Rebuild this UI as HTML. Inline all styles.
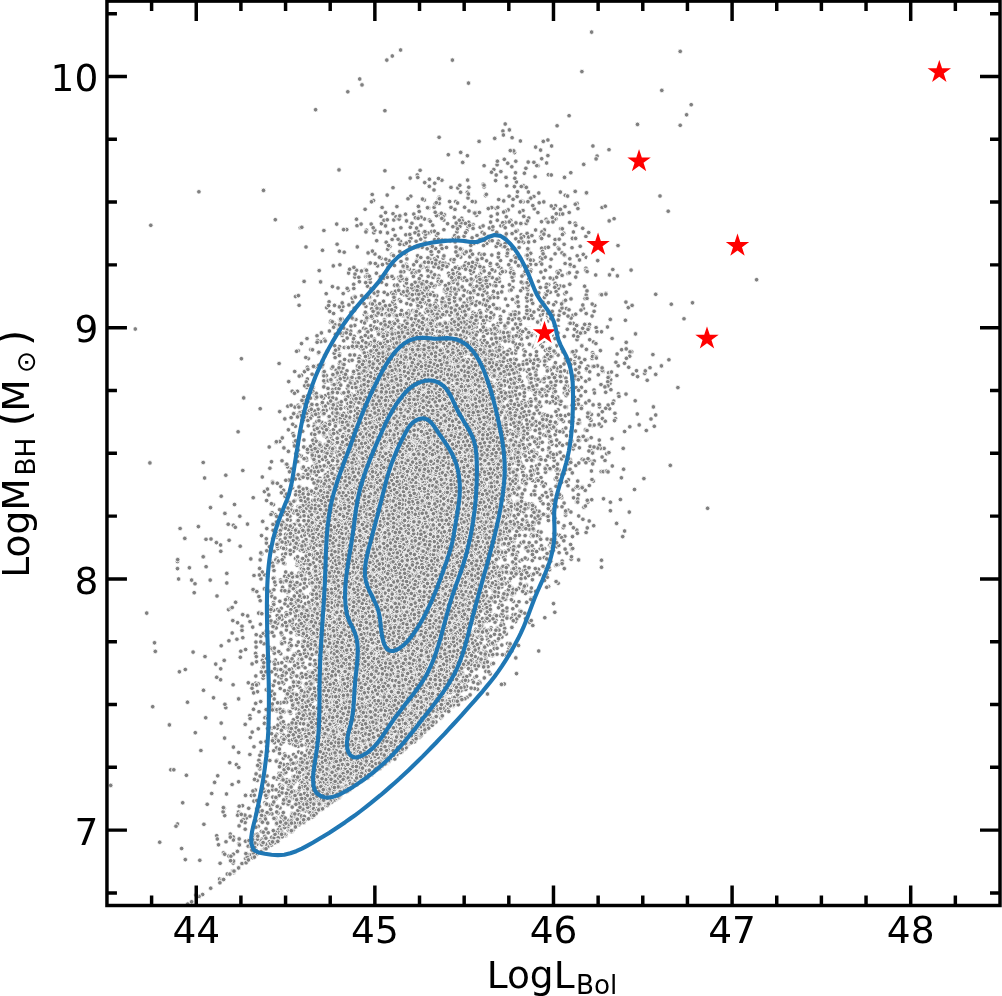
<!DOCTYPE html>
<html lang="en"><head><meta charset="utf-8"><title>LogM_BH vs LogL_Bol</title>
<style>html,body{margin:0;padding:0;background:#fff;overflow:hidden}body{width:1002px;height:996px;position:relative}</style></head>
<body>
<svg width="1002" height="996" viewBox="0 0 1002 996" style="display:block;position:absolute;left:0;top:0">
<rect width="1002" height="996" fill="#fff"/>
<defs><clipPath id="ax"><rect x="106.95" y="1.10" width="893.05" height="904.40"/></clipPath></defs>
<g clip-path="url(#ax)">
<defs><marker id="d" markerWidth="80" markerHeight="80" refX="4" refY="4" markerUnits="userSpaceOnUse" viewBox="0 0 8 8"><circle cx="4" cy="4" r="2.3" fill="#808080" stroke="#fff" stroke-width="0.8"/></marker></defs><polyline transform="scale(0.1)" fill="none" stroke="none" marker-start="url(#d)" marker-mid="url(#d)" marker-end="url(#d)" points="3864,4451 3344,6866 3292,4927 4614,4989 4228,4239 4726,5603 4878,4547 3853,5815 4655,5728 5534,5033 3823,6240 3720,4111 4154,3984 4526,3975 4314,5529 4006,500 4072,4520 4396,6551 3463,6936 3220,6936 4639,3305 4434,5640 3034,4749 3254,7321 3003,2277 3664,5929 4535,6125 4828,5123 4069,4536 3759,5721 3094,7260 6015,5602 4331,5715 3787,3772 4838,6484 3295,6551 3369,4800 4991,3451 5147,4364 4229,7232 4232,4659 3577,5606 4178,4419 3423,5296 4967,4262 4241,5827 3256,7059 5941,3113 3221,6984 4311,4545 4608,4263 4019,5156 3658,7732 4673,4187 3917,6505 3857,4377 3660,6941 4285,4021 4059,3623 3882,7129 2954,4625 3195,6406 4839,5828 3701,4704 4036,5263 3188,4169 3419,7187 4532,4792 4067,3638 4536,4406 4539,5655 4708,4574 3637,3941 4645,3036 3308,5462 5991,4247 3924,4636 4058,7361 3701,7488 3875,4915 2922,8150 4296,4233 3461,5845 3555,6719 5007,4865 3651,4967 4782,6227 3509,6830 3642,6816 4694,5825 3125,6722 4285,3075 4880,3871 4208,4914 4152,6445 4806,3864 4153,5143 3694,6075 4210,4235 4319,3930 3187,7915 3737,5379 3480,7650 4265,5152 3141,7217 3383,5128 5098,4147 3975,6293 5029,3829 4493,4219 5052,4767 4657,4167 3675,6189 3697,4831 3717,4990 4123,5966 4413,3871 3206,7014 5057,2463 5235,5423 2940,7636 3487,5295 3540,6664 4339,6784 4165,5137 6169,3755 5281,2375 4405,6592 4441,4469 6090,1497 4261,5587 3768,5609 5198,5293 3072,6261 3813,4485 4740,4393 3763,6645 3719,7592 3272,3513 3702,6149 4417,3657 3284,7143 3844,3199 4415,6156 4023,6805 3934,5374 4400,5042 3736,6277 4293,1864 4668,4432 4179,5661 3887,5669 3196,5852 4317,7185 3678,4965 3982,6634 3663,7764 4087,5132 3634,6956 4584,4344 3896,4995 3957,6765 3962,4444 4011,6547 3993,4313 5289,4144 5934,4810 3767,4564 3809,5348 3527,4909 3638,6575 3266,5577 4185,6689 4840,3642 5131,4878 4627,5082 3335,6000 5037,5143 4218,5917 4428,5029 3725,7226 3445,5396 4639,5779 4901,5602 5381,1658 3374,7908 4713,2735 4732,4560 4451,3831 4823,4728 4468,6143 4011,4797 4791,4005 3797,6875 3558,5006 3341,3231 2905,7640 3883,6884 3623,7363 3685,6132 4361,6427 4776,5372 3817,6851 4230,6326 3796,6627 4483,3595 4936,5708 3755,5383 4031,5269 4256,3116 3582,7544 4017,3654 3711,5343 4353,5143 3854,5561 4635,4154 5839,5072 5070,6165 4050,6771 4621,4861 4724,5163 4502,3679 5643,5686 4008,3418 4134,3120 4350,4752 3878,6153 3232,5916 4732,5440 4367,4114 4825,5236 3449,5578 4956,3853 3622,3943 3379,5351 3231,4511 3741,6783 2949,4071 4600,4522 4640,3438 3858,4882 4122,4263 3581,5187 4415,4118 3805,6356 3579,6727 2617,8519 4301,4007 4591,6512 3804,4829 4268,5405 4642,6212 4123,3750 4234,5318 3711,5014 3746,4681 4001,5158 5083,5269 4545,5190 4499,4577 3947,4454 4838,6537 4581,4312 3760,4399 3831,5150 3507,5907 3525,5830 4388,5352 3674,4974 4829,5048 4502,2409 4563,6455 3413,7402 4362,4094 3640,6571 4186,2173 4272,3849 3941,6036 4102,4005 4993,2814 3832,5584 4190,5055 3709,2908 4774,6373 4556,3150 4250,2423 3498,5015 4180,2474 5854,4299 4645,5347 3417,5015 3214,6349 3329,7008 3777,4596 5758,4655 5616,4589 4108,7426 5420,2334 3876,5860 3967,4519 5222,2414 3693,5857 3862,4081 4430,4562 3780,3914 4278,4748 4242,5827 4672,6439 3454,7415 4484,5331 4201,6638 3903,4944 3981,6514 3446,4239 4249,5716 3350,5716 4231,3267 4368,4164 4231,4680 4445,5244 4270,6535 3844,4744 2995,4980 3467,4334 3348,7298 3910,3916 4588,4643 5236,2425 3361,7120 3713,7340 4869,4085 5310,2701 3391,5054 5582,5832 3236,6065 3887,5281 3889,6936 4306,6357 3947,6279 4419,4319 4180,2312 4748,4629 4276,6092 4468,3697 2909,4887 3848,6324 4181,4532 3612,6271 3814,5483 4651,5106 4397,7160 3768,6341 3524,6989 3446,3595 4375,5717 4591,4691 2725,4819 3845,7355 3684,6492 3775,7485 3521,5015 1916,9018 4622,5013 3859,7361 4464,5552 3961,7145 4010,4151 4366,5518 4743,3527 4179,7042 4851,5943 5077,1632 2684,7103 4968,4592 3594,5409 3592,6579 4591,6176 4294,6384 3252,4350 2943,7251 2780,6633 4128,7026 3889,5603 4177,4049 2117,7935 4150,3841 4283,4310 4297,6314 3801,5478 5122,5284 3757,5387 5244,1732 3292,6806 4497,4614 3724,3892 3746,6228 4382,3588 3778,7048 4476,4983 3971,4325 3099,5635 4159,4635 4108,5563 3767,6650 3388,7520 3739,4688 3119,5366 3697,6876 2728,5668 3992,4567 4314,6404 3349,7398 4222,6319 3198,6203 3092,7353 4815,2694 3772,6639 3272,7506 4057,6536 4197,7016 3439,4926 3660,7427 3476,5448 4570,5825 5206,4424 3808,5330 4089,5815 3801,4294 5558,5654 3924,6932 4168,4249 4002,3733 4416,4361 3995,6031 4746,4744 3936,4611 3365,5135 3694,6492 4338,3573 3852,4662 4075,4175 3276,7492 3652,2699 4424,6623 5012,4952 3503,5437 4205,6727 5177,5019 3498,7469 3833,6152 4329,4171 3911,7587 3663,5097 4564,6491 4942,4808 4661,5715 4725,6805 3715,7179 4627,3986 3219,6279 3614,6051 5051,2382 3930,6837 3118,7932 4311,5465 2778,5486 3310,6961 3671,5684 3249,4833 3479,7454 2797,4415 3498,5672 3608,6228 3894,6690 3393,6547 3438,7488 4690,4923 4725,5204 5534,5502 3982,5046 3713,3029 3773,4393 3814,5099 5341,5240 3043,4041 3785,7098 3440,5481 3426,7439 5383,4806 3717,6151 3864,4766 3461,7416 4971,5093 3815,6810 4501,4121 3711,7338 5048,6105 4215,4613 4870,5250 5291,2545 3455,7625 2420,6262 4011,3431 4522,5275 4632,5437 3718,5113 3414,5158 4120,3990 4038,5411 3973,4586 3136,4439 3442,6333 3590,5568 3743,6407 4160,6540 3480,4404 5421,4843 4827,4275 4307,6029 3869,4907 3591,4652 3221,7662 3702,6764 4436,4753 3598,6064 5186,4237 3628,3773 3274,7049 3632,6908 3792,6654 3615,6758 3554,6285 3638,5325 5846,2862 3901,6866 3719,7090 3496,6287 4243,3256 3390,4319 3803,7364 3879,5006 5283,4450 3616,4707 3370,7837 3397,4037 4098,6234 3388,4356 3093,6859 3938,2200 3899,3623 3888,7049 3184,7342 4190,6447 4540,5451 3684,7474 4061,5283 5548,3858 3834,7108 4150,2328 3831,5395 3919,6332 3259,6811 3283,6437 4871,4932 3501,4822 5469,5751 4726,5853 4417,5291 3612,4933 4110,5972 3235,7401 4412,4542 4367,3631 4315,5342 3841,6065 4862,6049 3308,6475 3714,6090 5000,5253 3952,3235 4316,4532 4410,6600 3746,6591 4746,5201 4603,5330 4753,4565 3924,4792 4200,4080 3125,4577 3413,5155 4499,6849 4128,5250 4328,4145 4994,4397 2618,5539 4344,5565 3766,4631 4829,5116 3520,7452 3586,5920 3526,7585 2922,7965 3942,3583 4739,3400 3220,6403 4148,4872 2624,6603 3518,5561 4329,6108 4610,3357 4237,4449 4073,5320 5020,3479 4227,6837 3750,6689 4660,5939 3052,8055 4515,4178 3232,5858 5311,5984 3890,5641 4449,7047 3956,4544 4832,4319 4390,6450 4268,4787 4214,6766 4536,5354 4495,6810 3708,6281 3390,7316 4353,5312 3885,4985 4437,6467 4820,4688 4552,5088 3930,2137 2754,6600 4275,4332 4112,5587 4506,5847 3434,7673 4367,3653 3421,5211 4349,4519 4913,4401 4388,2759 4510,4385 3774,5228 4212,4295 4970,3837 5520,3565 2989,6589 4149,5680 5058,4327 3832,4582 4617,6007 4640,4793 4471,3882 2207,6688 4806,4091 3962,4903 3818,3803 5486,5866 4247,6407 4905,4320 4147,5068 2800,8079 3809,4649 4005,6241 4399,3132 4483,5780 3546,5700 4274,5819 3796,3479 4101,6738 4346,5338 4630,3693 2816,5476 3650,4904 3978,3867 3883,4302 5910,4204 3843,6287 4259,3551 3843,6519 4407,4752 3914,6610 3279,5704 3298,7229 4455,6840 3450,7620 3914,4661 4464,5144 4110,5144 5077,4784 3563,7411 3531,5380 3676,3629 3056,6343 3901,4698 4735,6040 3514,3130 4252,6530 5135,5475 5070,5085 3853,4734 4735,4297 3925,3775 4491,6505 3884,5215 3379,7663 4171,5296 3676,5676 3008,5099 4442,4714 4691,3085 3844,5248 3138,5632 4098,4093 5083,3225 3599,7416 4445,5701 4599,5678 3364,5464 4753,4302 3692,4552 4152,3768 4738,3435 3638,6620 3856,6605 3611,4956 4331,5745 4589,5911 4638,3686 2332,8631 3760,6029 3676,6839 4232,4748 5705,3600 4372,4196 4661,4780 4977,6403 3187,6081 3316,4667 4196,6419 3712,4807 3426,6157 3585,6102 3777,4263 5385,5693 4051,5516 4715,3811 4409,5719 2832,7102 4950,5721 3871,6176 3835,5990 5599,2142 3865,4031 4087,5031 3634,4297 3224,7672 4728,5102 3938,4247 3640,5942 5036,4955 4081,5930 3267,5329 3557,7238 3997,4231 5298,4776 4168,7226 4864,6032 4333,4493 4006,4251 3611,5238 4890,4684 3670,6938 4383,6149 4398,4195 3084,4688 5282,1621 4535,5573 4834,3390 3652,4583 4201,5535 4607,4920 3577,7336 4540,4008 3595,6389 3514,6390 3322,6454 5368,4530 4639,4115 3776,4842 3693,7062 3890,6892 4426,4366 5822,4593 4270,6909 3411,6473 3581,5417 4212,3959 3488,5846 4399,5068 4014,5319 3053,5248 4807,6038 5339,5499 4528,4066 3044,5744 4826,5855 4548,4563 4384,2783 3062,7179 3921,7162 5285,4062 4264,4547 3970,7200 3633,7503 4251,4951 4371,5094 4795,4517 3988,5309 4754,4508 4277,5265 3750,6037 4686,6327 3604,6335 4257,6957 4429,5466 4184,4896 3101,7887 4144,7329 4237,3994 4115,5870 3454,7708 3868,6542 3917,2543 4781,5622 2692,4470 3938,6425 4533,6914 4026,5687 3566,3789 3111,6406 3459,4689 3874,6062 4805,5055 3808,4429 4013,3855 3548,7390 3618,4889 4321,6374 5427,4280 4343,5514 4546,6692 3300,6298 4407,4196 3987,6644 3930,1877 4534,5220 3668,5890 3128,4664 3845,3217 4035,4587 3070,6830 4949,5643 3422,5130 3470,5061 3915,5648 4031,6376 4021,5991 3283,7023 4948,3933 3911,6259 3490,4601 3403,4656 4041,6658 4975,4060 4624,4898 3003,5063 3596,7495 4616,4922 4744,3495 3921,4231 4212,4764 3612,7638 3294,6669 4183,6797 2964,7260 4063,6147 3778,6768 4154,5535 3642,6756 2713,6956 4482,3681 4392,4073 3873,3878 3462,6158 4555,2774 3799,6935 4280,6307 4012,5195 4975,5811 3767,5512 3755,5696 3297,5925 4524,6516 4496,4204 3856,5762 4388,3536 3920,3913 3370,5115 3506,6805 4112,5125 3779,5330 4040,6492 4678,5313 3640,5072 4243,3833 4485,5192 4492,5782 2680,8464 5282,3877 4331,5339 4304,5106 4583,5990 3742,6784 3669,4053 4582,2545 5051,2436 5522,4563 5096,4829 4501,3955 4679,4734 4558,5891 3997,4592 4081,6082 4241,4473 3698,6650 3180,7936 4735,4021 4333,4716 5356,5914 4395,4020 3969,6889 3204,4266 2897,5025 3111,4065 3441,7444 4698,5215 3560,5331 4262,6733 4111,6585 4314,4714 5185,6455 3947,4655 3686,4743 4162,5653 5069,4929 4496,2015 3566,7251 3609,6368 3641,6819 4275,4356 2701,7082 4463,5324 6283,3076 2857,7264 3330,5783 4830,3042 3636,5554 5862,2950 3518,5681 4002,5496 4312,6329 4118,3726 3597,6462 2894,8254 5091,4326 3917,7417 3517,5240 4084,3388 2910,5817 4063,3776 2914,8205 3355,5200 2613,7521 4343,6246 5961,3276 4549,3683 4384,4966 4768,5000 3970,5496 2035,5567 3793,3771 4446,5592 2657,8207 4800,3484 4203,5314 3356,5511 4597,5920 4116,6062 4336,6931 3511,4758 3975,5990 4201,4972 3440,7887 3828,7463 4400,5297 2849,6581 3585,4955 3695,4328 4979,3259 4985,4828 3144,6151 3113,7425 4853,3431 4633,5148 5243,4770 3240,7195 3414,7370 3687,5586 4512,3987 3824,5920 3669,6133 4563,3206 3956,4974 4490,5597 4199,7315 3882,3986 3968,6062 4293,3118 2768,7109 3800,5497 4991,4263 4540,5007 4328,4060 4383,2792 4459,4127 4476,4038 4027,3531 4419,5205 3465,5726 4468,6449 3793,4826 4044,5054 4299,3558 2557,6832 3585,5875 3558,7298 4686,3529 4339,4346 3683,6130 3894,7025 3811,4485 4301,6659 3624,6019 3533,3419 5496,5452 4499,7041 4131,6194 3846,6040 3972,5944 3027,7196 4259,6933 3514,5676 2993,4920 3556,7420 3667,7353 3385,7404 3617,4427 3400,5880 3617,7323 3892,7053 3522,5970 3773,5076 3852,5189 3504,7639 3204,5283 3695,3519 4438,6374 3878,6598 3880,4808 2644,5748 3659,4974 5285,5684 4087,5382 2724,6850 3753,6842 4320,5401 4939,5642 4517,5839 3366,5897 4003,6252 4915,3866 5313,5362 4509,2912 4017,7303 4939,4424 4555,4485 3946,6395 4805,4380 3250,4837 2783,7191 4816,3439 3912,6257 2798,6013 3757,5726 3571,4545 2792,7734 3933,6557 4451,5064 3982,4778 3851,4232 3795,4521 3770,3213 4164,4785 4678,6529 4240,3460 4168,5356 3918,3104 3824,5403 4091,5421 4292,6340 3231,3632 3918,6680 3328,3896 4061,3850 4333,5781 3487,6749 3854,4582 4915,4082 3535,7540 3994,3587 3470,6343 3799,5223 4376,5731 3695,7315 3685,4452 4396,5013 4512,4802 4670,3426 3239,7962 3895,5682 4040,5547 2607,7016 3348,6773 3321,5239 4131,6348 4437,4798 4180,6440 3210,8013 3559,7478 3817,6533 4171,4836 4157,3676 4344,2665 3506,6285 3885,7084 4655,4724 4554,3304 3139,7569 4045,7080 4320,4305 4383,6137 4059,5370 4619,3674 5257,4822 3909,4441 3887,6239 3819,3754 3662,4815 3778,5872 3269,6832 3957,5234 3904,6669 3906,3978 4402,5029 3857,6763 3998,5393 3942,3945 2731,5303 3976,4175 3577,4870 3184,3531 4927,4533 4372,5718 4169,4662 4126,5158 4445,5380 4473,3258 3880,3998 3335,7148 5579,4971 3065,3964 3253,5468 4589,4685 4576,6413 4470,4705 3440,6369 3424,6543 4053,6320 4665,3668 4116,6556 2901,6933 4174,5053 4049,6271 3961,4488 3920,4652 3807,6991 3995,6344 4311,4764 4949,5108 4337,6244 4391,4306 5897,4183 1775,5615 3321,4916 4625,4117 4451,5319 3411,6714 4101,4571 4241,6038 3889,6871 4538,6204 5085,6436 4622,3651 3290,6468 3922,7121 3115,8162 4050,4025 3062,7237 3141,7888 4562,4103 3451,3802 4911,6278 3882,7221 3716,4866 3415,4417 4084,4389 4351,5410 4473,6023 3706,6953 3879,4912 3072,8004 2857,5343 4177,6655 3937,5406 3818,7184 4087,4814 4419,5275 4652,5629 4623,6088 4128,5002 3448,4745 4611,3895 3818,5599 3366,5261 4500,3229 6099,3836 4611,6212 4265,5398 6128,2695 4447,5313 3782,6507 4586,2876 4015,5880 3029,7383 4706,3041 3954,3650 3555,6448 4770,4933 4402,4594 3735,7441 4738,3171 3844,6069 3909,6107 3388,5158 3798,4576 4320,5265 4143,6579 4927,4030 2986,6604 4542,4276 3699,7549 3963,3752 3965,4078 4504,6777 3651,6447 3304,7938 4578,6118 3833,6952 3868,7245 4866,5481 4339,6335 3927,4557 3757,4782 4073,4501 4131,7354 4139,6182 4346,4268 3236,5818 3267,6774 4471,4448 5032,3656 4033,4361 3887,5879 4210,6454 3765,6815 4045,5266 3250,4654 4813,4232 3285,7837 3265,7162 4778,4541 3166,6316 3423,4580 4510,6345 3450,6897 3661,5969 4916,4713 4200,5993 3834,7225 5003,5710 3495,6702 4217,4262 3605,7775 3782,6274 4327,6229 4694,5353 3253,6699 4341,2761 4603,5292 4401,5415 4167,5394 4689,5002 3134,6248 3904,7059 6355,3339 4348,6701 4188,6986 4245,7157 4024,5499 3644,5313 6024,4186 3330,7173 4365,5093 3104,8099 5893,4855 3844,6068 3949,3988 3962,3745 4209,4788 3412,5895 3757,6008 4518,6402 4123,4051 6123,4660 4155,7061 4384,3599 3929,6237 3781,6295 4864,6001 4939,4253 3312,5965 4231,7297 3510,7466 3250,7176 4648,4438 3584,4896 2796,8268 3131,8068 3505,6301 3783,5808 4714,3170 3491,7441 5766,5019 4125,5153 3735,2006 3809,5030 4320,5925 3726,5391 4454,5434 3551,5886 3396,6387 3551,6695 5439,3818 3371,5822 3508,4867 4115,5649 3677,6601 3779,5331 3623,7105 3418,3102 4727,2871 4117,5178 3486,5489 4301,6671 4578,3686 3547,5579 3671,7009 4191,7375 4751,3503 3896,4280 4519,5590 3867,6550 3598,4787 4268,6372 3752,5482 4068,6866 4871,3823 3523,5910 3911,4613 3901,6430 3616,6325 4479,6898 3621,5163 4152,7302 4377,5346 4415,4724 5344,4535 3769,6835 4593,5153 4445,4244 4304,4599 4633,3805 4335,5124 4512,3113 3905,3991 3623,5662 5406,3154 4321,5261 3220,5293 3067,7096 3923,2555 3449,5974 4335,3779 4259,4707 3902,3496 4221,5460 4617,4336 3234,7523 3274,6860 4454,4583 3441,5495 2644,4916 4650,5518 3275,3801 3848,7386 4682,6608 5343,5575 3817,3649 3587,4188 3841,4796 3306,6055 3628,6082 4280,4321 3693,4487 3624,3731 4628,5931 4282,5063 3220,7864 4664,3691 4693,4437 4268,3873 4187,4530 3467,2296 3644,3145 2913,5100 3495,4496 4182,6069 4187,5736 5296,4582 4039,6598 3738,3400 5129,4403 4619,4828 4701,4666 5080,5391 4105,4149 3848,6388 4174,4915 2976,6273 4373,4854 3865,4091 3964,5376 3738,7194 3692,7707 3669,6471 4480,4706 4474,4487 3399,6337 4849,3770 3758,3057 4383,5055 5552,4347 3947,5093 3257,7417 4658,4611 4330,6490 4072,3163 4085,6229 5361,5420 4825,3438 4744,5527 4377,5905 3849,7217 4628,5353 4319,5432 3188,4706 4314,5585 4871,4144 3217,7139 4487,6876 4085,5069 3629,7674 3703,6587 3771,7646 3773,4548 3761,7247 3992,6570 3732,6254 3286,7409 3401,5050 4489,4607 6365,3707 3910,4602 4594,3860 4165,4280 4253,5633 5667,5531 4218,6210 5575,3704 4248,6725 2898,6454 4222,3236 3814,5987 3418,4585 4644,4014 3408,4463 4000,4408 4441,6271 4163,5531 4209,4509 5637,4562 3926,5753 3048,8200 5068,3981 3556,6080 3790,4339 4965,4810 4415,5130 5151,5469 4582,3458 4237,5886 3892,5062 4210,5786 3768,4647 4843,4467 3868,4843 4539,5277 4153,6177 2910,7433 2884,8305 3519,4920 4675,6027 3517,6135 4320,4795 4775,6892 3651,4105 4528,5349 4264,4256 4789,5417 4844,4166 4375,5356 4047,2807 2937,7822 3754,4975 3602,5479 5061,6336 4412,3832 3547,7021 5717,5491 5743,3617 3635,7476 3664,6687 4774,5105 1107,7854 4393,4785 4598,5992 4384,5425 3189,5869 4452,4313 4133,6079 3863,5050 4211,3067 3878,5169 3557,5616 3400,5497 4288,6021 3658,5301 3704,5214 4195,3630 3769,5162 3860,4068 3496,5081 4789,6055 4291,5019 2890,7804 4237,5542 3489,5682 3107,6400 4343,5399 1353,3290 2563,8141 3831,7468 4962,5898 3571,5000 2968,7681 4664,5759 3803,4658 4510,4849 4494,5234 3663,6364 3981,5016 4327,5249 3616,4424 3089,6177 3961,6224 4998,3753 3327,4920 4373,5238 3806,6209 4344,5080 4578,1880 4258,5829 4118,6403 4621,5358 5210,4423 5859,2682 3782,5561 4566,6548 4007,3445 3413,7084 4631,6665 3869,6990 3942,6052 4511,6130 3160,7145 4503,4954 4501,5208 5653,1953 4389,4193 4058,5474 4479,3970 5529,4537 3421,6519 4572,4965 4055,4409 4685,5022 3755,6438 3838,2782 4966,4165 4088,5061 4209,6532 4615,3764 4328,4622 4290,5597 3816,6174 3947,5699 5158,6579 4544,2914 4973,5351 4749,5738 4395,3350 3911,5753 3638,7103 5430,3023 4044,6297 4254,4198 3027,4312 4443,7018 4405,6164 4453,4803 4854,3653 3154,4935 4069,4613 4243,4055 4402,5701 3431,6503 3552,4941 2886,5121 4599,5586 5197,4954 3836,6259 4344,5547 4682,4226 3968,4058 3649,7421 3872,5194 4864,4510 5113,4800 4168,5990 4894,5116 3530,6797 4672,4832 3598,7385 5181,4286 3177,6663 4499,5239 3976,3984 4501,6486 5581,4532 3025,5421 3991,3875 3896,6241 2775,6095 4580,4230 3864,6639 4306,6494 3722,5368 3679,7655 4066,3871 3820,7416 2880,8044 2947,3715 2398,5162 2905,7133 4193,5044 3490,4173 4173,3412 4456,6185 3956,5693 3949,4570 2575,6917 3777,4728 4567,3775 4105,3983 3252,6692 5501,4258 5211,5786 3787,4683 4130,7413 3594,5054 3552,7164 4010,6176 3903,6190 4123,7408 4396,5573 5530,2789 5066,4153 3797,5098 3627,6272 4014,7090 4343,4907 4236,7129 3751,6573 3761,5963 4666,5404 4124,5645 4005,5873 4815,3534 3179,7061 4797,4436 4263,4990 5602,2861 3650,7421 3786,7628 4765,2152 4409,7181 3626,5084 3799,5503 4293,5851 3554,7372 3235,3725 4076,5722 3175,5151 4497,5289 5617,4745 2904,5997 3923,3651 3291,3018 3841,7388 4278,6251 3891,4514 4567,6187 3532,7181 4589,6637 3968,4563 3518,6757 4570,6552 3543,7279 3923,4009 4208,7305 4279,6654 3180,7879 3585,5225 4972,6278 4343,6384 3520,4757 4262,5034 3805,6231 4433,6056 3290,5417 4218,6186 4044,6482 3805,5888 3489,7302 4679,4791 4685,4180 4856,2846 4716,3693 3697,6252 3789,7329 4870,5431 4536,4970 4577,5310 3650,5450 4730,3022 3273,5758 3686,7088 4423,5267 3893,6972 4367,6504 4289,6105 3170,7173 4191,5361 4321,4578 5077,5729 4249,2926 5193,5353 3287,7407 3221,4123 4240,6033 3874,7187 3380,5544 3138,5115 4760,5288 4155,5347 3581,4774 3641,6292 4032,4344 3440,5715 4179,5646 3313,7707 3282,7861 1931,6521 4724,2651 3939,6686 4379,3372 2878,4062 3578,7539 2858,5812 4840,3858 3409,5131 5024,6205 4367,6680 6030,3714 4659,3750 4290,3748 4100,6872 4437,5170 3847,6621 4462,5811 3744,4763 4850,6013 4934,4651 4501,3358 3998,4148 4804,5197 3593,6424 2793,8207 4219,6522 3676,5938 4449,4668 4444,4044 3825,6193 5507,3850 5027,5529 3544,4685 3305,3222 4842,3204 4423,5531 4040,5331 4019,3898 3930,6634 3456,7169 4519,4869 3903,4162 3735,6424 3014,6277 4177,3820 3591,5636 3758,4367 5651,2635 3858,6791 5101,5253 3541,6223 3641,5780 2338,8726 3333,5128 3336,5170 3535,6831 3317,3682 2551,8561 2805,8210 3777,4549 5328,4606 5021,4075 4131,6561 5245,4468 3600,6229 3223,6802 3364,5214 3627,7667 5473,5773 3865,4105 4341,2074 4312,6009 3878,5318 3886,4992 4654,4396 3437,7823 4902,2656 4112,6228 4822,3560 3750,6125 3520,4788 4769,4277 4179,3392 4642,5480 4186,4482 4065,3696 3418,4419 3358,4517 3470,5722 3605,5639 3474,4500 4473,5001 3573,5377 4404,5608 4638,6668 3939,5829 3935,4792 4588,6304 3521,5595 4021,6040 4088,7233 3974,4416 4622,2673 4422,5928 3081,6938 3093,5293 3645,5222 4285,4730 2623,4770 4266,6539 3497,7671 3409,4545 4202,7238 2747,6811 3889,6535 4049,5496 3543,6442 3513,7221 4745,3745 4992,5790 3573,6708 4226,6666 2627,5214 4165,5276 4260,3567 4456,3901 3843,5250 4269,5497 4372,6071 4550,4015 6086,3728 4511,5747 4272,6758 3207,6887 3954,6787 4564,3770 5231,2018 2989,7096 3367,6387 2946,7204 4299,4878 4290,4958 4906,4081 3569,5008 4592,6141 3788,5076 3490,7329 4317,4251 5573,4155 4321,6235 3973,5791 4060,6596 4779,3905 4184,5934 5056,4292 4349,4069 4160,5086 3856,4268 3291,7071 4907,3498 4707,4315 3469,5903 5737,3358 5164,4629 3895,5252 2829,5146 3465,6269 4475,5138 5710,4463 3460,4950 3885,3911 3750,5999 4385,6202 4503,5134 3836,5889 3539,4429 3647,7561 3923,5816 3678,4757 3604,5939 3318,6039 3779,7291 3928,7548 3045,5698 3608,6782 4841,6464 4104,7282 3256,7675 4011,4645 5484,5205 3360,7669 3805,6177 4457,3478 4802,2893 4480,4299 3684,6101 2897,5832 3453,4819 4448,5118 4467,4053 4340,5512 4241,5518 4696,5531 4949,3849 3659,3065 4579,5673 4511,5019 3984,3801 3779,5938 3284,4842 4182,5343 4337,4282 1942,5927 5590,3154 3916,6005 4346,6882 4008,6946 3296,7830 4145,4243 3877,4966 4565,3647 4524,7025 4408,6586 4183,5561 3466,6709 4103,5381 4516,4637 4576,3971 4234,4336 4131,5324 3357,7995 4324,4164 4572,4769 3468,5282 4275,5411 3368,5616 4290,4118 4034,7056 4007,5816 4019,3523 3814,6927 3464,6139 3310,7965 4163,6289 4515,2881 3145,4241 4713,5564 4508,6105 4476,4356 5060,4305 4590,4826 4409,4864 5042,3606 4354,5399 2268,5830 3193,6722 5438,4349 4493,3265 4006,6009 3013,5659 2920,7972 4674,4477 5131,1993 4474,5585 2787,7186 4499,6218 3699,6491 3916,5592 2669,7464 3034,8209 3383,5695 4121,6560 4186,6975 3645,5679 3587,6394 3962,6178 4800,5748 3687,5599 5025,5188 4449,5171 4652,4122 3908,5150 3659,5632 3663,7543 4193,4091 4250,3840 3615,7511 4182,5622 5446,3049 4759,5006 4681,5102 4772,5374 4363,5537 4889,6042 3968,3716 3685,7086 4222,3847 3252,7568 4746,6886 3704,3933 4152,5565 3427,4589 4008,3828 3381,6090 2338,8385 4950,4014 3757,3764 4585,5844 3548,4819 3656,5131 3746,6925 3287,5598 3072,6129 5145,1526 5582,3200 4276,5496 3444,6110 3330,6751 3807,4850 3271,5477 4150,7222 4665,4889 3316,7506 4265,6323 4441,3705 2816,6424 4204,5648 4377,6307 3833,5477 3914,4605 3920,7258 3360,7772 3654,5395 4071,5854 4433,4464 6232,4484 3339,5680 3528,6969 4633,5240 4400,7119 4500,5372 4605,5034 3137,7184 3755,5110 3832,6100 3133,7957 3573,6050 4398,5670 5281,2503 4829,5529 4526,4549 3499,7494 3649,6372 5861,5325 2970,5764 3672,6506 4247,3882 4338,6627 3265,7919 3880,4755 3760,4345 4457,3729 3591,5835 3034,6255 4792,5447 3786,3712 4167,6354 3734,7270 3893,5417 4044,6013 4442,4379 4062,5802 3150,4509 4732,4584 3840,7522 4877,6450 3113,7444 3173,7163 3431,4484 4697,4166 3390,6604 4770,3938 4647,4893 3587,5538 3632,4632 4487,4747 4630,4698 5379,3904 3772,2951 2533,5904 2929,5835 5083,5329 3131,3921 4287,5972 3688,6560 4586,6761 4511,5701 3681,2529 3927,5925 4501,2951 5239,4297 4215,2647 1998,8603 3404,5695 4381,5213 3254,4106 2918,6892 4400,6311 4240,5542 5511,4400 4891,4706 4621,4428 3745,5483 3219,4037 2922,7018 5072,4710 3512,5182 4072,3938 4329,5154 3441,6438 3735,5455 4665,5552 3014,4158 3157,7162 3428,4421 3666,6947 4655,5826 4890,5668 3971,6270 3867,7429 3954,5800 3930,6083 3984,4554 4387,6167 3492,6120 3662,5270 4677,6533 3836,7498 4785,5878 4326,6532 4554,5169 3663,4809 4447,4124 3175,7514 4139,7163 4776,2425 4160,5029 3565,7105 3834,5121 4714,4202 4187,3147 4461,4896 3297,7171 4422,4526 3911,5640 3904,6134 4810,5313 3631,6451 3379,5336 4650,4802 4094,6883 3127,7581 4761,6211 4362,4917 3528,7559 4744,4222 5855,3915 3369,5881 4991,4884 3980,6997 3785,6910 4239,4536 2952,7792 2659,8441 3590,5829 5184,3812 4297,4658 4031,3576 4439,4319 3351,3249 4177,5400 3830,7043 2631,8435 2982,4052 3892,6335 3883,5124 4621,3206 3225,5716 4707,3751 3029,8160 3556,5986 3477,5820 4020,6426 2303,8341 4207,5217 4489,5384 3572,5164 4623,5137 3704,6005 4551,5612 3205,5077 4720,6447 4049,4527 3450,6901 3434,4596 5794,4478 4268,5105 4406,4034 4114,5939 3309,7690 4387,4102 2877,6155 4651,2645 4341,4813 5585,4029 3457,5303 4981,5583 3873,6012 3852,6207 3409,5931 3372,6024 3343,6387 3814,7461 4594,5737 3938,4287 4243,6611 4282,4354 4956,4233 4250,4871 3384,5560 4970,4789 3901,3610 3767,4905 3140,4124 4762,3914 4939,6162 4203,5705 4418,4595 4822,4878 3511,6158 4078,5378 4210,7111 4532,4744 2899,8302 2567,8542 4750,5240 4042,4156 4518,6782 4837,3184 3905,5757 3726,7042 3947,6061 4137,4078 4348,6594 4977,4956 3561,7543 4255,3475 3817,4549 4868,3606 4502,6506 2389,8438 5108,5486 3977,6442 3831,7358 4417,3852 3518,6811 4429,5927 3667,5836 4668,4754 3705,7124 3598,6594 3295,6352 5230,5105 3595,4715 3995,6410 3927,6854 3562,4921 3366,7672 3475,7235 4529,3337 3704,6498 4132,3361 3795,5158 4001,5187 4331,5882 4215,6693 5721,3793 2976,7415 4161,6964 4469,4532 4607,5472 3681,7481 4988,3782 5186,4571 4580,4677 4315,6995 4714,4489 5273,5921 3308,5180 4506,4443 4356,3614 3324,7507 3451,5718 4255,6063 3457,4790 4050,4933 3453,5566 3274,5231 3260,6517 3423,7299 3358,5781 3982,6549 3918,6068 3706,7591 4076,6704 3123,6386 5200,6109 3915,6551 3653,4372 3089,7704 5656,5152 3499,7181 3633,5601 4107,6493 3908,4539 3740,7361 3801,3582 3171,6168 3882,4436 5827,3283 3645,4377 4367,2959 3881,6443 4408,4611 4108,5688 4027,4092 4744,4080 3549,5926 3645,6744 4086,3920 4153,5536 3787,7179 4061,2643 3983,5665 4420,5825 5802,2463 5212,2348 3712,4035 3316,6462 4202,7222 4254,3715 4053,5196 4105,7015 3556,6761 3858,6255 4634,5780 4640,4655 3232,7930 4753,3700 4763,5341 4982,3236 4680,6563 4144,5008 3209,7150 4304,4605 2962,5293 4272,6323 4113,4416 4948,4348 3881,6209 4797,4594 4121,3347 2846,6907 2901,5991 4481,3768 4034,5542 4078,3925 3051,7905 5603,4042 4174,6003 3725,6716 4345,4160 3968,4950 4419,6903 3709,5977 4316,4030 4897,5226 4528,6398 3903,4349 3222,6405 3041,7065 4535,4915 3308,6851 3019,5362 3769,5049 4113,5759 3963,7499 4276,2961 4870,3544 4322,5110 4630,3808 3766,6583 4321,4103 4257,5248 5124,5914 3786,4758 4359,4348 3955,5041 3470,6918 2876,4669 4904,5380 3778,3802 4080,3942 4657,5721 3243,6210 3962,5284 4323,5103 4370,4515 4027,6696 4233,4079 4453,6316 3033,6906 5055,4717 4210,3950 4894,4488 5304,2644 3719,6878 4876,3711 4944,3930 3574,5845 3806,5094 3506,6637 4547,5162 4071,3283 3299,5408 5123,5694 3633,4850 2583,7288 4086,5923 3898,7043 3808,6422 4331,5899 3682,4474 4161,4964 4175,5136 4276,5944 4580,2752 3855,5826 4915,3865 3970,5957 4560,6064 5209,2241 3686,7417 5379,4053 3717,4230 3993,5263 2791,5341 5009,3788 3129,5204 4136,5665 4150,6598 3639,7582 3690,7392 4282,4106 3063,5866 4389,4384 3808,3675 4426,5775 4104,5765 3502,4931 3908,3814 4174,4299 4603,4557 4214,6311 4303,6982 4589,5154 3718,4969 4087,5265 4067,4367 3618,6940 3664,5099 5539,3905 4763,5144 4407,3629 3956,5096 4626,6750 3656,7769 3138,6978 3796,6413 3186,7614 4373,5696 3920,4708 4160,7194 4302,6558 3794,5467 4893,6550 3978,4481 6023,3705 3949,5518 2768,7790 2943,5459 4548,5797 4209,4887 3742,6863 3390,6558 4105,4603 3646,7265 4666,4708 3108,7689 3531,5591 4708,5195 3664,5391 2386,7818 3880,5025 4752,6672 3972,4019 5787,4374 3318,7519 4042,6482 4583,4932 4063,5771 2489,8584 4427,4844 4062,2869 4017,4429 3758,4037 3968,6367 3724,6031 4471,5197 3995,3251 3002,5501 3401,5949 3551,4590 4040,7256 3899,4898 3518,7662 3456,5947 3941,7012 3375,4391 3776,6721 3234,5402 3533,7147 3624,6091 4258,6816 3835,5438 3478,7494 4287,6530 3645,3770 2847,5637 2672,7833 3952,6196 4253,6400 3875,4126 4047,5459 2879,6060 4775,6145 4326,4283 4123,5720 3879,6189 4617,6094 3209,3416 3385,3293 4287,5002 4929,4618 3713,4166 4674,5452 2623,5720 3402,7550 4270,3619 3687,6506 4741,6354 4813,4368 3685,4726 4611,5227 3992,6128 3268,7557 4480,7090 3978,5126 4378,5271 5105,4630 4051,5932 2807,6537 3893,5997 3955,6748 4286,6065 3897,5307 3499,5232 4560,5833 3582,6415 3601,4261 4474,5239 4189,3818 4829,3381 3680,4680 5870,4305 4668,5084 3573,6234 3405,7915 4040,4279 4309,5797 4213,5118 4493,6437 3882,5561 4145,6465 4167,5510 4088,5582 4691,4696 4635,5471 4373,7132 4367,4068 3992,5035 4002,5877 3768,4041 4058,6921 4299,3907 3681,6078 4733,3780 4937,6165 3919,3731 3134,5532 3588,5646 4313,6614 4838,4338 3796,3666 4126,6135 4768,4868 4223,4928 4529,3598 2901,5202 4617,5215 3959,6762 3851,6781 4134,6738 4723,5291 3756,7439 4070,5105 5595,5354 4045,5487 3862,6605 4527,6472 4559,6246 4442,6263 4218,6500 4138,5580 4793,6119 4655,4368 4518,3609 3964,5993 3830,5962 4086,7144 3803,7294 4811,4835 3395,7722 3575,6149 4106,6398 3976,4563 4543,4074 4187,4721 5037,5536 4465,5516 3991,6692 4316,4996 4026,4382 3674,6707 3811,4457 4397,5867 3444,6237 3856,7182 4684,4211 4538,4398 4281,5797 4383,4619 3431,7594 3343,7630 3454,6551 3462,5631 4498,3747 3910,4656 4374,3312 4209,2252 4059,3170 4235,4168 3507,7701 3536,6322 5235,2365 4179,4040 3880,5069 4725,4546 3662,4989 2639,6438 3578,7273 4409,3695 4140,5492 4174,4987 3795,4174 3794,3632 4538,6690 4999,6048 5154,4497 4377,4522 3572,7650 3643,4967 3377,4225 4681,4701 4587,5214 3757,6858 3502,4072 4244,2000 4413,6783 2960,8223 3814,5884 4961,5921 3963,7067 3643,7537 3810,4528 4202,6720 3405,4929 4220,6661 2987,7050 3527,6311 4735,5579 4160,5528 4183,4495 4564,6300 4445,6594 4692,5218 3843,4760 3177,6281 5080,2515 4336,5894 3702,3436 4692,3690 4411,5466 5175,4151 3687,4200 3755,7409 4116,7327 3915,6603 3527,5179 3172,7856 3837,4687 4760,4737 3344,7583 3840,4883 3093,3969 4445,3582 4225,4799 2908,6396 5461,4704 5239,5127 4398,4077 4478,5382 3810,4213 4849,5286 4838,4053 3582,4849 3945,5279 4443,6888 3733,7509 4177,5349 3822,5416 3552,4713 3918,7061 5496,4550 3422,6093 2851,7278 4097,4660 3586,7021 2934,7796 4678,3010 4388,6933 4506,6866 4793,3465 4052,4723 4731,4997 3785,5043 3126,6280 3527,6199 4127,6260 4662,4338 3256,5724 3267,4376 4085,7265 4847,5435 4243,5166 3164,6495 3958,6785 3471,4444 3839,6040 4388,6800 3803,7123 4403,2638 3438,5667 4270,5801 4215,6575 3882,2672 3887,5064 3190,7180 3749,2540 4140,4598 4059,4633 4767,3786 3726,4954 3906,5196 4015,6548 3173,4971 3775,4456 5040,4650 4054,6470 3767,5320 3354,7369 3855,4094 4386,4807 4196,3599 4705,4842 4482,5473 4834,3506 4209,6479 4224,4819 4242,6129 4166,3976 4325,6652 3549,6688 4013,6942 5110,2684 4044,4881 3952,6840 4424,3079 3507,6232 3475,7652 4194,6238 4081,5623 4071,7036 3375,6371 4773,4766 3790,4261 3593,6609 2917,7244 3317,7772 4787,6515 3781,4411 3428,6915 3774,5660 2821,5287 3273,7907 4561,4683 3401,6939 4713,5544 3678,7385 3313,7370 3401,6300 5245,4306 3442,7801 3334,7059 4498,4325 5158,4431 4630,4876 3733,4737 4633,5090 4074,6622 4181,6521 4697,3234 4036,6253 3849,5925 3518,6208 4168,5238 3544,6384 3701,4699 3065,6189 3919,6580 3669,7014 3221,5569 4581,3770 4517,6333 4093,6111 3311,6024 4278,6028 3830,5192 4619,6048 3253,4667 4886,3684 3419,6422 4584,6164 3554,7504 4413,3943 4666,4526 3853,3993 3455,7119 4531,7062 4094,2692 3821,5854 3762,7118 5008,5539 5049,5560 3613,5901 4266,5327 3628,6392 3945,3157 3475,6175 3418,5859 4664,5961 3522,7132 4208,6215 3759,6076 4774,4491 4836,5496 3941,6702 4947,4829 3702,6713 5018,5869 3883,7114 3403,7363 4351,3199 4218,4836 3952,6983 4294,4649 5551,2538 4691,4636 4226,4619 5142,4771 4416,4697 3468,7232 3926,3991 4416,5760 3720,5202 4127,5063 4726,5202 3967,3980 3849,5012 3441,6442 3989,4942 4673,5493 3874,6658 3593,7255 3613,4209 3527,3021 4080,5234 4433,5298 4219,4939 3879,7223 5158,1612 4498,5138 4090,5608 4203,3973 3959,5688 4199,6813 4616,5874 3915,5063 4452,6321 3145,5519 3651,4899 4940,5535 3492,6857 3596,4698 3101,6771 4343,6032 3479,7474 4430,6208 4230,2669 3512,4115 4310,3980 3491,7651 4736,4811 4627,6261 4016,4835 4348,4024 4288,4295 3436,6650 2955,8264 4761,4750 4458,4421 4065,4852 4868,4416 5063,6340 2744,8383 4357,3927 3888,5406 4399,5453 3907,6962 4247,6813 4511,4940 4467,4048 3028,8069 3996,4747 4585,4945 4388,4023 4175,4334 3143,7834 4138,6429 4392,4917 4063,4261 3672,5973 4445,5629 3871,3570 3731,6868 3568,7835 4236,7092 3807,5314 4013,6316 3592,7729 3690,5040 3555,4834 4097,6251 3965,6722 4375,3484 3681,7630 4717,4790 4806,6429 4006,4082 4330,6430 4016,5956 2498,8547 3299,4313 4149,4639 4042,6789 4392,1973 4049,6557 3706,5913 4045,6906 3748,3286 4086,6404 4534,6164 4882,6320 4765,5460 4376,4275 3872,4770 2715,5621 3048,6286 4058,2348 3259,4952 4663,6181 4636,4015 4458,4481 3457,5804 4750,4035 3818,6251 3196,5348 4638,5600 4534,4769 3940,4380 4362,5841 3457,5593 4319,4656 3345,4091 3003,6828 3797,5625 4239,5456 4035,3843 3215,5401 5499,5397 5088,2647 3317,7507 4944,5284 3676,6470 3968,7138 4467,4927 4832,4701 4270,7026 3456,7231 3505,5722 4491,5596 3001,5776 4079,4237 4128,7144 3127,6356 3602,5082 4825,6276 3816,4929 4936,5643 4586,4783 3514,3862 3665,2302 2990,6070 5102,4305 3583,5942 3183,6920 3890,7053 4099,4773 3604,7340 3759,4425 4074,6466 3682,4282 3484,7885 4222,7305 3451,5718 4057,7387 4265,4976 5284,2490 3272,6073 3879,4697 3838,7261 4979,3643 3468,5300 4226,5764 4243,4744 4496,6032 4284,3593 3849,4723 4052,6564 4722,3999 4415,7078 4162,4016 3332,7378 3675,2862 6392,4249 4536,5626 3288,7480 4020,4290 4818,5837 5666,4357 3344,6732 5090,6485 5506,3884 4104,5870 4422,6542 4033,5365 3914,6575 3741,5395 5833,3085 4010,3840 6050,4605 5152,4285 3284,4539 4659,4286 3866,4800 4211,4839 2728,7971 5029,5806 4956,5336 4989,3869 3121,3742 3863,6713 4746,5210 3871,6396 3400,6892 4510,6453 4451,4434 3392,4854 4125,6296 3702,7667 3259,7939 3747,7122 5818,3456 4318,5231 4784,5195 3949,6675 3866,6868 4356,4464 3735,4803 5172,5267 3396,3540 4261,4938 4565,4168 3236,5871 4501,5145 4394,4483 3774,5216 4240,4159 4274,5607 4081,4077 4396,6782 4484,3658 3888,4708 5677,3721 3588,6849 4540,4638 3582,7801 4252,4459 2858,8356 4410,6989 4271,5011 4702,3317 3532,4712 3758,6063 4391,6964 4738,3776 3994,5877 3434,6456 3371,6520 4057,2939 3524,5917 3784,3988 3933,7201 3651,4032 3728,3947 4042,4839 4831,4331 4171,4852 5168,3702 3463,5710 6067,4537 4803,4537 4284,4095 3925,5786 3540,6682 4350,3851 4897,5290 2871,7676 4658,2627 4617,3893 4383,4426 3413,7347 3689,4695 3609,7551 4796,3864 3973,7223 4063,3435 4310,4398 3979,5020 4014,3876 4638,4635 3996,5236 4966,4529 4014,3293 3983,4397 4612,4124 5928,4610 4894,4731 3983,5052 3862,4691 4276,3757 4540,5090 3613,7478 4565,4975 4090,6892 3427,4744 3999,7169 4683,4654 3410,5062 3801,5611 4623,4493 3325,4940 3663,3564 4400,5559 4501,5026 4336,5963 3374,4602 3416,5772 4473,6823 3983,4573 3717,5030 4261,7061 4511,4444 4957,4394 3605,7818 3298,4829 3832,4317 4266,7132 4608,5824 3796,5146 4265,6718 4312,4379 6057,2934 3742,5128 3650,4051 4988,3539 4324,4267 4941,4763 4884,3005 4574,4998 4180,4682 3708,5701 3673,7313 4138,4676 3866,4790 4702,5828 3566,6714 3903,4264 4934,4673 3454,4800 3161,5807 3982,4527 4869,3184 3104,5624 4371,6147 4281,6019 3526,3827 4093,5222 4346,3202 3059,5249 4426,4431 4775,4153 4144,4206 4222,5889 3175,7986 5011,4833 3218,7151 4198,6067 3835,5925 4801,6251 4328,6570 4771,3651 5730,3153 4095,4735 3620,5991 4312,4036 2957,7351 4841,2998 3323,5943 4973,3975 2999,4069 4257,5371 5464,4669 3868,601 3461,6047 4626,3738 3540,7713 3897,5168 3416,6844 4067,6289 2942,6042 4363,6067 4006,4579 4656,6200 3149,7195 4338,4816 4415,7111 4180,5724 3820,4958 3641,7659 4605,6562 2741,5777 3870,6399 3905,5925 3670,4275 4595,4439 3736,6307 5439,5672 4211,7023 3448,5785 3819,5689 3868,3764 4072,5084 4593,4382 4170,5859 3199,5635 3991,5499 4097,7013 5895,3244 2836,6836 3345,7178 3628,5533 4034,6934 4852,5455 3512,6044 3375,5131 5567,3995 3004,4963 3554,6921 3133,6241 4792,4511 3518,7873 4473,2968 3640,5784 3853,6084 3184,4423 3575,7428 4162,5241 3923,4267 3746,4233 4803,2868 4283,4062 3156,5100 4937,4992 3223,7831 4420,4765 3776,5226 4070,4837 3780,6636 4308,5117 3666,4485 4535,4340 4681,4193 3576,7000 3452,6867 3994,6571 3740,7186 4654,5707 3526,6059 4604,6129 4562,6823 4899,6056 3900,3653 3935,5400 4289,3839 4033,5126 5676,1961 3890,6067 3892,6654 3680,6164 4638,4051 4218,4600 4057,5910 5278,2488 3446,7837 4805,4884 3852,7256 4404,5326 3691,5670 4611,5609 2953,7327 3780,5427 2943,4423 2752,6267 4091,5853 4108,6206 3225,2503 5188,5236 3705,6096 3270,6103 4374,6057 5198,4529 4153,5471 4653,4564 4179,5636 3403,7958 3141,4263 3866,4386 4881,5129 5306,3992 4001,7455 3223,4860 3413,4012 3344,6107 3450,5040 3826,6500 3276,5587 3867,4281 3927,5800 4123,5571 4427,5403 3467,7374 3624,7804 3454,6376 3305,6427 4160,4495 4645,4601 3640,7627 3740,5646 4921,3181 3494,5487 4158,5744 3946,5796 3982,4637 5058,5360 3284,6217 4402,4153 3669,7687 3728,6542 3911,5128 3382,4726 3542,5955 5222,6128 4673,3753 3735,5771 4036,6835 4003,6339 4151,5029 5365,5130 2792,8378 4202,3934 4297,3103 4445,5563 4070,6740 4040,3415 3825,7515 4808,5433 3823,3958 4640,4657 4283,6001 4461,4494 3350,5671 3946,5663 4253,5607 4474,5293 4305,4098 4735,4312 3897,5828 3582,7602 3906,4988 3863,3958 4128,5910 4317,6784 3276,7742 4748,5323 3402,7096 4321,5646 4066,7247 3735,4615 4487,3317 4445,4131 4603,4953 4026,4892 4456,4634 3810,6604 4384,5777 4452,3782 4689,3855 5115,2703 4858,6581 3781,6908 4835,6072 4194,5052 5399,5583 3669,7274 3589,5833 4041,6508 3670,5380 4146,5885 3563,6037 4683,4841 3186,6402 4642,5829 4033,3912 4320,5199 3337,4977 4829,4176 4275,6014 4575,5710 3980,5727 3546,5730 3437,5617 2880,6251 3896,7317 3626,6541 4755,5310 3903,4214 4260,6758 3873,7223 4068,3036 3133,7940 3698,7610 4217,4358 4435,5124 3776,6325 3608,7770 3262,5025 4910,5351 4564,3531 4086,3889 5454,2478 4224,5409 3934,4041 3848,5555 3971,7376 5655,3588 4588,5930 5111,6469 3924,3874 4229,4692 4739,5111 4058,6305 4170,5216 3851,3790 3918,3380 4105,6821 4598,5884 3616,2715 4129,5338 3609,4681 3981,6931 3606,4170 4018,6484 1894,5678 3926,7488 4730,5158 4965,5425 4552,4462 3241,5384 3596,3563 4317,2734 4247,6619 2258,7077 5443,3578 3235,4555 5643,3930 4441,4339 3985,6718 3446,4265 3218,5261 4616,4021 3939,6011 3826,5101 4537,4138 3148,7280 4573,3800 3993,5501 3991,3718 4951,5099 2711,5615 3607,7496 3594,5530 5176,5523 3957,3349 4395,4636 3970,4343 3590,5063 3776,5215 3539,4751 4294,4251 3363,7040 4005,2160 4189,6312 4814,3535 4780,6169 3934,5686 4782,4980 4762,3270 5176,4751 3946,5874 3533,7017 3473,7402 5770,3397 3798,4864 4639,4553 4340,2667 4188,3309 4254,4946 4877,4561 5350,4813 6689,3598 5385,4227 3337,6380 4492,5178 4980,5512 4792,2538 5123,4087 4140,4883 3595,3887 2879,8266 3905,5775 4421,4825 3999,6408 4141,5464 4018,4199 3538,7594 3395,7478 3066,7345 3313,3800 3421,4537 3380,6330 3236,6905 3737,5738 4176,4244 5277,4394 3953,6006 3485,6003 4504,6228 3188,3523 3676,6401 4085,5782 3051,7656 4263,6328 4350,4365 4694,3925 3211,7760 3896,6351 4229,6204 3284,7929 3787,3775 4501,4106 4233,3805 3841,5901 2956,5584 5504,4692 4335,5831 4432,6204 3441,6643 4700,4430 2923,5247 4823,5341 4385,6381 3816,7125 4119,5818 4041,2445 4777,4245 3631,6634 5724,2384 4676,5735 4257,4700 3685,6278 4313,7095 4682,5182 4465,4439 2556,6534 5066,4625 3331,4453 4950,3721 4756,6005 4486,4472 4251,4198 4464,3970 3445,7791 4286,4042 5570,3812 2696,7331 4878,4420 3365,4746 3328,5730 5795,4229 4349,6927 4549,3489 3238,5701 4025,7274 1816,8485 5218,2413 2733,5783 4344,6684 4088,4923 5070,5060 3992,6316 5368,3851 4933,3744 3971,6577 3383,5152 4678,5565 3940,7203 3430,5664 4031,4899 4804,3732 4711,3439 3807,6946 4051,7074 5169,4755 4271,3996 5040,4718 3741,5872 3030,7704 3422,7764 4750,5028 4265,4264 3206,6286 3948,4331 4911,4101 4292,5993 3877,6188 3729,6673 4181,5403 4467,3488 3993,3722 3530,6342 3471,4681 4628,5740 3802,5542 4317,4092 4413,3339 3081,5535 5020,6053 4410,5290 3994,6153 3995,5559 3906,5411 3197,7693 3782,5498 3258,5813 2621,8505 4988,3865 3162,6444 3318,7198 4239,3781 4100,4980 3982,6013 4325,5385 4456,5904 4315,3563 4244,5654 3582,5052 4925,2294 3529,6543 3704,4318 3918,5032 3592,5830 4813,5997 3645,6978 4001,3613 3649,4647 3960,2168 4912,5235 3106,7443 4010,5750 4423,3039 3977,7323 4352,5779 3632,4989 3649,6963 4011,3976 3777,5438 2999,7706 4218,6325 5620,2529 4583,4705 4572,6811 4296,5781 4017,5499 3263,7093 4395,4089 5143,3695 4352,2038 3939,4937 3922,4144 3231,4674 4373,5162 3849,4317 5014,4301 3928,5233 3638,7421 3466,4711 3394,6039 3911,7097 4344,5042 3444,7511 3596,5770 3583,4428 4963,4857 4115,5921 2677,7938 2890,7112 2761,4425 3363,7278 3096,8069 4389,4785 4828,4593 3714,6384 4820,5539 5077,4061 2898,7430 3973,7380 5077,4713 3784,7270 3798,6598 4027,5771 3420,7484 3291,6573 4356,6371 3907,4676 4408,5254 3620,849 4398,4013 3664,4333 4985,5280 3801,5860 4011,4156 4426,5917 4602,3757 3655,5739 3319,7763 3751,7277 3883,7595 4148,6377 3692,6989 3460,6053 4295,3960 3733,5477 4883,4351 2942,7232 3933,5726 3751,6239 3948,3309 3844,7426 3302,4458 4663,5158 4293,3970 3324,6513 4177,3634 3922,6246 3965,4913 4126,4811 3637,3282 3791,5059 3523,4206 4227,4197 4001,6656 3304,5891 3665,7232 4280,5670 3939,6434 3647,6990 3583,6990 3665,5393 3604,7717 3843,4575 3323,6584 3834,4075 3600,6957 4156,4505 4408,6725 3409,7365 3456,5919 4523,3720 4301,6898 3674,4628 3136,5000 3521,3958 4825,2791 3828,6665 3694,4029 3161,6424 5849,3325 4988,2784 3844,6738 3407,7491 3804,6929 4332,6421 4645,5137 4863,4100 2514,7955 2999,6085 3601,6707 4383,4143 4778,5957 3334,4601 4313,4565 4162,4382 3715,3835 3417,5215 4094,7013 3885,5725 5032,4470 4666,6508 5092,4987 3536,7712 5539,3928 4370,4403 4533,3257 3724,4694 3335,5892 4374,6031 4524,5531 3913,5224 2919,8190 4095,7298 4656,5724 4494,3997 3705,4825 4699,3444 4401,6362 3710,5366 4666,2653 4449,4999 3119,6359 5604,1921 3810,5873 4246,4347 4492,5662 4849,5995 3422,5077 3581,6225 4180,3929 3227,6802 3138,7944 4608,5442 4789,3676 4018,4236 3718,5715 3251,5315 3810,5639 4108,7107 5054,2359 3170,3358 5371,4790 4923,4486 3995,6467 2760,6747 3368,7345 4993,4283 3898,7222 4280,5608 4226,6223 5203,4311 5131,2808 4214,4915 4708,3532 3688,5811 4271,5345 4043,5926 4658,4135 3899,4859 3968,4349 4146,2877 3985,5320 3434,6973 4078,3949 4557,3074 4473,4714 3898,6711 4133,5197 3134,6478 4000,6546 4924,3309 2961,8025 4461,4344 3513,7616 4012,4706 3686,5462 4252,4482 3799,5494 3675,6167 3399,4537 3129,7825 3981,2862 3831,6245 3181,6691 4428,5892 5034,3369 3713,3971 4803,3555 4757,4432 3927,6645 4650,4679 4414,6987 3326,6620 4107,6790 3612,5755 4858,5306 4025,6064 4271,3709 3217,6755 3300,4940 4353,5955 3070,7456 4662,3429 3775,3502 3808,4728 3215,7001 4195,4016 3515,6993 3307,8013 4160,6505 3916,4419 5348,3938 3254,7707 4165,7171 4332,4179 3707,5613 3574,5837 2981,7338 4752,4911 5582,2885 4559,4520 3240,4356 4209,6530 3944,4218 5790,3579 3407,7018 4504,3854 3491,6860 3708,4503 5001,5791 4020,5529 4294,4770 6529,3546 5101,5725 3673,7282 3493,6987 4684,5094 4633,4414 4290,2333 3677,6233 4220,3852 3678,5904 3377,5830 5063,2339 3284,8037 6121,3385 4140,3592 5392,5137 5211,6115 2811,7734 4654,4499 4880,6667 3493,7164 3759,5053 2929,7013 4444,5871 4548,5190 4138,3767 4482,6091 4240,5346 4576,5671 4329,4065 4197,3140 5072,3804 4544,4952 4411,5069 4406,5754 4471,5860 4356,5025 4796,4231 3158,7553 4973,2202 4125,4996 4512,4914 4010,6812 4292,5903 4489,4979 3668,5780 4438,6508 4781,2416 3271,7556 5029,1310 3346,7737 3908,4345 4614,4200 3996,5423 3554,6615 4499,6231 4250,3028 3330,7258 4260,3250 3661,3615 3377,4986 3831,6434 4726,3860 3561,5664 3841,5730 4863,4351 4906,2221 4698,3831 4820,4306 3658,7227 3158,6139 3989,7077 3634,6102 3627,4559 4149,4344 3737,6611 4508,4346 3589,5313 5040,4994 3635,4041 4664,4788 4272,4394 3215,5789 3187,6865 3859,7432 2991,7764 4041,3877 4569,2319 3953,5684 3436,6528 4418,5122 5099,4022 3941,5480 4829,3698 4984,2412 3968,7381 3375,4880 4689,5265 3641,5289 3568,6733 3569,7288 3900,7176 4154,4938 4158,3396 5289,2744 3873,4074 3805,6521 3464,4832 4459,5528 5498,4026 5009,3399 4091,7420 4289,5076 4640,5329 3680,5417 3972,4713 4326,4062 4771,4483 3677,7632 4334,6165 4559,6032 4444,6265 5173,5060 3516,7678 4129,6085 3761,6791 2859,6593 4837,6067 5519,4443 4100,7247 4405,6186 4723,5817 4261,6655 4549,3512 3481,6802 5080,3711 4233,4565 5213,5098 3593,7283 5731,4899 3740,4457 5024,2247 3952,6074 4119,6125 4357,4819 3523,3818 3868,7342 4077,5034 3231,6427 3699,6173 4171,5234 4222,3162 4044,5180 3401,6304 4164,4887 4746,4914 4779,4727 4055,4128 3560,7132 3247,7500 3586,7746 4074,7252 4052,5838 4190,3315 4137,5708 2945,6282 4281,5665 4797,4766 3883,7361 3269,7354 3854,5503 3440,6043 4474,2850 4372,5181 4377,3550 3705,7580 4021,4502 4414,6712 3810,3932 3710,7190 4210,6395 3974,6121 4680,3297 3914,6903 4315,2475 3822,5041 4170,4542 3911,5254 3368,5508 3676,5359 3096,5614 4478,3032 3725,7667 4374,5702 4982,4392 4590,5307 4190,5028 3625,5089 3487,5647 3775,4710 4194,6263 2739,7086 4925,5140 3653,5066 4158,5330 3949,4715 3941,4304 3870,4593 3694,6029 2878,5977 3820,7066 3548,3254 3419,5284 4747,5450 2945,6541 2704,8047 3221,7805 3199,7114 4630,5901 5009,2258 3610,4298 3902,4835 3484,4143 4693,4013 4059,5483 3330,6666 4778,5822 3653,4248 2465,8179 3787,6463 3650,5413 4151,4553 4717,5601 4502,5370 3413,6785 4266,4438 3792,5363 3529,5445 4469,4646 3825,5353 3588,7763 3636,5111 3624,6070 5076,5228 3462,6419 3393,4902 3500,7483 3634,6124 5252,5267 4683,4948 4548,5248 4699,6312 4167,5070 4011,3713 4365,3720 4147,5030 3679,5439 4216,5404 4919,4374 4441,5140 3866,4529 3923,4126 4605,3876 3669,6143 4018,5177 4184,5192 4161,2413 3442,7045 3620,6726 3961,5684 3453,6777 3442,4879 4109,2382 4539,5042 5131,6148 4166,6793 3954,5738 3882,6082 3555,7308 4333,5014 3923,4855 3723,4773 3427,7754 3409,5951 3348,3246 4369,6709 3807,7332 3827,4843 3138,5644 3233,6815 5390,5368 3535,7062 3700,4635 3198,6915 3948,3326 3861,5605 3477,4211 3485,4541 4703,6687 3739,4689 4448,6695 4507,5449 3073,5058 4866,5469 4226,5978 4471,4039 4708,3748 3996,3963 4073,3664 4539,4631 2857,8345 3388,6822 4294,6099 3274,5748 4331,4566 4041,6586 4575,4747 4146,6684 5253,5705 5889,4602 3259,8055 4004,5929 4340,4727 4329,5091 3855,5737 3414,6872 5234,5208 4121,6682 3060,7063 4590,5743 4496,5923 5206,5112 3623,5045 3364,5339 4244,7114 3839,7205 3382,4341 4596,6567 3439,5279 2820,6257 4323,5243 2986,6283 4946,3348 3559,5467 4229,5406 4335,4691 4147,3993 3969,3342 4387,4735 4319,4075 3883,6459 2729,6097 4862,4932 4448,5595 4253,4566 4018,6655 3358,6045 4657,6824 4041,7381 3640,3037 4311,3326 3306,7967 3626,4795 5712,5592 4433,6288 3879,7343 3652,7346 3236,6005 3489,4441 4667,4966 4268,4381 5239,3697 2540,7468 3979,7150 4233,7278 5336,4502 3590,6933 3724,6318 4533,4955 4267,6318 3818,4972 4131,4360 2980,6006 5199,4429 4365,5600 3716,5344 3782,6460 3844,4247 5358,4208 4112,7236 4014,7054 3396,3467 3795,5798 4408,6200 4321,5147 4146,4216 3343,7847 3114,6234 3510,7877 4128,6673 3718,5905 4064,5758 4050,3425 5105,5040 2754,7411 4486,6544 4746,5556 4236,6484 3569,5985 3196,7004 4286,6424 4776,4501 4086,3897 3647,4374 4491,4085 3282,4726 4054,7275 3790,6329 5011,5195 4111,3517 3643,7045 3974,5176 4470,6700 3753,4292 3865,6631 4402,3700 4815,5143 4003,4615 4187,5988 3880,5422 4692,3953 5694,3905 2811,7440 4397,3759 3951,5157 3530,6010 3654,6994 4048,4500 4068,4759 4634,5487 4731,5492 4443,4793 3301,7740 6006,2945 3515,4986 3854,5779 4651,6259 4540,5662 4228,5222 3939,5914 3824,4766 4502,5188 4630,6897 3645,7342 4556,5661 3932,5155 4486,5524 5783,4947 4169,3454 4047,6230 4586,5798 5510,5467 4020,5098 3805,7111 4547,5188 4287,4553 3781,6898 2900,5890 3927,6517 3776,6276 4276,2710 4971,1648 3891,6877 3541,5795 4190,4032 3863,5656 3774,4226 5487,2846 4128,5875 3890,5445 3284,7884 3918,5304 4013,7504 3431,6596 3863,6130 4625,5441 3973,5997 2035,6903 5013,4916 4301,6249 3886,3627 3608,4862 4061,6823 3850,6735 3993,6678 4192,3427 4337,4196 4134,6169 4418,5640 4098,6116 4751,4878 3800,5400 4449,4997 4542,4348 2420,8635 5237,5115 2331,6848 4814,4803 3862,5938 3765,5745 3996,6259 3776,5740 3854,7358 4377,3574 3767,6174 3796,4862 4216,6112 3733,3567 4017,6642 2950,6936 4198,6502 4750,3642 4634,3962 4362,4444 4551,2419 3370,6521 4441,5636 4491,4104 3364,5643 4161,5136 3421,7519 3617,5066 3546,5933 5011,2685 3507,5037 4303,4180 4271,5189 4478,4649 5098,4085 4178,6055 3479,4514 4254,5450 4303,7063 3471,4762 3610,6678 5005,5076 4784,3656 4256,4302 4287,4126 4443,6124 3678,5641 4541,4611 3739,6320 4280,4121 3396,5466 3398,6110 3141,4116 3393,5823 3189,5273 3200,6624 4751,6772 4013,5408 4224,5211 3940,4913 4558,6770 3675,5969 4834,3721 3660,3292 4261,6892 3019,6581 3977,5996 4015,4716 3849,6130 3941,4332 3724,4102 3287,8031 3304,7021 4619,4483 3733,7165 5851,2986 5493,4517 4604,4035 4561,3485 2720,7282 3575,5888 4502,7053 3483,4356 4650,4135 3943,6405 4775,5998 3838,6232 4687,2222 4139,6739 4140,5112 4011,3626 4270,6742 4465,5827 5703,3622 3656,4920 4199,6759 4133,4316 4994,3403 4954,5398 4585,4435 3032,6155 3300,6780 3719,4837 3937,5316 3947,2957 3828,6241 3470,5898 3837,6026 3353,6446 4511,4131 3982,6249 3929,5600 4938,1695 3689,5353 4076,5023 3790,5063 4476,2237 3985,5466 4380,3401 4419,1802 3841,4838 3871,5885 4793,4637 2829,8240 4071,4962 4149,5590 4103,6326 4102,4056 5466,1630 3329,5663 4507,3917 3289,7236 3611,6729 5714,3885 4286,5090 4306,5692 3771,6177 5016,4311 4369,5889 3927,4626 4831,3515 4550,3550 3641,7179 4099,6317 4186,3314 3962,6348 4601,4537 4846,4949 5018,5098 4159,4346 4084,6034 3453,6841 5220,4029 4475,4996 3267,3077 3629,4533 5012,4895 4346,6580 2558,8501 4747,3157 4365,4502 4006,6629 3785,5715 4636,5001 1794,6718 4933,3865 4001,5965 4637,3852 4221,4802 3840,7618 4024,3727 3282,7694 3929,3976 3502,4732 3756,6705 3328,5826 4435,5799 5303,3548 3452,6344 3930,6248 4722,4441 4037,3811 5520,3682 3158,5426 4259,4739 3980,5465 3342,6943 4487,5072 3598,6495 3603,7249 3300,7261 5154,5088 4348,5672 4066,7318 4620,3740 4160,6774 4355,5642 2978,7617 3978,6672 4578,5298 3325,7001 4161,4852 4805,4206 3794,4552 3745,7085 4674,1923 3097,5723 4103,2273 2321,7845 4681,3305 3996,4813 3499,4571 4740,2887 4069,4968 4158,7002 4230,4094 4015,4907 2648,8362 5009,4531 4124,4535 3348,5551 4695,4894 3043,7887 4405,5863 4377,5124 4154,3136 3280,7643 4118,6354 4584,7014 3921,3335 4647,4080 4580,4422 3978,5224 5010,5164 4987,5720 4305,5176 4737,3322 4399,4038 3985,6184 4180,7073 3854,3982 3274,6608 3687,5665 4151,3178 4861,3481 4544,4959 4446,4360 3403,5107 4498,5150 5102,4017 3073,5535 4926,4044 3466,7713 3773,5203 5000,4480 3889,5817 3205,5793 4494,6267 2845,6422 4599,5036 3463,4966 4114,5571 4462,6194 4101,5392 4172,6646 4072,4077 4312,6109 3732,7502 4339,2747 4512,3798 4198,6604 6017,2948 3560,3857 4310,5702 3511,5177 3822,4544 5433,1414 4160,4466 4025,4285 4431,4485 4909,3965 3691,4230 3502,5395 3891,7275 3214,5405 3563,5716 4411,4486 4697,3906 4798,4882 4776,5189 4221,7096 3456,6287 3624,7658 4562,3911 3824,7036 3851,3401 4433,4229 3182,5208 4611,4761 4643,5401 3959,5450 5176,3948 4409,3938 4070,4658 3865,5760 3824,6377 3865,7180 4267,5096 3414,7495 3575,4098 4490,5761 3672,5965 3554,4751 5356,3726 4657,4500 3524,7035 3879,5435 3613,5688 4742,5256 4705,4437 4605,4372 4870,3325 4183,6427 3898,4371 4054,4184 3946,5690 4349,5970 4276,5239 4051,6834 2816,7322 2739,6360 3219,7515 3394,2512 4156,3999 3783,3344 3981,6675 3429,6758 4064,4646 4942,4884 4743,3458 3649,4213 3878,6039 3478,5899 3362,4828 3757,6571 3557,5030 4703,4258 4138,2141 3878,5918 3834,4457 4269,5742 3664,6248 3896,6365 3240,6019 5648,2555 3342,5658 4788,3533 5141,4483 3875,5885 4577,4853 5041,5345 4401,5361 4261,6366 4733,5511 3120,7570 3505,6137 4344,4053 3912,6949 4466,4676 4800,6362 4287,6038 3553,5723 3709,7594 3620,5128 2817,7663 4039,4182 4639,6419 3734,3756 4911,2163 3889,6998 5205,5063 3896,5658 5028,4108 4046,6442 4633,4741 3141,5469 3683,5802 4303,5226 5228,2884 3214,5233 5005,2605 4007,6325 3637,6234 4031,4367 4680,4430 3326,3842 3625,5984 3812,6248 3199,7770 4696,6240 3362,3886 3846,5414 3730,6117 3490,5254 4243,4757 4086,3905 4760,5397 4412,6141 3894,5633 3778,6089 4135,6650 3739,3030 5027,4853 3063,6864 2884,4298 3652,6289 3976,3988 4041,3904 3982,7245 4467,4943 4572,4387 3324,5771 3131,5034 5140,5938 4319,4678 4682,2667 4340,4658 4705,5301 4604,5088 3877,4885 4632,5235 3942,4745 4540,5255 3376,5238 3442,2522 3151,7340 4920,3332 4759,3956 4126,6549 4207,7323 3344,6082 4446,4386 3996,5668 5356,2300 4649,4319 4164,4979 3726,4652 3025,7980 4674,3153 4050,4516 3993,4604 4041,5060 3995,6885 4430,5467 3440,6270 4253,5147 5144,4415 3649,6796 3648,6157 4701,5322 3917,4987 4198,4931 4354,4494 4404,6238 4064,6390 4311,5232 4700,4891 4463,6395 3059,6507 4344,4079 4145,4679 4177,3866 3540,7607 4586,6111 3400,5686 4139,5458 4687,6118 4738,4907 3820,5754 4607,5964 3226,6520 4840,4755 4848,5525 4679,2991 3381,7052 3476,5610 4317,5481 4488,6930 4733,3441 3552,6782 3627,4093 3165,8113 3098,7643 4289,7252 4040,6886 5754,3565 3021,6085 4123,5438 4858,3667 3481,5341 3176,6645 4718,5375 4028,6600 4664,3149 4062,5710 5014,3576 3933,4992 3571,7553 3302,5808 4594,2493 4177,3710 5026,4733 4335,6222 3340,5671 4944,4963 3430,7489 4183,4013 4257,5644 4681,4686 3689,7284 4650,3599 4532,5688 4359,5380 3816,5977 3892,3769 4363,6946 5654,4157 3395,7905 2610,7931 3675,5167 3570,4742 3962,7544 5061,6106 4991,3086 4103,4672 3926,6828 4206,4547 3558,7203 4074,4426 3941,4742 4505,4054 3863,6101 4016,5116 3534,5846 3406,5937 4273,4181 2766,7493 3473,4725 3621,6471 3091,5486 3715,7004 3645,6058 4188,5579 4135,5286 3359,5516 3850,4343 4657,5463 4592,3965 4647,5485 4079,3780 4256,4139 3854,4034 4139,2705 4048,4909 3402,7297 4878,5055 4063,4983 3699,3794 3466,7262 3621,5399 3885,3559 4721,3637 4949,4468 3155,5758 3685,6482 3767,6602 5083,3375 2364,7646 3935,5379 5058,5919 4330,5078 4761,3996 5158,2388 4029,4186 4559,4103 4183,5223 3502,6415 4234,4199 3941,7125 3216,8082 3775,6612 3684,3373 3305,7597 4188,5066 3772,4375 5077,4955 3028,6660 3935,7047 4325,5535 4240,5097 3848,6482 2996,7688 4378,4122 4412,5839 4112,5196 3434,3736 4528,3684 4181,7287 4385,5082 4695,5216 4055,6104 3262,7974 4048,4134 3683,4832 4336,5426 4574,6216 4444,5206 4028,4247 3013,8033 4457,4958 2385,8121 4886,3809 3814,7481 4383,6265 4663,4231 2956,7924 4731,4660 5419,5151 4088,4407 3773,7273 4953,5607 3319,7182 3113,7377 4554,2992 4228,6892 4455,3497 4248,3526 3894,3825 4258,5284 3260,5148 3679,4386 4493,3504 4369,3931 4407,7178 4558,4065 3594,6570 4775,3516 4167,4281 3831,6094 3361,7564 4005,4377 3710,7450 3443,6088 5165,3142 3738,6167 3721,5958 4076,7255 5649,2937 3763,4488 4723,5209 3641,5199 4424,6905 3675,5819 3655,4729 3586,6326 3683,4895 4523,3756 3942,7503 4543,4672 3895,4843 4622,5221 4363,3004 5663,3086 3877,4385 3487,7242 5090,4194 3447,7366 3822,5040 4025,7277 6329,3743 3360,6872 3279,5041 3776,4908 4180,6744 4593,3557 3780,5554 3317,5740 4196,5791 1801,5285 4524,5478 4191,4864 3206,6471 4883,4614 4392,4317 3706,4310 3707,4124 3659,7692 3831,4701 3484,5788 4895,5851 3659,6286 4754,6045 2948,5005 4395,3855 4795,4112 3860,4620 4217,6943 4382,5518 4704,4629 3553,4489 3491,6906 4060,6476 3003,7410 4658,6895 3817,3830 4594,5706 3791,6426 4303,6345 3954,5172 4153,5153 3761,4942 3166,7815 4388,4366 4538,3500 3729,4700 4073,4127 4053,6879 5261,3615 4954,5310 3872,4242 4434,4481 3843,4550 4518,4363 4236,5363 4869,4572 5103,3629 4811,3941 3221,6751 4008,7437 3586,5331 4452,5223 4043,6196 4032,5401 4299,4748 4116,6616 3126,5370 4034,5213 4556,6627 4006,4590 4212,6671 4527,2700 3470,6688 4949,3901 3929,6841 4643,4518 4136,5750 4773,4971 3996,4318 5702,3623 3994,4174 3975,5836 4527,4886 3848,4862 3697,6068 5111,4162 4280,5069 4499,5105 4498,4351 4549,6532 3688,7379 3192,6372 3336,3272 4001,5824 4224,5766 5566,4456 4868,4756 2903,5440 3482,6271 4230,6550 3864,4711 2408,6512 3347,7151 4395,4242 4052,6130 4312,6339 2962,4916 4658,4113 2914,4799 4282,5939 3227,5978 4754,5235 3835,6025 3679,6079 4542,4186 4393,6863 4620,5925 4705,5103 3644,6448 5356,5126 4565,5083 5044,3776 5567,5468 4327,4025 4526,3575 3637,7186 4800,4296 4507,2829 3985,3996 4570,4032 4390,4062 4566,5698 3470,5278 4241,5320 4535,4794 4083,5150 3266,7214 3607,6934 3413,4906 5281,5074 4076,4685 3579,5391 4236,4018 3788,6059 4546,5143 2770,7402 4456,4652 3872,6392 3393,3555 3603,5592 4258,5609 4272,6324 4961,3767 3852,7280 4264,6388 4154,4127 3964,4220 4710,4868 4656,5289 4256,4104 4048,2856 3651,4251 4815,3677 4127,4020 4320,6452 4146,5446 3951,5870 5509,5429 3592,7565 2791,7920 4576,6659 3193,6135 4159,6613 4484,4623 4102,4269 5857,3812 4000,4880 4004,6096 3835,5108 3716,5924 2984,4618 4760,6639 3160,5958 3695,6509 3670,6667 4104,6253 3186,7135 4935,5107 4435,3752 3047,6489 3483,2901 3776,6873 5083,4517 4332,6199 4111,5086 3793,4832 4024,6501 3014,4561 3800,7390 2761,7986 3971,6966 4656,5725 3501,7541 3968,7293 3483,7499 5096,3920 3591,6520 3922,6935 3838,3419 5183,3323 4921,4309 5607,2287 2988,8015 4579,3801 3228,5499 4895,4546 3195,5916 3501,5302 3735,6171 4395,2843 3797,6421 4504,5819 4169,2602 4749,4072 3974,6614 3856,6799 2843,8179 2498,8424 3388,3754 5008,3320 4464,6937 4494,4682 4799,5782 4839,3368 3523,7494 4507,4925 4163,4683 4940,4808 3104,7115 4154,4250 4280,4634 3770,6534 6095,2749 3249,7372 2664,5431 3594,5963 3979,4022 4855,1956 4407,5437 4380,5899 4264,4911 3090,7604 4797,4452 4288,5661 4792,4469 3113,8126 4237,3961 3929,3126 3737,6558 3244,7971 3669,5298 4154,5452 3903,6023 3607,6413 4067,5851 4780,4424 3924,4959 3704,4628 3664,4219 4994,3573 4901,3707 4625,5565 3600,3699 4347,5464 3198,6561 3338,6800 4577,5496 4668,4826 4366,5500 4122,4338 4885,4667 4098,4191 4289,6459 4645,3264 3270,5170 3841,6802 2608,5529 2970,5230 3768,7128 3623,6987 3466,7126 3522,6397 3552,5852 3330,3764 3635,5663 3419,7252 3992,7423 4175,5563 4299,5749 3193,6474 4526,7032 5200,2576 3553,6144 4290,4871 3504,5370 3271,6066 4400,4846 4121,2729 3980,4275 3749,6209 4170,5722 4344,6123 3874,5235 3767,5018 4857,5756 4035,7423 3279,6958 3866,7591 3470,5962 3289,5997 3497,7069 3992,5326 3990,7068 3637,5079 4507,3964 4306,5938 3424,6826 3812,3818 3871,6283 4440,5311 5194,4330 4222,5973 4008,6956 3390,7881 4037,4928 4495,3685 5770,2034 3561,5639 3733,4526 3970,5611 5199,5249 4712,2830 4592,3626 4120,4970 5591,4938 4258,3196 3125,5752 4758,4247 4445,4770 3648,5926 4623,5039 4936,3905 3824,5772 3881,3872 3671,4643 3543,6914 3392,3294 4191,7090 3965,5456 3717,7748 3759,4553 3160,7366 4173,6911 4166,4222 3492,7719 3751,3521 4256,4497 4046,5064 3378,5659 4250,3489 3612,6693 4002,7161 3462,6267 3146,6655 3629,5268 3830,5396 2992,7053 4857,3479 4423,5057 4474,4490 3121,4136 2670,7963 2875,7645 3830,4354 4098,4704 4389,6293 4247,4526 4765,5279 4727,5745 4071,4655 4705,4474 5161,5545 4187,6427 3686,6921 3282,7505 3757,7191 3799,5990 3742,6884 3652,6786 3223,8003 3710,6944 3655,6985 4107,3932 3647,5400 4521,3857 4119,6511 3524,7051 4322,5872 3284,4911 4067,6191 4490,4727 4005,4365 3870,6500 3643,6283 4860,4525 4704,5392 4032,6577 4706,5166 3811,7395 3491,5021 4046,4900 4943,5348 4008,2717 4115,4781 3939,5935 3236,6488 4980,5468 4240,5444 3372,5178 2206,5450 4144,5105 4557,5302 4601,4747 4802,2273 3688,4413 3492,5182 5018,6451 3698,7686 4263,4825 2796,7087 4351,4447 4496,5006 4870,5160 3944,6876 3928,6274 3460,5614 4044,7477 4567,5852 4062,4412 3741,7625 3681,5322 4358,4586 3542,6663 3802,7396 4493,6365 3549,5922 3978,5195 1499,4629 3630,5801 3472,4719 3197,6635 3441,6070 3319,5965 3065,4891 3263,7268 5879,3662 3509,3979 3958,4614 3692,5961 3359,6648 4309,3771 3208,7932 3080,7241 4623,5933 3498,6893 3627,6983 4701,4697 5983,3748 2986,6105 4664,5774 3970,5841 4080,4511 3759,7267 3561,4844 4339,5873 4090,5699 3500,6277 3658,7355 4298,3411 3960,6474 1694,7249 4940,4914 4101,5708 4360,4312 2608,8432 3819,6254 4185,5708 4463,5692 3136,4730 3969,4919 4470,3593 3026,5679 3788,7332 4321,5689 5063,5246 4075,5657 4232,3855 4153,5241 4489,4171 3914,4515 3556,6880 3367,5636 3326,6548 4226,4023 4365,6155 3148,5243 5030,2466 3849,1708 4321,6925 4132,4837 4787,3593 3975,6511 4998,4347 3219,7545 3992,5640 3415,7389 3992,6273 2326,8711 3494,4516 2726,7898 4421,4399 4411,5318 3735,3761 4101,3954 4143,4885 3838,3978 4185,3673 3418,5675 4262,3415 3229,5291 3792,7040 4593,5447 3810,4977 5162,4294 4094,3323 3619,6934 4591,4589 3709,6710 4428,6438 3805,4610 3925,5017 4491,2974 4734,2718 3268,5588 4079,3191 4565,3550 3576,4993 3727,7443 4773,3556 4991,4729 3018,7450 4422,3999 3582,5447 3524,6688 5059,3273 4115,5249 3286,6245 3466,7708 4264,5823 3653,3607 4309,4290 4822,4527 3055,6930 4962,1750 3669,7290 3491,6061 6703,4654 4694,6390 4393,5645 3511,6853 3149,4806 3720,6182 4614,4686 3731,4861 4829,3999 4123,4409 3778,7060 4264,6892 2718,6497 4028,4379 3760,4689 4965,5235 3244,6045 3727,4542 4523,5442 3975,4842 4924,6557 3907,7075 3326,5245 4156,6491 4500,6436 3273,7445 5297,3104 4318,4495 3830,6564 5001,5135 4626,4909 3648,6731 4408,4970 4509,3458 4811,4811 4190,4493 2914,8318 3865,5055 3631,7066 4955,4326 4519,6671 4954,2822 4480,2644 5837,1644 2686,6570 4239,3978 3443,4343 3072,5725 3971,4363 3950,2856 3797,4136 4615,5342 4339,6112 3801,4175 3830,5328 4615,4573 3787,4815 2522,7321 4090,6608 4060,5826 3711,7606 3547,4727 4783,4294 5042,3805 3341,7877 4224,3932 5235,3620 3893,6686 2901,7835 4663,3147 3606,6986 3686,5836 4089,4614 3958,6315 4675,6205 4466,4788 2717,8373 4156,6022 3858,5209 4298,5691 4631,2800 4523,6229 3622,5890 3968,3340 3928,4608 4176,4001 4728,6178 3338,7571 4896,3294 3129,6126 3739,4880 3443,3475 2402,5462 3972,7455 4275,5004 3669,6377 3341,6789 4240,4768 3190,6053 3903,4611 3572,5849 4522,5751 2987,5608 5400,5745 2858,6989 4516,6892 3654,4587 5103,4683 4300,5834 4345,6459 5237,3869 4711,4664 3868,6603 4506,5497 3993,5734 4330,7041 3620,7591 6254,3203 3880,6709 3496,6075 4524,4670 4083,6657 2374,8514 4212,4190 5199,2659 4013,5120 5116,2744 3361,6324 3884,5020 3396,6399 4416,4170 3281,5797 4821,2804 4372,6133 4487,4293 4250,4328 4196,6296 2598,6126 3960,5179 3314,5529 4192,6415 3861,4206 3876,7483 4421,4422 5521,3862 3058,6744 4824,4893 4317,3643 5106,4457 3722,6854 4606,5523 4361,4271 3234,5365 3512,5421 5347,4907 3653,3764 4087,5138 4361,3729 3242,4928 3577,6941 4146,6479 3794,7338 4871,5101 3476,6742 3421,5578 4145,5338 3854,6465 3628,7410 2922,7692 3310,3210 3771,7422 3525,7501 3775,4323 5707,3629 3546,4245 4651,3852 4229,5733 3649,6981 4104,6003 3532,4013 3862,2422 5168,4099 4494,5268 6557,3744 4083,6223 4505,4067 3792,7654 4821,5065 4896,6156 3230,5992 4053,7489 3967,4447 3837,7635 5477,3206 3632,7398 4270,5692 4160,6027 3641,6587 3664,5955 3505,5856 3572,7254 4108,4562 5344,3601 5815,4066 4294,1792 4357,5667 3536,4445 4027,4554 4623,6173 5051,2223 3943,6788 4651,4192 3561,4670 3939,6953 3694,6159 4738,4991 3544,5517 3922,7098 4005,6126 3391,5556 4836,5052 3950,4282 3924,6449 4315,5560 3834,6370 3689,5577 4043,6245 3368,4980 4374,4446 4417,5583 1508,2253 4100,5052 4296,3841 4836,5874 4135,3219 3792,7603 4809,5126 4915,3938 3451,6755 5071,4839 4696,5377 3194,4786 4729,4520 3590,4336 4174,3354 3050,6373 4516,4685 4364,5265 3148,4388 4302,6348 3582,5412 4627,3670 3269,6379 4495,6082 4006,3948 4560,2471 4362,4459 3397,4178 3839,6817 5436,5760 4498,6676 4155,3946 4090,4760 4480,4717 4251,3525 3569,6174 3065,6225 2955,6973 3418,4876 3555,5273 4374,4554 4343,5849 4002,6028 4595,2989 4434,4863 4804,5790 3250,4449 4614,2784 2768,5582 3239,6605 4672,6973 3598,7552 4576,5406 3901,7098 5503,2922 3411,7313 4388,6322 4329,3935 4482,5862 3909,4017 4947,5329 4135,6639 4557,5643 4288,4133 4708,4083 4503,5174 5471,5391 3419,7235 4244,5941 4409,4992 4291,5764 3965,7557 4596,5098 4249,5985 2832,7419 3827,4276 4771,6164 3365,7971 4158,5118 4631,3799 4317,4484 3501,5482 3716,7281 3399,5452 5129,2256 3764,5289 4597,5888 5019,6371 4109,5006 3974,5480 3042,5782 3910,5493 3676,6924 4414,4110 4692,5379 3832,7615 4228,6301 3216,6216 4077,6571 4367,6387 4079,7434 2842,8340 4596,4482 5779,3366 3669,7139 5208,4190 2889,4801 4401,4011 4303,3959 4189,6487 5227,4824 4626,5130 4534,2380 4061,7420 4830,4453 4304,6822 4717,5254 4379,4420 4770,4156 4788,4126 3870,4380 2428,4705 3569,5380 3616,7430 4731,4740 4651,4826 4357,3532 4204,5210 3910,6983 3983,3685 3402,7275 4344,6364 4625,6207 3833,3778 4484,5740 4389,4340 4255,6089 4474,6656 3165,7113 3666,4876 4260,4170 3747,6319 3086,4901 4129,4374 4163,4040 2635,1904 3647,4307 4202,6755 4966,4816 3884,3675 3368,7534 4507,3659 4632,5698 2866,7022 3771,7698 4083,5919 5276,4485 4769,5936 3525,6212 3256,7463 4304,4781 3241,4828 4029,6067 4193,5533 3379,6287 3753,4429 2487,8083 3962,6971 6214,4778 3118,8148 4628,3222 3156,6071 3382,7751 3555,4518 3199,5370 4311,6443 5121,1377 4261,3690 3937,5730 3342,5929 3361,5938 3454,5269 4441,4939 3858,6268 3840,6409 4737,3724 4146,6262 4388,4911 4119,3962 3926,4793 4698,4798 3582,6593 3833,6181 3376,5633 4543,5514 3322,6805 4158,3126 5448,3619 3826,7474 4478,5541 3744,6926 3772,6923 4431,3746 4580,4504 4229,4639 4251,2371 4194,5126 4082,5369 4191,4987 4570,4939 3745,6099 3297,3115 4556,3644 4024,4997 4040,5614 3524,6996 3456,5329 2919,7985 4777,4579 4908,4770 3104,7428 4497,5922 4151,4650 3023,4120 4775,3950 4089,6866 2938,7448 4275,5520 3893,6888 4763,5988 3380,7223 3608,7581 4019,6041 6262,3424 4641,5787 3375,4568 4450,5022 4240,6607 4032,5864 3435,5912 4265,4238 3153,5515 4273,6499 4172,6766 4627,3396 4802,2858 3331,7496 4636,4958 4646,5839 3457,6172 4612,6071 4199,5675 4078,6476 4204,6149 3414,6274 4249,6211 4733,6349 4580,6164 3038,6909 3440,7669 3895,4560 3840,6345 4156,2181 3557,5734 3592,7707 4199,6260 4452,5527 3886,7517 4021,5638 4352,3032 3911,5592 3650,5296 3923,3877 4151,5355 5088,3409 4751,4285 3953,5323 3892,6210 3950,7521 4155,4279 4792,4308 3983,6230 4839,4751 4146,6800 4863,3195 3500,4418 3165,4279 4979,4555 4118,5109 3820,7591 4507,4027 2897,6711 4496,6869 4486,5946 3914,5551 4115,6754 3763,4576 3394,6189 3721,7341 4135,4118 4775,5419 3251,5953 3271,6263 4203,4047 3322,5160 3763,6213 4146,6857 4975,3265 4172,5589 4125,6470 3855,5385 4384,2653 4806,4631 4271,4543 3661,6926 4305,3890 4196,5072 4117,4646 4212,4887 3742,3940 4414,7004 4326,4546 3823,5766 3646,6489 4896,4039 3077,7461 4786,5548 3988,5700 3940,6578 3272,4803 4149,6904 4541,4647 3314,7965 3503,5154 3921,5778 3962,6156 4512,5940 4302,6410 3736,4761 4084,6729 4231,5147 3945,6319 4024,4406 5172,2305 2565,6618 3323,4537 4095,4957 4778,6603 3454,7407 3528,6936 4163,6833 3879,7278 3138,8009 3386,7458 3814,3099 3795,4654 2608,6362 3421,5821 4420,5772 3879,3986 3517,6820 4171,5251 3929,6130 5137,3737 3381,5641 3507,7376 4681,5574 4533,3874 3938,6618 3975,6364 3735,6246 3429,7805 4739,4605 4061,5379 4112,3660 4471,3673 5144,1866 4557,5915 4068,5462 3419,7570 3664,7728 4415,6368 2881,5427 3063,7555 3334,4297 3829,6322 4953,6443 3387,6637 4339,6786 3393,5485 4274,5036 4590,5162 4917,4899 4264,5620 3569,4907 4328,5652 4060,6186 4458,3802 3130,8113 3934,3915 4676,6424 4020,4025 3530,6007 3771,6581 3322,7358 3390,4878 3190,6512 5600,2707 3344,5125 3741,5770 3483,6518 3602,6688 3916,5822 4527,5652 4346,4279 4012,3573 4762,4532 2964,8036 5674,3861 4346,4688 3781,5896 3834,7058 3666,4987 3996,4300 4677,3885 2758,8180 5239,3500 3327,5244 4666,3825 3850,4703 3732,4084 4650,4649 3508,5625 3595,7017 4187,4322 4432,6323 2724,7860 3689,7578 4029,4082 4798,4459 4741,3368 4825,4668 3528,6568 4454,4728 4330,3767 4056,5341 4005,5736 3700,6330 3377,7235 4255,3640 4060,4796 3626,7571 2763,5221 4339,5735 3264,6510 3880,4951 3243,5689 4169,5702 4203,4156 3830,5208 3341,7407 4453,5807 5858,4029 4256,5004 3059,5220 4665,5049 4591,3913 3752,3631 3594,6187 4675,6097 4398,6858 4626,4875 4822,4771 3570,2257 4623,6723 3238,7631 3917,2929 3994,6747 3818,4529 4170,5491 5204,3242 3598,6052 4190,6054 2880,6702 4019,4903 4815,2389 3864,6104 4033,5225 3656,5854 4549,4500 4545,5708 4042,5310 2631,6783 2800,8215 3460,7215 3885,4851 3412,5923 4627,5479 3900,4526 4286,5759 3704,6944 4324,4075 4646,6850 4188,2852 4209,6539 3675,4764 4016,4839 3879,7549 4423,6629 3498,7397 3458,5759 4760,4212 4412,5830 4009,5375 4181,4779 3802,4983 3322,6026 4028,7038 3717,5596 5275,3152 4552,4354 3329,7554 4419,5055 3667,5091 4163,4364 4697,4915 4625,3779 4550,5030 1467,6131 4050,3845 4721,5900 3810,6057 4221,4165 3856,7526 2851,4964 4263,5217 4217,6792 4084,3957 3696,6317 4125,6085 3587,5405 3561,7406 3877,4676 4700,5513 4042,7451 4232,6646 4554,6696 3018,2273 4489,5740 3890,4677 5395,4291 3665,6392 3358,5896 3148,6410 3608,5516 4255,3477 3236,7413 5330,5116 3875,6405 4794,4433 3523,6036 5231,3696 3067,4600 4372,5902 4590,5084 3926,3527 4090,6259 3574,7820 4983,5928 3636,7333 3891,5889 4490,5690 3849,4296 3357,4753 4864,5212 6866,1148 4377,6435 4064,3933 3913,6453 5382,5120 3541,6042 5426,4497 4206,5100 4301,5521 4684,3604 4156,4635 3079,4018 3645,5873 4436,4406 3923,4032 3737,7620 4055,5600 3849,7041 3538,5985 4129,4086 4751,6484 3790,5710 3976,6469 3323,5982 4119,3783 4804,3870 3881,4790 4784,4452 3378,3803 4186,5433 3961,6505 5680,2735 4335,4189 3859,7276 3421,7350 2102,5801 3115,7586 3494,6939 3629,7471 4322,4488 3928,6159 3145,7519 3760,5737 4518,4125 4741,5975 3790,6164 4938,5092 4305,4498 3546,6578 3805,5960 3420,7263 2991,5915 3228,7912 3952,4959 4558,5641 4222,6927 3096,6273 3617,6323 4149,5202 4751,4945 3305,5319 3623,5025 4103,5179 5014,3396 3887,4961 4488,5271 4440,5044 3832,6657 4417,4341 5371,4685 3915,6385 3700,6740 3419,6490 4299,5344 4063,6376 3091,6417 4390,3705 6287,3673 3056,7445 3597,5159 4937,4545 3635,6684 4028,5168 4533,4958 3470,7534 4088,3111 2967,5766 3430,4608 4388,6275 3728,4687 3815,7416 3771,6526 3485,4902 2650,7906 3484,4650 3845,6719 4823,4445 3798,6348 3332,7429 4814,4784 3287,5935 3725,6358 4596,5719 3151,7423 4557,5857 3243,6712 3412,7362 4210,3392 4016,4763 4765,2769 3827,7235 4354,3939 3638,7442 4865,5474 3631,6527 3981,2188 5469,3404 4106,4076 4892,3633 3854,4111 4052,3740 3098,5799 4156,4969 4762,5328 4576,5502 3576,5147 5098,4560 3402,7287 3456,4461 5430,5663 4397,5801 3564,6652 4034,6017 3699,6659 3346,7681 3978,4235 4300,4933 4325,5825 5065,4318 3314,5560 4107,3846 4349,5807 4580,4740 4719,3508 3185,6134 5779,2086 4432,2582 3604,7797 6216,3497 3667,4455 4189,4759 3452,5664 4122,7154 2818,7658 4380,6986 3481,7320 4119,6165 4258,4903 4035,4922 4308,5812 3167,7649 4348,5895 3838,7520 3921,7057 3085,6378 4538,6218 5781,3686 4583,7047 2995,7049 4555,4751 4239,5583 2918,7973 3282,6446 4382,6107 3654,7087 4250,6390 3940,6002 3442,5421 4331,3534 3918,6544 4801,2742 4076,4014 3763,6696 4106,6464 4136,4945 3825,5977 4467,5051 4500,4482 3999,6458 4141,5870 3271,7271 3264,7760 3655,6011 4341,3094 5901,4464 4495,5915 2825,7859 2983,3508 3443,4189 4461,4330 3688,6750 3986,7449 4149,5385 3855,4323 4447,6958 4060,5977 2767,7343 3671,5772 4235,5640 2196,8791 3827,5624 2528,8367 3273,7799 5366,4658 4232,3395 5925,3527 3524,3875 5847,3244 3900,7559 4899,5747 4489,6869 3596,5874 3647,7286 4505,6650 4390,4682 3575,6822 3858,7102 3755,6163 4078,3435 3770,4736 1992,8963 2979,6632 3917,4075 3802,5853 3353,7029 3742,6321 4221,6843 5067,5175 3397,7000 4472,4530 3876,5251 4835,5038 4807,5167 4005,4893 4206,3474 4829,3684 4465,3398 4518,6389 4237,6228 3812,7069 2676,6196 3758,6161 4263,5150 3652,6094 4175,4128 3472,3771 3225,6073 3729,6642 3957,5778 3501,6246 3256,5632 4467,7009 3747,5264 3723,6568 4328,6305 5633,5277 3874,7588 4029,4330 3421,4263 3211,8094 3240,4975 4646,2073 3587,6595 3745,5152 4116,5958 6614,3659 4723,5804 3948,6712 3661,7618 3623,5744 5153,5715 4633,6463 4465,4633 4400,6289 5505,4899 4020,5654 3045,8052 3652,6785 3038,7879 4893,5014 3833,7624 3340,7429 3829,5480 3922,4539 4001,5272 1853,8596 4539,3404 4351,6288 3568,6743 4525,5688 3733,4037 4989,5191 4178,3939 3353,6143 4049,4960 3759,5838 4205,5009 4820,4827 4605,6326 4333,5007 4537,4971 3500,5944 5360,3902 3984,6493 4449,3543 3563,5111 2598,8114 4297,5959 4471,4784 4956,1806 3670,5095 3358,7699 6534,4069 4733,6171 5137,5230 4008,6304 4002,4408 3925,6113 4602,4956 3654,4681 4214,4983 3794,4580 4210,5809 3464,5774 3642,3673 3448,6282 5458,3924 4517,4062 4658,5771 5733,3234 5044,5783 3787,4891 4193,7137 3521,5588 3225,7508 4589,4645 3575,6019 3244,7179 3881,5282 3443,4343 3367,7513 3966,5045 3696,3433 4485,4094 3134,7633 3817,6382 4640,5744 4188,4332 4474,4257 3969,7426 4615,4857 3945,6950 4690,5600 4216,6099 4004,4161 3826,5457 4413,4295 3739,4794 4274,5013 3613,6456 4481,5782 3765,6389 3518,7228 4227,3933 3443,4920 4722,6619 4367,4623 4330,6256 4413,5532 3660,6120 2586,6131 3640,6365 4309,6288 4238,6460 4021,4700 3134,7675 4546,6464 3611,5063 3771,5236 4004,7139 4467,5952 2527,6848 4811,3400 4345,4522 4816,2726 3524,6280 4504,5037 4696,5506 4607,4994 3626,7665 3910,6402 4956,5532 4584,4133 3560,6923 4542,4522 4807,6034 4003,4581 4281,4581 4323,5751 3582,7497 4130,6619 4347,7226 4749,3910 3054,6916 4457,6334 3979,6652 4601,4447 4620,4987 4852,4263 4565,4897 3531,7416 4407,5957 3942,5454 5152,3532 2387,7525 3497,7168 3058,7631 4240,5646 5046,3962 3852,6762 4869,4456 5235,4295 4555,5608 3748,6394 4073,3165 5120,3531 4869,6212 4827,4809 3807,7229 4798,4937 4583,5730 5016,2722 3474,5245 4912,5112 4128,3693 4315,6508 3575,5539 4452,6987 3646,6050 4234,5802 4096,3869 3919,6953 3664,4195 3973,5964 4494,6710 3155,4645 4863,4953 4698,5474 4074,6056 5062,4219 4083,5872 3880,6991 3790,5745 3775,6745 5211,4268 4135,6103 5211,5429 3982,5909 3728,5931 4772,4510 4148,4328 3610,6595 3799,7686 4804,5183 3337,6805 3915,5936 4777,5415 3233,6474 4684,4598 4548,3658 4727,4975 4348,6508 4789,5007 3675,4048 4143,6134 4756,5695 4638,5009 3236,7346 4431,5501 6447,3734 4485,5750 4330,3242 4587,4789 3351,7027 3855,6244 3611,5153 4929,4232 4070,4103 3532,4703 4795,4784 4523,6375 4038,3685 4316,3713 2841,7380 4233,5443 4430,5731 4622,4341 3974,4828 4143,3961 3368,6204 4928,4952 4431,5389 4356,3770 3972,3992 3714,6502 3758,6864 4540,4703 4239,5175 4126,5285 3975,3581 4001,4736 3680,6533 3980,7100 5107,5112 5141,4779 4187,4320 3703,4724 4375,4042 4295,7018 3310,6602 3639,6480 4908,4592 3856,6176 4738,5157 4447,3520 3395,3673 4408,6183 3833,4147 3046,7800 3148,6339 4623,4702 4697,6751 3165,7535 4413,5151 4215,5862 3131,7918 3682,5823 5145,3179 4240,5111 4535,4750 3620,7671 3362,5922 4419,4281 3427,4628 3611,6293 3467,6428 3753,4966 4398,4448 2859,5914 5133,5270 4009,5282 3985,7133 4454,4713 4454,5967 4966,5384 4104,4308 3616,4847 4323,3287 4153,6233 3136,6965 5444,2974 4193,2802 4573,5984 3909,3407 3533,6565 4524,5826 3659,5602 4108,4918 5032,5335 3693,4978 4619,4751 3821,5054 4895,5480 3258,8006 4638,4852 3955,4372 4447,5258 4190,4442 4339,3061 3608,5154 4612,4920 4649,5707 4437,6169 4355,4457 3819,3740 4978,2976 4936,5131 4183,3833 4936,4426 3853,5594 4882,4413 3546,5193 3976,7422 3838,6015 3499,7194 3297,3953 3227,7332 4906,6297 3288,6191 2135,6978 3456,5810 4267,2874 3642,4989 3671,6800 3740,3985 2796,7534 4263,7087 5140,4476 4723,4955 4543,5295 3517,6681 4177,4343 3582,4024 3560,5832 3288,6285 3644,4190 3469,7443 3245,6400 4400,6351 3677,4488 4216,5353 3831,6851 3147,7913 4607,3705 4635,3512 3933,5302 4473,4202 4172,7124 3665,6870 2777,5607 3901,5932 3115,5828 4487,3894 4571,3830 3672,5752 3473,3472 4542,3106 4225,4201 5503,5521 4196,4033 3503,3800 4804,6613 4018,7333 4753,5934 3414,4784 3843,4661 3931,7515 4329,6620 3184,4089 4154,6878 3010,7873 3874,4723 3706,3821 4455,5506 4391,3965 4270,4862 4441,6422 3345,6381 3939,6859 3771,6291 3993,6593 4082,4826 3887,7031 3996,6423 4398,4029 4106,5548 3633,4312 4628,4173 3832,5486 3936,5177 4039,4619 3483,5653 5273,3009 3484,5384 3641,5396 4370,5862 3410,4978 4900,5872 3426,4372 4674,4611 4892,3684 4504,6426 4905,5462 3641,6021 4052,4289 4090,5209 3244,5286 3237,7150 3748,7313 5035,5823 4824,4013 4949,5941 4045,7026 3511,5383 3329,4843 4977,5205 3118,5773 4031,5262 4465,5271 3962,7294 5382,2946 4488,4645 4206,5943 4675,5342 4621,4302 3993,2181 3411,6929 3188,4926 3956,4405 3527,6060 4272,3819 4310,4396 3324,7713 4224,7260 4438,5705 4242,4879 3393,5939 4947,4191 4125,6068 3794,6598 4160,7238 4470,5195 4250,5700 4068,7143 3065,6356 4493,4101 3546,5021 3130,4702 5305,2716 3467,6825 4373,6881 4270,6273 3965,4598 4672,6401 4947,4073 2667,8134 4195,2871 4665,4659 4303,5489 3486,7642 3854,5412 4643,6345 2991,3053 3193,4605 3756,5855 3692,7121 3459,5672 4736,4825 4190,7113 3995,4317 3103,6559 4228,5920 4836,6094 4573,6891 3709,4539 4329,4527 3677,7466 2432,8195 4673,5912 4273,5192 3396,7053 4922,2776 3664,6626 3744,3741 5212,2233 5705,3597 4738,4665 3519,5348 2982,7463 3855,4053 3995,4693 3622,6237 3313,6913 3703,4294 2994,5147 2273,8740 4286,2079 3924,4047 3419,7146 3956,3447 4786,2649 3284,6290 3704,7716 4578,2726 4380,3091 4497,4280 4561,4481 4140,6631 2987,7935 3265,6026 5596,4431 3538,5001 4207,3759 4136,6851 3884,7071 4343,6476 3902,5919 3152,4962 4331,6224 4503,5455 2913,4691 4905,4280 3499,7039 4941,4741 3415,7338 3411,5418 3547,6428 4575,4577 4735,4391 4061,3146 3164,7782 4533,4061 4252,5602 3508,3953 4863,5325 4578,4217 4069,7163 4861,4521 3746,5604 5706,5445 4628,2959 4297,5682 3106,6189 3605,4019 5521,3351 4535,5669 4479,3258 3550,5854 4319,4100 3195,6632 3438,4871 3631,6926 3406,6951 4485,4570 4075,6496 3427,5953 4835,4143 6115,3720 4709,5681 2734,5046 3700,5069 4931,3290 3942,3423 4824,4003 4922,5140 4278,5283 4915,4888 4179,3869 3430,6252 5164,1820 4252,6540 4397,6549 4236,5584 3946,5231 3654,6010 3639,5420 3858,6123 3981,4227 4302,4349 4238,5346 4340,5697 3081,5275 4471,3244 4312,6533 3402,6903 3810,4972 4493,4405 3222,6127 2976,4453 4446,7061 4089,5256 2500,6216 3622,7235 4853,5390 3762,4825 3742,5064 4634,3298 4115,4389 3225,5493 3686,4740 4115,5217 4514,5510 4099,2982 4687,4851 3507,5795 3677,5045 3472,6749 4356,6817 3301,4335 3541,6691 3715,5558 4556,6908 4968,4653 3539,4233 3800,5747 6041,4484 4381,6093 3420,5740 4362,5693 3641,7390 4332,4302 5027,2227 3573,7414 3146,4832 3969,7384 2528,8398 3483,5514 4170,6816 4289,6153 3902,6779 3809,5719 3045,6120 3951,2355 3480,6768 4281,5510 4020,6324 4662,5742 2868,7798 3194,4826 4840,6285 4520,5118 3407,7165 4081,6707 3461,7100 4013,7123 4011,5253 4326,2929 3643,6095 4020,5441 3911,6727 4921,6006 4637,5420 4102,5383 5139,5415 4209,4137 4616,6083 4435,4161 5752,2232 4561,3893 3417,7457 3983,5551 4082,5713 4980,5221 4157,6036 4479,4367 4376,4863 3323,6901 4312,6833 4369,7136 4791,5265 4057,4250 3975,4557 4020,5754 3825,4470 5009,4820 2392,8389 3498,7825 5859,2704 3277,7362 4063,5509 3668,4710 4535,5590 5294,3792 4302,6348 3943,5982 4324,6853 4283,5151 4212,5117 4380,6368 4041,7150 3621,5641 3700,5443 3678,7665 4686,3509 3912,5447 4004,2413 4393,5222 4242,6797 4536,3577 3691,5286 3604,5921 5096,4189 4000,5526 3322,6067 4903,4446 3987,7522 4172,4058 3511,4391 3976,4429 4904,3298 3531,6878 4887,6196 5018,3983 3681,7474 4621,4641 4298,6634 4658,6019 4126,6169 3353,6231 3160,5714 4571,4518 3208,7703 4829,4417 2682,8328 3527,7372 4287,5770 3601,6562 3736,6354 4134,5221 3463,5705 3353,5705 3681,7056 4485,6382 3997,6390 3840,7637 4772,4484 3164,5867 4053,4139 3901,4993 3834,5089 3416,6506 4733,4964 2749,5819 4022,7071 4353,7047 4272,4974 3756,5604 3537,5448 4912,3551 4344,6462 3965,4461 3316,4674 5593,4186 3672,7736 4425,5607 4050,3855 4921,4527 3575,5752 4313,4645 4485,4723 4141,7106 3529,6096 3400,6547 5227,4801 4702,4674 3167,5408 3092,7909 4948,4956 3916,4880 3889,7007 3903,6386 4112,4974 3707,5570 3663,7761 4017,3469 4783,5753 3961,6828 4277,5166 4223,4768 4008,3906 3891,4326 3931,4063 5253,4170 5591,5527 4044,5576 4186,6883 4396,4530 4384,6883 4601,3733 3905,6882 4241,5370 6023,4117 3893,5449 4164,5311 3630,7359 3503,4221 3952,4351 3746,6886 4546,2782 4282,2915 3336,6231 3349,6961 4303,5931 4065,7065 3785,7304 2803,6772 4853,4696 4239,6256 3207,4272 4555,6012 5471,5535 4455,3361 4972,5671 3665,7433 3086,5028 3403,7319 3374,7764 3778,4503 4481,4769 4175,5047 5267,4474 5581,3551 3499,6554 3529,7696 4599,4173 4104,5421 3581,5444 4384,4123 3108,3496 3834,4593 3714,7568 4860,5124 5128,6087 5701,4592 4532,5493 4986,4723 4055,3811 3565,2192 3668,4781 3717,6220 3584,4245 3700,4928 4178,5035 3774,6045 3866,7313 5277,2898 4491,5288 3302,6950 2835,5630 4246,6560 4449,4587 4416,3529 4447,5812 3728,5274 4438,4487 4377,6022 4267,7166 4273,5794 4486,6989 4859,6714 4277,3048 4423,4348 3797,6910 5238,4003 4626,3961 4693,6081 3742,6836 3760,4704 4250,6476 3663,7167 3369,5678 3354,3343 4376,5383 3611,3808 5165,5668 4730,5774 2970,5859 4153,4907 3636,5379 4658,5474 4619,4322 4684,5228 4486,7009 3848,5823 3555,5243 3851,5732 3953,5012 3970,4063 4416,2689 4008,6485 5457,2935 4538,5476 3275,4285 4535,6549 4391,5212 5030,3664 4226,4872 4460,3078 3941,6332 4668,4813 4786,4360 4444,5750 4041,6958 5566,2858 3711,4703 3611,3897 4433,7097 3583,5366 3800,4768 3624,4753 3429,5242 4124,5368 3564,3966 4291,6900 3733,7119 2924,7346 3525,6047 3797,2791 3827,4769 3670,4425 4796,4880 4797,5695 4058,4740 4069,3926 4983,2571 5219,4948 5019,3477 3847,5397 3906,3674 3546,7293 3902,4715 4225,4413 3299,7740 3738,5891 3823,4377 4183,4321 4741,2127 3530,6587 3798,5754 3269,6959 3998,6121 3533,7595 4147,3967 2836,4902 4744,5605 4480,5722 3898,3574 4300,6005 4863,4736 4192,5873 2906,5769 4491,6487 4251,5134 4417,3889 4157,4211 4366,4631 3878,7223 3243,6545 4875,2366 3468,6316 4154,4121 3738,5972 4731,2245 3058,7107 4706,4628 4880,5113 3923,560 3824,6699 3794,6396 4770,6115 4081,2965 4215,6870 3297,6114 4511,2598 4074,5510 4029,6447 4155,4696 3794,6055 3249,4768 4015,5198 3288,5035 4915,3389 4378,4592 3320,7208 3627,5463 4877,6394 4368,6780 4348,3441 5101,5910 3341,7768 4191,5761 3402,4555 4117,4021 2974,4615 4211,5757 4273,6021 4313,2462 3511,5754 3067,6202 5195,4561 4788,4964 4351,3673 4576,6180 4522,4176 3577,5942 3907,3231 3823,4649 2773,7283 4390,3850 4528,3951 3148,6144 4092,5685 3879,6368 4645,5205 2820,6701 3084,6937 3262,6678 3746,5574 4176,5697 3820,6734 3994,6176 4694,3825 4717,4469 3609,7103 3787,5837 4777,4939 4139,5266 4046,3564 4006,6590 3659,2319 2798,7849 3083,4258 3107,7409 4276,4417 3052,7342 5012,3331 4365,5505 3313,7291 4367,3905 3819,7377 3175,4483 2640,7913 6779,3876 4434,4805 4723,3333 4062,6677 3853,4297 3466,5956 4033,5163 4728,4379 3959,7044 5037,2009 5060,5993 3951,5927 4745,6017 3733,6482 4649,3633 3709,7265 3738,6657 4025,4299 4096,5839 4396,6079 2998,6878 4260,5850 4569,6405 3812,4930 4309,6281 4110,5656 3640,5382 4385,5308 4045,5409 3522,2981 4240,4948 4698,3278 4588,4437 3624,3957 4461,5435 3585,3464 3417,4234 4669,5195 3694,6349 3213,7719 3393,5146 3062,7716 3767,6428 3928,6648 4463,5254 4165,6155 4513,6641 3821,5301 4150,5023 3839,4150 3292,7241 3041,7752 4492,3691 3686,6974 3834,6786 3272,6340 3741,5993 3514,6143 4291,4244 3942,4904 5756,3760 2527,6271 3233,6574 3645,3418 3890,7209 3729,7121 4417,5214 2967,7996 4009,4667 4677,4985 4207,4708 3632,6311 3233,7003 4662,6487 5291,4788 3470,7076 4517,5049 4994,3309 3439,6440 3327,6863 3239,2305 5407,4062 4237,2326 3429,5686 5337,5299 3459,4305 4396,6615 4556,4436 4097,4035 4548,7017 4656,6401 3640,7212 5460,4356 3390,5798 4466,4271 4154,6331 4040,5951 3255,6049 3737,6195 4576,4650 3776,5033 4338,6414 4135,5430 4422,7044 4287,6776 3305,4048 3198,7031 3719,5593 3749,4743 3843,6418 3256,4995 3393,6184 4997,4284 4083,4162 3539,6537 3693,7506 3676,6189 4170,6638 3525,6113 4300,6256 3762,5710 5555,4293 4837,5425 4210,6485 4948,2710 4246,6698 4298,3148 4482,3657 5130,4206 5229,5192 3473,5451 4297,4683 4539,5293 3557,7803 4621,5869 3879,6367 4281,5035 4398,6098 4027,5786 4293,5727 3769,5123 3584,4937 3722,6852 3253,3957 3614,5003 5088,5317 5028,4819 4108,6404 4178,4086 5334,5981 5026,4258 2968,6683 3749,4378 3752,7374 3646,7549 4228,4888 3905,5336 4055,7094 3897,6301 4395,5155 2971,5653 3812,4195 4614,3743 4141,5352 3076,5517 4967,5405 4353,5816 4475,5962 4552,6400 3742,7277 3288,6829 3768,5822 4138,3883 4157,6784 4504,5622 4012,4681 4811,5650 4757,5005 3261,6556 3679,7540 4274,4778 4094,4708 4511,4269 4667,3917 5587,3995 4096,6976 3983,5113 4225,6842 4036,4440 3200,5782 4633,4233 3180,6460 3877,6188 3995,5484 5814,4084 4733,5588 4247,5035 4047,4350 4241,5701 4508,5799 3656,7586 3942,7237 4327,3795 2880,5080 3609,5360 3966,5503 5162,5562 3276,5312 5070,2557 4004,7092 3599,7478 4484,5135 3855,5990 4055,6492 4048,7252 3424,4589 3209,6425 5360,4255 4840,3695 3914,4174 3428,6751 4170,5284 5042,4812 3332,4778 3085,4904 4177,2823 4374,5086 4280,6461 3735,3155 4867,5771 3296,8031 3920,3286 3762,4362 3958,6481 4408,7017 4324,5131 3142,4140 2778,8312 4048,7043 4270,5917 3847,4509 5405,3445 4345,3200 3652,6318 4922,4799 3297,6772 4304,7137 3686,4895 4363,4333 4555,5578 4499,5726 3209,7969 4711,5662 4150,5741 4898,3606 4000,7359 4793,6815 3847,7270 3195,7521 4861,2875 3813,6846 4562,4021 5235,1859 4329,5600 5577,4741 3824,6706 4014,7034 4274,5304 3329,6974 3385,5620 5527,4570 4367,2353 4693,6113 4284,5323 4468,4981 5617,4977 3901,6651 4618,4447 4777,2813 3840,6582 4028,6698 3252,7021 3952,3232 4781,5180 3248,6021 3968,3852 4215,2843 4387,2677 3499,5070 4428,5428 4169,5790 4171,5832 3974,5794 3200,7767 3336,3135 3655,4623 3709,5175 4951,5341 3968,4647 3008,5685 4611,4841 4018,6573 3038,5025 3030,6442 3600,6089 3182,7454 4451,5575 3356,7752 5131,2718 3837,7347 4536,5579 4045,5887 4138,6094 3324,7787 3480,7335 4666,4321 4503,6024 3712,5824 4431,4018 4176,2558 4105,6599 3799,6517 3267,6473 3452,5410 3404,7697 3709,4693 5123,3197 4298,4611 4350,5089 3365,7323 3451,6370 4016,6791 4042,4574 3242,6864 4723,5157 3790,4673 4234,3781 6012,4716 3713,4395 4265,5105 4582,3907 4162,4534 4422,6291 3726,7715 3256,6969 3010,6936 4446,4339 3389,7653 3242,5531 3671,4947 3756,4410 4526,5159 3708,5930 4408,5082 4473,5825 4600,4537 3190,4616 4448,6418 4449,5245 3440,6079 4450,6608 4210,3892 4782,3948 4003,6888 4869,6358 3845,6735 3790,5503 2698,8053 4359,6804 3845,6750 2924,7297 4634,3892 4555,6013 4086,5483 3531,5124 3292,7587 3434,5670 4370,5972 4133,3457 3817,7230 4488,2836 4275,4025 4079,4981 3094,7704 4189,4652 3127,6490 3828,4938 3798,6512 4951,4928 4153,4950 4739,3592 3831,4749 3530,5122 3431,6568 3936,5863 4183,5035 5156,3805 3173,5930 3416,7302 4489,6257 3483,7536 4275,6455 4095,5796 5809,3775 2455,7954 4056,4748 3158,5176 3880,6598 4768,5759 4186,2986 3653,4336 4089,4956 3937,5120 4632,4005 3349,7448 3146,6920 4355,4017 3800,5418 5380,3658 3167,6382 4638,4458 4979,2930 3311,4824 3651,7197 4380,6892 4250,4253 3314,6933 5032,6165 3422,6152 4642,5210 4430,5222 4245,2190 3643,6728 2894,8201 3974,6645 3922,5817 4332,4725 5274,3713 3398,5928 4321,5179 4436,4450 4504,4014 4351,4284 4678,5405 3207,7161 3951,6207 2608,7423 4168,4536 4786,4186 4136,4739 4910,4059 4734,4284 5299,4292 3883,4842 3674,6961 4028,3877 3070,7808 3963,7354 4389,3441 4219,5147 2449,8151 4269,6008 3320,7836 4865,6108 3124,5150 4761,4611 4501,3651 3531,6534 3447,7880 3735,5746 5008,6007 3976,7043 2994,6325 4505,4306 3421,5594 3951,4766 4326,6327 4719,3927 2817,8320 4726,5670 4630,4034 5137,2760 3882,5878 5079,3825 3374,5205 5811,3626 3531,7845 5265,2977 4216,4461 3898,4770 3175,5702 3848,3994 3490,5708 5087,4697 3632,4644 3416,4446 3463,4785 5338,4520 3482,5341 4735,5475 3783,7383 2675,4891 4739,5285 4002,5306 2773,5465 4004,6117 3929,7216 5030,3720 3821,5998 3799,7638 4449,6401 3476,6527 4819,2549 3092,6110 3116,7525 3464,6199 3661,7103 3806,5870 3124,8169 4839,6014 4465,3767 3147,8108 3755,5999 4484,6899 3786,7456 3980,6153 4131,6376 3948,5196 3845,6880 4089,3987 2167,8357 3355,6057 4336,6481 4128,6925 3604,7741 4510,4738 3959,5007 5308,5916 5420,3251 2734,7415 4517,6035 5368,4396 4297,4824 3047,5803 4851,4001 4359,7220 4216,5638 3842,7063 3783,7049 3483,4619 3602,3788 3969,6863 3745,5722 3796,7435 4486,5568 3909,6387 3346,5416 5470,4657 4302,6282 4785,4683 4164,5980 3728,7215 4713,6160 3592,4728 4106,6077 4107,6414 4542,3233 5125,5948 4626,6739 4211,5367 3191,7882 3918,7082 4121,5116 3654,7721 3427,7703 4809,4508 3530,6110 4213,6427 3609,5997 3291,5981 3984,4315 3238,5280 4203,3368 4568,5594 5189,2417 4006,5660 4940,5055 3697,5147 3090,7162 4497,4025 4702,3637 2711,5924 3741,7514 3589,7154 3594,6233 3319,5235 3493,6377 4564,4998 4462,5398 4975,5825 4676,4743 3601,7456 4351,4404 5582,5224 4154,4539 4215,4567 3783,6557 4977,3790 3207,7053 2609,7635 4496,5277 4378,4059 4068,7344 4531,5626 3348,5822 4122,5728 3835,5273 4547,4733 3612,4628 4154,5019 2890,7311 3708,5412 3904,6502 4843,5551 4657,3088 4116,6656 4185,4815 3214,5777 5632,4297 3107,6261 4075,4427 3911,4103 3666,7285 3642,4114 4153,7283 4619,5915 4767,4443 3979,6285 3540,7434 4057,6655 3687,5082 4003,5889 3486,2731 4278,4649 3671,6286 4106,5233 3822,4037 4489,6156 3774,5151 4236,6938 3830,4929 3969,4772 4468,5093 3691,5062 3182,6597 3757,5998 3199,7027 3364,4433 5777,4811 4343,5228 3927,5826 4524,3685 4012,3830 4795,5797 2903,7962 4079,4063 4079,4294 4565,4776 3957,4299 4958,4905 5270,2877 4257,5992 4823,5238 3537,2843 4755,3812 3330,6498 3903,6687 3493,3608 3591,7293 4647,4580 4112,5895 3720,4428 4181,4241 4700,4105 5564,3459 4113,4360 4313,4776 3998,5306 4223,3583 4409,6686 4398,4806 4403,6085 4089,5963 3904,5369 4543,5858 1775,8240 4356,4732 5859,2365 3928,6898 4553,4878 2743,7275 3429,4921 5173,4773 3814,4757 4286,3769 4398,4322 3555,5895 5488,4497 3839,4958 5020,4967 4850,6475 3224,5341 3844,6912 4719,4089 4442,5922 5200,3304 3664,7523 4285,5311 3737,5515 4221,5557 4646,5020 3526,5343 4800,6620 4297,6924 3094,7564 3931,6791 3812,7157 4238,5073 3809,5627 2781,6229 3834,5284 4198,6227 3435,5395 4124,6737 4066,4554 4587,5987 3260,4865 3276,5549 4913,5402 4943,4533 2741,6623 3880,5064 4806,4540 4147,5638 2979,5765 4677,5570 3790,3707 5387,4046 4949,5353 3889,3661 4342,6114 4097,3125 4554,5598 2737,8412 4808,4273 5019,4054 3821,6242 3570,5275 5043,3374 5560,2190 4292,3799 4792,5160 4200,4274 3769,4939 4427,4759 4165,5484 4252,4975 4294,4642 5379,4733 4483,6925 4204,4400 4387,5650 4254,5474 5156,3713 4179,7254 3901,5912 4160,4317 3267,5913 4226,5493 3534,7180 4552,4601 4837,5767 3351,6474 3717,4210 4615,4693 5134,4368 3678,5231 3575,7023 3693,4578 3257,7731 3574,4987 3977,4820 3337,5870 3487,5712 4041,6898 4288,4083 4723,4000 3634,6702 3230,7028 5485,3905 3886,4289 3426,7545 4762,4785 3681,7271 3359,7191 3482,6698 4836,5605 3796,6887 2974,6852 3784,6476 3911,3750 4049,6201 4246,5166 2861,4643 4112,2991 4318,5917 4009,2801 3549,7005 4114,3260 4933,4704 4183,5393 5175,2575 3936,5696 3656,4889 2498,7156 4271,6822 1777,5596 4299,5478 4053,6015 4054,7211 4314,2844 5768,5301 4296,4478 4345,4213 3556,4363 3509,4236 4278,5963 4694,5472 4928,5901 3221,5594 4479,5348 3083,7660 5671,4438 3906,6771 4047,5190 4305,4836 4567,4525 4357,5503 4344,5934 3460,6566 2740,6507 3695,7012 4330,6167 4845,5326 4191,2800 4097,6435 3881,5301 3916,4428 4350,5334 3905,5949 4212,4646 4317,4039 4013,3391 3912,5981 3209,7596 4381,5584 4707,4882 3553,5283 4353,4359 4193,4030 4555,4240 4780,2945 4481,4026 3554,4265 5014,6237 4072,5587 4146,7082 4711,3731 4375,4781 3312,8017 3477,5496 5138,5762 4086,4683 4338,4064 4243,6375 3251,7963 3752,6747 5077,4054 3401,4898 3118,7366 5111,5019 3878,4984 3805,7573 3462,6041 3730,6005 4872,4198 2944,4459 3616,5381 4672,3513 4484,6662 2452,8292 3585,5756 3563,4377 4493,5862 4900,3828 4011,3600 4214,5764 4337,3805 3544,5814 4103,6121 4698,5330 3736,3994 4711,4215 3651,4383 4219,5032 4069,4860 3349,4168 4756,4093 4638,4190 3105,4729 4371,4753 3679,7165 3039,8227 4889,5523 3326,6734 3810,7264 3267,7239 3136,7320 4224,6346 3588,4444 4096,3583 4700,4482 4234,7305 3822,5284 3518,7666 4240,4732 4625,4409 4010,4783 5481,3562 4985,4458 4179,6112 3217,7627 2952,7915 3481,7497 4235,3397 3674,7123 3540,5642 3796,5216 4774,5377 4061,6546 3610,5984 5167,6058 2993,6594 3907,7419 4852,5434 3813,5663 4038,2947 3720,4099 3912,3581 4874,2800 3491,5151 4327,5457 4854,6600 3341,4801 4298,2590 4031,7105 3814,4434 4152,6233 3698,6741 4127,4884 3460,5052 3989,6723 2858,4803 4300,3563 3703,7026 4586,6304 4126,5940 4033,4686 4178,6778 4311,4960 4343,4713 4376,6138 4264,6483 3454,5701 4109,5537 3863,5644 3541,7310 3259,7890 4321,5352 3595,7377 3596,6773 3383,7430 3416,7317 4230,5220 4247,5927 3419,4941 4695,3429 4579,5527 3519,5890 3650,4001 4268,5413 4367,6902 3654,6839 3493,6635 4312,3342 4819,5516 3240,5819 3367,6386 4349,5354 3573,5700 4714,4067 4750,6505 5175,5699 5107,2204 3714,4007 3898,5598 4132,4707 4288,6922 5047,6283 4382,4801 3977,5309 4145,6717 4937,5235 4135,4887 4361,4159 3046,7968 4415,4583 3800,6040 4008,3744 4440,6370 3739,7052 4293,6394 4605,6538 4898,3201 3147,7783 3833,5982 3933,4070 4727,4002 3448,7047 3849,6184 4603,3253 3981,4918 3833,5132 4889,3932 4476,5401 4030,6581 4322,3461 3611,7293 4103,5670 4180,5240 3326,6320 3871,6152 3144,8144 3740,4900 3794,6259 4696,3441 3083,7274 4670,5179 3833,5838 4879,4702 4322,3746 4147,5799 4687,5024 2815,6161 3813,5231 4851,5105 4224,3516 4296,4354 4844,4016 4720,4233 3080,7097 5502,4529 3227,7014 3944,5354 5134,3879 3604,6023 3353,4233 5315,5160 5914,4144 3788,4965 4020,7428 4035,7160 4301,3859 3378,6503 3316,6341 4831,4163 4650,4527 3834,4906 3066,4160 4080,4160 1760,8262 3852,3709 4350,6498 3502,6946 3984,6501 4472,4687 3817,4382 3969,5551 4374,3170 3983,6884 3380,4928 3160,5577 3228,7977 4516,6913 3521,5902 3846,6372 3343,5371 5327,5097 4113,3631 3692,5434 4001,6745 3922,6418 3329,5644 3328,4026 4271,3277 4177,3091 4902,5534 3163,5758 3792,6095 3174,7289 3961,6763 4480,6517 4028,5953 3881,4611 4193,4810 3921,4794 2783,8299 5175,3984 3809,4312 3709,7448 3548,7024 3555,4721 4763,5321 4108,6522 4313,6761 5630,4320 4071,5693 5397,4132 4299,6864 3581,6753 3619,6678 4672,4834 4343,3928 4144,6899 3560,7633 3703,5761 3573,7419 4688,4155 4071,5027 3430,5045 5335,3668 3802,5471 4388,4840 3056,7980 5332,3681 4425,4947 4300,6130 4882,5252 4836,5858 3402,5758 4368,5737 3523,7132 3718,7116 4274,3769 3634,6768 4102,4185 4798,3768 4484,5739 3451,5136 2437,3979 3433,5501 4838,3723 4698,2569 4745,5108 4168,4933 4682,2269 4107,3539 4622,6087 2939,5389 3745,7570 4008,5572 4546,4810 4062,4520 4501,3909 4602,5044 3651,5888 3757,3744 3696,6447 3188,6589 3995,3807 3225,6867 4003,5978 4217,4565 2930,6192 3840,4184 3588,6817 4910,3995 4415,5863 4838,3924 4344,5929 4061,6864 2679,6061 3952,4653 4092,5376 3710,4393 4547,6058 3573,7283 4006,3719 3641,6384 3508,5214 4202,5051 3389,7950 4630,3272 4213,5228 5551,2395 3584,5156 5207,3348 4667,3462 3072,5325 3805,6718 4278,5434 3485,6203 4633,2529 4458,4332 4046,6012 3451,4993 4593,6377 2930,7839 3478,5356 4507,4272 3729,5805 3490,6455 4966,4251 3953,5137 4143,6045 3397,5635 4817,4635 5059,4413 4295,4295 4310,6360 3645,6255 4578,4919 4111,5737 4363,6943 4404,6716 4342,3659 4824,3787 3207,5097 3691,4761 5118,6511 3612,3708 3326,7141 3507,3311 3154,5827 3127,6021 4499,4428 3918,6023 5111,4243 4753,3512 4085,5218 5514,5468 3685,7226 2286,6096 3790,4669 3112,7706 3996,4162 3794,5535 3525,4849 4748,4945 3060,5043 5390,5112 3394,7625 4353,4414 3816,6453 3455,6467 5975,3659 4123,4266 4840,4077 4345,6486 3837,6671 4728,5428 4231,4835 3280,6243 3595,5614 5013,4213 3798,5775 4110,5619 4436,5186 3980,7264 4102,6632 4326,7057 3532,4030 2561,6471 3753,6301 4509,4576 4339,5149 5455,4722 3890,3820 4687,4475 4939,4773 3166,7884 4316,4215 3588,5703 3643,4847 2935,6064 3707,4310 3516,6424 3389,6444 4016,6678 3154,5208 3413,7455 5506,4569 4293,3740 3378,6868 4429,6025 4141,6509 3419,4526 5706,3720 4527,4767 3569,5198 4643,5311 5489,4479 3969,6205 4200,4038 4001,4291 4892,6418 4733,4551 4800,5082 3489,7482 3353,5007 3559,7248 3952,7037 4612,5042 5329,5081 5745,3972 4264,5268 4401,5275 2959,4537 3228,4704 4626,5172 4239,6495 3813,5936 3661,3205 4438,4142 5378,4450 4918,4687 3028,6626 4632,6234 3246,7481 4892,4536 4735,5763 3611,4744 3418,7519 3950,6357 3355,4922 3612,5993 4543,5972 3921,7141 3686,3713 4078,5543 4228,3631 5300,3828 5496,5697 3892,5571 3786,7302 3801,6869 3177,7392 3963,5423 3843,7158 3521,7319 3851,4301 3459,4903 3867,7634 4507,3265 3317,5149 3831,4593 4233,6404 4107,5619 3867,7298 3343,8003 4473,5151 4782,3601 3538,6387 3707,5652 4157,6850 3783,7507 4572,5433 4185,6563 3929,5069 3983,3679 4374,2570 4969,2792 4106,6015 3931,3562 3565,6833 3853,5034 4451,5436 3538,7851 4490,6990 4298,4627 3573,4302 3932,5041 3427,7045 4187,5416 4650,4524 4101,4948 3773,6676 4622,6132 2979,6025 4341,5863 3514,4470 4937,3715 3573,4466 4030,4763 4287,3636 3222,4962 4735,5776 3932,4091 4003,6148 4277,6419 3993,4436 3523,6444 3776,7556 4227,5294 4035,3383 4643,4096 3300,5701 3426,7355 3915,7534 4603,4607 4172,3912 4385,5323 3670,6120 4655,5055 3885,6024 4686,4801 4106,6207 3501,6519 3964,6813 4257,3371 4937,5043 4316,6079 4082,5230 3873,4624 4669,6798 2933,5405 3649,5430 3899,4235 3923,6745 2839,7246 4124,6011 4387,4214 3361,5248 3474,3883 3714,5252 3445,7098 4061,6513 4003,5599 4559,4638 4783,4901 3782,5637 4338,6129 4567,5527 3651,5225 2475,5241 3226,6954 3310,3793 5004,5305 4322,4405 2557,8347 4134,2764 4008,5525 4310,4124 4035,5899 4209,6026 3525,6357 5101,5005 4576,5963 4554,4517 3327,7529 4437,4605 4807,3650 4171,3020 3441,5033 3334,5826 3144,8128 4769,3897 5156,6216 2646,8487 4027,7269 3732,5138 3273,4916 4193,3664 3636,6773 3490,4928 3128,4402 3927,6199 2708,6228 3681,4475 4622,4452 4199,4880 4036,4162 3434,7327 5087,3187 3624,4908 4188,4124 3807,7226 4002,4084 4255,6207 4153,3656 4428,6447 2870,8018 4419,4536 4173,2457 5004,2735 3125,4943 3365,6017 3121,5084 3586,4376 3937,6834 4281,7200 3764,6512 3514,6196 3129,7940 4235,6714 3824,6432 4464,6169 4703,5635 4307,4888 5249,5043 4419,6022 4382,4108 4214,5378 4316,3244 3967,7331 3214,7941 4839,6492 2508,5589 3014,3754 3317,5975 2824,7268 4635,6240 4259,5919 3807,6053 4118,6589 4373,3986 4284,6192 4169,4062 4091,6006 5141,4066 3631,5676 2973,5634 3145,7200 3612,7417 4642,5235 4707,5484 3393,6981 4612,4594 3575,6877 3911,5320 4445,3127 4459,5951 3908,6216 4477,4061 3837,4456 4164,6680 3980,4332 4004,5505 4998,3830 4003,4905 3515,6793 4234,5616 4056,2655 3477,6565 4325,3872 4417,6113 5129,5636 5929,1460 4635,3318 4106,3748 3417,6306 4056,5910 3364,4889 4684,3962 4212,6717 4667,3818 3237,7271 3928,4667 4594,4615 3829,4896 4837,4971 4171,4528 4664,3885 3370,5795 3223,6116 3153,5213 3214,7048 4254,3331 3934,4338 4048,4673 3081,6957 4527,5074 3696,5367 3526,4520 3661,5859 3652,6068 4838,4017 3576,6333 3327,4194 5156,3241 4521,6127 3840,6627 3416,5960 4287,6068 4743,5635 4718,3976 3530,5750 4086,6348 3957,7009 4406,3871 4624,3502 3840,7371 4053,6365 3417,4773 3314,7317 3713,6160 4561,4815 4211,6258 5280,3770 3846,4136 4047,6178 3645,5042 4568,4960 3462,4844 5207,5026 4073,4779 3228,6061 4216,6812 4975,5535 4049,4532 4416,3349 4811,4673 3779,4512 4507,5459 4758,3703 4639,6018 3714,4877 3905,6096 3573,7767 4157,5785 3829,4645 3193,5558 3832,5845 5121,4635 4638,6021 3282,7363 4404,5142 3868,6180 4996,4738 4041,4193 4301,5166 4451,6486 2455,8412 3322,6182 4482,4357 4602,5828 2819,8292 3911,4919 3788,6314 4475,5603 3537,7529 4298,6541 4166,5681 3765,5737 3269,5198 5659,4074 4931,3589 3680,6504 4406,3608 4293,3759 3636,5485 5174,5055 3987,3636 4828,3379 3674,7251 5183,3783 3269,5154 4452,5510 5555,2058 4632,3945 4332,5854 3332,4035 5201,4655 4095,6052 3350,6855 3454,5459 4109,5729 3368,6825 4653,6762 3869,5221 4233,5007 5393,4644 3107,6431 4498,4911 3523,6700 3559,5598 3603,5845 3609,5583 3860,4591 3811,7405 4220,4808 4034,7180 5396,4021 3825,4117 4004,5942 3812,7301 4096,4960 3738,2328 4141,5064 2991,8247 2775,8335 4046,5088 4367,3873 3403,4939 4544,4454 4025,5346 4144,6822 3663,5718 3991,7232 4748,4364 4081,3326 4339,5786 3311,5737 4612,5132 2923,8133 4038,5137 3986,5985 3905,7174 4114,3379 4039,6259 5479,5658 2950,6181 4734,4419 3719,4412 4736,6474 4128,5433 3784,6473 4439,6582 5254,5935 4588,5152 5210,4123 2990,6157 3920,6350 3989,2775 3694,4676 3959,6144 3656,6447 3944,7555 3357,7779 3060,7709 3986,6466 2624,6673 3716,5806 3077,6933 4335,5176 4107,6677 4171,3664 3511,7569 3368,5253 4457,4674 3570,7675 3431,7374 4051,5298 4436,3784 3773,5420 4372,4740 4716,4711 3875,5581 4420,5523 3914,5082 5063,2168 4568,4884 3497,6054 3521,4853 5322,3899 3947,3693 3236,7657 5197,4530 3918,5663 4045,5632 3381,6868 4154,2178 2909,6097 4398,6361 3914,4793 4883,4109 4315,4166 4717,3547 3561,6188 3679,4867 5361,3701 4525,5052 4747,3228 5764,4006 4472,4310 3029,7047 4603,6230 2678,7513 3634,7514 4471,3796 3782,7084 4397,5249 4510,2074 4380,5453 3982,4426 3852,5909 4042,6997 3996,4982 4456,7010 3222,7311 3535,3477 3960,3076 3428,5978 4537,4445 3422,7369 4741,3951 3506,7570 3901,7378 3586,6232 3275,5603 4778,3807 2971,6285 4314,6385 4574,2808 4890,2757 5356,4217 3407,6539 4815,4290 3724,6705 3722,5691 4021,6968 4460,5388 4314,7238 3867,6423 3710,4692 4319,5723 3748,2302 2771,6696 4836,5565 4281,4241 3119,5483 4179,3872 3572,5830 3851,7247 4198,6871 3960,5011 4131,3510 4195,5545 3501,7430 4156,6785 4766,5984 3152,7413 4424,6733 2289,8561 4340,3368 5055,2990 4873,3319 4129,3629 4397,6201 4479,6632 3570,7186 4110,6302 4320,3772 3674,4790 3491,6998 4710,4742 3129,6876 4205,3846 3804,5948 4232,5313 4017,4392 3848,6130 3915,5578 4424,5005 3232,5594 4531,6974 4141,3575 4489,4884 3940,6743 4242,6575 3589,5426 4241,5887 3967,5898 3466,4688 3488,5332 3133,6444 3824,7130 3209,5531 3461,4933 4376,5394 2614,8316 3493,7793 4339,3608 4307,6734 3603,5415 3785,7181 3781,6058 4976,5479 3984,4436 3208,7944 3441,5251 4757,5382 3674,5135 3430,7288 3771,4686 4241,6031 4042,2920 4586,4817 4524,4891 4484,5736 3958,5010 4532,7054 3534,5795 4841,1869 2561,7739 3950,6173 4273,4989 3723,6874 3025,5315 3755,5931 3458,7487 4454,7106 5890,4126 3546,6033 4293,6300 4163,4692 3164,5779 3263,6479 5202,4208 4244,6860 4632,4022 3825,2646 4852,4140 4706,4323 4092,6783 3945,5547 3630,7652 5268,4603 4907,4802 4003,4389 3795,4398 3786,6120 4239,4318 3653,7701 4086,3587 4203,3655 3916,6546 4318,6073 3551,6736 4401,4226 3592,7015 4314,3703 4159,3459 3744,4074 4784,3989 5406,2371 4176,7197 3444,4160 4043,7158 3592,4748 3942,5752 4295,3916 2895,7279 3830,3959 4739,4450 4226,6501 4727,3618 3662,5120 3935,3976 5252,5033 4757,5107 3978,7511 4307,4198 5392,2028 4020,5996 3960,6628 4640,4387 3188,7442 4607,2571 3903,7438 3561,6120 4449,2404 3219,7056 3124,6348 5316,5254 2890,7250 4261,3916 4186,5984 4696,5442 4739,4928 4843,5086 3767,4875 4863,5629 3046,5350 3897,6003 4707,4377 3776,2659 4356,3632 4215,6739 2893,7281 3581,6879 4683,5096 4193,5803 3553,4329 3380,2880 4602,5183 4198,5102 5385,5316 2706,6111 3461,5865 5498,4425 4293,5757 3545,5643 3452,6723 4875,5292 3526,5694 3834,5379 3823,3075 3605,7014 3588,5736 4118,3249 4997,3954 3914,6049 3726,4983 5725,5366 4161,6198 3263,6740 4437,3292 4474,4520 4358,5831 4023,5219 3063,8191 4906,3824 4143,5645 2403,6573 4114,6967 3462,7600 3182,8001 5580,4842 3140,6045 3143,7951 3236,5578 2903,7318 3722,7116 5203,4333 3811,6910 3733,7013 3988,6085 3817,7042 4256,3936 4079,6248 3114,6964 4921,4540 3176,5397 3993,5794 4042,5705 4533,5015 4946,6416 3667,5515 3539,3474 3616,7216 2813,8170 3955,5513 3229,6018 4306,4134 5542,4604 3857,6343 4477,6625 4467,6395 4950,4883 3900,5763 4444,5542 4804,4161 5145,3590 5871,2716 4136,3971 3939,4020 3570,4379 4074,4365 3715,2018 4167,6344 5496,3540 4623,4960 3441,7914 3502,7362 4171,4529 3152,5242 3948,4680 4251,5621 4406,4181 3504,6151 3800,4934 4000,5619 3204,5990 3658,5263 4413,4360 3241,7879 5187,4863 3173,5380 4200,7369 3428,6815 3457,6254 3717,7351 3974,5758 3176,7104 3819,7146 3516,7642 4146,3342 3074,3790 2785,8324 5561,5343 4816,4062 3956,3971 4340,6366 3514,4463 5112,4035 4186,5755 3904,4337 3425,4751 3112,4710 5517,5111 4716,5856 3370,7985 4080,6498 4933,3858 4656,3055 3452,5698 5009,4726 4468,5777 5111,4510 3420,5451 3728,7122 3468,3300 3685,6050 4056,6326 3578,5199 3179,6655 4460,6515 3948,6462 4432,5080 3898,5650 3649,5967 4457,3465 3713,7728 3767,5398 4071,3659 4746,5665 3901,4895 4774,5003 5044,3855 6107,3798 3995,6418 4509,4765 4392,5377 3620,7409 4313,4476 5771,2722 4223,4600 4959,3448 3083,7360 3809,7551 3032,8026 4158,3672 3708,6345 3753,3496 4515,6632 2268,5734 4115,4604 4487,6687 4717,5107 3208,5935 3739,4807 3012,7680 3979,6241 3329,7686 4570,4176 3953,5304 3033,5270 2973,7143 3876,3093 4567,3987 3610,6123 3256,5942 4848,3452 4772,3765 3512,5848 4751,5527 3617,6489 4574,6237 4014,6013 4819,3974 3611,6412 3928,6339 3554,4660 3627,4705 4699,4676 3853,4498 4253,4268 4291,5773 4878,5706 3846,6839 4163,6212 4479,6607 4774,5255 3413,5093 4717,4216 4040,3850 4392,4072 3748,3702 4672,6510 3371,5599 4352,3475 3751,4288 3247,5855 3645,4108 4020,4351 4205,4966 3498,6187 3437,6014 4547,3929 4592,6449 3103,5412 5121,2772 4888,5408 4416,4002 5295,3596 3693,2635 4461,4735 4876,5499 3864,7487 3271,7308 4115,6445 4053,6220 4072,5600 4970,6542 4479,5475 4181,5034 3835,3012 4791,4416 4415,4280 3260,5639 4011,6720 3840,5886 3914,5997 3213,6842 4045,6009 3121,6821 4282,4045 3344,6339 4134,5079 3936,4698 4129,4541 4209,5531 4706,3221 3351,5529 4832,4814 4803,4850 4320,5579 3683,6721 4188,3519 3630,4894 3899,7165 5199,5610 3723,7355 5467,2843 3940,6652 4148,5008 4292,3596 4123,6284 3755,7311 3863,6152 3337,6084 2805,7029 2061,5667 3874,6908 5151,5259 3842,6860 3966,4226 4207,2392 3547,4075 4751,5986 4334,4427 3185,7937 4216,3829 4051,6261 3364,4769 4131,4097 4524,4739 3888,6178 3678,5230 3823,4974 5570,5431 3481,5281 3644,6279 3318,8021 3873,4284 4397,4736 4308,7000 3330,5825 4418,6161 4153,7368 4090,7332 4173,4980 4827,4399 4183,5026 2754,5847 4393,4145 4800,4431 3954,5557 4940,5765 4367,4877 3603,5080 4197,4814 5184,2657 4597,4081 3972,6594 2974,3913 3880,7581 3210,7750 3130,6115 4413,4119 3131,7238 3958,6684 2822,7864 3378,7919 4460,5132 4537,2617 5490,5675 5310,5506 4002,5784 3330,6191 3934,4816 5083,4741 4045,4957 2646,8164 5756,2384 4819,4159 3975,4555 4748,4304 5003,2449 4858,5598 3664,6134 3080,6138 3467,6238 3570,7247 4002,5029 4569,4542 3790,4755 4803,5859 4165,5264 3370,6346 4805,3929 2845,6751 3717,5301 4580,4510 3950,5236 3323,3442 4510,1874 4194,4483 5833,2544 3366,6338 4288,6419 4407,6168 3055,8110 4303,4726 2881,6952 4495,6672 4140,6414 5110,4804 4473,6347 4223,7027 4739,4037 4246,4313 5155,1728 2482,8462 3419,7044 4159,4471 4190,4649 3930,5460 4407,5743 3070,7153 5871,4395 3894,4729 3322,6865 3845,3699 3495,4023 4071,4668 2926,4878 3933,4817 3453,6645 4184,2064 4019,7316 3044,7010 3952,7445 3789,7208 3154,4514 4491,5320 3784,4029 4465,4700 4155,4020 4391,4040 3734,6458 4314,4882 6802,514 4715,3644 3437,7878 3312,7785 3496,6278 4518,5721 4016,4512 3696,5068 5159,2314 4355,6751 4855,3482 4020,7209 3790,7449 3470,6498 3131,7729 3831,6850 4047,5838 4191,5659 4384,3434 4332,3907 4352,4309 4581,5555 2847,7735 3248,7500 2602,5599 6109,3897 3943,5330 3714,4795 3227,6065 3671,3533 3143,5219 4731,3124 4565,6522 3163,4412 4607,4264 3639,5059 3571,5569 3377,6035 3993,5133 3243,7880 4707,4637 4206,6520 3698,6272 4446,3665 4458,5233 3165,6993 3651,5243 5271,2334 3106,6735 5498,3582 3210,6021 3576,6107 4095,6888 3977,4881 4235,5740 4318,5054 3928,6514 4041,6029 4162,6185 3954,7061 4336,5362 3348,5665 3672,2743 3664,5786 4026,4700 4239,4083 3601,7604 3121,5398 4944,5085 4721,2378 4187,5811 3240,7742 4747,5864 3934,5868 3120,5850 4305,5131 3311,7982 4775,4993 4744,5404 3083,6202 3611,4465 3000,6761 3714,6016 4036,4500 3920,7547 2848,4189 3439,5618 3262,7360 3017,5689 5504,3698 3715,6040 3988,2774 3897,6267 4181,3808 4089,6275 4487,5759 3896,6428 3872,2631 3881,4488 3570,7759 5268,3134 4591,4712 3981,7419 4149,6694 3630,4330 4954,3081 4003,4691 4637,6416 4257,6185 3905,5233 4083,6552 4416,4307 4312,5902 4047,6461 3615,2710 4319,6177 3503,4539 3441,6753 4539,5259 2688,6323 4257,6081 4664,6602 5535,6036 3812,4565 3497,4192 3436,2296 4074,7065 4598,3166 4327,3311 4012,6608 3862,5808 5027,5303 3978,6733 4440,4573 6078,3817 3970,7544 4165,6936 3148,7123 5067,5068 3629,6041 2997,7988 4377,5589 4781,4181 4294,2200 4544,6587 4471,6702 3924,5726 3878,6986 2026,8945 3873,4052 3350,7827 3767,2407 2984,5460 4070,7260 4381,5748 4152,4155 3881,7307 4126,4124 3902,5202 4503,5734 3871,5443 3374,6300 4148,6097 3546,2965 3874,3271 3791,7209 4595,4702 4501,4251 3941,6524 3437,4522 4706,3440 4030,4916 4231,4007 2819,6192 4314,5693 3920,6058 4440,6287 3394,5342 4115,6014 3869,5199 4646,6050 4399,5965 2289,6408 3457,7587 4041,4012 3868,3068 4474,4786 2823,5213 4871,4736 3980,5340 2694,6476 3770,4308 4249,5150 4319,6268 3862,7573 3672,4919 3902,7058 3268,5028 3930,4594 3727,5098 3038,4029 3298,6067 3185,8033 3785,7076 4577,4197 4852,5437 4388,3604 4858,4870 3308,7217 3780,7057 3272,7651 3292,5879 4041,5475 3949,5161 5097,5136 4754,4943 3378,5253 2391,8259 4195,5979 3716,5215 3182,7468 4005,5067 4422,4218 4786,6470 3421,6572 3908,6769 2619,8392 4837,5671 3350,7402 4304,6571 4002,5304 4540,6249 3498,6500 4386,1993 4406,4685 3807,5845 4072,7309 3441,4637 4656,3503 4219,4278 4354,5974 3872,1951 4347,6602 4503,6532 2999,5592 4422,5158 3088,4913 5300,3774 3886,4972 3380,4048 5290,3286 3179,7846 5061,4463 4585,3440 2948,7984 4520,5309 3102,7317 3316,7066 3634,7502 2988,6825 3843,7147 5186,3690 4281,5310 4296,6929 2834,7646 4104,3519 4329,5394 2687,6095 2966,6033 4994,3497 4572,2671 4464,3607 3495,7196 3742,7383 3821,6017 3073,5564 4722,5720 3564,6293 4316,5329 4102,5466 4288,6280 3679,3858 3679,7657 6104,5107 4366,5494 4566,6234 4429,3309 4430,5140 3915,4733 3551,5004 3825,4060 4438,4570 3715,6428 3111,5821 4735,6235 3441,7022 4477,5080 4254,6876 3968,6709 3829,3471 3793,7395 3634,6887 3381,6650 4917,3826 3330,4915 3287,7797 4237,6036 5736,4978 3171,6331 3839,7639 4554,5896 4378,3940 4500,3782 4445,5069 3679,6004 3097,7946 4023,5124 3832,5502 3955,5870 3495,7440 3711,7359 5065,5230 4262,4559 3611,7379 4195,5247 3524,5110 4511,5375 4716,4254 4296,5932 4385,3490 3985,5795 3768,4604 4422,5933 4326,4388 3756,6313 4282,5122 3081,5484 3787,6536 3210,6760 4157,3171 3768,6803 4534,3454 3084,5151 4072,4833 3447,7031 4217,5308 3659,4287 4199,5354 3395,5550 3509,4986 4079,4268 4079,7106 3019,6297 3453,4696 4057,5086 2633,6334 3904,3662 3584,5982 4040,4943 3797,6184 4113,6966 5297,6224 4750,4820 4272,5113 4190,3790 4208,2575 2472,8544 3361,5627 3450,6271 3771,5578 3060,5425 3089,8118 3340,6944 3166,7434 4293,3803 4291,3010 5274,3361 3792,5063 3266,5949 5405,2575 4189,5560 4209,5326 4068,6398 4188,6405 3731,3420 5650,2066 4688,5027 3389,3803 3533,6391 4915,4204 4238,5409 4619,4461 4195,3239 4122,3710 3799,5121 3640,5212 4818,4265 2945,8168 3916,4316 2572,7805 2828,5545 3731,7173 3742,6958 4457,6816 3797,4804 3177,3405 4870,4050 3951,4039 4008,4502 4650,5240 2970,6348 4724,4943 3394,6949 4248,3582 3262,6230 4009,2923 3641,5513 3751,7205 4413,3581 3712,6188 3804,3698 3400,5279 4673,6093 4208,5535 3208,6170 4665,4310 3838,5988 4016,6922 4545,6083 3436,4844 4080,3896 3445,7220 5047,4631 3445,5684 4432,6611 3637,4848 3719,5193 4572,5939 4366,4388 3566,5205 3196,4683 5375,5205 4357,4832 3324,5270 4379,3759 3464,6047 3256,7405 4782,3542 3251,5084 3839,6232 4882,5200 4151,4676 4040,5581 3835,7644 3829,5265 5095,5804 3197,6497 4214,4471 4351,6100 4731,5838 3796,4970 4610,5777 5734,2320 4843,4615 5188,3367 3775,4900 5284,5464 4988,5089 3678,5706 4418,6364 4605,6130 4812,3404 3011,7121 5558,3022 5004,6158 3876,6228 2157,6641 4590,4301 3218,5202 3378,5451 2878,5350 3530,5909 5841,4601 4596,5254 3774,7616 3344,7072 4330,5352 4243,4614 3283,5957 3194,7799 3436,5880 2513,8471 4284,5563 3619,7314 4431,5488 3901,3519 5156,4749 4623,3115 3465,6706 4107,6918 3748,5514 4024,5999 4354,5062 3503,4843 4394,4883 2644,5889 4082,7353 3981,3979 4214,6674 3109,7391 4897,2848 4724,4908 4278,4389 4474,5601 5704,2657 4961,2083 3916,3637 4114,3405 4258,4430 3887,5950 4506,4365 5176,4228 3615,7812 4376,4858 4595,4465 5114,4177 4629,4516 3141,6144 3193,6091 5693,2728 4127,5253 3954,5801 4732,5053 4010,5852 4612,4393 4714,6239 3504,5227 4884,5631 5341,4911 4056,7028 2783,5348 3926,6029 4894,5584 3903,6398 3962,4384 5073,4514 4053,3502 4517,4795 3455,4595 3586,4107 4775,6048 4280,3813 3901,6977 3786,6321 3037,5513 4436,3770 4625,4841 3494,6501 3514,5799 3638,6063 3543,5934 4229,6006 3116,5282 3654,7619 3553,5596 4574,4324 2981,8231 4922,4739 3536,5134 5364,3557 4606,4606 4191,7059 4656,3967 3439,5730 3560,5205 4243,5866 3205,7944 4983,5765 4616,4335 3808,4949 4164,6450 4376,4691 3761,7228 4409,5080 4632,6069 3807,4636 4439,5539 4003,5732 3621,5564 4923,4840 5042,3925 4531,6646 4209,5118 4686,6277 4533,5056 4062,2835 4908,4853 3999,5011 4469,5124 4550,2094 5454,3774 3807,6851 4290,4819 3857,5024 3702,7057 4007,4835 3737,5199 4572,3420 4059,7306 5697,2225 3407,5881 3525,7518 3259,4445 3495,7301 4429,6552 3546,7834 3402,5727 4608,6817 4603,5258 4352,5029 4652,4735 3645,3890 3060,2470 4059,6419 4422,7044 4938,4364 4694,4983 4253,3710 2913,5339 5438,2778 4149,7059 4830,3455 4221,4020 3834,4017 4584,5450 3946,3044 5940,4253 3638,4429 3984,5292 3881,6107 4191,5317 5127,4593 3804,4806 3658,4798 3884,5518 5033,6244 4352,3876 4125,4744 4084,4037 3443,5850 3597,790 5769,3773 4657,5427 4193,6372 4470,4868 4199,6175 4489,6170 4233,4744 4602,3000 3692,5561 3778,5835 3823,6779 4614,3493 4059,5345 4835,5018 4074,7220 6053,4212 4558,5527 3781,6409 3212,4479 3926,3267 3319,5004 3627,6096 4484,4468 3804,5891 6293,5121 3417,7771 4591,5665 3885,4149 4643,6554 5582,2478 4554,5589 3576,4988 3915,4316 3941,5211 5304,3447 4405,4129 4372,5651 4033,6300 2992,6070 4665,5110 5119,3673 3560,5884 3651,5091 5120,2488 3502,4725 3228,4901 4868,4700 2923,7700 4664,5566 3665,4720 4285,5791 5330,3463 3890,2605 4285,3604 3169,4215 3509,7716 4421,5213 3306,5945 3569,4632 4160,5292 4013,6037 4206,3796 4447,6339 3809,5996 4183,4563 4075,3725 3633,5321 4590,5953 4254,6031 3713,6166 3171,4653 4252,7092 4151,7070 5535,4544 3293,5905 4162,3642 4203,6132 3121,6274 4307,4033 4313,4513 4541,4106 3203,5723 3356,7811 4623,5162 4445,2149 4819,6545 3350,6868 3992,4705 3128,7800 4776,5252 4485,6435 4739,6319 4195,4499 4673,5246 4499,4611 3687,4372 4270,7293 3813,6542 4333,6069 4115,5278 3569,5951 3848,6020 3543,6860 4664,3637 4598,5277 4309,4912 4122,6424 4433,6010 3805,5766 4092,5081 3616,5290 4300,6086 3954,6826 4128,3105 2427,6146 3847,6695 3930,6810 4272,4962 4142,4940 4868,3626 5641,2443 3617,7783 4808,5811 4225,6706 3803,5214 3834,5534 4591,4348 4684,6107 3659,6858 4309,6345 4747,5040 4083,5229 6096,4087 6802,1253 4224,5372 4446,6101 4210,3404 4494,4090 4796,4560 3653,6751 3660,5474 1959,8948 3287,6030 3694,4447 5030,5382 3792,6643 4146,6199 4824,3241 3899,6958 3220,4243 3068,6532 4546,5019 3615,7157 4791,5649 3536,7470 3337,4968 4169,5200 4665,3817 3938,3602 4402,6155 3474,4822 4521,5958 4248,5303 5248,5668 3516,7163 4960,5519 3271,5384 4510,6296 4128,6327 5695,3235 4737,4903 4553,5241 4303,5192 3952,5080 4278,7001 3705,5774 3386,7030 4545,6241 3828,7224 3828,4925 4286,4144 4010,5627 3771,4857 4298,4355 4061,7138 4095,4609 4382,4668 2991,7134 4409,4576 4944,3622 2758,5599 3749,7591 4162,4576 5188,4501 3052,4983 3462,7682 3807,5914 3739,5391 3889,6952 3985,4305 4639,3997 4813,4874 3952,5639 5758,2253 5452,3570 5398,5188 4065,4270 3875,6689 4559,5026 3898,5719 4735,6822 3379,5940 4424,4375 3218,6788 3859,4993 3609,7620 4322,5926 4110,5951 3946,3721 4883,4700 3689,5128 3168,6164 4819,6290 4071,5996 3368,7527 3786,4393 3819,3146 3479,7551 4165,6607 5581,4098 3870,6751 3286,5437 4246,5567 3611,6143 3773,6645 4423,4353 4485,3870 4429,5335 3598,4129 4260,3420 4074,3234 4174,3344 4634,5131 4874,4793 4484,6170 3968,4724 4714,5004 3502,4249 4182,4634 4212,4222 3928,3627 4683,4814 3066,6313 3892,4859 3841,4905 4182,6441 3683,6447 3521,6170 4069,5801 3757,5630 5888,3278 4439,6500 4651,3537 3416,5068 3392,5434 3168,6676 3861,4368 2956,7454 4533,5936 4633,4481 3580,6788 3719,5587 3128,5857 4930,4759 4030,3514 3305,7518 4325,3949 4242,7300 5892,5210 3537,3550 5558,3810 4366,3978 3126,6809 4571,3780 3236,3728 5063,5934 4090,2984 3713,4981 3692,6975 4062,5507 4443,5768 4398,5892 5323,5606 3203,6577 4788,4673 4176,5513 3777,7640 3809,2583 4934,5163 5176,5226 4907,3843 4053,6144 3964,3705 4045,4728 4657,5387 3629,6880 3202,5580 4818,4231 4095,4692 4094,7433 3677,7241 4800,5167 3300,7387 3604,7670 3227,7292 4395,5135 3047,4474 3181,4093 3204,6167 3768,7041 4572,5623 3560,7270 2635,6756 4789,5589 4017,7123 3611,7587 4490,6609 4418,4535 5054,4678 3199,4782 3309,4565 4250,4992 4899,4593 4270,6705 4167,7023 4875,3834 5863,1933 4416,5109 3097,7978 5038,5000 3446,4977 4284,4899 4710,3847 3057,7821 4638,5761 3861,3634 3647,7299 3875,4438 3527,4571 3824,6741 3909,6277 3294,7582 4120,6332 3717,7162 3770,4537 3700,4713 3338,6220 4695,5150 4162,5161 4882,4360 2814,7300 3322,5569 4868,5050 5228,4401 3238,3869 4241,5237 4270,4498 4295,7144 4098,4359 2665,7975 3832,6005 4408,3977 3307,3970 4149,4853 4831,4191 4323,6627 3506,5008 4256,6912 3669,6996 3968,6054 3935,4839 3644,3977 3919,4781 4232,4070 4162,6061 3513,5550 3708,6698 4412,6421 3988,4522 4295,4384 5124,2993 4710,5091 3656,6658 5912,4377 3591,5689 4605,4143 4471,6522 4020,6800 4879,4247 5291,4113 4004,4480 2847,5762 5038,2260 3356,5406 4616,5683 3420,7432 3860,7147 4228,5988 4164,3900 4043,3715 4527,3678 4607,4472 4096,4171 4385,5088 4562,4117 3296,6531 4317,4764 3238,5888 4457,3673 3789,5083 3905,5148 4199,7009 5547,2195 3740,5805 3895,5400 3309,5017 4774,4740 3959,3375 4113,6852 4076,3408 3902,4788 3695,4951 4163,5538 3233,5487 3346,5711 3656,6451 4323,5750 4238,6367 3970,4776 4199,6793 4355,6209 3566,2702 3993,5825 4796,5132 4256,5328 3499,7724 3385,6713 3951,4579 3766,4023 3296,7279 3784,4065 3873,6962 3881,6950 3244,7674 4004,4795 4890,4680 4739,4487 3705,6279 4280,6569 3148,7719 4504,4316 3514,7022 3177,5726 3338,6117 3617,7362 3831,6621 5517,5006 3813,5687 3845,3830 3021,4200 4326,6072 4382,2815 3295,3975 3348,6943 3756,5329 2754,5147 3576,5461 3103,6495 4111,6176 3299,5997 4220,5456 4323,6235 4018,7313 4462,3798 3262,2937 3320,7418 5258,5073 4970,4215 4794,5323 4211,5152 3572,7429 4065,5418 4625,5157 4952,6454 4556,3266 4126,6034 3857,6988 3873,6672 5319,5546 3398,6695 4881,4796 4600,5590 4278,4969 4380,4348 3443,7400 4365,5809 3469,4529 4313,3173 4646,4996 4063,4474 4821,4842 4132,4957 3494,4065 4356,5332 4297,7149 6137,4011 4240,6133 3763,3820 4975,4826 3710,5665 3569,7108 3440,7418 4592,3596 4300,4235 3923,5741 4528,4405 5016,4067 4465,3507 3681,4016 4038,4541 3559,6199 3869,4790 5513,5398 4151,5721 4642,6051 4192,5497 3730,4781 4525,5760 4768,4885 3633,6732 3719,5913 4721,3918 3946,6331 3523,7361 4625,3361 4685,5991 4732,3895 3260,3752 3673,6330 4433,5279 2807,6159 4177,6766 4499,3150 3548,5935 3984,4763 6227,5366 3451,4902 3730,6365 3858,7457 5046,4782 4005,6840 3554,4092 4007,6093 3621,5631 3509,7237 3487,7823 4315,3076 3442,6730 4168,4628 1827,8028 3480,5775 3156,5736 3743,4736 3289,7387 4189,5486 3704,3999 3891,5663 4852,5293 3520,7456 3826,4036 3902,4586 3961,6793 3857,3531 3992,6763 3314,5580 4916,3888 3887,7079 3609,5623 3683,3670 5039,4930 3809,4008 4035,5429 3748,5967 4127,5655 5627,2140 3774,6758 3823,4494 3640,6792 4024,6179 4422,6146 5373,4689 4427,4045 4036,5289 4299,3354 4456,4387 3573,4108 4864,3521 3800,5612 3435,4346 4846,4597 4823,4680 4825,3823 3510,6851 6035,4988 4292,3433 4025,4679 3483,5853 4257,4323 3166,5044 3986,4094 4841,3955 4613,5990 4132,5508 3906,4563 3349,7242 3976,6415 3009,6255 4009,7198 3188,4326 3851,4712 4799,6829 4423,6736 4253,6265 3405,6752 5409,2721 4070,4302 3344,7797 4038,5220 4553,5564 4491,4681 3307,6530 4392,3237 5612,4960 4481,6818 3080,7582 4299,4571 4681,4539 4217,5894 4550,4888 3614,6382 3554,7486 4182,5387 3391,5412 3960,3563 4736,5073 3440,4571 4723,5123 4281,6992 3548,6457 4547,2356 4782,4734 2827,6250 4034,6260 4419,3771 3466,5258 4628,5674 4903,4758 2915,6251 3487,6101 3723,5430 4262,7134 5185,4242 4775,4543 2715,8450 4112,4832 4115,5197 4049,5097 4465,4086 3230,7208 3099,7710 4674,4045 2685,6743 4134,7154 4011,6378 3500,7529 3675,6800 3617,4747 4664,5407 4958,5116 3551,6310 4561,6637 6079,3859 4738,3273 3958,6553 3231,5430 3166,6422 4636,2898 4301,5382 3778,5766 5007,3223 4282,4945 3685,5552 3514,4601 3571,3699 4534,5665 3987,6377 4485,5946 4470,4860 3039,5881 3435,7041 4289,7258 3768,5009 4867,5769 4189,5802 3524,7193 4774,4786 4167,4487 4032,7253 3234,5547 3869,7153 4032,4678 3652,4366 4296,5041 3642,4631 4486,4222 4717,5296 4205,5561 4776,5286 2981,5066 4173,6290 3100,6644 3985,6532 3397,6925 3975,6515 3550,6652 3956,3076 3875,4889 3870,4600 3566,5960 3996,5290 4623,5716 4427,6469 4281,6810 3944,4553 4125,4359 4274,4084 3183,4864 4852,5329 5448,6177 2997,4129 4491,6165 4211,6476 3055,6964 4617,2182 4293,3406 3781,6765 4519,3954 3943,5198 3592,5958 3524,6118 2616,8154 4628,5099 3249,4755 3468,5099 4411,5831 3886,5901 3899,5872 4624,6297 3600,6651 3865,5214 3710,2886 4301,3933 3614,7052 6375,1244 3713,5033 3259,7150 4347,6892 3801,5290 4109,4426 3150,4558 4286,5017 3828,6737 3347,3458 4683,6301 4083,3923 3524,7214 3018,5461 4042,4190 4729,4802 4153,6758 5188,3751 4643,4457 4448,6782 4290,5466 3530,6806 4837,3287 3670,4326 5156,5179 3255,6778 4118,5902 5175,3278 4062,7310 4445,3928 3450,7871 4162,3334 3810,3238 4742,4921 4358,4565 4198,6189 4296,6356 4209,7141 3926,5095 3949,6599 4413,4735 3292,7886 4602,4034 3735,7237 4456,3904 3161,7079 4306,6984 3761,5830 3861,6691 3805,5693 4373,5337 3250,7540 4383,6023 3991,6705 3720,4868 4455,5609 4612,5216 4729,5364 4377,6309 4099,5606 4137,6980 4292,3794 5641,5031 4356,2485 4375,5418 4103,4734 4828,4716 3011,6601 4268,5463 3869,4899 3200,6352 4659,6639 4571,6726 3589,6959 4204,3236 4862,4124 3211,7558 3442,5579 4280,3285 3203,7769 3978,7272 3273,7187 3036,3967 3506,5584 3589,6859 3935,6528 3551,5291 2977,6528 3734,7665 4103,4444 4074,2681 3597,7321 3265,5224 4305,4792 4934,3046 4644,6460 3841,4186 4200,3849 5891,4008 5298,4445 3655,5810 4401,6832 5148,2562 3386,4918 3751,4621 3576,4649 4376,5623 3330,7676 3951,4499 4238,7230 3233,6605 4657,3786 4381,6935 3650,7064 5026,4213 4665,6864 3313,7207 3122,7205 4850,3897 4178,6368 4626,3990 4100,5083 4850,4751 4182,6255 3264,6247 4417,4235 3580,5512 4047,7017 3018,6593 4301,3723 3840,4632 4921,2697 3739,7531 4359,5333 3214,3329 4250,3845 4459,6264 4637,3042 3609,6901 4170,6761 2936,5361 3905,4094 5500,4686 4089,6900 4104,6056 4485,3754 3685,5035 4317,5840 5017,3860 4079,6220 4113,4367 4835,4926 3244,6771 3256,4236 4243,3383 4042,5128 4308,6299 4163,3934 4658,4595 3719,6521 6149,4133 4520,3787 4363,5552 4282,5420 4963,3484 3807,7155 3410,3718 4525,5809 6500,3677 3924,5737 4196,4713 4166,5657 4937,4686 3287,4168 3861,7119 3836,7147 4431,3889 4447,4834 3698,6995 4363,6076 4306,7145 4340,6417 4044,6344 3454,7010 3212,6161 3838,3970 3922,4055 4627,3975 3732,6164 4621,5001 4199,4480 5062,5380 3216,7880 5444,2299 4223,4667 5022,3965 4242,4649 3313,4381 6032,4716 4158,4953 4057,4562 3688,7306 3725,6650 2898,6432 4467,3699 4431,3687 4186,3641 4074,5473 4411,5854 3367,7733 3766,5833 4879,4964 3820,5581 3685,6946 3783,6046 4335,4105 4349,6081 3953,5872 4661,5510 4825,3607 4131,4141 3395,7754 3562,5807 4760,3774 3461,4835 3696,5294 3957,5261 4841,5346 4340,5459 4121,6483 4628,5432 3760,6619 4006,3443 3298,7730 3688,5971 4352,3171 4501,5930 4876,3791 4089,7162 4644,6026 4008,4814 4270,5994 3867,5402 4023,4808 3557,5934 3561,5805 3512,6209 4041,5382 3251,7085 5132,5242 4987,4264 3739,5886 3917,4331 3783,4531 4447,3592 3213,7775 4868,2434 4764,6085 3962,6495 3460,4971 4572,5239 3491,4038 3317,5573 3925,7452 4134,3602 4926,5264 3508,6121 4503,5661 4430,4152 5066,4119 4622,5555 4316,3623 4091,6200 3431,6388 4412,4579 3839,5848 3361,5063 3358,6264 4517,5358 3758,6624 3203,6579 4154,5867 3255,7779 4092,4754 3476,6800 3771,5925 4387,4848 4132,4973 2935,5889 3259,7031 4325,5937 3354,5525 4189,5048 3398,7921 4235,4193 3655,6955 3904,7185 2369,6392 3009,8023 4597,5932 4344,5509 4751,5523 4169,5524 3484,6190 5294,3443 4026,6516 4038,6529 3929,5717 4546,3121 4381,4431 4639,4375 4031,3424 2757,8322 4227,4371 3434,4987 4133,7319 3475,5236 3309,6828 3189,5870 4026,5677 4777,4852 3757,3748 4247,6938 4096,6011 4342,2863 3929,7072 6713,3042 3474,5036 4144,6204 4442,5220 3092,5736 4036,6015 4144,4643 3282,5907 4545,5004 3518,6370 3502,6111 3910,7260 5144,3908 4908,5202 3252,5935 4491,4464 4487,4227 5188,3129 4368,7151 4092,6226 3703,6750 4379,4731 4157,6473 3804,5233 3728,6303 3889,5504 4141,4832 3234,6614 3761,4126 3182,7405 3942,5668 4108,1962 3880,5565 4762,6689 3370,4818 4372,6132 5214,3390 4023,5794 5573,3680 3516,5803 4153,6150 3100,8127 3957,5399 4017,7223 3996,4488 5077,3055 3976,6955 4520,4322 3192,6943 3507,4319 4920,4624 4045,4120 4286,5684 4673,3837 3433,5805 3468,6965 2966,7987 4458,5682 3711,5136 4847,4791 3361,6315 3848,6272 3568,7285 3371,4816 3724,4188 4029,5422 3455,3211 4695,5918 4370,5340 4092,5242 4159,5584 5447,3651 3874,4563 3734,5826 4886,4723 3490,4734 3424,5887 4060,4515 3595,6899 2836,6721 3071,5496 4448,3147 4157,4692 4009,4286 5012,5109 4201,2915 3393,4139 4837,4634 4403,5580 4113,3297 4740,4463 3394,5326 4468,5203 4345,6141 3380,7055 4458,5385 3497,4927 4984,4554 3674,7251 3834,6578 4204,4687 5157,4210 3276,7959 4437,5652 4849,4600 3354,6123 4457,5732 3678,7583 3048,6944 3217,7366 4565,5174 4519,4341 3591,5476 4015,5949 3725,6758 4157,3935 3550,6746 3627,5825 3464,7524 4473,5948 3929,7024 3328,5165 3547,6645 4365,5380 3448,5558 4226,3952 4351,6326 3731,5599 3731,5898 4046,7087 3766,5100 3801,5804 5052,2715 4207,5362 3207,5151 3940,6230 4343,4530 4558,4546 5101,4538 4095,6904 4738,5559 3679,5413 3417,7720 4076,6164 3386,7968 3928,4392 3175,6242 3845,4930 4496,5139 4273,4479 3822,4137 2571,8362 4652,4443 2994,4950 4369,4655 3026,5789 4917,2076 3179,4819 4582,3536 3540,6437 3430,4718 3332,5245 3693,5478 3979,3326 3156,6422 4358,6154 4315,5094 5352,5351 4543,5462 3403,6544 3483,5497 4597,6208 3114,7666 3828,6666 4128,5651 3680,4535 3776,6502 3978,6798 4329,4921 4123,3770 4728,5491 4396,5246 3751,4734 4622,5920 4709,4490 2888,8043 4254,4646 4105,5608 2381,4318 3790,7295 3978,7056 3932,3444 3412,4488 3068,7577 4420,4559 4037,5704 3042,5635 4805,3898 4278,5709 4447,5395 4884,5830 4342,2870 3983,7108 3739,6183 5410,4776 3630,5966 4350,6024 3503,5446 4146,4863 4772,6613 5215,4052 5180,3727 4327,5972 4201,4217 3920,5209 3534,6959 2660,8289 3477,7252 3572,7408 4224,5694 4254,6502 4329,4022 3577,6088 3779,4231 5023,5984 4485,4800 4350,5120 3771,6935 3996,5237 3543,6203 3765,7483 3884,6382 4502,3391 3462,5712 4522,5415 3768,4015 4475,4393 2925,5885 4357,5377 3586,5685 4295,3115 3659,5513 5157,4747 4329,4021 3099,6080 3396,5438 3443,5830 4042,6398 4236,4202 4436,4746 4417,6250 3514,5531 3880,5083 4576,4263 4801,2826 3786,4525 3776,3833 4564,4379 5164,5590 3495,6310 3958,5345 4156,5752 4031,4369 4797,4218 3744,6248 3904,5624 3801,2771 4200,5313 4538,5597 4604,5075 4003,5336 3863,7332 4678,4679 4410,5069 4055,5120 4514,3123 3763,4111 3780,6519 3858,7299 3624,5813 3322,7500 3583,5603 3781,4903 3963,4150 4155,6641 3957,7369 3952,2936 5189,4334 4671,3850 3594,6142 3989,5226 4821,3449 3619,5034 4547,4592 3529,5389 3820,5718 5278,2944 4958,3513 3589,7448 3000,6005 4129,4011 3325,7951 2456,8585 4585,3376 5127,2058 4289,5216 4194,6808 3393,6687 4079,3284 3739,5988 3636,6389 3910,4679 4143,4785 4365,3871 3961,3426 4724,4573 3536,5832 3963,4328 3649,6748 4691,5694 3906,4245 4581,4576 3986,4836 4434,5373 4762,5415 4570,5786 5036,5122 3946,6398 3505,6991 3577,6853 4680,1980 4228,6878 4132,6751 4254,6437 3888,6298 4457,6588 5076,5368 4675,4430 4262,6512 2622,8108 3486,4674 4509,4148 4031,3439 3609,5980 3292,6547 3778,5246 4118,5598 4492,5650 4907,4554 3526,7387 4625,2209 2993,5448 3956,4596 3940,4476 3985,3829 4737,3756 5341,5226 3239,6324 4679,3710 4224,5573 3954,2913 4295,4468 2258,4752 3165,7251 3776,4443 4087,5098 4750,6407 3517,7617 3294,4213 5753,2042 3637,6953 4251,4243 4408,6526 3527,7729 4469,5733 4073,4958 4567,4999 3222,6445 3376,6378 3471,4791 3909,6441 4899,2407 4274,3852 4303,6554 5174,4490 3589,3865 4216,5147 4802,4287 5684,4798 3812,6064 4796,5461 4323,3810 4676,4166 3786,6132 4486,2733 4246,4318 4059,3618 2981,4502 5090,5166 4137,4873 4060,7155 3609,6945 3418,4020 3852,7319 4451,6639 4124,6006 3883,5758 5167,2968 3818,4475 5438,2019 3511,4732 4018,6231 3729,5692 4028,5537 4241,2873 4219,5277 4366,6061 4721,3622 4757,5703 3532,5033 4915,5854 5546,2442 2924,5853 4484,5697 3779,6795 4719,4831 4363,5460 4314,5769 3239,4343 4875,5160 3346,7307 4227,4834 4778,4365 4090,4674 4783,4089 4443,4325 4096,5468 3967,7304 2867,5413 4822,5244 3716,4889 3768,6477 4628,3750 3490,3784 3597,5196 4095,3881 3443,5677 4456,5458 4306,5662 4845,3972 3303,4678 3670,4948 3421,3191 4537,3995 3852,5972 5302,4374 4652,5561 4164,3111 4137,5429 3883,6848 5147,5253 4903,3727 3928,6138 3554,4107 4267,6149 4545,4668 3988,5277 3961,6556 3302,6536 3533,6871 4899,4496 3479,5344 5873,5279 4041,6628 5483,4296 3438,7317 4303,4425 3014,7069 5661,4696 4240,4558 3373,4038 3337,7581 2779,7251 2604,8196 4336,6189 5168,3019 4291,3652 4029,6266 3912,3307 4345,6529 4514,3726 3232,6770 3106,5443 3666,5719 3244,5807 3202,6096 3996,5397 3716,7005 5454,2703 3395,7583 2714,5037 4981,3755 4561,3678 3564,5233 3801,5310 3874,6655 4028,6992 4404,4379 4757,3356 4934,5470 4091,5967 3170,5201 3902,4950 3833,5354 3836,3939 3514,3942 4640,6797 4109,6107 4397,4814 5046,4915 3530,7130 3537,4894 4522,3435 3487,7374 4451,3970 3828,7117 2741,8379 4436,5271 4993,3836 4212,4112 4462,5236 4188,4310 3617,7531 3891,7191 3994,4821 3732,5830 3227,5809 3342,6814 3291,7857 4299,3078 3226,6172 3652,6110 3529,5652 3036,7630 3616,6982 4676,6026 3252,7208 4022,7389 3880,6697 3538,5324 4187,3772 3281,5051 5170,4813 4597,5149 3709,6365 4492,4652 4035,5920 3409,6539 4168,3594 3123,4339 3896,4197 4462,4255 5430,3111 4330,4530 4116,6449 3889,7119 4006,4648 3602,4553 4256,3599 4345,6221 3555,6229 5077,2498 5163,4613 4194,6872 5367,5355 3745,5288 3480,6029 4456,3840 2740,5706 4994,6350 3942,6695 4093,4647 3881,4508 3258,4748 3431,6351 4749,4288 3635,4988 3525,5488 4069,2589 3683,6378 3355,7835 4762,5251 4018,5658 4770,3230 3181,8024 4450,6827 3265,5248 3872,6918 5473,4969 4064,4994 5289,5040 4106,5382 4876,5500 4017,4422 3877,4171 4731,3668 4718,5793 4676,5162 2477,6159 3688,5800 3201,5650 2414,3587 4866,3107 4049,6444 3633,5056 3704,5665 3788,5557 3072,7499 3133,5358 4264,4359 3780,4693 4711,5873 4596,4786 3561,5821 3682,5224 3987,3745 3849,3391 4918,2551 3892,4411 4091,4224 4216,4947 3166,7538 4217,4002 4507,5001 3336,6555 3815,2237 3498,6847 3264,7035 2892,5368 4573,5271 4031,6233 3289,7266 4990,4634 3961,4610 4439,4748 5747,3636 4154,6997 4093,6480 4142,5275 4708,4488 5016,4220 3759,5955 3931,7492 4793,5844 4728,4127 5186,2569 4333,6511 4201,2821 4893,4469 3719,5877 3477,5946 3921,2395 4122,4907 4234,5080 5492,4228 3696,5638 4004,3349 4885,3695 3471,5915 4389,3600 4361,6156 4298,4014 3753,4552 3630,5549 5528,4258 4085,5753 4183,5302 3578,6071 4334,4050 4064,6148 2946,7914 4556,4301 4993,4098 2942,5245 3750,5037 3527,5402 4411,5851 3839,5908 3170,6469 4594,6868 3320,5403 6120,4388 3759,7610 3833,4178 3735,6023 4232,3183 3836,7460 3272,5629 3521,3602 5096,4171 5021,4440 4016,6035 3534,6375 3946,6477 3403,7635 3495,7843 5308,5994 3178,7998 3940,5565 3533,6425 4499,4537 3631,4770 4529,4257 5068,4836 3249,8021 3279,6532 4224,6803 3598,7434 4119,4843 3211,7572 2991,4552 3801,6578 4066,4501 4518,6339 3341,7533 4032,6848 4883,5392 4642,3043 3456,4699 3659,5124 3599,4297 4225,6042 4411,5469 5351,1768 4433,5174 4706,2678 4853,4984 4081,6158 3866,5481 3712,6452 4297,4407 4119,4078 3247,3821 3829,5851 3211,4912 3570,7071 4367,5019 3454,7857 3822,5018 3076,6541 2999,6226 5127,4896 4310,4901 4420,5335 4487,4484 4626,4179 3901,6254 4761,6043 3631,6966 4949,4952 3265,5424 4071,6381 4465,3970 4500,3520 5916,321 2813,6083 3077,7032 4461,4263 5254,5779 3888,3538 4004,6623 3650,6782 4402,4378 3642,5928 3428,6214 3656,4890 4865,3669 4222,5440 4006,6024 3564,5994 4486,5224 4537,4358 3773,4618 3916,5096 3549,4673 4032,3916 4702,4858 3741,6687 3458,6249 3043,7287 3084,5611 2719,6912 4635,3371 4381,5078 3902,3122 5698,2588 5423,4173 3463,4988 3841,4352 3528,4962 3820,5194 4357,4578 4454,5855 3676,6809 3710,5007 3369,4576 4655,3409 5360,4002 4369,7061 4499,4676 5196,4576 4011,7292 4589,4186 4093,3702 5314,3001 3689,6866 4048,5173 4475,4229 2894,5422 3234,7094 3090,7614 4206,4494 3514,5660 4203,5153 5540,3886 4081,4676 3726,6068 3864,5331 4465,5248 4473,6518 3393,7469 3169,5261 4188,5348 4090,4358 3794,6314 4026,7498 4364,4857 4120,4373 3667,5065 3018,8093 4621,3723 3972,6751 3683,6755 4302,3057 3670,6941 3267,5043 4556,5493 5216,3813 3985,4938 4295,4012 3987,5220 3933,6159 5064,3743 3794,2572 3000,7226 4749,3242 4486,5818 4280,4090 4040,4226 3182,7596 2966,7316 4256,5367 2853,5124 4785,3750 3790,6022 4051,3416 4104,5479 2826,5872 4228,6080 4032,5651 4137,4875 4260,4598 3102,5177 3821,3807 3338,6546 3611,7588 4314,4405 4388,6132 4026,4515 4194,2982 5396,4380 4177,5029 4315,4808 3632,4885 3634,6779 3596,6385 3206,2819 4184,6257 3221,6425 3600,7061 3926,4632 4298,6399 4136,6420 3490,5471 4201,5621 3768,5424 4217,6053 3636,5433 4140,4595 4059,4505 3820,5715 2694,5468 2963,8018 4330,5770 3939,5211 4354,4833 5702,3233 4167,3759 4562,4752 3574,7279 3871,5043 3291,7649 4074,5580 3943,6519 4698,5486 4483,1547 4281,4737 4283,5220 2881,8041 5477,3778 4337,4198 5180,4631 3736,6225 4588,5347 4258,5372 3780,7366 4069,5991 2750,6221 3844,6322 4169,5924 3067,7928 4408,4876 4279,7224 3937,5809 3014,5938 3782,7509 5529,2219 4648,6092 4309,6081 3597,5346 3248,6244 4660,5801 4471,5451 4073,4819 3098,5359 4483,6595 3720,5220 2333,8370 3761,4556 4784,3477 4174,7206 3964,5575 3950,5381 3755,4662 3031,8055 4340,1900 3985,5246 3682,7177 4163,6269 4645,4009 3487,6649 4906,5362 4044,6041 4510,3521 4637,5134 4893,4978 4195,6034 4440,6622 3873,7626 3693,6376 5223,4059 3558,4013 3170,7522 4948,5701 3761,7039 4365,4161 4270,5282 3368,5575 4095,3974 3661,7249 5382,3216 4301,4087 4108,4063 3941,4683 4905,4618 3967,3188 3722,3820 4537,3306 6246,5310 4032,7141 4076,5797 3621,3846 3909,6381 4467,6361 4471,5563 2212,4962 3071,7819 5010,5745 3449,4779 4646,2778 4611,5918 3121,7013 3417,5264 3677,7040 4775,5901 3735,5911 4164,4631 3399,7398 3953,5627 4694,4247 4227,5178 3797,6384 3526,7175 3984,4017 3885,7167 2670,7760 4021,4593 4404,5350 4986,2534 3739,6432 4470,4542 5034,6160 4435,6822 4446,3704 4349,6317 4156,7110 3524,5807 3639,6761 3206,7655 4347,3515 4225,4761 4000,5476 3788,5735 3552,5599 3063,7930 4050,4765 3596,4741 3515,5846 5656,3620 5359,3801 3703,4270 3686,6800 3711,5106 3483,3950 4434,5897 2977,6337 5481,3908 3048,5130 3105,6456 3948,5040 4289,6961 3346,5556 2891,7951 5476,3137 4175,6844 5223,4179 4070,7319 3452,4286 6317,3518 3124,6780 3058,4703 3717,3087 2805,5800 3473,4026 3662,3134 4350,3196 3845,5868 3367,5626 5119,5879 3614,3493 3774,6506 4068,6970 4057,3789 3882,3692 4106,6538 4470,4687 3617,3373 2009,7505 4811,4781 4038,4720 4171,5893 4462,6843 3352,6588 5818,3459 3807,4574 4318,5379 3912,6082 3828,6304 4936,4475 4591,4199 3437,6009 3527,7224 4543,6541 4722,6590 2827,7362 4254,5278 4049,7200 3522,5141 3788,7241 2532,8462 4702,2848 4354,5095 3663,5111 3533,5172 4258,6590 3470,7283 3266,6092 4325,6567 4620,5295 4680,3954 3631,4609 3953,7279 4290,5599 4405,3520 5237,5086 3376,5329 3731,7631 4202,6860 3321,7917 3435,4566 4881,5443 3934,5114 4963,4674 4155,6113 4685,3842 3547,7476 3348,5505 4225,6492 4502,6670 4194,5863 4548,3061 5177,4323 4973,4902 4685,831 4080,4991 4121,7380 5458,5150 3874,4633 4276,5438 4385,4309 3234,7222 4678,5722 3339,4892 4577,5604 5294,4278 3728,7064 3422,5750 3901,4377 3545,5717 3299,7355 4227,3846 3921,4962 4150,6930 3295,6382 4520,5429 4796,4144 3642,6773 4764,4363 3821,7181 3487,6502 4719,3033 3967,6913 3559,6923 3998,4769 4696,4849 3707,4093 5035,4784 4237,6386 2968,6533 3289,5902 3967,5835 4132,5729 5720,2477 4225,2869 2260,8418 4218,4158 5079,4123 4435,3361 4986,4593 5106,4417 4442,4925 3725,6213 4423,2995 3182,6750 4001,6678 4846,5309 4133,4847 4211,5487 4528,4264 3178,6377 3721,6314 3719,5080 3285,6590 4639,5511 3574,4082 3458,6915 3600,4171 4218,5706 4161,5180 3704,6055 4155,6690 4499,4282 4287,5201 4188,3522 4785,6153 3148,8028 4333,6580 4854,4430 4355,6721 4418,2998 4484,6727 3748,6532 4736,3366 4446,4631 3395,3634 3921,4154 3932,7068 4074,5300 3437,6206 3556,5609 4873,3855 4198,3454 5022,4085 3689,7615 3221,5800 1950,5838 4978,5965 3708,4896 4314,3547 4645,5501 4827,5541 2960,5761 3551,4528 4210,5330 3293,6546 4459,4616 3461,7565 3595,5584 4200,4145 4443,5236 3709,5228 3042,6534 3499,7418 3747,5045 4458,4050 3503,6171 4160,6913 3822,5272 3907,5123 2956,2965 4497,5521 4331,2774 4196,5383 4062,3205 4639,5622 4294,3309 3831,4696 4111,5656 3949,4248 2600,7643 3499,6825 3286,7292 3582,4245 3576,5696 3166,8015 3961,5833 4411,4996 4675,5525 4249,4031 3359,4260 3359,7552 4379,5349 3402,5937 3599,6212 4814,6372 3571,7133 3626,3607 2981,5625 4219,6247 3216,5314 3974,6885 3897,7375 3778,6711 2697,8427 3788,4459 4426,6098 3036,4208 4515,4428 5102,3144 3489,6061 1864,7753 3632,4882 4419,4061 3521,7584 4077,7431 4225,1991 3257,6890 3413,5971 3617,2957 3587,7424 3415,5681 4124,3752 4053,3608 3404,7207 4408,5082 4427,4707 3614,4428 4598,5197 4282,4508 3424,7751 4641,6226 4678,4569 3458,6284 3422,7910 4382,5954 5508,3186 3385,7191 3491,6399 3392,5648 3651,7154 3542,7344 2911,4052 4530,4074 4029,4587 4461,2927 4835,4843 3908,6334 4272,4103 3983,4514 4177,6523 3936,7415 3728,4249 4163,4508 3440,7807 4420,3324 3721,6711 4116,4755 4541,4432 2563,6566 4312,5641 4160,4504 3775,4813 4168,5822 3764,3947 5009,1716 3111,7768 3475,7742 4432,4991 4843,5895 3769,5014 4188,4215 3888,6838 3874,7009 3467,7278 3457,6648 2893,5989 5222,5597 3485,5601 3341,7489 4836,5762 3998,5020 3940,4892 3585,4792 4025,3816 4261,6167 3998,2515 3949,4544 3970,6828 3334,5578 3877,7188 4173,1750 3648,6963 3774,7071 3827,3685 3059,5468 5126,4320 4504,6641 3325,6964 5024,3320 4138,4032 3939,5528 4161,6303 4103,3364 4780,6838 4926,4806 3696,6400 4805,4310 3563,7217 4583,6174 4400,3898 4616,3703 5165,6736 4746,6142 3454,5324 3637,7030 4734,5433 4475,4111 4100,7231 4673,5046 4289,5626 3255,7714 3562,5793 3374,6210 3578,4900 4575,5479 3192,8004 4186,4867 4353,5385 3697,4807 3900,3612 2770,5332 3719,4530 2916,5730 5362,4546 3923,3893 4281,6214 3772,3539 3908,6134 4918,4797 3280,5141 5498,4283 3541,5839 5082,2099 4558,6117 3988,3668 3668,6374 5154,4714 3269,7615 4089,4836 4358,4499 5069,4348 3023,8072 4030,5258 3744,6281 3317,7806 3631,7547 3626,5228 3639,5977 3806,4586 3766,3099 4560,3816 5287,4023 4966,3985 3834,7236 3742,3391 4640,6305 4450,4923 3407,4765 4056,3762 3556,7273 3764,5014 3961,5061 4051,4224 5080,5451 4048,7364 4254,4561 3906,7512 5347,4569 4327,4805 3281,7900 3393,7568 3808,5570 2994,7802 4845,4625 3249,5118 3730,7496 4663,4688 4622,4002 4584,5230 4687,6631 4591,5801 4531,4099 5977,2606 3560,6482 3550,4397 3560,4835 4310,6732 4894,2733 4088,4105 4137,6276 4655,5687 4263,5767 4188,6089 5600,3107 3166,7839 3536,4300 5426,3415 3631,4253 4470,4413 3810,6558 6155,4187 3904,4687 4903,4810 4941,3729 3562,4806 3988,6115 5172,3990 3413,6318 3485,3475 3878,5384 4022,3795 4507,3678 3757,7509 4334,5482 4502,6862 3669,5460 4334,6371 4240,6792 4594,6265 3494,5661 4096,4095 3860,3145 3554,6955 3858,3478 3379,5537 3499,7642 4398,4779 4116,6460 3356,7724 2610,5789 4624,4371 3724,7538 4476,4507 3888,5793 3528,4612 3842,4910 5567,4310 3593,5844 4111,6009 4422,5682 3466,7175 4159,5085 4019,7518 4460,3878 4056,4404 3724,4851 3917,5289 3743,6398 2428,6377 4929,3171 4605,6878 4213,5158 3955,4239 4645,4016 4240,5468 4932,5127 4093,5223 4948,4377 4697,3997 4663,5921 4660,5420 3260,7418 3762,6685 4134,6341 4355,5684 4309,3778 4810,4766 4967,4771 4284,3118 3115,4937 3408,3272 4066,3490 4220,7090 4106,6048 4192,6415 3674,6533 3844,6015 4207,4201 3887,6047 3292,7573 3311,6928 3365,7101 3985,6884 3564,7203 4323,6731 4362,6622 3758,5832 2864,4941 3260,4666 5087,5009 3871,7259 3898,3053 4907,6440 5268,3603 3377,7132 3940,3531 3610,6214 4538,6378 4288,6346 4041,3518 3962,3812 5035,4448 3354,6098 4463,3985 4641,3786 3349,5708 4149,3801 4369,4574 5018,4294 3838,4544 3366,6874 4320,4588 4053,4055 4190,4586 4489,6874 3453,6965 3888,6466 4293,6553 4849,3661 4491,3916 3349,5502 4859,5910 4776,6231 3453,5920 4558,3961 4309,5392 4222,5487 3889,6966 4001,6765 4325,5228 3607,5688 3820,3358 3661,6421 3753,6100 4586,6862 4271,4509 3818,4093 4480,5313 3932,5923 4383,5948 3728,5668 4684,5935 4120,5069 3682,7509 3107,7346 3514,5315 3822,6040 4330,5507 4687,3637 4255,6354 5859,4403 3223,6122 4007,4987 3524,7641 4713,5719 3031,5593 4578,4628 4851,3467 4789,4448 3988,4384 4967,4621 5053,5723 5576,4639 3797,3856 4511,6548 4245,6927 3465,7664 3965,6261 4293,4696 4082,3170 3383,4377 4051,3211 4279,4493 3903,3489 3013,7830 3649,6945 3429,3065 3654,4529 4824,4836 6245,3633 3075,5607 3649,6240 3785,7169 4067,3513 4057,4444 3993,5784 4380,4176 4397,5713 4432,4198 4325,5010 3088,5665 5156,6146 4848,4350 3925,5284 4478,4472 5081,3606 4331,5092 4563,4513 4279,4533 3636,5046 4191,4895 4098,5245 2956,6301 3980,5480 4823,3618 3940,4530 4512,5612 5931,3546 4253,3968 3781,5452 4385,3413 4505,5706 3790,4920 4215,6955 4164,6271 3599,5497 3911,7361 4593,4282 3520,6612 3292,4800 3299,7077 5456,4602 4481,5212 4523,4509 3855,6272 4674,5037 5000,4222 4213,2676 4748,3950 4811,6004 4951,4540 3984,3505 4592,4622 3210,6802 3024,7003 5093,4879 3483,6182 3274,5830 3795,4572 3609,7652 3158,4632 3800,7260 4833,5374 4222,4825 4399,5417 3252,4779 4560,4374 4605,5726 4371,4437 5307,2533 3292,6472 4419,6049 3570,4285 3794,6005 3437,3280 4475,4884 4405,5187 3647,5930 4229,4287 5060,5969 4482,5324 4963,5594 4198,6583 4153,3730 4260,3124 4627,5251 5698,2840 4556,5025 3053,5013 4571,3890 3417,6559 4074,6773 3948,6670 4157,4378 3429,6680 4046,3360 4398,4966 4869,5180 3579,6081 3818,5778 4460,6229 3783,5240 3802,5611 5719,4410 4856,4777 3415,5763 4499,5607 4589,4090 3663,4401 5003,3484 3187,7186 4792,2775 4884,5301 4248,6188 5604,2094 3752,7123 5479,3300 3024,4982 3615,7387 4530,3790 3780,5785 3764,4179 4712,5807 4619,3248 3820,7662 4512,4228 3609,4894 3363,5886 4579,5870 5001,4366 4408,4309 3782,3319 3470,6957 4069,5745 3338,7433 3319,4827 3542,5574 4456,5777 4417,6930 3559,5064 3152,3668 2177,7758 5143,3675 4272,2488 4131,6416 3404,6823 4008,4519 3966,6288 4366,5942 4603,2991 3247,4298 3658,3555 3599,6573 5065,5138 3119,4161 4458,6051 3562,5838 3321,6451 4092,5297 4560,3338 3895,4957 4678,4320 3076,6727 4169,3227 5408,3448 4127,6753 4137,6859 3892,6289 3774,7673 4450,5533 2914,5805 4389,5265 4491,5613 3926,6323 4604,4992 3542,5225 4114,6713 3712,6302 3017,8179 3635,6835 3822,3490 3507,6832 5048,2467 4451,3540 3448,6902 4126,5744 4402,6651 4362,6447 3540,4573 3851,4924 4738,5491 3905,5768 4581,4494 4586,4340 4422,6892 4025,4247 4059,4143 5862,3136 4023,4661 3718,5584 3892,6750 4182,6537 3191,4488 4101,3662 4540,5780 3961,6748 5040,4958 5370,5725 4410,4601 3956,6141 4611,3794 4015,2937 2715,4617 2772,6155 4722,4333 4343,5496 4885,4170 3504,5981 5741,3539 4164,5591 4233,6022 5828,3050 2721,6324 5035,5154 3067,4759 3453,7805 4158,5658 3314,4724 3797,4176 3102,7203 4816,5478 4863,5352 3867,5922 4081,6082 3767,7472 4296,5663 3967,6985 3701,5067 3336,5961 3420,7232 4226,4146 5011,5301 2386,6989 2666,7564 4546,6246 3997,5271 4538,4748 3437,7677 2240,8083 3865,5398 4663,5550 4301,6510 4924,4202 5005,5022 3895,4999 3638,5444 3293,5347 4420,5308 3949,4008 4132,6636 4111,4193 3624,7459 4237,3701 4390,5646 3373,6965 4719,3282 4972,5856 4097,4468 3817,6222 4755,4198 3838,6035 3249,5760 4028,3158 4113,4478 5484,5155 4047,4400 4120,6825 4314,6367 3472,7601 4353,5183 4361,4317 4583,4615 4481,5852 4427,6911 4566,5012 3761,3440 3734,7589 6021,2075 4672,5913 4523,5222 4479,4089 3195,7505 3687,3817 3708,4991 3511,5182 2992,7897 3868,6935 3945,5590 3519,7254 4245,4050 3749,5124 4339,3996 3979,5555 4663,5771 3668,7470 3849,7206 3579,5894 4029,4530 4482,6076 4079,6083 4841,4965 4847,4786 4037,4891 3147,7581 3464,6091 4998,4107 4063,5925 3403,5743 4777,4230 3689,4951 3674,6268 4168,5650 4622,4974 3993,2793 4068,6142 3056,7063 4636,4474 4006,7326 4055,2142 4470,4612 5917,4997 3698,6343 3631,4583 3600,5445 4201,3959 4947,1384 3679,6732 3635,5477 4458,5440 4771,5655 3950,5828 4284,5341 3465,7262 3736,7468 5216,4024 4211,6608 3759,5533 3497,7856 4593,6364 4184,4273 4598,5588 4456,7025 4396,6228 4520,2749 4297,5620 4171,6377 3831,7024 3862,4475 3821,6041 3940,3678 4429,3820 4211,6717 3935,2556 4706,5964 3970,6875 3838,5116 3788,7578 3934,4923 3576,4639 4313,5295 3464,4931 4661,5140 5137,4338 3371,5246 3466,7193 4758,4409 3437,6855 4125,4036 3496,5995 3295,6747 5243,3893 3908,4034 3068,5455 4293,3074 3422,7344 3244,5127 4669,5474 4842,3398 3088,7298 4333,6906 4264,5344 4511,5307 3598,4523 3329,7691 4046,4860 3810,2163 4682,4720 4443,3065 4996,3473 5041,5530 2837,8026 2970,8012 4098,4845 3891,4771 4445,5407 2887,8206 4016,5616 4985,2664 4599,2887 4675,6630 3454,4076 4041,4080 3288,4937 4268,6169 5281,2588 5053,4164 3946,5326 5324,5797 3895,5824 4103,5366 4869,3024 4706,3704 5162,4341 4094,6850 4264,5145 4904,4924 2660,7415 3588,7327 3647,6294 5637,2332 4778,4547 4534,7048 3510,3261 4250,4097 3868,7151 4210,4329 4847,4618 3544,7092 3328,5315 4127,3641 4767,5806 4382,5554 4123,7390 3747,6051 5708,3646 3505,7537 3504,4390 4128,6370 4059,5679 3730,4960 2777,5622 3735,4611 3326,5259 3762,4507 4297,4498 3278,7296 4400,3733 4149,3928 4191,5028 3200,7256 3900,5134 4579,5247 3567,7271 4549,5680 3038,4197 4413,5340 3908,7208 4066,5132 4745,5849 1775,5686 4419,6152 4597,4106 4578,5419 3876,4269 4194,6226 4854,3424 3965,3571 4644,5243 4314,4493 3987,4275 4552,4320 3744,5341 2945,7561 3436,7749 3798,5618 4335,6452 4347,4311 4069,4137 3856,6111 3918,7079 3545,6832 5152,5660 4671,4384 4008,4446 5553,4790 3035,7972 3772,6432 3564,7273 4013,5864 3916,3287 3572,4612 4995,5302 4089,7440 4818,5176 4395,4010 3484,4959 3606,4643 4553,3100 4518,4222 4919,5377 3375,4798 3518,7022 3340,7778 4462,5594 3754,6814 3422,3354 2863,7381 3855,6162 3790,6092 4160,4134 3386,4845 3131,6824 5085,4848 3888,5766 4367,3551 3936,3890 4348,5433 3151,4609 3775,6722 5913,4508 4095,3521 3598,6202 4361,6693 3017,5287 4042,5651 3631,5873 2608,6419 3974,4350 3842,5177 4869,2930 3305,7527 4716,6387 4347,1832 3397,7013 3443,7065 4110,5089 3651,7398 4200,6198 3723,7164 4488,5839 4219,4741 4339,5796 4669,5573 3920,3779 4151,4082 3686,6726 3373,4377 4347,6966 4548,6154 4360,6633 4402,3728 3581,6102 4213,5549 3539,5694 3613,7293 4928,5763 4194,4361 4365,3779 4499,7008 3063,5455 3152,7695 3433,6991 3874,6775 3788,3425 4658,3378 3764,6185 4520,3280 5496,3883 4053,5948 5024,5216 4162,4521 3348,4153 4156,6221 2797,4116 4030,5667 3227,7728 4851,3586 3785,5981 3977,6726 4862,5445 4254,7036 4589,4192 3335,6432 3643,6075 3445,6363 4545,5829 3035,7239 4302,7218 4215,6903 3729,7119 2747,5821 4273,6020 4731,5688 3642,5845 2892,6971 4629,3779 3357,7112 4502,4645 3968,5257 3879,3510 3844,6740 4596,5096 3379,6586 4596,5701 4247,4865 4258,5271 2742,7096 3465,7920 4893,6204 3628,6177 3788,6919 3641,6105 3922,7106 4955,4390 4025,4040 3909,6334 3957,5496 4345,4159 4263,4845 5066,5654 4069,7461 4258,6506 4547,6239 4484,4471 4240,7000 3231,5282 4440,4261 4813,6211 4610,4221 3640,4335 4731,4788 5621,3494 4712,5804 3751,2933 3847,7130 3411,4816 3871,6700 4219,4216 2936,7545 3899,4046 3199,6270 2885,6613 3433,5652 4478,5923 3875,6359 3547,4719 3790,6308 3845,4815 3867,2753 4718,4042 4242,6548 3673,6765 3550,4868 3119,7467 4189,5618 4383,5406 4679,3961 4838,4515 2995,7612 3703,5423 3706,6717 3877,4157 4302,5309 4159,5310 3588,6316 3803,6433 3397,5090 4641,6871 3917,7276 4020,5084 4126,6715 3786,5987 3586,7799 3941,5544 4389,6270 4789,4244 3927,7334 4329,5269 4101,6932 3684,6002 3522,5757 2796,5096 3497,6034 4851,4878 4150,5780 4617,6723 5003,3166 3789,6096 4072,5487 3835,5593 4648,3281 4711,5670 4013,5179 4171,5887 4957,4970 4960,5146 4952,6150 4294,2844 3651,5557 5107,2726 3083,3586 3880,6905 4800,3497 3753,3623 4230,4819 3504,4509 3351,3576 4367,5366 3226,7376 4139,6224 4823,5417 4279,6421 3667,7609 3629,5940 4088,5365 4040,4267 3588,5377 3508,6772 3729,6267 3445,5034 3824,5793 4243,4809 4489,5568 5921,3585 3709,4403 4537,5390 3608,7086 4019,7215 3228,6177 4449,5675 4839,3949 3773,7017 4843,4028 3616,5450 4639,6775 3788,5378 4478,3414 3982,7516 3922,4266 4459,4885 4349,5088 3964,5329 3380,7364 2915,4858 3364,7357 3826,6798 4188,6625 4887,5172 4105,6106 4601,6262 3303,6469 4762,2127 3934,7036 3569,4879 3720,7350 5117,4342 3505,7714 4167,5306 3459,5004 3148,6020 2977,5607 3963,6391 2743,6532 3815,6542 4826,4519 4402,3930 3796,6340 3985,4741 3319,6457 3809,4625 4101,6080 4043,4300 5209,4142 3992,5455 3236,5577 3015,7373 3649,4868 6259,3021 3881,4716 3859,5026 3842,4740 4197,5540 3635,5095 4564,4389 3919,6090 4483,5022 4520,6772 4447,6029 3555,5294 3780,5861 4884,4476 4586,4690 3472,6699 4746,4010 3713,7050 3712,2241 4341,5096 3557,6767 4543,5325 4107,4218 4661,6612 3523,5801 5353,3780 4682,6629 4192,7121 3318,6096 2989,8143 5535,3771 4126,4713 3866,3937 3974,5551 3640,4793 3456,5620 4196,4496 3659,6735 2472,8571 4477,3445 5227,4722 4281,4209 3532,5172 3639,4139 4584,3722 4256,5917 3707,3036 3745,6198 3943,6637 3619,4641 5286,2370 4082,6072 3583,5301 4100,5010 3722,6334 4277,2869 3604,7144 3066,4886 4235,4229 3814,5407 3848,6748 3357,6462 3459,7394 4164,3671 4050,4538 4398,4718 1916,5801 3685,4812 5238,4116 3116,6406 4096,6480 3398,3195 4580,6450 3291,5175 3582,5294 3649,6909 4215,4523 3825,5244 4242,4849 3581,4272 3125,5399 4073,6564 4537,5729 4431,7082 3333,6469 3602,5921 4311,5291 3530,6550 4675,5080 4328,4069 3719,5983 5420,3959 3925,4652 4234,2818 4525,4930 2858,7724 3556,5015 4254,5143 4358,6070 4263,6677 3687,6765 4589,6497 4656,3701 4554,4367 4126,4244 5657,5127 3600,7434 4070,3580 4219,7112 3239,4066 4470,3733 4505,3951 4154,6633 4627,5385 4321,3231 3969,4898 3271,5075 3174,7662 4256,4858 3320,7482 3840,4295 2918,6995 2961,5325 3422,7604 3891,6488 3034,6093 4022,6281 4404,5989 4065,7443 4504,6107 4133,4984 4164,6528 3916,7362 3503,6552 4515,4146 3081,5639 3883,5557 3477,6492 4830,5009 4493,5116 3406,4229 4534,2823 3913,4226 4167,6822 3632,4735 3278,4762 3692,5129 3875,2944 4587,6969 4040,6266 4574,4518 3027,6942 4058,3519 2719,5964 5135,3120 4173,6469 3671,5653 4782,5770 4778,5593 4450,6408 4696,4895 3554,6214 4638,4884 3848,4074 3428,7469 5405,2623 3487,5026 4772,4500 4772,5392 3871,6487 4973,4712 4271,5181 4250,5439 4400,3865 4014,4802 4460,4117 4212,5187 3708,3258 3044,7935 4038,5151 3423,5016 3411,5838 3917,7225 2235,8528 5526,5460 3598,6692 3933,2944 2785,5610 4098,4287 4420,3817 4363,5214 5084,3329 4589,5559 4381,5842 4276,6413 5159,3465 4209,5351 3608,7810 3896,6603 5499,4385 3201,5333 3415,4696 4268,2911 4023,6238 4301,6167 4603,4305 4279,5411 4130,4478 4869,4249 4171,5046 4660,4181 3983,4560 4265,5122 3804,5102 3484,5688 3062,5561 3354,7040 3853,5812 4184,4705 3763,4966 3642,6819 3834,3993 3650,6670 3642,7752 4503,5829 4284,4308 3576,4872 4878,5657 5361,3924 3022,4978 4125,6568 4038,3759 3514,5926 4981,4405 4896,4335 3487,5600 4004,4596 3872,5080 4639,5602 4073,4613 5074,2532 3227,6620 5152,3120 3749,6916 4238,3978 4100,6289 4459,5137 5353,5686 4244,4855 3679,7148 5051,3277 3880,6958 4782,5701 4519,4533 2636,6669 4823,5639 3862,7181 3591,6886 3156,1097 3655,7199 4643,3669 5733,4489 3856,6221 4862,4910 4314,3718 3576,7352 4609,4440 4802,5534 3980,3723 5583,3268 4399,4597 4168,4055 4226,3891 3374,7140 3903,5681 4933,4015 4623,4995 4927,5039 3946,7010 3558,7588 4526,3913 4392,6808 4267,6089 3191,5467 5580,3330 5069,6181 3743,4263 4245,4993 3005,7856 3864,6198 4585,4911 4509,5663 3973,6067 4507,6095 4581,6166 3022,6952 4307,5792 2710,6209 4655,4162 4089,6712 3986,4563 3781,5240 4446,4591 3613,6795 5110,4336 3625,7003 3832,3567 3607,7765 4922,5624 4384,4340 4081,5064 4287,5420 3543,4570 4939,4866 5169,3868 3640,6016 3692,6660 3247,7167 3938,4600 4893,5734 3698,6661 3885,5589 4440,4473 5622,5611 4489,5109 4280,5570 3024,8009 4460,4599 3712,6083 4009,6903 2936,7040 3514,6347 4698,4502 3994,5578 4367,5908 3606,4406 3337,7338 3844,5525 4538,6016 3809,4898 3838,6233 5897,3397 3096,6719 3567,7181 4579,6377 4942,4252 3626,6337 3630,3634 5218,3878 3888,4300 3497,4546 2988,6244 3199,6507 4880,5203 4291,3245 3504,5871 3976,4933 2611,8409 3906,3237 4564,5439 4374,3735 4794,2125 3938,6496 2173,8390 4063,4892 3894,4419 3682,7711 4305,3683 4018,6689 4407,4678 4067,4813 3992,4626 4607,4595 4708,3982 4381,5319 3771,6442 4297,5649 3237,5440 2916,6691 3392,6430 4264,6816 3647,5398 4192,5688 3601,3958 3920,4528 3442,4871 4376,6697 3329,7638 3292,6100 4001,5745 3440,5779 4969,4343 3429,7380 3436,5435 3442,4778 4546,5976 5328,6255 2909,7859 4115,7416 4125,5339 3699,4880 4102,4849 3079,5288 4903,2634 2920,8223 3896,7284 4126,4783 4257,4196 4541,6854 6321,3054 4247,2622 4926,2961 4905,4342 3458,6875 3430,6757 5379,2126 4234,5923 4833,4870 4511,4669 4222,5250 3043,6241 3917,4614 4477,5552 4542,2883 5877,4168 5356,5102 4713,5542 4890,5589 3871,6669 4670,4832 4631,3497 3894,4505 3747,4552 4303,5915 3759,5669 4028,5290 4677,5709 3686,5535 4381,4724 4887,5423 4498,4665 5262,3291 2808,4866 3748,7424 4714,3961 4906,4748 4412,6870 4656,4067 4530,3332 3098,6465 4528,5684 4644,4467 4131,7396 3465,7730 3570,5561 4543,4711 3759,5796 3086,7856 3694,4689 4023,7002 3332,5880 4760,3482 4718,4859 3200,7049 3869,5841 4162,3463 4252,5131 3617,3468 4588,3547 4347,4119 4157,5210 5094,2848 3462,6468 4652,5897 4113,5431 4966,5734 3399,7583 4221,3823 4423,5861 4822,5132 3891,4629 3792,5416 4780,3526 3583,4509 3762,7586 3916,6032 3571,5977 4417,3924 3934,6067 4590,5433 5170,4946 3849,7029 3293,4990 3944,6393 3274,5372 4410,2452 4321,4218 3860,7540 4413,5618 4833,5878 3296,6597 3734,7448 3665,2702 3385,6569 5700,4693 2748,6642 3888,6789 5577,3971 3043,4972 4119,4715 4276,5067 4289,5786 3985,6616 3685,6456 4514,4214 2912,5296 4692,5587 4558,5313 4337,5105 4220,6806 3564,7831 3764,4547 4115,5613 3209,5218 4231,6513 2765,7479 5957,2750 4193,5749 4719,4274 3534,5679 3078,4522 4716,5342 4101,6243 4619,5409 4195,4036 4695,6549 3801,6303 4975,4182 5552,3853 3951,6010 4700,5682 3515,7137 4203,3995 3644,5344 4213,6601 3789,6537 4620,4589 4625,5953 3477,6873 4004,5741 3468,4394 4071,6501 3713,7542 4296,4453 4093,4382 4295,6689 3777,5159 4665,4103 4291,4516 3862,3138 3968,4353 2989,6981 3884,7052 2981,7626 4326,6743 3865,7219 3408,6565 4185,5777 3382,7603 4001,5174 4471,5225 4243,6995 3550,6621 4738,4845 3642,7681 2933,6557 3597,5472 6145,4206 3609,7048 3358,4860 3859,5616 4348,3396 4229,4102 3909,5305 3563,7569 3537,4977 3677,7388 3818,5062 4108,6088 4778,5079 4071,2667 3973,6789 4282,4128 5467,5873 3603,4557 4230,5681 4378,5481 3859,7415 3179,7308 4249,5590 4125,7063 3936,4548 3668,6307 4307,5366 3853,5911 3736,3672 4677,5644 3647,7108 4476,4123 4121,4997 4451,3689 3309,4032 3618,4903 5276,2664 4038,5125 2961,8032 5229,5712 5565,4957 6065,4711 4621,6037 2932,6813 4518,5768 3942,3107 4463,4648 3956,4028 4754,5203 4290,7032 4750,5299 4314,6145 4830,5240 4038,6312 3987,6587 5129,2876 3495,5395 2857,5248 5810,3101 4338,4370 2892,7872 5182,4883 4067,6446 4227,6500 5048,5514 3890,4824 3470,5606 4495,5308 3607,4511 4982,4218 3166,7486 4510,5635 3941,6781 3537,5151 4603,3667 3686,6981 3624,6653 2963,6821 3623,4544 3985,6127 3978,4615 3791,4006 3564,5823 4242,6180 3326,6233 4789,5866 3940,3624 3351,5815 4160,5012 4389,3118 4358,4756 3900,4368 3740,6231 3233,5351 5325,3340 4513,5596 4894,5123 3280,5347 3610,5123 3904,3854 3723,7698 4344,6106 2833,8034 4646,3872 4242,6183 3874,7219 5212,2380 3833,5366 4826,2951 4170,6234 3471,5288 3751,7199 3998,4227 4682,3660 3285,6981 4586,6847 4272,7104 4496,5599 4919,5035 4064,5171 3816,5181 3290,7612 4797,4666 4455,4813 3888,4992 3455,4452 3862,5435 2675,5765 4264,5127 4878,4457 4937,3148 3540,6068 3121,5231 3723,7326 3725,7528 4343,4081 3814,4277 4127,3970 4110,5532 4483,5679 4235,7125 4067,6244 3571,4932 3379,6316 4067,6857 4775,4296 3125,7142 3735,5515 4101,4830 3936,4380 4609,6908 3292,5890 3513,5606 4313,6148 4019,4334 3858,5574 4018,5206 3576,4466 3612,7068 3645,4729 3660,7693 4135,5847 3773,5497 5568,4700 3642,7128 4399,3317 4644,5722 4247,5603 4186,6220 4433,3683 3366,6564 5075,5830 5171,1966 3454,6577 4930,5347 4564,5765 4445,5504 3225,6261 4981,3901 3944,2655 4598,4150 4581,4585 4184,4314 4414,5224 3813,6455 3655,4809 3948,5179 4544,5859 3902,7375 4285,6246 3790,6541 4019,5520 5163,3723 3508,3807 3955,5598 4355,3445 4777,4346 3547,5144 4113,6001 3581,7078 5001,3889 4535,4392 4274,2698 4455,5336 4618,6263 3804,7248 4073,4240 4309,2718 3798,4909 4247,6733 4201,4221 3160,4473 4543,6567 4317,3794 4948,5393 5537,3047 3841,5216 3332,7660 4261,3997 4452,5799 4218,5856 3334,4583 3689,7688 4012,4175 3517,7327 4079,6221 2072,8043 3132,5894 4560,5257 5197,3941 2776,7028 4160,4853 4569,6163 3897,7221 3949,4100 3556,5601 3935,6786 3849,7177 3934,2783 4536,5585 3560,6955 5389,5229 4344,4962 5127,5415 3241,5774 4600,4188 4491,4051 3159,3984 4210,2172 3853,5996 4763,4965 4354,6532 3482,5536 3579,3699 3812,5319 5620,3080 2899,5162 4518,5454 4088,3140 3334,4664 3864,5042 4480,5601 2818,8331 3983,6014 3907,5836 4639,6243 4747,5835 4648,6218 4584,5344 4167,4388 3748,6066 4279,3195 4767,6616 3693,2782 3767,5503 4423,6614 3143,4608 5563,2137 3416,7312 3919,5881 4000,6763 5555,3758 4801,5619 1990,8964 4448,5500 3561,4492 5176,4495 4449,4565 3028,7836 3157,5032 4050,4906 4978,5040 3313,7473 2828,5223 3914,5406 4637,5335 3748,7621 4421,6377 4014,6569 3792,5860 3878,7456 3901,6082 4266,4761 4329,3255 4451,6577 4408,5527 3438,7222 4264,4141 3892,4782 3861,3612 4127,5210 4858,4993 3961,4320 4414,4293 4640,4064 3887,7429 3490,5607 3313,5194 3042,5812 3745,7376 4740,4896 3813,3847 4690,5158 2425,8057 4058,6222 4817,6240 4663,4239 4891,6100 3632,6457 4210,5834 3519,5729 4417,4215 3600,6696 4165,5134 3793,6835 3620,5897 3387,3692 3916,5768 3811,7211 4875,4479 4487,5747 5140,3731 3544,5184 3834,5691 3559,5436 4192,4922 4671,5003 3134,8131 4326,6494 3071,7740 4478,4174 3920,4683 3237,5354 4675,4487 4590,2686 4329,3145 3661,5053 3504,5097 3301,6869 4150,6084 3823,4897 3542,3363 4032,4590 3909,5679 4342,6576 4088,4550 3532,7069 5089,5083 4412,4160 3131,5999 2820,7929 3353,7444 3422,7144 3819,7575 4420,5715 3255,4061 4813,3775 4229,6676 3253,6876 4724,2977 3594,7656 4891,3912 3869,4287 4081,4040 3871,7008 4096,6650 3798,7670 4084,6436 4145,7366 3907,4518 3627,4058 4189,4065 4342,5502 5178,2585 4699,3265 3969,6432 4482,3758 4460,3803 5638,2862 3858,6985 3760,7327 2953,7325 3200,5851 4069,4911 4336,6580 5305,3611 4275,2944 3610,5167 3817,7644 4294,6030 4218,6512 4071,4432 4107,7325 4873,4799 3927,6218 4473,4970 3494,4509 3758,7018 4723,4134 5133,3384 5146,5928 3736,5471 5067,6109 3542,7848 3691,7508 4939,4599 3934,7113 4295,3405 3506,7461 4314,5483 3733,5219 4317,5668 3867,6170 4108,3048 3640,5812 4467,6317 3313,7746 4547,5475 3996,5730 3509,7744 3279,6138 4638,3694 3717,5089 2916,5054 3963,5904 5003,3721 4094,4137 4531,6090 3550,7619 3847,7367 3844,6324 3446,7668 3759,5028 3494,3941 3902,6737 4077,4797 4622,5067 5091,1962 4584,5480 3918,6011 4078,4824 3927,5176 3538,7808 5443,5576 3683,5534 4621,5248 3684,7190 4248,4772 3921,5933 3866,6299 4408,5701 3172,6813 3796,6018 3131,6193 4003,5890 3578,7292 4357,5541 4387,6201 3173,5681 4946,5248 3277,6838 3876,6056 4493,4085 3901,5788 3749,4346 3341,7701 5030,3750 3050,6154 3463,4387 3192,5418 3035,4910 3720,6564 4517,6145 3605,3866 4990,5371 5147,4695 3741,4170 4854,4367 3617,6343 3563,5484 5286,3185 3577,5813 4284,3575 4282,2764 3404,4737 3154,5548 4323,5386 4114,5765 4842,2543 4280,4559 3905,6214 4491,4592 4328,3934 4245,4909 3306,6410 5863,2574 3713,7597 4486,5075 4235,4968 3934,6135 4410,5396 4474,5623 3960,5681 4534,4097 3821,4566 5103,4725 3401,6221 4491,5737 4170,4859 4171,3691 4636,3527 3279,6105 4627,3232 4307,3361 4952,5009 4707,3659 4832,6006 3485,6972 4184,6802 3657,5704 4119,4079 4036,6520 4443,6741 5014,4690 2769,7097 4867,3764 3950,6892 3972,6073 6300,3519 4052,4414 4876,3784 3341,5311 4411,4583 4795,3947 4658,6297 4320,2627 4157,5770 3551,7133 3177,5167 3754,6157 4337,6167 4411,3997 4254,5553 3966,4678 2975,6655 4036,4601 3422,4965 3729,4206 3421,5254 4395,5108 4730,6186 4496,4396 5682,5102 3625,7668 4244,7078 4360,5036 3565,6685 2499,7545 4291,5090 4105,4294 3913,7138 4857,6085 4668,4997 5140,4414 4591,4635 4009,2278 3896,7097 3959,7327 3727,5415 2790,6767 5197,4479 5940,3900 5042,5528 4376,4330 4784,6481 4530,5602 4476,3066 4143,6634 4302,4095 4167,7184 2291,5403 3666,4691 4011,6388 3964,5108 5620,3763 3959,4161 3207,6872 3687,5728 4276,2895 4279,2674 3506,6901 3914,4479 3540,7546 4651,5241 4163,5554 4540,4472 4676,5384 3060,5094 3288,5173 4212,4610 4464,4576 4309,4262 4497,4929 3843,5950 4699,3877 4441,3995 3871,5729 4472,4797 4394,5531 4355,6157 4263,5791 4159,5585 3368,6215 3510,7782 3167,6056 3732,3520 2669,7102 3509,6328 4023,5409 4032,5096 5027,2713 4062,5642 3443,5731 3797,5280 4762,4445 3914,4888 3868,6192 3954,5421 4234,6543 3519,5079 3516,7532 5080,5028 3468,6788 3353,7358 5251,5207 3345,4794 3079,6882 3125,7723 5159,4496 4599,6192 6204,4995 3699,6912 3323,7147 4037,3642 4182,4407 3420,6873 4458,4005 3547,7595 4383,2151 3271,6609 4146,6308 3545,4887 4962,2353 3774,5513 3526,7825 4046,3632 2828,8155 4543,5036 4655,3963 3394,7928 3021,8214 4702,4127 4354,7036 3771,4903 3658,7312 3560,4949 3787,5884 3565,5451 4731,4067 4210,4012 4671,6562 4382,6129 3743,4483 3756,7445 3978,5016 3337,6290 4576,5161 3372,6303 3318,6477 3277,7923 4747,4410 5052,5838 4700,4614 3819,6540 4829,4936 3198,6714 4893,4392 4697,5266 4048,7371 4063,5441 2999,4786 4041,6299 3872,4688 3585,7487 4827,4712 4015,3105 5001,4491 3636,5892 4245,7059 4758,6319 3709,4752 4223,5434 3220,7774 5107,4609 4159,5318 3644,5990 5046,4442 3796,5029 4054,6700 5867,3699 3579,5844 4140,5065 4228,6454 4229,3936 5212,5259 4401,5335 5084,5897 4556,3053 4582,5109 3745,4034 3191,4809 3442,6913 3989,6642 3348,5824 4271,5525 4087,4867 3346,7827 4779,4847 4899,4832 4201,3948 4782,6010 3628,7302 3563,5186 3767,6425 3778,4063 3365,5594 4599,4331 4419,4611 4467,4501 4214,6532 4779,5514 3761,6251 3923,5227 3724,4008 3937,5300 3472,7132 4355,6543 5230,4272 4426,6105 4376,4779 4857,5228 4111,7000 3807,3683 3890,7615 3740,3152 4869,5216 4302,3366 3613,5875 4001,5529 2880,7846 4420,4803 5003,4530 3267,6743 4173,4561 3800,7042 3701,2972 2975,5211 3914,5810 4193,5994 4661,5377 4459,5961 3173,8086 4540,5051 3359,6508 4560,2794 3679,4113 3440,5006 3264,7624 4709,5010 4029,4012 3814,7201 2926,5769 3930,3886 4346,6410 4711,4993 5156,4039 3771,5349 5103,3702 4606,1922 3489,6380 3741,7269 3153,3958 3223,5033 3691,6024 5036,5198 3592,6397 3768,3589 3380,4706 3483,5814 4835,5506 4263,4052 3844,7003 4436,4742 3699,4650 3835,3478 3492,7011 2503,7375 4627,3892 3572,7590 3859,5515 4313,6958 3311,7267 4383,3707 3717,5120 3707,4749 4698,4746 3546,7247 4230,3966 4003,3803 3957,6087 4641,3346 4194,3600 4479,3831 3719,5651 4901,6739 4238,3718 4709,3361 5639,3016 4220,4848 4424,4685 4872,3988 3685,7343 3453,7207 4072,6769 4685,5690 3544,4896 4109,6320 3249,5803 3919,4333 4553,5233 4536,4223 3762,6379 4033,5915 4791,1414 4815,5635 3600,4904 5662,3942 3745,5316 3921,4616 5316,2952 4907,4054 3220,6016 5042,4321 3111,5410 3390,3887 4243,4372 3794,4031 3623,4515 2694,5910 4751,4376 4079,5971 3577,7571 4325,3228 3123,7540 2893,7406 5059,4767 5264,5847 3967,5281 3946,5477 4478,4009 4077,5072 5490,3776 2880,5925 3690,7259 4307,4514 4298,5867 4480,5328 3811,4292 3261,7733 4622,4141 3067,6184 4485,4621 5734,5278 3434,7150 2949,7816 4475,3372 3326,7294 4237,6531 3238,3808 3497,6958 3982,5190 4601,4260 4574,4295 3531,5173 4459,3588 3832,6008 3636,5670 6510,4190 3480,4640 4695,5759 4150,6126 3528,6217 6184,3938 5680,4857 3840,4509 4377,3882 3860,3953 3280,6542 4465,5506 3060,7020 5156,4698 3664,6257 4221,5790 4629,5339 4430,4760 3213,7327 4149,5551 3178,5193 3547,5142 4574,4758 4270,6156 4201,5923 4477,6562 3596,7657 3820,6374 4762,4464 3932,3386 3491,7445 3665,4863 4150,4169 3977,6303 4474,5115 3895,5971 4186,4760 5082,5007 4564,6746 3109,6995 3837,7261 4169,3492 3520,5202 4628,4313 3315,5824 4297,7228 3480,4731 3659,7126 3380,6692 5064,4563 4302,4775 4706,5615 3855,3316 4476,5557 3458,6886 4145,6597 4032,6493 4968,3434 3990,6551 3208,7461 4582,3207 4604,5038 3978,5412 3899,4857 4367,7089 3940,6948 3478,6160 4482,6892 3367,2241 4190,6301 4847,5784 3067,3874 3308,5602 4825,5172 4187,4708 4115,6282 3471,4892 4303,5789 3544,6554 3772,3879 3759,7473 3864,3325 3254,5326 5368,3420 3581,6560 3531,4563 4054,6700 3916,4618 4680,4605 3484,5756 5052,1240 3168,4488 5710,2989 4516,5895 3685,6813 5722,4052 4735,4382 3719,4618 4494,4215 3984,6420 5989,2507 3478,918 3954,3595 5567,4400 3546,4884 4561,5908 4223,4213 4119,4723 3803,7571 5210,4634 3758,5220 5141,4183 4705,6083 4485,6035 4530,4969 2950,5871 3865,5511 3867,7421 3901,7326 5110,2606 3183,7520 3856,6297 4068,4787 4707,4338 3768,5419 4912,4421 3829,4813 4975,5052 3427,7027 3200,6250 4837,4520 3039,5155 4318,6548 3637,4959 3983,4204 4392,4387 3698,6961 4127,6858 3722,5251 4007,4624 2817,6160 4345,5001 3100,7791 2032,4625 3548,2771 4567,3052 3244,3394 3430,7031 4838,5813 4013,5501 4176,5267 3479,6516 2917,8199 3728,5382 5148,4756 3740,4758 5480,5164 3308,4655 4072,6426 3959,7421 4132,6067 4186,3762 4202,5310 4772,5598 3399,5142 4353,6607 2662,6358 5397,3938 4924,3894 3707,5520 3854,6302 4351,4997 4416,5192 3570,4968 4150,2831 3636,6261 3897,6571 5029,5976 4274,5431 4155,3832 3812,4609 3314,6581 5402,5488 4283,3374 4843,3983 3578,6636 4461,5534 3858,6754 4268,5710 4467,6357 3844,5881 4152,6455 4822,2324 5171,3783 4966,4834 4270,4473 4093,4303 4643,2659 2247,8156 4001,4097 3982,6878 2976,5568 3850,4967 3448,6915 3595,5699 4366,5348 5325,4805 4382,3895 4713,4245 3671,5298 4294,6571 4024,7211 2170,5960 3549,5069 3894,5203 3485,7205 4571,3812 4297,5544 3271,5563 3161,5582 4432,3745 4312,5836 4537,4616 3255,7187 3212,4463 3874,5460 4040,5709 4709,6643 3503,7855 4268,5364 4001,6903 4709,5802 4797,4606 5048,4372 4224,7307 4363,4170 3253,6979 2589,7603 4150,5998 3036,4162 4605,5445 3713,3803 3695,4244 4313,5814 3798,7447 3575,4965 3925,6497 3022,7822 3713,6280 3043,6156 3739,4621 4236,5972 3628,7403 3339,7303 3254,7143 3314,7516 4830,3638 3623,6238 4477,6294 3282,5650 4552,4033 5257,5486 4560,5969 4588,5716 4066,5485 4647,5207 3426,6507 4515,5873 3886,5579 3643,6788 4501,4708 4029,5215 2572,8343 3853,5432 4118,6459 4068,4030 3837,6170 4072,7272 4641,5025 2611,8517 2688,4949 4188,6667 3957,4275 3243,6052 3692,5442 3624,6395 3956,5936 3621,6268 4072,6850 3756,5663 5215,2011 3066,7429 5010,5689 3969,6434 5045,6547 4707,4328 3869,5528 3824,6981 4146,4403 3954,7280 3382,6260 4036,6991 5504,3479 4532,4542 4951,3341 3867,7093 3442,7396 4232,6318 4836,4441 4858,6136 3061,7366 3424,4250 2954,4263 4144,6259 3648,5079 4684,5600 4561,4385 5104,5786 4704,2704 4139,5363 4340,6420 4257,6580 4546,3725 5328,3182 3956,5420 4225,3973 4153,3774 2521,6639 4581,5156 5711,3181 3374,4424 5132,5894 3640,5573 4208,5942 4343,5733 4060,6698 5312,3355 4171,3513 3800,7561 4869,5103 3847,4547 3307,6134 3510,7356 3895,3627 4575,3121 3702,7683 3367,5993 3778,4935 5723,4729 5079,5005 4509,5511 3522,7416 4442,4349 5664,4070 4728,2798 4274,4290 3428,6792 3638,6118 3757,6431 2728,6500 4327,5470 3537,4702 4540,6074 4686,5242 4674,6493 4777,5270 4413,3814 4141,4627 4513,4280 4058,2541 4593,5939 5237,5419 3770,7073 4033,5194 4614,5864 4638,4087 4437,6531 5009,4417 3808,7569 4410,4969 4632,5710 3840,6964 3992,6110 5020,5677 4205,5146 3720,5518 2963,5916 4175,7322 4938,4891 3342,5884 4279,4969 3558,7078 4885,2971 4854,5865 3488,7436 5055,3981 4216,5329 3866,3559 4630,6019 2836,7352 3391,4029 5280,4295 4310,5078 3573,4252 3940,4457 3660,6444 4981,4441 3622,4696 4467,4234 3713,6648 5355,4863 4066,5494 4669,4291 4750,5348 3699,7244 2753,2197 3011,6919 4273,7049 3377,5489 3525,4252 4152,3451 3795,4455 3175,5131 4716,4671 4820,3171 3512,5510 4933,4388 3887,7381 4523,5812 4785,5139 3715,6353 3971,3970 3270,5666 3240,7307 3809,6774 4566,5413 3804,6486 4157,6224 3313,5797 3993,5972 4252,4027 4515,5735 4941,2855 4767,4905 3820,4389 4625,4588 4884,5504 3235,7376 2206,6798 3214,5171 4778,3985 4347,4295 3577,6006 4680,2919 3809,4618 4220,3726 4206,5668 3229,5387 3621,6975 4316,4918 3186,4936 4239,6354 4283,6455 5005,5170 4018,3576 5316,5749 3769,6216 4041,5938 5512,4168 3991,4678 4727,4899 4536,4814 4108,4092 4268,6998 3933,6965 4187,5626 3310,5549 2334,5252 3802,5247 3172,6175 3459,7486 3380,5638 3208,6711 3944,3785 2863,7973 4102,4325 4169,4360 3291,6123 3533,6646 4401,2623 2483,6828 4690,6453 5726,4214 3851,4287 4456,3901 3147,4111 3914,5670 3740,4879 3816,5840 4448,6585 4511,4233 3471,5188 4925,4475 5787,4878 5382,4805 4846,6661 2875,5777 4193,5998 5466,3604 3559,6400 4855,4168 4690,4825 3335,7127 4637,3363 2946,5994 4291,3246 4001,4901 3418,6606 3468,7780 4339,5888 3360,6223 3190,5345 4686,4650 3954,4189 3625,6286 4056,5358 4438,5618 2934,7198 3920,5121 4733,6552 3760,6332 3830,3474 4041,5258 4228,6577 4068,6036 4061,4909 3266,6370 3850,7058 3716,3780 3472,5216 3250,7272 4266,4526 4708,6608 7566,2797 3603,4690 4413,4443 4954,4985 2833,7584 4064,4812 4404,5336 4370,6215 3997,7040 4308,3194 4064,6843 2582,8264 3596,7720 3284,6148 3262,5725 3607,5259 4166,4196 3821,6469 4071,5700 3201,5463 3292,7827 3768,6049 4838,3534 2840,8277 4311,6970 4028,7056 4265,4616 4071,4929 3743,6249 4144,4507 3520,7745 4963,2348 4255,6915 4395,4812 3673,7510 4750,4979 4404,4809 5548,6123 4436,6162 3553,4818 4060,4647 3707,4500 4023,6982 4572,5734 4056,6436 3803,4079 4016,6181 3825,5797 4397,5792 4149,3225 3092,4767 4105,3553 5893,3792 3351,6072 3608,4771 3645,5628 3192,6312 4047,5454 4143,4539 5111,3147 3101,4475 3260,7214 4590,4050 3128,6945 4165,6901 4428,5179 3663,4193 4002,7075 4465,4781 4992,5504 4408,4833 3976,5692 4435,6953 4153,3830 4340,5914 5419,3200 3706,6328 3943,6505 5173,5026 3727,6464 3707,5308 3624,7593 4011,5263 2665,6583 5111,4591 3771,6593 3585,7675 4760,5295 4849,5119 3963,6003 4449,5367 5285,5756 3976,4849 3564,6152 3497,6697 4268,4831 5379,3392 4707,2999 5571,1258 2801,7651 4303,3976 4052,5860 5207,2907 3765,5228 3741,4293 4112,4617 3605,7641 3179,5865 4062,5753 4791,4319 4304,5951 3603,6597 3823,5416 4865,4088 3598,5772 4029,4139 4490,4537 3865,6646 3497,4935 5051,4406 3699,7224 3716,3769 3990,4599 4735,5283 4477,3462 5138,5388 4127,4918 4104,5404 4484,6195 4636,4034 3300,7701 3867,4770 4566,4601 4147,5997 6081,4051 3127,7898 4475,6809 4557,4603 4496,4104 4119,6492 4133,3930 3797,3548 4344,4840 4031,5692 4147,7185 3507,4539 4031,6882 3694,6761 3965,7375 4441,5403 3331,5846 3786,5497 3564,4386 4641,2363 4046,4200 4582,4092 3969,4612 4761,3960 3660,7408 4354,5162 4882,3805 3948,5030 3200,7284 3555,6502 4132,3940 3556,6253 5097,5127 3590,7209 3877,6946 4601,4983 4880,4474 4176,4414 4837,4660 3000,6265 3855,6643 2888,8242 4686,3977 3961,3598 4342,4829 4447,4368 4173,5850 3454,6336 4108,5589 3319,7958 4448,2630 4384,3952 4293,4701 3378,7742 4381,5950 3942,6845 4655,4391 3330,7890 4819,5290 4511,4833 3821,4389 3287,3937 2891,5753 3006,4981 3161,5128 4307,6767 4009,3936 3711,5933 5059,5085 3309,4084 4795,6314 4505,4817 4781,4518 4543,5496 5204,1410 4749,4344 4575,3233 5333,3681 3711,5048 3944,5479 4271,5250 3990,4931 4360,5790 3770,5406 3878,7516 3723,5988 3505,6956 3938,6382 4914,5432 4766,6639 4576,4554 4719,4214 4254,5031 4203,4284 3201,5908 4385,3143 2887,3816 4159,5337 3706,5092 3104,4183 4302,6179 4674,1557 4880,4761 3292,6741 3871,5072 3852,6797 4689,4680 4104,4806 3763,5074 3372,6210 3580,5437 4223,4079 4052,4165 3312,6533 5730,3912 4894,5423 3347,6844 4896,5729 4560,4053 4678,4610 3867,6027 3473,4075 4554,5323 5011,4303 4165,6621 4275,6044 4170,5858 4748,4956 3738,7409 3877,7089 4435,4216 4464,3825 4562,4420 4219,6695 4210,4973 3423,3933 4309,4827 5417,2482 3122,7139 2929,6271 4859,3201 3882,4275 3855,2259 4454,6155 3598,6918 2994,5615 2941,5471 5262,5856 3457,5964 3318,4734 4285,5476 2834,7274 4603,6458 3848,4556 4019,6979 3830,7440 3689,7282 3142,6798 2939,6287 4346,5353 3672,6450 3610,5576 3364,6904 4686,5627 3493,6385 4218,4094 3788,4965 3656,4338 3569,6520 3977,6994 4594,3749 4127,7108 4465,6184 4575,4251 3864,7502 3718,5038 4237,5083 3246,7903 3632,4951 3627,5307 3718,5557 2981,4151 3198,4433 3150,6981 4046,3312 5045,4776 4509,4263 4330,5054 4164,5643 2735,6026 3912,5070 4373,5371 5400,3811 4025,6188 3880,4674 3933,5988 4584,4125 2912,6771 4371,4809 4835,5101 4200,6220 3133,3878 3955,6219 4199,6335 2602,4087 4446,4680 3588,5359 3386,5203 4154,5892 3019,7597 5011,4781 3982,5871 3875,5094 4100,4923 4890,6011 3811,6758 3179,6252 3956,3888 3542,6836 4118,3897 3419,7107 3923,7459 4627,4272 3649,5073 3185,6541 3478,7680 4872,6016 4689,5131 3029,5057 4708,6113 3511,6053 3805,6231 3705,4242 4420,7167 3173,5671 3363,7083 3794,5564 3560,6992 3019,5722 3873,4219 3939,6224 3240,6100 4990,3564 4118,4074 3717,5526 4534,5307 4186,3783 4711,4289 4340,6936 2905,6931 3133,5629 3359,6733 3890,4550 3246,6315 4195,5962 4293,4282 3756,5433 3598,7624 4294,3944 3749,4922 3982,7043 4601,4607 3912,6981 3507,4262 5097,4524 4395,3808 3899,6666 3907,6774 3777,4343 4663,5050 4666,3855 3552,6044 3580,5029 3533,7104 3453,5502 4128,7077 4087,6617 4663,6042 4729,4733 3948,6847 4143,4497 3349,7927 3786,5053 4173,3363 4087,6969 3864,5322 4759,5232 4053,7162 4981,4099 3254,5586 4726,3437 3907,4263 4312,6185 4372,4346 3427,5382 3705,7559 4328,5364 3959,6805 5055,3248 4563,4987 3199,8080 3662,7505 3106,6284 5238,2164 3372,7041 4359,5144 4883,4169 4558,4370 4047,6438 4496,4162 4225,5887 4523,5518 4206,3369 3772,7564 4715,4329 3337,7598 3769,5326 3740,6004 3310,6338 3452,4677 3465,6769 4656,5166 4502,5573 5156,3530 3610,4490 4465,4072 4487,5248 3975,4550 4818,4787 5582,5646 3752,3934 4458,6472 3720,5407 6021,4570 4408,3675 2859,7993 4543,5236 3143,6652 4147,4576 2998,7189 5502,2780 4803,4734 5948,3055 4195,5928 4001,6522 4359,5818 4669,2307 3372,6071 3471,7625 4166,5384 4712,5498 3813,4421 5516,1460 3202,7650 3897,4666 3776,3815 4518,5523 4821,3538 4862,4993 3578,5718 4400,3930 4110,4122 5419,2319 4140,6592 5011,3548 5299,5297 4279,7258 3732,6137 4029,5782 3148,4933 5240,4680 4042,6458 4846,4818 3692,5297 3815,4900 2975,5925 4181,4976 4595,2889 4065,4003 4163,2938 4514,5195 5217,4975 3537,7565 3880,6867 3961,3469 3764,4264 3919,5171 3375,6851 3201,7000 4552,5463 3223,6315 3987,5448 4060,3792 4023,6001 3913,6509 3713,7013 5930,4525 4111,6233 3660,6043 3645,6116 3709,7270 3652,5869 5039,3916 3992,5894 4453,6262 3702,7392 3880,7576 4448,4053 3385,5109 3314,6753 4116,4737 3204,5218 4952,5817 3840,5351 4057,6121 4247,5736 3541,7280 3744,5682 3480,7371 4336,6983 5454,3503 3260,7757 3733,5289 3444,5968 3049,6212 4003,5118 4239,4876 3817,5233 4895,4004 2732,7389 5238,2745 3118,5054 4373,7117 4029,4621 3235,3981 3988,6789 2764,4417 3813,5818 4130,5266 5399,4332 3320,4702 4240,7203 3236,7538 4384,4099 5523,3432 2649,8027 3704,4496 4108,5507 3273,7064 3399,7965 4962,4952 4275,5011 3259,6026 4780,5752 6352,4008 4194,3275 4957,4480 4256,5700 3884,6912 4329,6431 4403,2830 4158,3521 3595,6837 3118,7656 3815,6606 3161,7079 3683,5309 3821,4715 4201,4422 3627,6037 3452,7799 3646,7601 3994,6792 3978,6826 4036,7268 5366,4392 3649,7178 3659,4400 3851,4261 3423,6830 3289,7936 3715,4824 3457,6459 4877,4710 2841,7697 3533,5047 4140,5976 2886,7569 4106,3991 3696,6382 3350,7008 4074,4008 3588,2773 4289,7096 6174,2759 3218,4223 4756,4258 3899,6985 4404,6390 4757,6294 4693,6497 4579,4247 5068,5253 4438,6192 3437,6199 3615,7567 3258,7044 3723,6852 3434,5796 4505,4844 3440,5720 3641,3804 4357,6824 4411,3418 3501,7011 4323,6751 3378,5754 4284,4815 4645,5178 3858,4438 4653,4431 3112,7602 4166,6922 3674,5620 3022,5493 3787,7385 3855,7482 4083,4713 4635,3480 3496,5359 4304,6898 3768,7357 4078,4364 3187,4554 3332,4855 4167,6157 4164,4513 4019,6196 4016,4341 3960,5819 3504,6228 4134,4342 4240,6176 2822,8368 3963,6061 4248,6808 5791,4200 4766,5621 4748,2131 4415,5940 3476,6280 4835,5620 3915,7156 3233,5334 4045,4726 3701,5165 4037,4273 4394,6096 3565,5750 4924,4347 4381,3601 4537,5046 3690,4279 4664,4963 4754,4174 4290,7077 3484,6955 5030,4443 4057,4220 4756,4520 3915,6794 3851,5488 4661,4881 4346,2588 3743,5651 3490,7354 4455,3716 3973,3941 4319,6027 4195,6416 4720,5151 3745,4756 5214,3448 3575,7630 3353,6659 3595,4959 4318,2441 4121,6028 4767,5652 4901,5322 2599,7638 4418,4211 2926,7075 4139,6432 3780,6689 3429,7897 4222,5509 3363,7645 5474,3546 3150,6277 3358,4125 4122,5137 4728,4751 4378,5052 4568,4892 4712,2790 4778,4520 3426,7314 3092,6994 4140,4755 4762,5815 4404,6828 3363,6060 4271,6751 3784,4756 4048,6448 3325,4877 3119,6718 4462,4172 5656,5110 3450,5681 4735,5662 3788,6827 4655,4444 2777,6194 3864,5305 4094,5743 4092,5532 3453,5630 4051,6833 3946,4606 5096,3870 5422,2588 3764,7316 5870,2984 4255,3936 5189,5461 2890,6903 4109,6345 4887,4232 3328,3669 4096,6374 4585,6972 4063,3459 2929,8302 4123,4997 3070,6098 3822,6005 6015,3318 3636,7712 4320,3412 3894,5390 4422,6619 2658,8042 4636,4689 3909,6225 3952,5931 3605,6789 3539,7527 4291,7148 4316,4557 4081,4931 3980,5777 4183,7088 3399,2648 2333,8542 3502,6944 3493,6116 3453,7365 4159,5019 4583,4397 2993,5075 2920,5817 3492,7327 3661,6329 3586,5576 4450,6435 4904,6110 5345,2413 3940,3471 3895,6014 4244,6637 4669,4422 3574,3661 3570,4965 3988,3267 4268,3494 6463,4305 4143,7357 3990,4205 4459,5835 3729,6429 3942,7297 5101,4132 3490,4103 2991,6343 3944,5470 4253,4530 3560,5160 4120,5959 3699,7429 3853,6420 4271,3410 4408,5041 4877,4893 3099,7186 4039,7169 4175,5102 3782,3474 4085,5622 4203,5057 2938,4134 3782,4477 4194,3398 4557,5971 4094,6594 3326,4405 4204,5506 5015,5393 4309,5054 4630,3457 4621,3512 4516,3971 4954,3657 2939,7803 4275,4199 4468,5324 4495,6038 3852,6983 4574,3852 3745,7304 2249,7043 4613,4501 4533,3465 4445,5389 4081,5191 3096,7570 3590,5169 3635,7273 4730,4716 3192,2706 4624,4424 4568,5290 3893,7501 4343,3389 3994,4452 6003,4484 3163,6755 4833,3298 4038,2717 2977,7217 4301,4335 4202,5520 4420,5775 3937,6196 2501,7186 4054,3837 4265,4694 4115,5987 4071,4580 4682,5006 4110,7321 4121,4522 3087,6772 2857,5488 4277,5206 3695,4109 5829,5193 4324,5235 3655,7298 4523,3489 4733,4973 3823,6681 3757,5603 3588,4309 4247,6037 4188,6125 4769,4988 3644,5342 4516,4298 2909,7599 3813,4733 4742,6061 3051,6678 4742,3834 3721,4996 4608,5669 4860,6319 4317,3946 3778,7373 4034,4285 3645,4011 3670,6061 4351,3702 3851,5906 3481,5419 4543,4832 4908,4855 5078,4769 4152,6940 3678,7779 3671,6428 4840,5653 3768,4345 3936,7407 3967,5767 4180,3056 4078,6451 2926,5998 3258,7012 3420,6912 3918,7100 3918,5424 3988,6025 5091,5025 4515,6192 3830,6260 4667,5780 3572,3814 4715,4927 3863,5625 3639,4581 4577,4339 3844,3432 4954,5145 4439,6759 4068,4008 4655,5349 3485,4360 3873,7319 4589,6083 3955,6474 3913,5367 2973,5453 4276,5444 3333,7961 3680,3711 4193,5814 4144,4465 4433,5769 3446,6774 4673,5196 3641,7392 4330,4670 3042,6085 3700,7547 4706,5294 3637,5344 3873,3752 3819,6898 3376,5219 3306,7505 4249,3760 3874,6773 3618,5416 3479,7119 3940,7161 4422,3707 4635,4951 4470,6230 4777,5296 3861,7496 3589,5832 3033,6407 3199,4449 5729,3808 4980,4585 3878,3155 3982,5456 3509,6450 4362,4827 4527,3515 3488,5198 4518,3803 4540,3601 3679,6099 4650,4223 4060,6667 3395,7402 4188,5871 4024,5831 4361,5090 3960,4860 4851,4693 3780,5942 4583,2900 3807,7221 3916,3862 3537,5433 4471,5435 3899,4511 4613,6606 3947,6350 3231,5482 4185,4403 5001,5841 4472,4560 3329,5564 3441,5607 4186,5663 4600,4289 4887,5154 3852,4474 5472,3677 4825,6186 2451,8226 3184,6897 4201,6227 3238,6547 3339,6686 4744,5016 3669,3320 5217,4134 4973,4544 2719,8139 4118,6291 4107,5377 2933,5886 2960,6996 4566,3745 4661,4527 4544,6501 3425,4936 3857,3681 6190,3964 4066,7154 3872,5429 3782,4937 3632,7298 3626,7440 3062,4583 3955,3430 4266,4632 3329,7228 4230,3482 4545,6066 3960,3987 4305,6772 2804,7632 4067,3793 4865,3964 4119,4194 4740,4800 3165,7426 3297,7785 4724,4719 3951,6504 4012,5329 3506,7108 2297,7627 4834,4499 3873,5647 4487,5842 3994,3547 3860,6822 4024,5322 4404,3237 3373,4652 5462,4020 4230,6508 4060,5468 3901,7053 3680,7230 4102,5469 2640,8208 4160,4221 4670,4500 4434,4687 4663,3925 4086,6398 4563,2920 4693,3888 3587,5618 5248,6132 3943,6103 3758,5921 3498,6197 4974,2139 4490,4591 4301,5439 4475,5614 3355,6721 3734,4688 5197,3766 3760,3950 4009,4487 4329,3705 3338,6765 4296,4604 3666,3168 3565,6299 4125,3477 4290,4938 4377,6228 4901,3572 3873,3992 2871,7672 4627,5278 4657,4894 3738,4343 3293,6788 5537,2083 3793,5829 4789,5214 4587,5605 3828,5160 3219,4857 5298,4211 3704,5875 5098,2905 4565,2378 4655,4598 5333,4143 5880,4587 3433,6227 3637,3640 4307,4361 5407,5393 4465,6315 4907,3644 4530,5479 3472,4409 4299,6323 4360,4922 4211,2660 4850,3423 3565,6143 3247,7937 4122,6391 3923,4579 4162,6361 3845,5215 3494,4494 4489,3586 4326,3299 3840,2202 2950,7955 3970,4116 3541,5098 4093,4897 3656,4879 3913,6975 3587,4668 4326,4358 2761,7388 4301,7091 4174,4529 5772,2558 3716,7617 4284,4572 4323,4701 3942,4649 3641,6315 4004,7390 4885,4780 4467,5704 4397,4825 4403,3972 4535,6784 4446,6733 3958,7274 4718,3417 2857,5720 4058,6768 5542,5204 3350,4480 3481,5947 3676,5483 3661,3470 3785,5434 3069,5246 4414,4363 4131,6069 3955,3873 3111,7255 3379,6309 3827,7327 4924,4458 4380,6057 3963,6646 4227,4808 2769,5371 3696,6685 3952,5080 5316,4667 2947,5120 4313,3258 6840,3188 4148,5933 3694,7517 5633,4722 3577,6194 4344,6021 4441,5863 5193,5690 1959,8951 4109,5549 3623,5329 4125,4539 3647,4228 4207,3782 3974,3381 2813,6779 4072,3392 5243,3962 5880,3294 4221,2993 2959,7233 4549,6703 3562,5875 4298,5993 4168,6216 3623,7648 4467,4954 4626,4929 3480,4036 3706,5981 4497,6621 4165,4386 4958,4637 2892,6495 2575,8392 4305,5939 4373,3471 4422,5149 4783,4791 4175,6183 5261,5160 3725,4265 4290,3491 3392,7919 4614,5082 4675,4542 5099,4406 4134,4732 4862,4772 3353,4178 4628,4389 3732,6102 4535,4599 3434,6713 4489,3441 4011,4141 3953,6396 2532,4977 4837,4302 3677,4624 3329,6225 4403,5713 3745,6876 3105,5130 3699,4047 4481,4847 3468,6347 5761,4875 3768,5719 4019,6767 4002,3775 3322,5841 3763,4883 3952,5025 4420,2485 3634,5923 3622,6955 4122,4518 3906,6943 4163,5276 3851,5065 2967,6951 3907,4145 3509,5557 3679,6410 4224,4040 5551,3527 4198,4578 3803,5217 3505,7531 3758,6894 4341,5340 4212,6835 3575,6720 3759,6063 2900,6471 5156,3950 4031,3950 3689,5361 3409,5905 3603,4612 4594,5521 4605,6080 3845,5755 3859,6053 4115,5216 3787,4591 3226,6171 3790,5557 4392,3154 4961,4834 3459,5786 3677,7089 4441,3693 4505,4328 4311,4742 4391,6777 4442,6771 4455,4582 3435,7682 4472,6552 3257,6567 3651,4329 3761,7247 3704,7403 4004,3458 5291,3892 4477,5320 4202,3521 5459,3173 4032,4863 3433,5434 3597,5473 4579,4521 3624,5873 4093,2415 4551,4783 4700,4769 3713,6779 3454,6847 3710,7060 4140,6428 4760,5025 4328,3662 3265,7539 4548,3619 4396,6894 3928,3019 3827,4706 4685,5047 4264,4960 4507,5344 4820,3538 4204,6964 3207,7685 4043,5816 4236,5960 4002,2808 3650,4865 3494,5045 4936,5915 4478,3518 3930,6597 3325,4434 3541,4646 3957,6101 5925,4530 4864,4125 4286,4770 4052,7313 4664,4522 3785,4886 3698,6081 3678,6142 2596,5684 3802,4809 4362,7062 3985,4518 4664,5252 3585,5923 4623,5281 3483,7859 4247,5419 3159,5757 4070,5993 4350,3154 3702,6857 4968,4850 3493,6883 4110,4666 4768,3018 4342,3542 3724,4072 6453,3709 4056,4491 3437,4134 3873,5747 4775,5533 3362,3702 3467,7442 3919,5239 4567,6048 4606,5345 3193,7361 3970,4567 3122,4531 4225,7313 3979,5027 3186,7411 4759,3899 3585,5262 4140,4012 3348,5421 3637,3925 4105,4885 4675,4935 3868,5407 4108,4388 3773,4869 3311,5276 4271,6656 4495,5562 3509,7244 4332,3881 4063,6415 3683,4898 4665,6159 3291,7269 4606,5204 3569,7373 3330,7435 4207,7109 4555,5908 3766,7536 2932,6746 4161,6799 5852,4904 5052,2277 3390,5609 3930,5049 4466,5699 4559,4799 3546,5168 4099,3455 4431,6748 3715,7119 4404,6205 4437,3872 3131,5846 3882,5905 4180,6289 4746,4575 3748,6446 4110,3944 3634,4860 4726,3912 4221,4590 4687,4870 3978,6238 3708,6502 4005,3914 4381,6558 4712,5938 5134,3366 3394,6389 5256,4185 6297,3562 4484,6826 4269,2680 5102,5145 5029,4724 3847,6129 4226,4302 3589,7444 3257,4809 3981,5343 3951,6931 4521,4550 4592,5500 4100,4692 3466,6359 4580,5673 3415,7471 3436,5331 4353,4772 4533,5371 4193,4141 4246,4430 4679,6256 4234,5266 4059,7436 3739,6955 3048,8005 4543,4836 4400,5870 3690,7052 4290,5623 4336,3920 4818,4356 3572,3909 4348,4250 4821,3954 4440,6902 3915,4678 3896,7452 4691,3808 4362,7166 2810,7876 4855,5214 3807,5620 4427,4552 3978,6856 5058,4225 4917,5718 4604,4678 3643,5127 3258,5742 5388,3094 4072,6268 3218,7655 4399,5018 5030,3613 3252,6646 4555,4679 4341,4601 5462,2193 2916,8194 3317,6492 5710,4360 3727,6307 4484,5314 3535,6789 4085,4688 3323,7336 5145,3783 3534,4722 4631,4506 5268,5212 3904,7279 3012,8009 5341,4706 3941,5900 3504,3342 4341,4292 3693,5037 3659,4201 3336,5430 3530,4914 4475,6440 4049,5426 4005,3664 4060,7341 3997,3991 4217,3715 4173,3974 3861,3899 4114,5548 4324,4404 3498,5182 2520,6883 3888,3105 4339,5646 4566,4354 3474,5375 4350,2856 4322,6460 4716,5324 3372,6293 3441,4891 3827,3358 4375,5627 3423,4836 3242,7344 4765,2630 2924,7397 3251,5649 3427,4789 3372,4383 4629,6809 5169,4225 4273,6681 3264,6782 4279,5247 4961,4990 3369,5618 5058,4560 3356,6317 4429,2632 3906,5084 4206,5758 4831,4218 5513,2060 3284,5251 4341,4193 3924,5011 4478,4581 3470,4169 4265,6268 3193,5961 3909,4425 5452,2571 4562,5292 4240,5993 4181,3660 5120,5547 4800,5078 4624,3970 5969,4475 3541,5896 3833,7255 4080,5398 3681,5882 4781,6017 4335,5480 6618,904 4299,5916 3615,6454 4279,2578 3513,6227 4117,3469 3396,6432 4366,6158 3912,6861 4138,5977 4833,1842 4457,6259 3539,4492 3382,6082 3274,8037 3729,6802 3830,3566 3577,3937 4354,4075 4830,3982 4841,1657 3689,4650 3345,6493 4693,5188 3520,5397 4237,5958 4650,3810 3513,6031 4999,4378 2950,7082 5252,4034 3486,4429 4987,4328 4443,5695 4776,4802 4542,4627 4161,5556 4333,6677 4294,3820 3987,5485 2727,8042 3833,5014 5170,4805 4163,5876 4972,4737 4064,2786 4071,4959 4102,5221 3934,6779 4379,5874 4623,3343 2956,4948 4758,4415 4739,4173 3526,3172 4993,5103 3744,4250 3524,5355 4236,6348 4030,6824 4186,6718 4135,5466 3280,3884 4404,5649 4739,5340 3374,3927 4430,6536 3557,6192 4904,5780 3671,5292 3886,6116 4499,5020 4534,3715 4776,4543 3465,7599 2694,8417 4642,6235 3562,4172 4140,6775 3825,4193 3980,6673 3601,4450 3429,5080 5105,3597 4063,5498 4787,5520 4593,3406 4850,4449 4335,3435 3206,7265 3712,5250 3921,6667 3586,3917 3139,6731 3980,3445 3350,6398 4415,4880 4700,4690 4393,5108 3596,5261 3523,5124 5484,4210 3920,7270 2814,4928 4749,4253 3647,6469 4187,3508 4407,5257 4578,5110 4022,6668 4356,5737 3249,6227 4401,5395 4543,5212 3405,4498 4750,6314 3702,6617 4109,5377 4303,6131 4240,5143 4900,4894 3841,4043 4451,6199 3136,8087 3796,5144 4502,6858 4185,6270 3486,5665 3487,6852 4449,5496 1708,7698 4910,5226 3778,6340 3406,4749 4482,5069 4778,5011 4944,5846 4599,6708 4207,6424 4477,4717 4690,6196 3556,6978 4221,4640 3640,6366 4146,3723 4680,4413 5997,4059 4411,6684 4841,3689 2840,8201 3732,4860 3559,3195 4965,3422 4101,4171 3484,7800 3449,6007 3309,4472 3895,6072 3735,5011 4035,5511 3097,6845 4095,4291 4744,6232 4184,4590 4020,2786 4798,4395 4435,5140 4463,6030 3988,4066 4125,7167 5238,5881 3974,7196 4199,4817 3917,5955 3163,8107 5286,2421 3174,7717 4022,5307 4476,5143 4722,5495 3621,4665 5787,5160 4948,4141 4542,4596 3808,3791 2899,5440 3427,7877 3965,4736 4049,6028 4256,5615 4266,5982 4844,4291 4695,5794 2945,7383 3554,5205 4261,3870 3799,7427 4348,5858 3123,6157 3338,5333 4228,4450 3493,4192 4604,5791 4450,6171 3999,4838 4215,6819 3340,7502 3797,5739 4589,3742 4290,3672 3666,6346 3349,4873 5755,4310 4842,2909 4004,5063 3249,7877 4156,6514 4738,4161 4680,4364 2666,5005 3840,6763 4748,3137 4487,7114 3867,5216 3616,4802 2977,6677 3973,5742 3444,6025 3436,4618 3388,5206 3384,6000 3969,3851 3634,6272 3727,4528 4038,4624 3601,4925 4298,3486 3887,6464 3420,5062 5535,4573 3996,7287 3524,6922 4581,6302 4119,4974 5878,5021 2738,6044 3100,6238 3490,6306 2987,5319 5190,6017 4501,4159 4416,4358 4271,3367 4328,4989 4011,7051 4456,3900 4766,4170 3833,4958 4736,5691 4652,4742 4359,2602 3074,7508 3766,5233 3949,5334 3912,5523 4102,6813 3892,3929 4182,6695 3235,7367 3946,3438 4275,4295 3080,5603 3228,5587 3359,5519 3497,6499 3678,6528 4326,5948 3014,8160 2694,6615 4012,7095 4243,7053 4597,4006 2452,7244 4125,5743 5709,4316 4703,4504 4838,3828 2594,5750 4739,5577 2881,6498 3005,8229 3775,7064 4160,6542 3459,6694 3834,4198 3192,4320 3189,6080 3810,5284 4041,7357 3844,6160 2957,8258 4477,3619 3534,5110 3248,6635 4909,4599 2765,5353 3355,5512 3890,7055 4633,3179 2686,7912 4127,5024 3303,5304 4145,3946 3514,5573 4512,5790 3647,6199 4945,5009 3422,6306 4824,4655 4327,6185 3873,6699 5695,4218 6128,4035 4140,4837 2583,6839 4103,3699 2923,6227 3423,7673 4504,4449 4216,6859 4164,5142 3823,7304 4154,4140 4292,5235 4390,3851 3994,2999 2328,6206 4206,3242 4218,3954 5191,2475 4316,2316 4411,4159 3626,6118 3881,4784 4057,5835 3727,4829 4033,4967 4319,7218 3597,3975 2921,7229 3646,5042 3526,6996 3782,7562 3290,7629 3670,5250 4419,5711 4968,5235 5356,1471 4499,5223 3666,4998 3133,6211 4677,5757 2780,8131 4483,4942 4413,6158 5022,4710 3765,4874 4008,5082 4981,4806 3438,5920 4273,5251 4209,6269 3791,5684 3684,6174 3479,5612 3425,5643 5760,3510 5478,4562 4891,4327 3732,6949 4292,4234 4313,3193 4863,3643 4756,6312 3420,6629 3838,4925 4259,5998 4457,4592 3441,6219 5006,5142 3387,7375 4638,5260 3741,6497 3070,7854 5408,3061 3072,7303 3631,6536 3664,3817 4324,4512 2852,8180 4151,3817 4137,4207 3631,6609 4731,3935 3899,5330 3296,7763 4653,5390 3796,5087 4022,6149 3467,5832 4410,4291 3648,5026 3477,6154 4521,5454 3784,6572 3956,3153 4192,5353 5625,2345 4007,7525 5153,3677 3596,6374 3926,6110 4682,3277 3117,6046 4782,6583 4272,7071 3990,5565 4837,5590 2698,7605 3461,3972 4633,6072 3941,6879 4115,5079 5093,2219 4480,5623 3990,4175 4683,5827 3768,5944 3451,6255 3475,5641 5176,4500 3741,7121 3782,3289 4401,6541 3374,4070 4289,4679 3834,5153 3332,4684 4668,5839 4416,4824 2598,7689 3784,4640 3637,6830 4092,4063 4621,5416 3497,4800 4652,3445 3280,4433 3260,7960 3470,3708 4157,4772 4275,5286 4644,4453 4683,4568 4427,4340 4206,5360 4634,4598 3260,5557 3586,5794 3871,5321 3133,7194 3449,7352 4298,6528 2242,6604 3990,5966 3875,3416 4294,4152 3492,6778 3028,5952 4752,2019 4684,5604 4489,4021 4336,5689 4052,4688 3849,7277 3036,5695 3767,6781 3725,5420 5078,6520 4590,3673 2751,6281 4399,5787 4341,2956 3757,4969 3726,5432 3619,6542 5928,3666 3139,5580 4781,4278 3594,6080 4099,4208 4225,4709 5061,4877 4866,3712 3812,6335 4707,5918 5069,4762 5414,5458 4726,4605 4982,4479 3914,4034 4897,4781 3334,5925 3622,5497 4684,4304 3238,6513 4120,5954 3801,7112 4874,6337 4151,6306 4294,5707 4282,5288 3739,6077 3846,4341 3479,5378 2900,7117 3483,5931 4114,3188 4120,6426 4369,5582 4150,4811 3239,4662 3719,6778 3686,7410 3787,4322 2885,7885 4565,5653 4428,4532 4892,4705 3446,4940 4454,5559 4512,3080 3141,6781 5407,5008 4461,6157 4437,3860 4518,5047 4232,6874 4491,5141 3502,6517 3186,6232 4622,3906 4388,5399 4425,3785 3041,7789 4687,5465 3757,4135 5339,4381 2744,8422 3570,4640 3848,4370 3319,5044 4379,6585 4391,2034 3929,5639 3734,5576 4557,5003 3510,6560 4620,5619 3714,3360 3033,8101 3247,6508 4481,4907 3715,5014 4650,4833 4397,5178 3172,5057 4421,3593 3071,6752 3702,4808 4753,4460 4039,5634 4019,5173 5788,3728 5727,5485 4098,6220 3770,5766 3935,5913 4254,4710 3239,5374 3380,7933 3723,4113 4395,4487 3587,5654 3006,6224 3808,5283 3888,3098 4310,5515 4160,5267 3586,7642 4655,3920 4360,3721 5029,4315 4802,5680 4956,4360 4072,6262 3131,6107 3718,4982 3805,6962 3249,7849 4064,5030 3928,3524 3812,5128 3026,6353 4201,6791 3826,4763 3963,4757 4295,4079 4372,6231 4058,6559 3582,5994 3304,8008 3733,7390 4282,4802 3867,4091 3746,4082 3699,4852 4035,2669 3921,4773 3496,6701 4240,6276 4847,5155 3126,6195 4608,6470 3324,6785 2862,6797 3619,4774 4512,6171 4282,3786 3138,7429 3570,5761 4639,4227 3331,6677 3584,6407 4327,3134 3964,3338 3961,3829 3679,7769 3768,3459 3659,6729 3532,6401 4046,4976 4000,5447 3518,7274 4933,4957 4055,4433 4547,2890 4045,4746 4593,5162 4002,5874 3039,6925 4122,5952 3851,6148 3718,6591 4411,5210 4567,5671 4201,1703 3846,6581 3740,4216 4197,4425 4472,6179 4178,1775 4444,6111 3741,4947 4164,5130 4160,6293 4344,5489 4580,6014 6015,5673 4163,6273 4287,4397 2856,5538 2967,6453 3284,7538 4469,4733 3982,5227 4060,3498 3405,4691 4160,4416 3642,5112 3028,7987 2934,6862 4884,3923 3670,3723 3472,6299 3602,6985 4241,3972 3000,5075 3993,6780 3205,5682 3886,3542 4556,4172 4204,4662 3937,6371 4257,6358 4165,4595 4068,4478 4114,5403 4387,4399 4082,7193 4416,6745 4225,3746 3724,6976 3148,7855 3869,4657 4155,5484 2246,7381 3949,6033 4042,4420 4895,4279 3178,7707 3044,5830 3372,6144 4878,3731 2994,5754 4494,3817 4767,2589 4351,6176 4968,5045 2601,7761 4287,5696 4588,3888 2938,5128 4315,5974 4702,4928 4692,4934 5621,5636 4103,4934 5163,3026 3856,7120 3620,5107 3482,5804 3898,6002 4023,6540 3136,7312 4365,6331 3383,6151 3851,4525 4066,5892 3831,5432 3665,7707 4043,5173 4517,6590 3850,6412 4161,7342 4361,5039 3729,6200 4177,7155 3732,5266 4464,5493 4223,5226 4493,6995 3006,8059 4025,4898 2990,6675 5112,2900 3195,7652 4548,4953 4069,3335 3456,5930 4076,5341 4563,5124 4606,4681 3068,7833 3439,5561 2861,5442 5815,3329 4214,5588 3886,5402 4379,5024 4552,3718 3001,4153 3897,7457 4128,4409 5002,3759 5021,5724 3330,5551 4647,3113 3631,4793 5822,4867 3225,6844 4998,4329 3754,5008 3207,5609 4171,4048 3921,5476 4509,3275 4485,6279 4897,4225 4588,6418 4179,5278 3929,6501 4206,4028 3630,6853 3015,5972 4045,4402 4306,4540 5120,3921 3839,4576 3167,7685 4547,5597 3315,5319 3494,5363 3446,6517 5783,4041 3697,5718 3283,6695 3033,7596 2403,8137 3325,6148 4469,3515 3080,7674 5656,3861 4087,7119 4001,5734 4828,2703 3590,5622 4533,5121 3309,4883 4269,6590 2927,4243 3886,7608 3563,6571 4006,6841 2822,6756 4319,4898 5326,4702 3163,5088 3779,4975 5125,5625 3349,3766 4864,5126 3939,4954 4289,3418 3517,7052 4393,4311 4147,7346 3880,5475 4705,5876 3976,3760 5288,3326 4415,5582 4436,4386 3962,5676 3594,5913 4090,3762 4362,4375 3889,4235 4015,4951 4066,7451 3761,5035 4400,4777 5358,4216 3485,3857 3681,4337 4668,6282 3879,5157 4091,4782 4416,3913 3628,5505 4187,6201 4260,4481 5269,5082 3378,6313 4059,4860 4862,3451 3892,7209 4148,4228 3045,5604 3451,4792 3241,4658 5604,4194 3723,7279 4581,4713 3711,5142 3917,4336 3974,5940 3222,8005 4569,2266 4919,4927 4087,4150 4365,2156 3877,3821 3533,4042 3170,6509 4756,4827 3636,5969 4100,6317 4669,3662 4295,6630 3432,2936 3670,5949 4424,3410 4451,5418 2560,8208 4503,6675 4212,6133 5186,5883 3619,4683 4316,6668 4902,4444 3509,5027 4329,3902 3594,3673 4454,2855 4329,3510 3958,6609 4412,6657 4132,6910 3673,4302 3395,6122 3719,3504 5662,3956 4534,6188 4561,5733 4108,5539 3925,5469 4170,5712 3765,7032 3968,4134 4407,5830 4177,4767 3443,5753 3283,4404 4745,5229 4813,4656 3390,7217 4211,6804 4302,6495 5431,5038 3114,7898 3632,4398 3928,7216 3840,5219 2876,5418 3951,6175 4717,5050 4578,5476 4543,4996 3424,5815 2599,7553 3732,2278 3401,5899 3505,5362 3775,3674 3607,6479 3484,6212 3738,7298 4377,5331 4066,5107 3205,6654 5592,2392 3215,6140 5176,4596 3338,6384 3745,6848 2660,8488 4281,6593 3799,4857 3546,3550 4065,5381 2531,5895 4858,3288 5942,4610 4642,6525 3098,5755 3908,7340 4611,4090 3502,7055 3241,4566 3387,6925 3845,3856 3727,4233 4439,6867 5172,4697 3364,5393 3967,7396 4408,5571 3121,6994 4035,4674 4738,5123 4306,3683 3611,5884 5659,3781 4688,5218 3607,4522 5179,6167 4059,3764 3341,6378 5484,1747 4694,4512 3828,6578 4201,5936 3211,5507 4045,4174 4900,4961 3829,7246 4910,6520 3433,6426 4958,4837 3995,4736 4461,5777 5425,2514 2567,8444 4569,4846 3842,4749 4000,3398 3620,3894 3041,2814 3885,5433 4003,6820 4528,7016 3821,5892 4476,4321 3310,5825 4083,5332 5143,4189 5416,2385 3561,7236 3363,7031 4213,7003 4732,3811 4249,5017 3308,7949 3969,4967 3082,5686 5419,4235 3656,5204 4447,3556 3238,4933 3718,4146 3239,5111 4018,4821 4699,5258 3694,6454 4486,5134 3085,5209 2866,7368 4993,5730 4244,5269 3485,3475 3872,3889 4631,4418 3384,6298 4721,4089 3722,6177 3174,7582 4654,6164 4424,5732 4801,4689 3464,4527 2989,6314 3747,5727 3840,6351 4389,5193 3891,4422 3257,7920 4719,4345 4627,5007 4365,3471 4616,5505 5530,5002 3529,4330 4008,3614 3972,6172 3103,6321 3863,4338 4768,4270 4519,4894 3652,4212 3681,6702 4451,5599 4856,5680 4760,5836 3107,5248 3333,4760 4236,4370 4700,4462 3898,6104 2762,6279 4082,3403 4757,4672 4065,2209 4317,2543 4055,7275 3714,6132 3531,6840 4448,6250 4604,3619 4401,5838 5309,4055 3386,7521 4027,6467 3965,7153 4148,5373 4700,5443 3860,4030 4867,5959 4081,4680 4313,7016 4508,5442 3501,6741 3682,6549 4072,6792 3989,4540 3102,6588 3667,5349 4513,4142 4730,4715 6080,4719 4360,4221 1786,5790 4247,2443 4045,6151 3910,4853 4156,5607 3557,5211 4323,6249 4505,5131 3757,4631 3428,3332 4021,5817 3582,7538 4171,5784 4642,6489 4584,2373 4780,5458 4670,6645 4080,4699 4457,5359 3744,5403 5463,2948 3309,6147 3927,5372 4007,3014 3740,4558 4411,4305 4326,5871 4778,3550 5590,4974 4148,4450 3698,7591 4203,3676 4080,7141 5174,4032 3970,5145 3342,3533 4144,4701 3928,6098 3790,7371 3834,4149 3852,6681 3836,5364 3884,5633 4072,4472 3990,3271 4168,6070 3672,6662 4295,3682 3568,5964 3266,6652 3600,4677 4543,4366 4291,4116 4999,3324 4915,3936 3217,6633 4223,2932 3309,7172 4465,6397 3864,7253 5555,5402 3047,3858 5388,2928 3623,6022 3830,5642 3208,6401 3827,6469 3674,6215 3045,7694 5477,3698 3304,7026 3614,6264 3451,5221 3484,4741 4820,4463 5061,4579 3925,6030 3585,5327 4999,4661 4951,6020 4266,4585 3687,5385 5267,3067 3892,6858 4289,4696 3493,7719 3184,5177 3408,5010 3758,6488 3835,6447 4582,4894 4304,6508 3930,4262 3506,5549 3434,6229 4533,5358 4322,6957 3881,5370 4859,3540 3311,5555 3289,8029 4205,2660 3602,5391 5610,4013 4093,5112 4860,4692 3727,6187 4056,4598 3665,4360 4393,6844 4398,4410 4527,3959 3391,4837 4153,3543 3793,5645 5141,5158 3362,4519 4562,5933 3600,5859 3521,5149 4410,3422 3358,6215 3830,6751 5502,2668 3151,5396 4527,5248 3054,6037 3890,6738 3940,6233 4421,5445 4430,6483 3762,4997 4833,6637 4629,4721 4764,4849 3703,5770 3705,6873 4331,4869 5168,4367 4219,7244 4941,4160 3535,4773 4037,7003 4782,3891 3659,7658 4149,4363 3984,5998 4566,6547 4199,5949 3003,5112 4991,4828 4568,6285 3944,6960 4971,2643 4519,6071 3970,6761 3713,3298 3535,5264 4296,3464 3719,6843 3805,6053 4412,6158 3992,6364 3363,7578 3625,6113 4137,5435 4030,4290 4049,5443 4606,5666 4025,4275 5298,1990 3753,5728 4149,5327 5551,2834 2811,7229 4298,4821 3718,4476 3583,6812 5356,3752 4056,6056 4496,4077 4954,5008 4041,6045 4451,5982 3471,6082 4246,4410 3702,5278 4678,5668 4141,5187 3261,8030 4002,7150 3775,7540 4157,7399 3843,5864 4544,3017 4461,3709 3377,3838 4461,5330 3857,6806 4072,6912 3119,4044 3429,7385 3511,6002 3331,4838 4165,2616 3237,7516 5103,5135 4642,4030 3750,4925 3983,5864 4604,6334 4400,6982 3792,4802 2794,6180 4324,5628 4698,5193 4416,6302 4241,5665 4520,5636 2039,8243 4421,5221 3796,4223 3825,6016 4011,5800 3118,5420 3778,3745 4142,5296 3312,6905 4341,3738 4242,6824 3805,6781 4722,3993 3583,6645 4420,6444 3440,6376 3143,6883 3804,5093 6912,1047 3913,5140 4046,6974 4557,4361 3907,6245 5312,5513 4229,4247 4534,5055 4050,4831 4064,7403 3678,3319 3996,5631 3112,5937 4363,6240 4438,4751 3471,4791 4295,4476 4653,5327 3851,5623 4302,4225 4206,5644 4365,4076 2944,8231 4220,4914 3566,5939 3748,7494 4303,5392 5244,3178 4795,5066 3710,6489 4485,5525 3640,4533 2980,5398 5147,4579 4750,6656 4086,6292 4554,5185 3652,6902 4181,4843 3867,4057 4648,3641 3702,5150 2970,7425 3764,7468 4172,3694 3941,6134 3035,7675 4739,2924 4078,3671 3919,4569 4347,7009 3208,7296 4878,4641 4374,4052 5025,2865 3699,3549 4879,5789 3534,7850 4891,3588 3316,6528 4716,3260 3037,8221 4664,5812 4565,3649 3391,6376 4646,4823 4837,2713 3295,7021 4446,3635 3663,7365 3342,7491 4190,4350 3768,6334 3601,7728 3898,6393 3288,7784 4505,6067 4514,5572 3530,6911 3817,7234 4393,6915 4131,4146 4144,4333 4285,6863 4188,2942 5348,3946 5599,4832 2802,7094 4049,4018 4558,5193 3420,5906 3829,5654 5108,5415 3169,5124 3816,4550 4648,4478 3944,5326 4806,6609 4509,4879 4048,4398 3879,4938 3535,6379 3569,4195 3675,4018 4304,6894 4687,3806 3769,6090 5156,3905 3628,4924 4227,5175 4414,5365 4292,5631 4846,6628 4303,2213 4920,6639 3527,5100 4201,4075 3863,5713 3755,6795 4096,5828 3925,5058 3964,4271 3390,4520 3213,6984 4720,5284 3706,6758 4328,5141 3541,5228 4332,6621 4524,4129 3643,6311 4622,5483 3898,4084 3576,5593 3397,7749 3291,6966 3532,4783 4215,5100 4555,5667 3503,6647 3575,5747 4194,5867 4367,5846 4242,5304 3941,4341 4013,4915 4132,6192 4264,4583 3123,7627 3320,7362 4811,5747 3537,5483 4925,3613 4311,2516 3716,5237 3996,3440 4218,6553 5403,2875 4167,4615 4087,4425 4190,5102 3878,3332 3858,5231 3546,4206 4507,4259 3607,6041 3440,5664 4064,5464 4673,4086 4519,3401 3045,3716 3898,6778 2900,6878 3518,6049 3463,6625 3640,6219 3427,7760 3904,7333 3191,4565 3912,3540 3702,7579 3345,5134 3917,4960 4530,3303 4511,6436 4213,4603 5021,6137 4008,7418 4584,6941 3120,5490 5158,5041 4604,5894 4367,5781 3623,4468 3885,6818 5643,3365 2884,7686 3631,6638 2933,5513 4723,5075 4133,3933 3320,6817 3955,6468 4278,5415 5288,2793 4126,4704 3342,5588 3412,6047 3954,5024 3120,4496 3935,3224 4443,6789 3744,6849 3767,7663 4675,3653 3436,5855 5028,5444 3060,5395 3677,5062 3425,7175 4441,6298 5076,6436 3324,7924 3941,4859 4880,6303 4440,6660 3027,5104 3825,4206 3183,7995 3817,7046 3733,6810 3783,5910 3058,3575 4835,4035 4561,5012 3692,5057 3569,6297 4102,5286 4480,5572 3821,6563 4361,5504 3816,5371 3900,4908 3417,7170 3772,6942 4907,6362 4185,7039 3992,6819 3628,4380 3934,7028 4585,4579 3758,6589 4181,3581 3462,3328 3824,4080 4740,4343 3935,5868 5493,3588 3341,7801 4414,3837 3043,8164 3887,4216 4340,5406 3882,4799 4283,4536 4119,4778 4170,4867 4673,3510 4189,7161 5551,5073 5156,4497 4489,4098 2962,5373 4289,4305 3584,6177 4242,5997 3539,6201 3482,4223 3372,7459 4755,4730 3679,6443 4282,3902 4644,3745 3982,3898 4436,5197 4755,2657 4464,4334 3439,6882 3854,4389 4496,4990 4331,5072 4504,3662 3291,5785 2658,7168 4728,6540 3987,5407 4672,4558 3414,4836 4494,3028 3796,5343 4951,5277 3400,6218 2819,7376 4480,4636 5395,3610 4501,6387 4348,4963 4171,4042 3692,7706 3546,5924 4604,3275 3655,4082 3271,6692 4336,5769 2659,6718 3807,7000 4659,4305 3989,6212 3625,7225 3324,2866 3320,7585 3871,4298 4429,5260 4549,4079 4173,3567 5381,4468 4642,5494 4614,4962 4290,5919 3420,7579 4416,6253 3982,6717 4458,6449 4755,5195 3848,6017 4316,3335 4192,2115 3423,5376 3846,5323 3788,5404 3843,4213 3494,4627 4057,3623 4286,3627 2768,7603 4717,2665 2922,6953 5122,3697 4076,6661 3446,4185 4276,3611 5181,4352 5411,5321 4213,4590 3816,5617 3452,5700 4128,6675 3713,6136 4020,4206 3409,4050 3596,5724 3609,6559 4171,7010 4705,5068 3248,7226 3925,4763 4084,4175 3839,6138 3601,5650 3509,5410 3976,7169 4226,5132 4154,2726 2353,5273 3026,7073 3514,7814 3617,4980 3732,6857 3928,4861 5640,3640 4312,4051 3090,5476 4339,3667 3303,7434 4411,4947 4204,6732 4638,4600 3244,6225 3425,5519 5165,4361 4048,6602 4396,7009 3937,4400 3872,4520 4002,6625 4061,6657 4048,6870 3782,7016 3245,6365 4364,5545 4449,5862 3752,4478 4694,3196 4102,1781 3824,4958 3671,4844 5705,5235 4690,3641 4192,4946 4376,6572 3994,4398 3708,4518 3899,4990 3447,5079 4992,3765 3032,7120 4075,6211 3464,5223 4135,6480 4062,4996 3469,7867 4540,6663 3619,7608 4352,6267 4022,6405 3293,5970 3313,3791 3511,5344 3976,6491 3858,4525 3751,4896 4229,5214 4810,4912 4247,5465 3615,4159 4478,6425 2864,6300 3895,4668 5085,5501 5181,4544 3919,3567 4568,5726 3712,6946 3765,4754 4637,6417 4190,6596 3426,5054 4589,5977 3083,4942 3501,6971 4163,4377 4103,4407 4259,4639 4609,5006 4895,4918 3922,3322 4265,5872 4235,4104 4075,5628 4468,5732 4365,7110 4010,6367 3715,6675 3786,7577 4498,5504 4178,6783 2742,6990 3887,3884 3835,6266 4020,5550 4888,5148 3923,6620 3552,5149 3663,6125 3677,6465 5598,4316 3301,7804 3752,7663 4997,4599 3671,7567 5121,2336 4065,5842 3483,7711 4719,2926 3027,5304 3273,5711 3816,5636 5023,3720 3428,3679 4675,3427 3651,4989 3651,5783 3428,6017 3697,3930 5172,4617 4591,5270 4258,5701 3236,7689 3438,6376 5715,5567 4877,3005 3676,4481 3685,3173 3101,6225 4534,4009 4721,5663 5097,3495 3519,7168 3947,6745 5653,3898 4205,6831 3844,5804 4110,5612 3571,5925 4667,6163 4273,6428 3855,6846 3798,4294 3474,7384 2930,6941 3218,7842 4943,3637 3589,5534 4106,4220 4863,1944 3341,7057 2961,6085 4835,2676 3753,6408 4192,7024 3278,7268 3769,6942 3528,3187 5396,4431 4604,3996 4780,5397 4258,4044 3941,4435 4305,5786 4480,4167 4342,4218 4152,7085 2933,7766 4435,4371 3171,7907 3393,5365 4886,3867 3833,3770 4085,6529 4506,4301 3978,6461 4202,6470 4730,5494 3009,7661 5292,5428 3792,6842 4493,6270 4201,4782 4079,2955 3460,7587 4546,6974 4015,6229 4649,6988 4018,3924 3069,6105 4260,4921 3785,6775 3850,3962 3263,3756 4120,5244 3390,5886 3467,6752 3909,4947 5312,6205 5206,5064 4139,4014 4014,6102 3600,6730 3545,7222 5259,1683 3655,4758 4307,5241 3608,7120 3369,5635 4482,4810 4878,4355 3270,6175 4517,5310 3437,6393 3967,6505 4955,5173 4161,3000 4813,5844 5495,5058 5848,3596 3597,4861 4542,5578 4470,4378 5923,4255 4358,5965 4668,2804 3745,7138 4337,7047 4400,4679 3130,5282 3752,6368 4655,5145 3174,5819 4273,7119 4051,6342 3503,7149 3514,6809 4783,4004 4347,5355 5024,2717 4496,7016 3603,6773 4540,5401 4005,6322 3598,7750 3863,5906 3567,6248 3960,7088 4790,4831 4216,4193 3542,3082 4298,4372 3390,4946 4002,7023 3084,5333 4597,4638 3893,3152 3943,6026 4098,4163 3293,7883 4757,5198 4611,4179 4327,5465 4808,4352 4021,7030 3782,4220 3249,7611 4046,6954 3728,5586 3678,6923 3375,7299 5064,5721 3148,7265 4774,2598 4320,5112 4138,5775 5295,4526 4686,5031 4245,5358 4346,4129 3539,6359 4042,7295 4606,4482 4023,4071 4097,6459 3427,4976 3134,6449 4213,3391 4037,4931 6373,4140 3841,5360 4096,4103 3516,6092 3264,6057 6088,3766 3363,5686 4195,4074 3536,3387 3444,4366 3319,5950 3377,7006 2341,8713 4551,6280 3938,3344 3535,6788 4246,2871 4635,3867 3747,7353 3764,2732 5771,3318 4156,4991 4122,5506 5479,1556 4997,3316 4187,6159 3564,4797 4079,4562 3542,5984 4569,6367 4043,6942 4278,5937 3380,7200 3396,5090 3982,4465 3155,6959 4042,6922 4332,4170 4165,7221 4019,4962 4884,3996 4980,5426 3838,5980 3632,4920 3560,3869 4347,3894 5043,6321 4502,4163 4701,5169 3548,7012 4054,4802 3935,5473 3792,4072 3108,8025 5257,5044 3291,7548 3397,5471 4431,4790 4197,6660 4118,5441 4397,3873 5406,3066 4682,3636 3495,6077 4560,4652 2938,4758 3895,4322 3548,6084 4522,5277 4194,4657 4685,6686 3827,6829 4583,3509 4844,3228 3442,5988 4198,5882 3780,7184 4408,4938 4630,5836 4090,5164 4255,5116 4565,4812 3885,7468 3272,7160 4636,4001 4524,601 3770,5316 3861,6785 4554,6718 3224,7342 4165,4413 3507,5983 3961,4541 4748,4079 5201,3202 4307,5270 3662,5826 4235,4568 3940,7480 4388,5938 3644,4347 4876,3304 3410,5756 4864,6178 4018,4808 4512,5476 3373,5987 4842,3502 3878,6050 4566,6604 4883,4962 4288,5157 2937,4136 3751,5197 3808,5649 4203,4732 3173,7228 4049,3609 6236,4692 5029,6108 4436,6180 3651,5270 4468,2666 4093,5128 3486,6386 4567,5006 4065,6144 3424,5002 3810,7179 3693,2972 3828,5153 3980,7014 3572,5841 4629,4919 4987,1995 4207,4270 4349,6959 3171,7496 4341,6684 3638,7436 3892,4261 5035,5314 3889,7113 3677,7605 4010,5410 3339,4479 3583,6419 3399,7283 3679,6778 4635,5230 4131,5084 3647,7353 5196,4877 3293,7136 4369,4705 4163,5386 3532,7463 2689,8136 3894,4375 3529,5551 3335,4938 5037,5576 4250,5456 3473,7320 4484,5152 3418,6476 3347,6820 5242,4117 4341,4342 4614,4995 3788,5675 3653,6480 4228,5629 3024,6307 3878,7288 5251,5356 4216,7194 4564,5019 3966,3763 3774,5429 4143,6897 4301,7091 4234,2842 5087,4479 3737,7089 3375,6586 3631,5042 3147,4297 3696,4852 3101,3855 4313,4936 3715,7733 3731,4071 4044,6372 3913,4606 4588,4799 3588,3323 3663,5136 4557,2016 3393,7045 3410,7691 4000,3643 4893,4201 3540,5978 5995,4069 3469,4782 3795,6525 4526,4314 3834,4129 4416,5524 4525,5456 4577,3436 3848,4735 4051,5202 4399,4262 4479,6089 4505,5197 3796,6768 3653,5411 5039,4854 3437,5244 4355,5938 3963,4820 4396,4015 5252,3517 3488,6890 3830,5437 4018,3917 4641,4761 3456,4738 4916,4196 3725,6927 4423,6975 3010,5734 4312,5300 3875,6932 4197,4351 3955,4258 5153,4130 3781,4928 3947,5520 4163,6751 4586,6136 4222,6272 3195,6109 4318,5407 4558,6442 3778,5720 2916,5260 4413,5958 3584,5552 3239,7057 4122,4609 3701,6413 3609,5965 4129,4754 4526,5259 2896,5514 3892,6557 3973,6011 3282,4526 3466,5293 4094,5032 4616,2493 2969,8186 4976,6287 3836,4174 4128,3994 3977,6709 5168,5313 4108,4719 3834,5005 3278,5084 3722,7162 3469,3780 3495,5770 4318,5251 4547,4488 4734,4465 4606,4820 4040,4013 3466,6753 4701,5204 4306,6064 3798,6112 4863,5265 3679,6983 4039,5062 4173,7080 3620,4552 4658,5160 4155,4031 3424,7399 3573,2469 3989,5741 3117,4340 4683,3655 3634,5088 3189,4861 4579,4118 3816,6053 3271,5570 3207,6838 3651,7658 4974,4701 5203,4247 4155,7033 3651,2093 3962,4517 3320,7089 3563,5704 4375,5574 4533,5680 4177,5507 4298,5376 3917,4044 5566,2855 4475,4379 3942,4605 4005,6770 4175,6121 4094,7009 3309,5491 4266,6693 4025,5344 4034,4190 3954,5122 3518,6669 4279,4722 3772,4498 4022,5049 4372,5883 3611,3902 4643,4566 3380,7108 4076,3439 4388,4903 5227,5289 4475,6189 4261,5420 3811,4372 5103,5104 4128,5379 4026,4493 4052,5045 3747,3010 3910,5702 4600,5930 3694,5600 3541,5035 5175,2967 3824,6895 3955,6642 3321,6073 5339,3472 4437,5590 4788,4230 3752,6408 4886,4037 3811,6220 3951,6923 4216,6261 5163,3662 3958,6085 3100,7620 3611,5462 3691,5326 3325,7151 3403,4184 4819,5248 4358,5488 3726,5382 4023,3865 4329,5047 3827,4291 4117,5167 2721,6487 3237,6205 4422,4820 3689,7453 4443,6589 5263,1874 3508,4834 4375,6451 3448,5293 3533,6755 3748,4983 3226,6159 3883,5699 4194,3438 4216,4127 5474,2213 3038,6958 3650,7460 4392,4740 4260,4667 2838,5574 4239,6615 3340,4751 3276,7842 3654,6946 4729,4246 3948,4443 4733,4215 3531,6696 4044,6837 3451,7461 3466,7583 4935,3915 3378,5141 4853,5697 3738,3490 4517,6286 3637,7090 4065,3935 4112,6660 4859,4496 3591,5355 3840,4253 2247,8542 3744,3271 3736,5129 4209,3684 3410,7307 3420,5465 3947,6122 4907,4044 4712,5539 4690,2110 3282,3808 5168,4761 3786,6006 4153,3974 3335,5578 3921,4544 3623,6374 4940,4423 4891,5108 3083,7252 4692,4743 3820,6733 4109,6644 4203,5195 4218,4674 3692,7106 3928,6866 3819,7456 2794,7491 4531,4631 4787,4445 3781,7216 4298,4994 4569,5606 4650,4633 4319,5714 3450,6353 4777,5005 3338,6352 3578,5511 4828,3321 5011,3654 4430,5837 4579,3217 3663,6299 4299,5358 2873,5145 4486,4515 3706,6564 3425,7524 4798,4805 4728,5036 5945,3930 4571,4023 2912,8209 4161,7318 4262,4722 4219,6771 4634,6371 3330,4512 4211,2757 3560,4833 4503,3399 3008,5756 2535,7093 4310,4835 2916,7003 3548,6040 3947,5269 4251,5868 3268,6056 3792,4827 3803,2768 3978,5431 3658,5366 4062,4073 3628,4563 3175,4516 5294,5291 3519,6526 3968,5252 4257,3725 3895,7220 4606,4613 5109,4401 5277,4785 3645,7442 2750,8343 4005,5250 4186,3250 3624,4086 3740,3994 4311,5674 4602,6742 3273,5775 3594,5170 3797,7210 4017,6377 4582,4521 3340,6042 3550,6079 3894,4808 3383,5484 5236,5706 3555,7583 4549,4503 3426,4420 4390,5773 4071,5274 3960,6883 3622,6222 3695,5282 3172,4284 4475,4681 4217,4904 3510,4531 4477,6385 4278,5338 4615,4000 3046,7847 3088,5485 3741,3635 4191,4770 3742,5602 5153,3870 4231,6697 4535,5091 3424,7532 4455,4910 5087,3380 4285,5610 3503,7279 3992,4559 3181,8010 3837,4966 4013,7448 4044,4708 3390,7677 4349,3837 3922,6628 4619,5019 3868,4175 3770,5478 3279,7926 4683,4594 3714,5639 3406,3206 3989,5076 3289,7578 3983,4502 3199,4665 2249,5134 4791,3976 4704,4910 3974,5438 3015,5607 4074,7373 3726,6731 2559,8272 3206,7209 4170,4439 3190,7106 3357,5598 4238,6865 5433,4142 4296,5909 3446,6162 4745,5329 4279,5535 4181,4360 5423,4956 4310,6099 3251,7468 3378,4557 3812,7523 4732,4970 4075,3302 3275,6335 4209,5909 4508,4540 5897,3718 4069,2954 4125,5811 3441,7440 4539,3405 3916,5732 4595,4914 4253,7072 4104,3535 2930,6612 4122,4499 3882,3471 4706,6339 3553,6118 5016,5088 3673,7598 4163,6389 3902,6497 4402,4593 3250,5597 5481,2222 3147,7229 3616,4793 3397,5887 5004,5310 4305,6564 3936,5379 4893,4334 3983,6058 4350,4541 4184,6692 4887,3746 5220,2761 3822,4919 3723,7199 3649,5122 4283,3450 3475,5312 3699,7311 4141,5676 4773,5491 4544,5187 3847,6758 3905,5215 4531,4698 5548,2873 3747,6655 3388,4854 4607,3464 4005,6192 4296,5674 4348,4528 4688,3864 4520,5135 2947,5110 3417,6173 3775,6161 3706,6002 3008,6778 4102,6617 5430,4163 3563,5652 3524,5857 4280,4166 3106,4462 4582,3710 3493,7001 4155,6528 3293,6671 3952,4827 5016,4461 5969,3317 4449,5178 3943,4354 4106,5433 4757,5293 4524,4703 3834,6961 2596,7668 4010,6360 4215,3519 3972,5484 3817,6457 3840,4727 3378,6112 4119,2232 4751,3652 3566,3425 5922,3041 3163,4838 4483,4314 3633,7066 3667,4214 3571,3819 5019,4289 3302,4876 3781,6479 3684,5823 3412,6819 5250,4510 5329,5222 4057,3848 4614,3562 3479,6080 4445,2909 6021,3679 3853,6430 3387,6512 4367,3853 4211,5010 3038,7552 4063,4635 4135,6004 3811,6510 3783,4550 3652,7437 3096,6051 4395,4452 3920,7096 3985,6024 3876,6993 4662,5056 3305,5361 4266,4620 4629,5255 4109,5658 3755,5738 4238,4156 3567,5851 4182,5747 3447,6186 4400,5813 2974,4563 4538,6501 3947,4110 3540,6605 4677,4758 4055,4859 4101,3701 3503,6656 5513,1750 5095,5149 3209,4820 3736,5185 3473,7058 5074,3814 2644,7234 3250,6560 3262,6682 4186,5053 3252,7486 5130,3289 2615,5356 3307,6631 4808,3801 3719,4469 4713,5803 3942,5474 3234,7936 2985,8035 5385,2812 4794,4649 4897,4765 4072,5718 4140,4721 4359,6750 3765,6326 4647,4088 4054,5876 4358,4787 4438,6068 4460,6856 4131,4466 3807,7502 5035,4954 4256,7067 3209,7573 5011,4640 4385,5777 4168,3801 4452,3989 4111,6132 4006,6067 4249,2898 4175,5622 2820,4608 5680,3161 5348,5071 3846,6000 4032,5503 3039,7191 4006,3754 5049,4880 4071,5967 4136,6552 3364,6828 3491,7096 3289,5209 2864,6603 3074,3672 4064,7244 4071,4664 4688,2635 3482,7055 3288,5503 3838,3907 4221,6086 4384,4791 3696,4274 4866,4971 4395,3951 2866,6259 3496,5654 4179,3792 4940,4511 4391,1373 4815,5606 3472,2884 3290,5591 3762,4337 4335,6706 3133,7693 3048,7300 3425,4366 4658,5411 2500,8162 3256,4567 4342,5680 3538,2885 3923,4048 4316,4941 3579,5657 4917,3660 5319,5346 3499,7122 4429,5785 4995,4845 4008,4507 4338,5423 3560,7788 3000,5842 3261,7535 3693,6195 5051,3411 4060,7370 4658,4192 3888,6306 4061,6553 4016,3790 3561,5918 3140,7394 3725,5609 3756,6953 4711,5444 4039,5005 5329,4744 5284,2851 3737,6018 3253,4239 3617,3216 3496,2692 4406,5029 4187,4722 3158,7258 4075,4269 3391,6473 4992,4734 4452,6102 3180,4699 3784,6351 2699,4682 5361,3442 4623,5374 3925,6490 3232,7982 4766,6763 3951,3335 4602,6585 4939,5676 3151,4486 3799,5593 5514,4921 4833,5246 3180,7226 3605,6420 3574,5928 3668,3179 4369,6741 3890,5210 3573,7729 3558,6020 4145,4470 4338,4071 3767,5734 4389,5895 3406,4660 3565,7774 4816,4638 4344,2312 3265,6233 3359,4192 5268,6173 3054,6146 4092,5074 4600,5020 3357,5672 3686,7254 3307,4558 3607,7123 2869,5258 3636,3616 3817,5324 3574,5512 4517,3985 3813,6388 3925,4822 5325,5096 4631,6290 4209,5723 4363,4865 4095,6554 1848,5384 4053,5637 4130,4873 3819,3834 3781,7150 3439,7730 3770,4066 4710,4107 3825,7485 4550,5883 4215,4881 4580,3627 4276,5669 4918,4425 4498,6430 3728,3622 4465,4544 4637,4837 3414,5572 3301,4214 3622,6760 4060,4019 4402,6916 3861,5355 4181,5561 4156,6181 3337,7223 2668,5286 4011,3644 4268,4044 3268,5591 4314,6014 4381,4191 3569,5728 5011,5001 3849,4349 4807,5374 5090,4558 4733,6185 5549,5183 5039,4070 4278,4336 3640,5828 3826,5747 3880,4279 2916,8160 4271,6076 4148,5217 4066,6979 3433,6437 4139,6266 5673,3939 4782,4871 4159,6485 4137,6566 4133,4313 4420,5050 3560,4959 3495,4091 4751,6410 3536,3733 4025,3147 3396,6725 4505,6854 4070,5458 3969,4493 5609,3816 4503,7058 4776,4341 4135,7156 4475,3968 4682,4576 3780,5532 4302,6391 4054,4429 4990,4160 4276,4952 4241,7010 4362,4826 5159,2577 4901,4682 4205,6030 5335,3635 5133,6014 4672,5308 4381,4585 4503,4310 4978,2074 3371,2442 4118,3398 4096,6232 3444,5185 4770,3199 4010,5006 4386,4508 3654,4430 4125,5399 3823,5636 5142,4930 3672,4422 3679,4307 3483,5602 3933,3852 3954,5588 3037,8196 3462,7076 4082,5928 4666,6058 3588,5809 5027,4008 4865,4766 4110,6118 3971,6394 4807,4026 4223,3538 4255,5783 4658,5473 4567,5475 4331,5996 4074,6587 4139,4617 4712,4574 2666,8041 3745,6861 3809,5553 4093,7044 4573,6659 4332,3732 3484,7277 5935,3420 4234,3531 4299,3539 3769,7489 4105,5422 3848,6646 3532,5290 3839,4410 6057,3923 4332,4216 4043,4765 3908,6781 4052,5635 3484,7199 5687,4589 4254,4203 4441,6520 3753,2635 4875,6029 3940,5147 3603,4942 4438,4780 3562,6323 5001,5140 3745,6835 4655,5642 4603,4750 3721,4725 4267,4847 3936,5856 4734,3685 3724,3040 4089,4063 3366,5123 4155,3187 4241,5052 3351,5676 2909,6330 4188,5854 4329,7065 5024,4876 4239,4336 4317,6824 4340,4515 4427,5258 3790,4431 2830,5819 5215,4401 3271,6589 2311,6081 3050,5307 3885,6115 4080,4575 3186,5659 4407,6810 4646,4127 4991,4037 3676,6173 4155,5869 2926,6200 4465,2475 2968,7788 3127,7886 4066,4596 4021,4119 5445,5805 3580,4854 4193,2786 4940,4195 3834,4668 3998,3401 3459,6180 3884,5150 4848,3695 4546,3011 4474,4007 3733,5325 3844,6702 4646,3616 4933,4204 3540,5993 5081,4907 3867,3864 3791,6765 3992,4951 3633,6885 3817,5672 4673,5273 5030,5664 4632,3324 4656,2692 4577,5663 4808,5855 3606,6504 3233,6457 4866,2608 2852,5427 4307,4931 3536,6121 4513,5890 3924,5905 4103,5506 4438,2200 5032,4344 4238,4711 3281,7443 3951,5133 4191,6731 4108,3490 4190,4871 3459,5936 3827,6478 4100,4295 4330,2857 4524,4929 4207,5973 3700,5387 3757,4559 3010,4157 3730,6602 4825,3314 3610,6167 4712,4384 2983,6675 3944,7539 3144,7945 3870,4100 4362,5288 4133,4913 2791,6111 4458,3995 3815,4827 3875,3976 3900,4842 3466,7368 4575,4289 4791,5264 3915,4597 3810,6319 2816,7797 4133,3700 4575,5694 4359,4836 3254,7562 4251,4364 4611,5653 4518,5688 4507,6570 3239,6087 4331,3754 3474,5484 4125,6511 3532,6198 3935,5580 4378,4251 4862,2836 3943,5249 4027,6085 4507,5473 4145,6191 5437,4250 4371,3971 5081,5112 3373,6952 3290,7935 4262,6767 4388,6678 3615,6930 4442,5629 3422,4917 3784,4294 4902,3464 2902,5369 3076,4131 3517,6319 3853,6854 4945,6472 4454,6704 4354,5851 4187,5748 4139,5479 3413,4976 3155,5319 4544,5919 4366,4102 3603,7417 4178,2864 3564,5473 4501,4362 3551,4809 3981,4481 3655,5250 3340,7738 4414,2814 3870,7109 4396,5550 4438,6229 4423,3676 3334,6567 3358,7368 4662,3999 3736,3981 4668,3216 3628,6347 3335,3751 3937,3524 4056,5572 3574,5243 3616,4971 3764,5765 4503,6336 3327,7605 3732,3923 4086,4383 4380,3764 3967,6142 4282,7024 4685,4617 2975,4169 6104,5022 3215,7483 3252,3410 4429,4372 4151,5454 4218,3370 3277,4518 3912,6070 5089,3929 3258,5407 4786,5022 5253,5704 3604,7726 4090,6702 3905,6795 2806,7872 4668,4432 4652,5749 3691,2789 4306,4149 2892,7936 4368,5078 3559,6195 4512,3672 4024,4734 4022,7176 4436,6959 3632,5426 4506,5289 4577,3181 4454,4913 4343,4878 4303,4935 6376,3766 3603,5142 3771,6384 4684,6303 3775,7544 3187,7179 3396,6326 4368,6318 4437,4125 4792,4272 3748,4995 4006,4101 3741,5387 3034,6326 3841,7415 3772,6904 4555,3701 4596,2742 3432,6581 5451,4678 5050,4685 4691,5496 3354,7959 4599,5382 3710,5181 4182,4254 3408,7294 4764,4604 4727,5221 5451,4148 4971,3511 4615,4954 4224,3015 4325,6655 3701,3657 4043,3862 4873,5718 4504,4546 4800,2794 3913,4345 3442,7009 3861,7488 4327,6348 3861,6966 5009,6253 3770,5072 4999,6347 4672,5274 5188,3364 4274,3896 3981,7344 3633,4618 3349,6855 4062,4020 3326,4605 4248,4620 4121,4140 4092,4049 4346,4844 3299,6118 4641,3031 3802,4721 4009,5945 3732,4770 4316,5332 3769,5128 3650,3679 4153,7188 3918,4299 4321,6942 4247,4372 4805,3304 3357,6805 3427,6914 4027,5233 4693,3270 4211,6494 3724,7259 5942,4250 3871,5664 3857,5991 4172,5844 3881,3932 4793,5727 4115,6295 4100,6044 2868,4642 4446,4747 3370,6213 3780,5150 3492,4306 3708,5006 3621,6565 4155,6632 3154,5055 3969,3782 3558,4573 4323,2464 3747,4840 3629,4574 4424,5830 3195,6208 4277,4811 3229,7867 4696,5129 3554,6434 4532,5658 3983,5796 3755,6485 3210,7670 4838,4994 4122,5974 4055,7353 4680,4523 4697,3346 4820,6393 4145,4644 4651,5609 4304,6663 4514,5128 3611,7410 4026,7116 4618,4013 3710,6020 5049,3259 5356,3729 3794,5418 4318,4466 3548,3838 4823,4501 4704,4978 4492,4322 4284,3669 4793,5665 3606,6385 4248,4670 3767,5864 3382,7468 4262,6647 4661,3239 3090,6038 3506,6943 3257,6253 5814,3874 4201,4130 3867,4707 3776,7633 3770,5757 4784,5289 5060,4708 4398,5221 4069,5368 3412,4836 4321,4333 4060,6756 4680,4822 4186,4776 5156,5641 4838,3522 3286,7413 4858,4800 4545,4948 4958,5850 3648,3927 4745,4137 3518,5597 5752,1914 3929,6017 4597,5838 3556,4958 4485,5177 4430,5923 3488,4306 4060,4273 4413,3743 4349,4721 3607,7000 3377,6289 4252,4218 3928,7552 4097,5997 4643,5282 3826,5890 3236,7760 4297,4158 4276,4811 3727,3677 3428,6495 3404,6661 2885,5297 4129,6778 3969,3526 5118,3832 3217,4862 3582,3430 4519,4833 3479,5043 3962,6663 4233,5060 4461,4229 5333,4239 4326,4975 2602,6007 4782,6312 2057,7178 4157,4147 3948,4097 3521,3180 2973,7173 3780,4946 3871,7422 4462,4828 3961,4542 2299,8741 2859,6673 4599,4712 3630,6632 4043,6689 1953,7327 3924,7389 4383,4288 4431,6685 3561,7623 3174,5886 3303,5552 4395,5762 4909,5483 5673,3293 3547,7574 3022,7867 4198,5565 4415,5575 4487,3752 4146,3688 4410,6496 4699,4798 4819,4574 3300,5890 4672,3079 3607,7267 2837,7999 4321,5426 4661,5344 4041,6476 4118,7380 4236,7213 4233,5109 5399,3920 3583,5459 4381,5536 3663,6797 4716,5052 3573,4500 4237,6884 4117,3531 4015,5950 5061,4457 4080,4455 3791,6012 3466,7917 3286,6696 4626,3471 3854,3921 4612,4866 2992,3761 4722,2262 3902,5532 3490,7167 4072,3799 3977,4450 4269,6726 4217,4232 5033,4843 3409,5912 3724,6437 4384,4335 3132,3929 3718,4296 4196,4962 4263,6205 3925,3833 3935,7049 4169,2718 5541,5334 4011,5724 3865,5250 3458,5279 3587,6959 4307,5824 3819,5774 3452,6920 3590,4116 4122,4980 3260,7270 6264,3583 5253,4039 3416,7067 4220,4356 3565,6949 4744,5699 3980,6319 3442,5576 4123,6990 4024,6029 5156,3440 3533,5615 4191,5978 4198,7357 4658,5770 3755,7555 4752,6565 4264,3376 4416,6932 4459,3940 4618,3717 4206,4470 4877,4984 4423,5051 3292,7929 4039,5415 4077,3672 4881,2369 3224,4025 4702,5357 2966,7998 4235,4441 3403,3788 4634,6042 3475,7175 3712,7367 4098,5729 3661,6817 4754,5372 4313,3922 4259,3877 4420,4122 4768,3625 4696,3778 3384,7212 3798,7654 4590,3853 3971,4412 5057,5165 4149,5200 4460,3404 3341,5550 3163,7580 3651,5887 3896,4907 4789,4480 3724,6213 2658,7954 3233,4142 3705,4513 4094,7367 4335,6368 3101,5357 4186,2349 3046,6498 4372,6204 3758,6351 4111,5303 3671,6126 3367,7650 3834,5336 4237,4113 4613,4123 4206,6329 4275,3505 4290,6206 3304,5563 3769,3584 4238,4191 3486,7062 4047,3597 3874,4261 3425,5585 4241,3876 4093,4230 3524,6902 4668,3781 4765,3903 4251,4249 4264,5674 3503,5214 4476,4021 3829,3793 3657,6981 3447,5097 4961,4071 4562,6050 3450,5971 4424,3592 3864,4070 2905,5334 3264,7200 4065,6647 3970,7290 4566,6439 4369,6969 3731,5102 4065,4965 4507,4067 4121,4561 4724,5253 3067,7679 4673,5430 3495,5633 2952,8047 3605,5055 3874,5775 5068,1858 5554,4033 4340,6993 3957,5649 4456,3921 3386,6713 3715,7264 4745,5202 3612,3375 3315,5821 3561,4165 4686,4569 3074,7955 3928,5430 3642,4958 4783,4373 3241,4928 3541,7713 4386,3751 4961,4144 5329,5363 3632,5239 4119,6245 3769,4690 3866,6469 5207,4043 5859,4627 4447,6522 4351,5422 4466,6698 4976,4953 3876,6731 3277,5463 3623,5219 4353,5629 3783,6938 3379,6915 4426,5295 3229,5994 3855,4978 4032,3469 4026,4864 4951,5888 3136,6342 3321,7674 3438,6992 3064,6775 4500,4707 3778,4832 3691,4524 4821,5261 3868,6945 4537,6081 5088,4148 3877,5790 4170,3848 3527,5192 4877,5112 3409,7871 4211,3549 4209,6344 4519,6130 4037,4636 3598,7299 3516,4751 3418,5127 4870,4029 4874,4743 4920,3694 2851,6585 2032,5568 3895,6218 2995,6202 3262,5822 4582,4833 3715,5470 3908,6141 3936,5501 4149,4408 3409,6169 4258,4609 2461,8628 3527,5323 3890,6846 4069,3333 4588,5379 4161,5570 3494,5738 4267,5807 3117,7960 5475,3494 3413,5093 3582,5405 4357,6846 3478,5030 5199,3870 2913,7286 4371,5602 4208,5047 4694,6544 3659,4511 4105,6489 4218,5825 3553,5806 5687,4143 3376,7140 3030,4938 4009,7356 4109,5461 4410,4743 3717,4632 4407,4998 3156,6101 4856,4639 3548,4179 4655,5708 4131,3769 3679,5191 3509,7332 4578,4768 3625,3644 3495,6478 3844,5886 4055,4506 3861,5016 4578,3948 4350,4183 4726,2623 2982,4748 4417,6593 4243,4969 3610,4632 4738,5808 2951,5847 4480,5558 3280,6168 4346,6198 5524,2174 4169,5843 3644,6605 4348,4455 4105,3549 3452,5614 3630,7756 4401,6197 3608,7309 4301,7010 3569,4619 3381,5849 4119,5439 4597,4343 3471,7489 4166,2281 4872,5583 4679,5920 3210,4813 4844,4838 3628,6032 3959,3521 4382,6968 4589,6265 3879,5115 5342,3457 4294,6078 4297,4934 2730,5244 2933,7913 3487,6744 3538,5053 4091,6284 4423,6070 4135,6283 3217,7521 4130,7052 4185,4164 4148,6701 4379,2336 3679,6421 3858,7048 4010,4582 4714,6359 3536,3716 4304,5117 3124,5943 4807,5908 4500,4478 3586,4621 3632,5994 3763,6360 3886,7234 3203,6838 5368,1656 3426,5914 4357,3997 4752,4024 4642,6432 4104,5668 4396,4638 3970,6244 4010,5645 3783,6818 3948,4288 4816,4605 3923,6361 3827,3292 3591,5433 3984,6614 3946,4950 3872,6833 3605,6211 4181,4444 4295,4968 3129,5342 4174,3823 5115,6182 3875,6806 3701,5706 4704,2927 3370,6216 3980,5409 4313,5831 3424,6821 3340,7409 3382,6169 3468,6150 3284,7142 3918,4585 3574,6249 4685,6465 5666,3817 4009,6750 4592,4619 4061,7477 4296,6991 3628,6417 3616,4434 4116,5578 4048,5246 5272,5590 3398,5242 4424,4206 3887,7317 4933,4919 4425,4969 5567,5647 5014,5790 3848,5434 4099,6130 4105,5918 4104,3995 4342,5965 3761,3887 4023,4800 3859,7199 3643,7262 4208,4428 3838,4821 4993,5756 4634,4972 3618,5308 3824,4510 3785,4719 4467,6009 3266,6827 4189,3611 4451,3854 3916,6240 3641,5213 3943,5065 3291,5216 3380,4680 4373,3754 3825,7484 3910,6731 4631,4416 3030,4891 4108,6695 4521,5008 3774,6441 3750,6921 4450,6344 5709,5120 3958,5122 3534,6550 3779,4275 3602,4516 3945,7410 4459,5805 4405,4963 4441,6090 4313,5321 4045,6705 3771,5752 4763,3408 4174,4357 4974,1612 4562,6618 3522,3961 4468,4028 4011,5005 3778,6483 4220,5164 3781,7216 3984,5410 3973,6110 4869,3941 4532,6803 4458,4668 4316,4424 4259,6542 4196,4912 4141,3924 6557,2943 3000,5167 3506,4030 3894,5729 3870,6972 4066,6852 3735,4341 3726,4940 3845,3889 3614,6573 3429,6400 4241,2967 4200,5082 4145,4942 4604,4042 4468,5581 4192,6006 4116,5132 3733,4785 3746,4858 4183,6312 4077,7212 3762,5523 5642,2548 3754,6169 3782,4140 4318,6714 3938,6030 4237,5636 3927,4567 3716,5029 4058,5102 4734,4737 4861,4469 4096,3749 3864,5421 3782,5866 4625,5029 5043,6840 4674,6190 4010,6499 4572,4470 4012,5783 4569,6570 3645,4998 4839,4171 3768,5444 4084,4906 3961,4109 3883,7490 2456,6495 3598,4523 4271,5435 4406,5420 4284,5176 4289,3005 5230,2105 4623,5740 3902,7019 3898,5591 3727,7383 4422,5912 3932,5018 4841,5498 4478,6266 4178,4980 3691,5268 3671,5460 4494,3375 4686,5309 3447,5856 3691,6993 4922,2407 3021,4766 4652,5599 4593,4424 4954,4369 3527,5906 3912,5474 2905,6611 3829,5932 4308,4256 3830,7076 4001,6512 4818,6095 4558,4823 3905,6582 4459,3837 4612,6238 3937,7284 3741,6253 3621,6993 4193,6835 5633,4214 4796,5831 4637,5171 4735,4747 4590,5037 5256,4844 3977,5483 4251,4195 4840,1852 3887,5916 4870,5092 3168,7844 3829,7288 2852,5381 4274,5727 3453,5164 4132,4683 4599,5457 3889,5248 4385,1785 3645,5570 4564,3930 4684,1940 3842,3261 3869,4729 4514,3971 3894,6765 5595,4946 4395,4901 4438,5351 4336,4807 4907,4473 4592,5291 4529,6662 4277,6338 3772,5973 4459,6680 3766,6414 4843,2339 3646,7056 4637,3061 2739,7777 3907,6202 4449,6887 3919,6146 4317,5568 3647,5256 4083,5874 4401,3757 3354,4260 3158,6242 5268,5727 3858,4451 4553,5140 4604,5116 3475,6914 3681,5315 3640,6098 3778,5502 4935,4240 3805,6937 3523,7070 4762,4153 4327,6906 4420,5638 3973,6451 3682,4144 4363,5159 4148,5543 4264,7080 4210,7121 4684,4176 4113,4381 4136,6617 4226,6563 3977,3208 4205,5635 3557,7457 4688,1872 5510,3307 3218,7047 3207,5880 4500,5422 3775,5325 4322,7253 4053,6641 4492,3567 4123,3355 5208,5839 4238,5018 5832,4364 4215,6595 3361,3989 3778,4886 3606,5696 3870,6419 3965,4532 3334,5501 5051,3682 4643,5526 3491,7043 3738,5036 4218,5370 3913,4040 4482,3331 3735,7033 3645,7430 3640,7658 4820,3625 4261,6944 3976,6545 3121,6835 3845,5812 3379,7389 5161,3501 3389,7977 3814,4130 4945,3981 4606,5085 4685,6055 4313,4416 4096,4447 4176,5102 3789,5440 3965,7241 2707,8093 3628,5781 4126,6133 3770,6435 4370,5387 3219,7576 4075,6966 3485,4087 4913,4787 4422,5271 3106,6294 4956,3983 4012,6139 3924,5119 4352,4801 3309,4344 3832,7502 3945,5740 2822,5597 4665,5502 4774,4329 3502,7320 4436,4516 3909,5210 4850,3997 4217,6757 5105,4946 3519,7157 3980,4088 3946,2852 3678,5989 4370,3847 3944,5914 3515,6765 4037,4706 4567,6315 3549,5097 4029,5050 3862,3741 4495,4793 3399,6669 4282,4012 3146,7987 4382,4420 5118,1668 4623,4692 2631,7886 4279,6840 3649,5583 4146,7418 2722,5630 4169,4233 4619,4826 4610,4703 3441,4683 4106,6934 4542,4209 3802,6860 3932,5684 3920,5115 4495,4791 5179,4329 3706,7175 5336,5741 3898,4676 3423,7307 4271,3847 3806,4488 4018,7460 4148,3110 3585,4405 4912,5383 3998,3397 3253,7825 4161,5175 4468,3494 3538,3989 3439,4993 3719,5754 4314,3718 4134,4457 4170,4761 3379,5302 3819,4940 3125,3498 5038,3113 4153,3849 4746,5267 2947,7764 3697,6106 5566,4542 4493,5185 3982,6943 4766,3960 3403,7685 4515,3287 4985,6077 5119,6274 4715,6713 3771,5754 4502,4338 4364,4419 3661,7463 4960,6203 4397,6260 4780,4610 4200,3931 3074,4494 3526,7286 3717,6803 4346,2397 3905,4224 4161,5143 2201,8633 5484,3027 4367,3707 4537,4533 3383,6067 4776,5483 3844,4796 4722,5607 4162,6570 4251,4802 2863,6729 4070,5379 4197,4418 4380,5790 5172,4231 4972,5105 3813,5567 3864,5820 4857,5474 3633,6652 4390,5148 3115,5549 4154,3810 3148,5294 6053,2062 3955,4750 3947,7190 3095,5545 3942,7165 4208,4660 4223,7314 3673,6733 3089,5164 4444,5174 4572,5813 4792,5436 3606,4926 3531,5421 4448,4832 5649,5362 3406,4699 3894,3702 3908,4529 3727,6946 3834,5722 4265,6543 3739,7392 3888,4633 4055,6881 3327,3978 4799,2395 4398,6805 4321,6058 4663,5566 5898,4251 3298,6839 4019,4110 3600,7460 4194,4607 3943,6068 3130,7473 3722,4447 4678,6056 4174,5873 4539,5641 3453,7685 3822,6605 5822,4877 3548,7068 3741,4565 4258,5311 4596,5298 3594,7479 4804,5466 3427,5275 4660,3660 3122,6546 3709,4031 5341,4138 3226,7952 3484,4966 3952,6503 3769,4970 3849,1107 3554,7575 3370,5331 3794,6911 3921,5897 3206,6906 3765,6386 4333,5303 3355,7813 4336,5411 4351,4789 3816,5836 3695,3619 3943,2997 3401,3620 4750,6474 3688,6050 4711,5951 4597,4402 4270,3632 3204,6541 3769,5140 4301,5575 4239,5906 4320,5321 2802,6885 4627,5642 3274,5757 4259,6479 4012,4037 4824,4346 3944,5243 4092,5187 3672,6355 4154,4664 4253,4605 5516,4948 3611,6050 3302,5988 3646,6664 4953,4462 3945,6682 3821,2075 5865,1928 3550,7535 3090,5271 3471,5173 4634,6004 4439,3020 3612,7526 4201,6693 4733,3910 5124,3803 3987,6732 4857,6043 3063,3819 3626,5981 4272,6611 3747,6395 4832,4632 3208,3960 3583,6772 3788,4398 3538,7828 3447,5049 4225,4349 3298,5599 3864,6606 4715,5024 4019,6360 3911,5561 3449,4913 4966,5180 4013,5607 4831,4633 3258,7001 3678,6706 3992,6879 3572,4813 4248,4116 4975,3562 4280,5599 3254,7834 3471,7424 4734,3688 3368,7047 4468,4787 2791,3635 2975,6638 3969,5089 3584,6935 3501,7748 3737,6827 4132,4779 3457,5240 3896,5637 3786,5085 3716,6380 3811,6928 3608,6165 4069,5488 4163,4206 4176,5247 4432,5071 3707,4268 5194,5722 3903,6397 6141,2187 3763,7003 4992,4783 3879,5051 4348,4017 4480,6077 4713,3476 3283,5062 5028,4841 4788,4385 4444,4651 2935,6820 3971,5111 4552,4297 3459,5274 4603,5123 4241,3570 3825,6402 3693,6142 4460,4219 3682,4865 4411,4742 3929,6801 4776,4470 3934,6256 4675,3665 3673,5673 3753,3708 4314,7067 3870,4363 3303,7133 4744,3990 4877,3685 2841,7119 4856,4005 4162,4607 3191,5683 4913,3567 4527,4477 5561,2915 4783,3140 3913,5518 3760,6234 4414,6579 4071,5886 6182,3658 3657,4219 5493,3506 4421,4642 2695,7278 4911,4096 4023,6348 3969,4651 4155,4344 4511,5788 3938,4982 3720,5661 6262,3489 3770,4163 4426,6819 3600,6043 3699,6044 4196,7262 3727,5062 3658,5920 4024,4927 3677,5322 4433,6084 4432,6917 4051,7079 6439,4786 4736,5589 3229,6575 5037,4493 4564,3985 3610,6093 3842,2923 5357,3989 3787,5618 4861,4798 3176,6308 4450,4465 3734,5301 5331,2603 3082,6723 4688,5961 4022,5932 3703,7429 3732,7065 4351,5725 3675,5904 5314,3155 5010,5513 4829,5005 3676,6713 4013,6086 3758,5803 4864,3166 4409,5906 3493,7861 4657,3806 4690,5775 4894,3552 4591,3740 3037,4470 2808,5819 4759,4528 5261,4759 5538,4665 4290,6022 3693,5613 4416,5802 3980,5043 3455,5701 3765,5635 3189,8021 3483,5732 3766,4115 4186,6405 3988,4215 4404,6297 3347,5654 3905,6766 3839,3668 4297,4097 3327,6402 5761,3876 3856,6492 3601,6690 3297,7098 4397,6913 3792,5370 4844,5094 4755,5490 3702,2823 3580,7506 5077,5318 3882,6117 4612,3707 4426,3681 4336,6006 4051,5669 3407,6171 4319,5122 3759,5019 3294,3310 4289,3439 4439,5598 3369,7749 2788,6516 3960,7110 3350,5874 3278,6347 3700,4782 4510,4001 3544,7230 4499,5444 5089,4661 4015,5818 4047,4897 3393,6166 3737,4084 4816,6540 3448,5772 3876,6863 4176,5697 5356,3327 5804,3331 3792,4357 4190,4971 4115,5756 3100,5646 4331,5344 1984,5266 4000,4704 5152,4833 4019,4485 4788,5120 3307,6160 2334,8400 4379,7092 4950,6222 4687,5658 3162,3934 3469,7429 4600,5961 3797,6921 4716,6389 2814,7303 3844,5660 3975,5239 4833,4792 4159,7243 4309,6880 3623,5247 3792,5342 4103,6014 3951,7017 4447,2894 3877,5592 4556,4725 4203,3024 4602,6549 3139,4594 5971,1561 3431,6523 4053,3658 3769,4375 4190,3745 4961,4906 5032,5958 4057,6617 3256,5813 3886,5136 3557,5156 3433,7720 4584,4478 2303,8371 4595,5679 4352,2123 3991,3420 4448,5150 4229,6126 3432,7428 4673,4962 4715,3441 3678,6620 3512,7460 3911,7546 4739,6011 2557,7034 3702,6843 3939,6970 4239,6807 5002,4022 3320,6327 3599,6219 3651,6140 4259,6923 3995,7503 2626,8426 4146,4904 3013,5762 3798,6655 2663,6311 5168,6188 4829,4926 3465,4858 4578,4492 4915,1722 3093,8063 4669,3973 4282,7182 3979,4598 4712,3784 3281,6040 3253,5824 3985,6969 3735,6358 2996,4865 4352,3600 4529,2267 4439,4760 4246,7320 4434,5108 4654,3758 4276,4133 3740,6358 3760,5700 4121,5827 4279,5739 2815,5249 4927,6546 3685,4831 5465,4197 4252,5318 4260,4038 3421,7047 4450,5235 3710,6566 3631,4056 3860,3733 2957,7685 4646,5195 3732,6188 3971,6005 2899,6211 3999,6454 3587,5591 4158,5566 3938,5712 4632,4215 5720,3520 2577,7654 3969,4969 4834,3205 3645,4914 3709,7642 3388,6627 3738,4370 3735,6309 3611,2241 4979,4092 3768,3152 4559,4038 4405,4288 4083,6113 4920,5380 4033,5596 4313,6548 4584,4628 4238,5866 2394,8449 3939,3614 4293,6097 4869,4787 3669,5050 4437,5639 2916,7919 3483,7349 4698,6096 4380,5133 3885,6763 3277,7013 3648,5033 3849,5483 3321,3934 3856,3453 4529,4299 3512,4773 3730,6359 4507,5117 3402,7914 4331,3965 3807,4846 5827,2283 4678,6808 3685,5910 4132,5325 3679,6771 4654,4135 4469,5929 3805,4706 2948,7633 4613,6202 3528,4563 3298,4898 4044,6014 4030,4667 4649,2406 4804,4534 2737,7508 5394,4590 3690,6313 4907,3824 6472,3803 3231,7534 3432,7457 3618,5607 5148,1783 4892,4224 4856,4215 4069,6025 3352,7638 4445,3977 4691,3472 5017,2919 4219,2839 4468,6205 3994,6492 4676,1801 4779,4464 3544,7491 4140,6576 3690,6683 3748,7333 4201,4687 3514,5724 3428,5480 4311,4210 5575,4641 3699,5669 3526,4262 3983,5179 4875,6327 3531,4461 3343,5631 3920,7200 4281,5854 4486,5512 4765,4146 5161,4754 4099,3876 3216,5882 4781,4066 4181,5156 4260,5649 4268,4441 3883,7184 4584,4879 4469,3722 3829,5472 3218,8020 3164,4749 3675,5688 4448,5515 3375,7020 2782,8378 4531,4081 3433,7547 4967,2323 3388,4140 3588,3744 4681,6261 4388,4789 4156,4660 4240,6393 4108,4334 3559,5453 4599,4394 4222,6104 5435,4273 3865,2848 4477,6524 4500,6516 3399,4817 5920,4795 4590,4928 3855,7304 4655,5375 3410,5861 4501,5239 3961,6767 3910,4659 3849,3958 3499,6043 5873,5003 4073,6129 4462,6724 5208,2235 4556,3336 4148,6024 4229,5985 3374,5305 4259,3531 4891,6012 3725,7700 4306,3463 5063,5099 3916,3956 4644,4571 3309,7835 4375,5215 4035,4107 3297,6742 4259,5718 4379,4842 3788,4421 3791,4981 4627,4270 3612,7673 3949,6531 4736,6520 4182,3499 3992,3962 4253,4538 4596,4353 5528,5132 4306,5003 4824,2870 4387,4107 3966,4154 4135,6036 4784,4802 4411,5498 3111,5306 4349,4007 3921,4444 3685,6142 4627,1624 3318,7440 3328,6764 3675,7031 3160,7893 5128,4452 2146,7824 4428,4053 3295,7184 4392,5244 5279,3365 3634,5963 4287,7094 4836,3365 4876,4385 3211,4807 3575,6683 3249,6048 2282,5242 3524,7249 3952,4419 3766,5350 3898,5429 4175,5840 4491,6597 4771,3711 3733,6064 4060,5400 3626,3408 3985,4842 4316,4648 3234,6428 3980,6188 4231,6350 3171,6366 5641,5258 4033,6738 3645,7208 3871,4816 4305,6420 2750,8191 5091,4863 4286,6327 4496,3944 4840,6299 4297,6130 3618,6542 4233,4795 3963,5192 4257,4141 3460,6784 3980,6008 4412,5057 4090,6075 4674,4358 3872,4907 4452,3693 4809,4525 4479,5333 4355,6627 3665,6178 3115,5147 3566,5876 3856,5035 3694,3904 4621,6247 4628,6172 4017,5713 3928,6812 5511,2592 3967,3429 4474,4154 3340,7460 4268,3098 4301,3052 4265,4415 5170,4224 4904,5461 4555,4312 3772,5120 4295,2866 3302,5801 4154,4238 4961,4539 4768,4966 5455,3196 3827,4433 2882,7892 3246,8005 3738,5792 3896,5305 3884,4413 4614,6984 3824,7559 4459,5592 5757,2771 3838,7514 2856,6161 4625,4180 4629,5414 3304,5263 4887,5000 2490,8406 3355,6035 5161,3596 3396,6953 3745,6266 4075,3426 3249,6637 3704,7708 3379,6428 3826,7423 3547,7079 4744,3792 4343,6316 3331,4088 3140,7308 3124,4792 3795,6269 3959,6628 4364,5873 3875,3774 2943,5961 3254,6549 4283,5229 3932,2295 3565,6007 3304,6288 4633,4648 3354,5699 4418,5841 3600,5422 3754,4300 4154,4624 3335,6397 3773,6498 3380,7798 2724,5632 4258,6523 3189,5061 4127,4301 3242,7009 3722,1945 4215,4210 3989,4652 2416,8211 4087,4589 4848,6211 4172,3751 6600,1960 4108,5804 4256,6095 3904,4673 3150,6118 4051,5754 4580,3590 3594,6468 3936,5082 3722,3864 4260,6252 3513,7878 4644,3978 4929,4184 3972,6082 3707,3730 4461,5242 2322,6330 3799,5689 4144,4381 4634,5839 4791,4731 4405,5773 3733,6629 3908,6191 2762,7611 2717,6718 3762,7019 5319,2356 5021,5522 4603,4546 3789,4948 3336,5095 4284,5855 4009,7049 4462,3828 4821,4651 5476,2909 3426,7129 5158,4310 3963,5833 6246,4315 4158,3770 3283,6655 3793,7473 2849,6038 4399,6327 3883,7044 3490,5534 3697,6882 4435,3774 3774,7164 3733,7029 3431,4224 3453,7606 4269,5946 4278,6739 2909,6967 4234,6982 4076,2882 4910,3892 3400,5061 4591,5878 3716,4668 3852,7374 4506,5059 4080,4292 4475,3898 3565,4931 4541,4979 4287,6460 4247,4186 3964,4757 3808,7059 4041,3426 4196,6353 4237,6280 4505,4647 4286,6417 4271,4379 4390,6377 3884,6676 4078,2886 3944,3864 5445,3406 5094,3340 2854,5282 4265,5934 3836,3984 4619,6675 3518,7245 3985,3487 3915,7395 4008,7116 4207,7232 2681,7849 4494,3667 3834,5535 4407,3937 3507,6492 4784,5689 3475,6425 3925,7412 3749,7212 3609,6678 3959,4296 3868,5722 3406,4547 3741,6437 3275,6940 3745,5087 3344,5947 3778,7471 4238,6473 4447,6648 4504,5793 4282,5151 5241,4311 6171,3540 2392,8062 5050,5995 3599,4703 4767,4351 4480,3710 3975,4718 3429,5847 5466,4266 4298,6111 4711,6881 4585,2553 3796,7518 3673,2975 4680,5679 3479,4735 4275,6362 4460,5363 3919,5988 3259,6421 3574,7703 3808,5300 4868,4178 2864,7933 4624,5396 3262,4104 4491,2995 5488,4343 5733,4463 3540,6995 3880,5403 4883,2086 4282,5169 4308,4053 4938,2975 4066,6070 5061,4281 4735,5858 2809,7127 4718,4482 4716,5274 3897,5058 3772,5701 4697,5104 2904,5541 4890,5259 3690,5612 4976,4458 2766,8243 4544,6795 4596,4517 4434,5308 3586,7456 3242,6593 4005,6410 3219,3667 3885,5457 3909,5597 3734,5541 5051,3942 3076,4780 4043,4803 4961,5502 4251,4190 5184,3064 3632,4670 4043,4233 4471,6833 2953,4790 4608,4005 4280,3987 4303,6679 3968,7212 3709,4840 5507,4528 4439,4120 4638,4605 4609,6179 4557,3672 4446,3735 4684,3598 3688,3574 5561,5815 4999,3750 5221,3449 2554,7901 3229,5636 3356,5505 5080,4546 3806,5437 3172,5706 3036,8198 4825,5024 3529,7109 3506,6893 2618,8448 4438,6639 5108,3793 4305,4401 3883,3475 4927,5262 3869,6529 4004,4076 4349,6780 4020,7132 4732,4481 3438,6065 3668,6031 4006,4125 2986,7520 3590,7012 4535,7007 3550,4157 3228,6225 4834,5713 3735,4752 3513,3833 4441,5233 4935,3857 3515,6817 4690,4507 3617,5277 4928,3767 4124,5085 4709,5251 3305,5251 4602,6575 3549,7321 4320,3667 3601,3478 5559,4116 4545,2976 3991,6256 4308,4346 3629,5573 3818,3332 3509,4024 3858,3878 4211,7357 5864,3687 3564,5891 4976,3310 3880,4755 3969,7043 3137,5989 4868,4575 4658,5139 3899,5942 4459,5734 5339,1623 4729,4785 4167,4633 4650,4218 4516,4457 2716,7337 3105,6487 5397,3375 4436,3433 3667,5425 3738,7121 3602,7544 2832,7389 4757,3052 3525,4498 4990,4137 3636,7144 5092,5239 4989,4600 4675,5139 4377,5005 4024,4908 4566,6190 4167,5420 4765,4285 3634,3520 4303,2944 2544,8466 4175,6396 4893,5253 4132,3564 4374,4099 3878,4612 2568,5916 4424,5811 3046,5318 3519,7085 3426,5915 3697,5537 3252,5472 4120,3604 4452,5193 3485,6407 3897,4301 3046,6180 4013,5852 3371,7084 4012,6115 4875,4052 4422,3393 2988,6823 4936,4702 3645,7519 4553,5293 4576,4753 5034,1350 4237,5820 4181,5076 4192,3732 3973,5159 4305,5175 4879,5816 4052,5817 4085,3852 4797,5049 4836,6669 3979,6321 3686,5679 3456,5992 4477,3459 3378,7671 3449,6723 3279,6157 3702,6643 3321,4348 3675,3559 3466,6205 3177,7351 3366,5962 3824,6915 4253,4155 4678,3717 3275,5762 3056,7106 3931,6890 4536,3525 4186,6555 4005,5688 4873,3332 4283,4027 4001,5261 4840,4813 2745,6940 5572,2719 4690,3334 4168,6020 4158,4828 3758,6424 4098,6817 4224,4818 4999,4148 3568,3463 3341,7201 4136,4894 4072,5423 3116,7928 3014,7620 2833,7217 4406,6173 3152,7853 3042,4172 4499,6834 4400,4869 4269,6495 4320,5487 4033,6726 2107,8882 3280,5961 4496,4104 4455,7007 4592,4612 4710,4668 4295,3908 4743,4736 4468,4194 3713,4773 4056,6393 3292,4165 4507,6035 3634,6421 5071,4883 3630,4370 4054,7437 5925,3565 4334,6928 3125,6426 4426,5272 3830,6102 3427,6774 5259,3290 3840,7231 4522,5842 4677,5806 3708,6377 4645,3652 3785,6766 4525,4129 3190,4208 4005,2555 3511,5334 4743,5887 3301,5416 4659,5570 4020,7478 3344,6619 3235,7676 3648,7195 4828,4855 2965,5483 5311,4016 4028,4361 3146,4677 4536,4943 3262,7342 3514,5386 4743,2681 4280,6061 4209,3799 4818,5974 5042,4584 4035,5246 4326,3623 3593,5337 3805,5376 4337,3927 3451,7044 3432,7747 4827,6226 4827,3425 3473,5448 4410,3683 4514,6148 4649,4660 4041,6330 4157,7342 3676,5204 3388,5691 3681,6292 3207,7165 3373,7845 4703,3215 4082,5291 4552,4029 4139,6551 4667,4773 3637,4623 4207,5059 3370,7942 4741,4070 4575,4998 3830,5969 4207,7084 4382,5560 4145,6540 4821,6251 4828,2884 3641,7323 3827,7602 5132,4721 3547,7299 4576,4907 3304,7542 5424,3468 4774,5148 3999,5608 3586,5001 3338,7193 4546,4808 3723,7118 4479,4539 3714,6337 4018,4258 5889,4510 3482,7016 3195,5733 4457,4499 5165,4529 4177,3821 3983,6719 3044,6923 2914,8307 4048,6057 4195,4608 4151,2823 4096,3791 4655,4689 5119,5549 4079,5096 3972,4593 4721,6354 4072,6806 3711,6422 4216,4903 4884,4777 3459,6316 3780,6691 3849,6240 3278,4928 3938,4762 3651,5831 3995,5426 4899,4460 4752,5600 3591,4480 4893,2280 4819,4934 4654,4619 3785,5898 3749,7321 4403,5403 5232,5271 3506,7733 4345,3054 4826,4624 4553,4088 4261,6463 4007,4851 3854,3936 5197,3444 2340,8711 3481,5460 3835,6739 4210,7268 3694,7004 4189,5546 4917,5176 4158,5360 4461,2902 4424,6751 5795,2600 4215,4904 4343,4443 3965,5692 2916,6738 3828,6388 5150,4260 3665,6669 4542,3593 2484,8599 3712,6735 4399,3254 4760,5627 2823,4379 3548,5418 4874,6619 4609,5096 2265,7940 3435,7154 4034,4240 3871,3471 4639,3662 3646,7285 3504,6784 4035,2918 4108,4158 4268,4084 4557,4152 4096,6445 4028,4660 3758,4519 4868,3828 3096,7746 3978,7062 3855,6386 4139,6605 4037,5360 3860,3637 4207,5460 3515,6451 3142,7269 4793,3918 3807,5087 4733,4746 4209,5580 4099,5012 3812,4673 4595,4761 3372,6282 3592,7254 3595,6646 3654,7211 2220,8798 4244,6045 4479,4331 5042,5438 4840,4303 3630,3491 4311,4096 3549,6449 5870,2909 4598,3942 4281,6434 4516,3898 4309,6860 3994,6440 4762,5092 4128,6666 5685,4636 3703,5202 4722,4316 3998,2443 3696,6177 3323,4050 3786,6648 4812,5045 3756,4041 4821,2860 4416,5446 4433,3990 4179,5526 4082,4338 3703,2630 4733,4659 3790,6069 4604,5761 3471,4445 3482,5512 4505,6924 4930,6188 4280,7130 3849,4346 3567,5540 3629,5714 4519,5428 5931,4049 4032,7125 4041,4189 3659,4773 4182,3880 3853,6677 4156,4572 4824,4056 4578,6752 4197,4796 3631,6373 5315,4947 3926,4656 4179,7251 4742,3744 3750,5882 3727,5481 4118,6793 4629,5148 4664,3614 2829,7113 3537,5583 3520,3774 4366,5141 4012,4631 3336,5706 4525,4893 4293,3226 4009,6963 2847,8275 2562,6347 3333,4138 3320,6177 4260,4653 4605,6030 3233,4105 3438,7060 4117,6462 3965,4010 3618,5179 6180,2456 3065,6288 4646,3714 4166,6958 4990,5399 3660,5167 3780,4959 3761,6777 3825,3468 3746,6737 4642,5492 3810,6270 3677,6491 3760,4798 3669,5093 3861,7622 4898,3462 3161,6796 3842,6563 3266,5606 3795,4140 3867,6937 4172,5694 3719,7248 2578,8361 4025,4848 3519,7314 3599,5804 4204,5905 3478,6215 4068,5575 4235,4631 4501,4887 4092,6155 4445,3626 3655,5770 4480,4928 4284,3707 3238,7781 3798,4985 3992,3950 3441,5033 5073,3692 4824,4301 4557,4443 4686,5836 3608,5513 3675,4647 3989,4900 3873,6663 3928,4361 5078,5658 3439,7132 5754,4085 3607,6905 4234,5585 3402,4860 4041,5703 3815,6310 4277,3954 3975,3967 4400,5224 3720,4790 3356,5029 4766,5897 3068,4132 4260,6394 3851,7305 3318,4529 4793,3724 3737,5045 4306,5328 4946,4818 3952,3816 3642,6621 4202,5117 4145,6551 4607,4546 3458,7079 4741,4672 5080,5097 2808,6696 3745,5109 3775,5356 4607,5476 4196,5463 4202,5188 4077,6228 4964,3286 4230,6315 4259,6646 4042,3597 4554,3157 4734,5613 3165,5664 4650,4954 3620,4576 3694,6174 3652,5363 3741,6977 3914,5176 3259,5766 4011,6335 3597,5484 4074,4323 4072,5208 5577,4799 3146,5682 3352,5865 3569,4613 3643,3529 3079,6429 4467,6760 4379,6234 2749,5981 4678,5695 4248,6164 3988,3935 4483,5519 3857,6462 3371,7163 3683,5245 4240,6389 4181,4688 3660,4962 2819,6347 5645,3708 3962,6258 4086,5983 4310,5766 4113,4035 4423,3994 2721,5127 4814,5723 3847,5351 3873,2773 4546,5668 4034,3636 5554,5418 4239,3577 4847,4451 4443,6146 3607,5178 3890,6986 5340,5123 3166,4671 4301,7147 1853,6695 5794,4406 4107,6371 3934,5000 4225,6638 3747,4950 3652,5900 2345,5045 3982,4774 5489,2358 4245,4727 3898,6947 5183,5261 4792,5434 4279,3114 3854,7106 4449,4537 4620,5273 4048,4438 4051,6697 4302,5247 4015,6643 4690,5715 4316,5692 3996,3388 4157,4347 3292,4868 3939,6113 4367,3937 3612,6635 3621,6109 4433,6010 4771,3637 3700,2787 3793,5812 3931,4334 4642,4923 4423,3924 3413,5109 4146,6094 4541,5548 3867,4968 3819,4041 4221,2473 4249,4268 4371,4211 4430,2164 3643,7431 4399,4658 4214,3287 3857,3801 3952,4104 3280,7817 4009,2719 5546,3652 5323,5513 4932,4327 4162,4269 4303,4508 4377,5738 3540,5932 4050,4800 4284,3300 4277,3750 3179,4137 4318,5274 3341,4785 3979,7319 3926,3776 3910,6002 4053,5198 3149,6417 4999,3616 3031,4772 3958,5286 2956,7086 4575,6325 4268,3094 5380,3595 3354,6750 4058,4250 4261,4571 4415,6016 4363,4777 3303,5155 3346,5714 3284,6744 4265,5463 5937,5257 3941,4656 3256,4545 4406,7083 3663,4082 2663,6898 3780,7203 4522,4573 4103,3438 3589,5847 3813,7537 5016,3734 3810,7204 3540,7201 3049,7106 6260,3941 4517,6323 3357,7553 4011,4259 4970,4416 3830,3518 4547,3244 3948,6470 4458,6414 3808,5081 3877,2492 4131,5846 2743,6481 5188,5030 2631,8426 3228,7324 3784,7437 4353,4310 4473,5953 4006,7005 3975,5489 3524,6675 2966,6247 4065,2831 4023,5137 6103,3194 3302,5931 2164,5426 3660,5375 3455,4684 3749,5573 5962,3567 4473,4364 3598,6061 4109,6696 4407,5983 3683,7029 4246,5079 4257,3611 4925,5961 3547,6849 3929,7118 3810,7429 3168,3971 4515,5988 3295,6257 5153,4539 3699,4178 5133,6207 3560,4588 4597,6143 2613,6720 4159,6956 4610,5085 3121,6003 4574,6948 3004,8099 4123,4069 4357,4409 3998,4246 3627,6901 3795,6250 3033,5419 5511,4165 4120,4384 4886,5762 4639,4699 3950,6749 4602,4585 3470,5446 4571,5050 4457,4469 3057,4004 4550,4951 4576,6539 3904,4814 3024,6178 3817,6729 4405,4538 4181,2183 4862,3624 2684,7237 3314,4970 4427,3880 4821,5933 3029,5304 4430,4388 4416,5173 3237,5189 2902,5503 3550,5506 3841,5837 3520,7161 4688,5606 4054,5345 4318,3999 4547,4084 3317,6374 3463,5340 3607,6212 3149,4718 4882,5643 4135,3744 2791,5353 4702,2980 4010,2615 2930,4336 3402,3331 3522,5431 3575,5027 4476,3722 4060,5586 3357,5039 4093,4950 3144,5433 3914,7336 4995,5073 4401,5040 4721,4044 3287,6915 5263,2556 3789,7630 3221,7464 3504,6399 4391,5051 4379,4126 3451,6038 2547,8472 3484,5707 4267,7207 4288,4967 3437,6952 4655,4050 4972,4890 4665,5670 4098,6265 3039,8042 3657,2766 4235,6076 5060,1774 3520,7321 5475,4318 5644,3882 5498,4243 4088,2930 3706,3427 3756,7054 4332,3635 4093,4857 3444,6717 3443,5541 3928,4797 3767,4300 4732,5359 3087,6023 4649,3490 3494,6451 3829,6012 4136,3595 4579,5585 5708,1727 3060,7023 3410,7115 4200,3379 3972,3599 4050,6457 3372,6314 4441,5960 3347,6692 3854,4922 4018,6337 4364,3262 4380,5894 4250,5224 4072,6915 3926,5317 4303,3518 4932,6443 3143,6455 4337,4302 4065,5807 4047,2533 3413,7776 4871,6184 6311,2701 4489,5366 5439,3896 3726,6853 4122,6820 4376,4634 3492,6810 3652,7753 3164,7754 3063,4073 3882,4041 4671,5322 4605,5906 4571,4717 2336,8611 4855,5523 3316,3808 3931,6175 5175,4256 4013,6059 3726,5534 4804,4217 3436,6393 3922,5759 3981,2393 4121,4938 4742,3829 3167,7363 3031,6259 3804,4634 3653,6843 4294,4548 3569,5399 4406,5485 4684,3766 4765,4832 4691,4816 3966,7059 4262,4442 4838,4531 3822,7410 4638,5978 3249,7337 4822,4427 4582,4257 3617,7161 3844,7158 5430,4259 3663,5641 4655,4884 5479,1400 4153,3120 3227,4593 4451,5931 4181,4939 4098,2468 5692,2125 3759,5796 4293,7092 4166,4300 4400,5240 3922,4732 4558,4762 3276,6655 4100,3338 4309,6850 4624,5312 3742,2931 3227,6355 4316,4211 5049,4834 3260,5422 3987,7478 3999,5579 4943,6486 4398,6691 2878,7832 4576,2030 3885,5804 3863,6027 4536,4014 3731,6229 4756,5068 3170,5592 2741,5514 4610,5890 4200,5761 4706,2509 4412,5197 4214,4274 5519,4281 3017,7531 3600,7334 4404,4369 5371,3323 2962,5432 3742,7291 4090,5374 5617,5376 3389,5505 4863,5099 4008,7154 4809,6532 3255,5028 4488,6849 4482,4014 3389,4682 4130,2897 4165,6888 4311,5104 4153,5569 4655,4566 3696,6776 4513,3546 3259,5161 4250,3793 5034,5071 4101,5855 2816,8343 4851,4192 3729,5717 4767,3488 3844,3846 4719,4424 4787,4441 4884,5463 2895,4718 3830,5901 4488,4042 3552,7411 4476,5377 3787,5412 3156,7635 3928,7044 2733,6856 3230,6691 4009,6821 4990,5170 4568,6390 4159,7366 3443,3772 4664,5173 2835,5484 3822,6731 4957,4248 5556,3983 4525,5760 4304,6056 3505,6919 4131,6790 3898,7317 3462,7861 5059,5387 4846,5241 3817,6779 3792,5454 5015,6844 3955,5910 5339,1965 3422,7731 4229,5040 3629,6146 4250,6142 3712,6517 3176,7262 4466,5993 4542,4788 3963,4057 3903,3815 4471,4639 4510,6766 6298,4268 4065,5421 5424,3390 4290,3332 4238,6945 4011,6773 3782,6180 4882,5397 4414,5386 4640,5737 3918,4651 5959,3436 3596,7516 4311,7042 3908,4864 3668,5270 4092,3780 4314,4809 4690,5193 4001,4502 3621,6303 4482,4957 3322,6004 3458,5584 4481,4672 3169,6638 5483,2473 5182,4870 3840,5496 2922,3912 5045,4190 4742,4505 3789,6318 5691,1157 3345,7620 3519,6141 3499,7388 4277,3639 2659,8382 4911,3598 4044,5199 3888,4608 4435,5042 4059,5636 3138,8041 4569,5634 3908,5174 5307,4784 3920,2764 3314,5893 3827,3687 3901,5422 4802,4556 4839,3782 3891,5366 3279,7970 4011,3862 3913,5147 3958,6164 3413,6324 4352,5424 4063,4506 5590,2490 2736,6102 4074,5500 3835,3851 3955,7276 4207,5112 3865,6337 3882,7077 3599,6449 3304,7808 4878,5540 4037,4390 2966,5108 4057,4521 3440,7045 3118,8153 2907,5041 4333,5283 3692,7182 3226,6820 3514,4522 3123,7749 4515,4816 4415,3742 3816,2822 4828,3647 3314,5762 5288,2180 5581,2950 3583,7323 3950,3650 4340,4357 4604,3354 4904,4689 5745,3293 3312,7433 4157,5376 4204,5700 3596,6856 4543,5903 3715,7233 3615,4762 3386,6967 4992,4940 3682,6115 3898,3936 3350,5526 3134,6747 5771,3252 4179,5112 2990,4870 4586,4876 3561,7583 4258,6288 4697,4682 3387,5508 3935,6678 4805,4836 4586,5769 4679,4743 4511,5756 2819,6437 3328,6637 3497,4172 3891,4680 4326,5339 4208,6076 5743,4046 4046,5638 3180,5712 3595,4733 4897,5290 4445,3949 4470,6788 4222,5594 4637,6241 4651,4454 4298,7123 3704,4960 4087,6872 3240,6304 4256,6287 3698,7650 4652,4656 4255,6745 4155,7298 4103,6399 3416,4776 3174,7642 3922,4565 4266,6795 4019,5217 4259,6162 3768,4952 3601,5516 3978,6671 4435,7002 2105,5076 5406,1501 3944,6873 3766,3284 4271,6116 3502,6095 5620,5068 3776,6685 3646,3230 3448,5412 3568,6394 3689,7190 3037,5116 3093,4104 4059,3994 4142,5365 4799,2665 4634,4304 4127,4796 4573,4953 4718,2667 4151,5554 4002,5120 5758,3786 4248,6987 3438,5961 4291,4852 3024,4681 4573,5096 4106,3895 4069,4755 3321,6438 3175,7878 4536,6026 3501,4976 3150,6705 3183,8105 4725,2542 4036,7234 3149,5109 3914,4817 4445,3860 2984,2956 4098,5128 3665,4657 3807,4323 4615,4322 4359,6158 4489,3781 4612,6975 4084,4774 4800,6279 4089,5869 3462,4888 5290,5677 3346,7353 3817,4914 3755,7442 4322,5710 3227,3648 4046,4737 5053,2113 5215,5247 4256,5367 4004,3780 4130,7405 4302,5870 3469,5523 3067,5083 4070,6979 3742,5147 4417,4953 3589,5054 5177,3478 4479,5734 4513,5238 5153,4793 3641,6015 4672,5271 4410,5734 3619,7041 5100,5860 3796,5490 4535,6182 4224,4474 4480,6147 3749,5165 3986,4965 4189,6836 4331,7220 4609,4527 4379,5419 4868,5171 3291,6389 4298,6149 3998,4306 5249,5090 4086,6117 3593,5992 4634,5631 5069,6080 4013,7365 3903,7266 3038,7602 3668,7047 4369,5494 5289,4216 3506,5443 4279,4436 3884,7146 3744,5710 4988,4775 4658,4880 3952,6255 3308,5606 5311,3784 4527,3499 4118,3989 4556,5572 4147,5299 4319,3791 3913,6540 2909,6326 5230,3644 4641,5534 4403,6848 4924,4732 4013,6898 3756,3591 3729,7671 5204,3689 3730,6878 4598,1853 5057,5523 3690,7058 5154,5048 3992,5402 5267,6023 3025,5751 3943,4775 4374,5642 5095,4646 4895,4145 3697,4491 4352,6382 3238,6412 3908,6523 4971,6483 4321,6872 3540,5815 4386,6100 3077,8073 4219,3279 3748,4974 3027,5792 3007,7948 3377,4611 3660,5765 4225,5464 4489,4030 5795,3670 4469,4133 4051,3951 3908,5401 4400,3900 5128,5620 4777,4542 4097,5728 3861,6973 4179,5057 3913,5147 4462,3807 4047,6045 4065,4752 3806,4706 4913,4418 5239,4545 3764,6871 4440,6239 3055,7773 3012,7385 4501,3380 5431,2538 3123,5407 3784,6744 4523,5158 3591,4692 4378,4359 4581,3928 3855,4701 3398,6125 4104,6263 3558,4634 3771,6312 3257,7795 4700,3897 4779,4489 3945,7214 3780,4281 4491,6565 4140,6823 3869,3352 5424,4822 5023,4108 3791,4923 4606,4838 3733,6162 3990,6196 3820,4785 3957,4577 4135,6139 3611,4036 3562,7707 3840,7284 4127,6096 4314,5704 3148,4345 3694,6793 3851,7483 4467,6310 4296,5038 4331,6759 3646,7353 4815,5749 3868,6387 5434,5143 3572,5062 3588,7558 4176,5200 3705,7450 4519,4001 3122,4551 4200,5435 3806,7263 4410,3714 3989,5958 4378,4064 4169,3795 4011,3576 4878,4639 3704,4152 4224,6746 4208,5108 3339,6884 4369,5179 4624,6181 4693,5202 4935,2914 3711,4513 3720,4447 4265,5764 3899,6260 4803,4763 3361,7662 3635,6784 2334,7471 4186,5417 5084,3647 4275,5501 4499,4528 4239,6148 4120,5881 4140,6697 4299,7167 4552,5355 4881,5679 3941,6359 3601,4184 4213,5826 4346,5030 4216,4213 3538,5902 5183,5144 3174,6057 3255,5178 4499,5343 4031,2661 3540,6536 4986,4569 4898,4866 3403,6225 4213,4509 4346,4199 4173,5507 5439,2341 4498,6615 3434,6967 4287,5979 3677,7079 3607,6024 3290,6436 4128,6519 5252,5580 4398,4612 4589,5712 4351,3093 4402,5838 3634,5409 4012,6420 3882,5452 4099,5042 3921,6184 4410,3976 4439,4821 3479,4618 4069,6111 3267,5996 4398,6058 4372,3142 3617,7226 3895,6525 3667,4339 3477,7234 3229,5592 3315,5255 4244,4452 3785,4105 4055,4928 3692,7379 4180,5425 3690,5902 4984,5167 3602,7593 3720,4500 4557,4974 3352,6008 3460,5283 4723,5570 3440,4851 3770,5267 3642,7497 3186,7668 4599,4520 4688,4551 3807,6960 4640,4657 4202,4069 3717,7618 4998,4317 5201,5288 4017,5585 4449,4066 4902,5980 4833,5091 4542,6710 4208,5642 3188,6980 3693,6970 4570,4608 4459,4369 3976,4333 4836,2455 3598,5727 3938,6086 3654,7069 3764,5905 4187,6757 4478,7037 3920,5259 4402,5378 3899,5123 4355,5391 3099,6820 3561,7164 4073,4998 3459,6596 4726,3155 4833,5959 3416,5383 5663,4817 4269,6778 4446,4586 3616,3857 3808,4058 4094,6570 4523,4389 3554,4462 4580,4481 3517,7235 3461,5420 3942,7448 5503,4215 4186,5663 4287,4915 4222,4006 3578,7577 3714,4048 4088,3962 3845,3791 3520,5840 3954,7117 3731,4947 4421,5202 3729,5644 3602,4153 4604,2489 5064,4538 4311,5269 4589,4510 4618,4672 4394,3767 4027,7087 3984,6844 3629,7254 4248,7277 3193,5437 3345,6916 2891,8014 3504,7882 5020,4676 4715,4834 3328,6315 4181,5756 4374,3775 3507,7687 3734,2887 3884,6397 4587,4219 3921,6417 3847,7164 5616,4823 4554,6742 2772,6235 4030,5696 2841,6382 3103,7508 2891,7865 5126,5544 4151,5122 5551,3276 4321,6289 4188,4694 3896,3222 4271,7161 3732,7539 3983,4450 3541,5487 3603,4805 4003,5938 4048,5364 3611,4985 3721,6340 3691,4874 4717,5513 3681,5441 3813,3691 3801,7009 5215,5013 3730,6986 3535,5325 3446,5408 4783,4427 3744,5923 3436,6529 4633,5094 2554,8539 4195,4104 5507,5612 3826,7574 3522,6914 3378,5804 3628,6702 4348,6164 3292,7159 3627,7690 4380,5856 3628,6270 4172,7208 4153,5180 4338,6656 3449,7898 3412,7183 4195,4754 4104,5990 3846,5122 3591,4859 4854,4322 3846,6985 4115,4684 4365,5562 5533,4544 3966,5698 3838,7565 3560,5220 4441,6333 3853,3058 4742,5218 4000,4877 4200,7208 4017,5568 3733,6428 5088,5226 2715,7067 2728,4829 3480,6686 3817,5278 4109,7277 4528,4011 3427,7801 4486,4620 4885,5179 3696,5827 3299,7242 3765,5616 4014,3562 3675,5912 3144,7702 3411,5585 3682,4076 4835,4688 4266,3968 4746,6465 4070,5431 3586,6469 4083,4081 4417,4091 4563,5452 5164,5710 3705,7399 4649,5419 4037,3434 4748,3977 3359,5691 4052,5315 3102,5739 3496,4886 3926,4358 3851,5931 4912,4832 5527,4013 3578,6701 4451,4584 4103,6485 4150,5038 4360,6130 4106,3800 4019,4623 3500,4809 4195,3401 4042,4463 4124,3425 5708,4624 3504,7826 4068,3994 5096,6457 4791,5849 4479,3516 4230,6557 4558,5151 3775,5697 4189,4228 2910,6036 4356,4970 3747,5165 3969,4431 4470,4846 3002,7649 4993,4015 4469,6809 3757,3971 3717,7123 3486,4925 3797,7621 4065,5971 3670,6815 5589,4699 3822,6519 3510,5591 4468,5952 4458,6052 4179,3514 4531,4631 4219,4405 4407,3169 4615,3401 4929,4283 4530,5365 4629,4165 3988,5625 3849,5860 3279,7901 3339,6415 3929,5295 4773,4462 3497,7825 5004,3193 4306,3982 4665,4502 2676,7285 3731,5315 3684,5264 4451,6190 3699,6632 3954,7196 4332,5250 4382,4561 4451,4739 4758,3810 3972,7224 4460,6606 4852,5799 3381,4939 3423,7084 3364,7701 4632,4967 3658,3974 3805,4745 4559,2941 3962,4853 3842,5585 3903,3924 2632,8322 4164,4550 4339,5901 4456,5576 3811,5925 4179,4468 4193,4402 3493,5020 4203,4189 5245,4487 5047,5280 4103,4588 3932,3535 4582,4985 2868,5812 4686,3090 4317,5484 4468,4437 4051,6141 4144,4733 4423,5214 4900,2980 3363,7508 3809,7608 4678,6391 4089,6226 3607,6335 3975,6400 4154,4376 3921,5113 3733,5638 3298,5251 3307,5440 4447,3590 3569,6305 3576,5999 4237,4784 4718,6128 4368,6513 4591,3919 4044,5648 5914,4710 2199,8828 4637,4591 4072,4850 3486,4227 4380,6044 3378,5107 3199,7774 3090,7336 4776,4920 4035,6145 2060,5393 3927,6910 4297,3966 3613,7140 4012,3339 4664,6098 4088,4344 3652,5557 3785,7357 3317,7824 3602,4831 4044,5701 4768,2862 4803,5357 2906,5823 4647,6285 3808,5649 3402,7520 4173,2995 4388,5899 4180,5942 3789,4915 3900,4888 4317,6721 4410,4972 3353,6139 3593,6984 3472,5862 4628,6308 4300,4733 4368,3978 5036,2121 3872,4619 3726,5412 3788,6735 3445,6152 4126,4556 4012,4990 4889,4292 4572,3908 3733,4049 4107,4805 4773,4725 3205,5237 2604,6242 3927,5142 7076,5083 3591,6629 5178,4454 5117,5941 3577,5391 4221,6419 1877,9041 3582,6127 4415,6150 4017,5406 4216,5552 4796,5418 4060,4805 3572,4886 4250,5217 4436,5401 4556,3144 4139,7028 3677,6585 3704,7062 5311,3830 4342,5946 4212,7199 4960,4223 3634,4946 4998,4425 4032,6178 5431,3795 4611,2232 4851,5712 3569,6057 4034,7230 3406,6055 4489,5862 3613,5325 4141,4395 4276,3620 3413,6025 4359,4652 3169,4047 4226,4419 5001,5340 4060,4630 3673,4566 4367,3931 4308,5829 3829,4238 5780,4235 3108,6443 4123,2947 3495,5192 2947,6656 3992,7211 4281,4115 4690,3909 3202,7124 4760,3634 5879,4131 3534,5444 3994,4797 3565,5280 3496,5721 3879,6478 3703,6475 3898,7226 4578,4155 4165,4496 4020,4553 4290,5940 4385,2394 3857,5656 3680,4666 5164,5898 3067,6194 6012,4263 2730,6266 3960,6313 4206,3936 4143,4381 5000,4634 4889,4637 4126,5543 3946,7174 3858,2592 3321,7862 4566,5644 2731,5661 4356,3709 3252,5059 4609,6878 4192,5504 4380,4467 4414,4222 3485,5735 3893,4720 3444,7025 4906,5187 4138,4955 3620,5410 4386,5605 3996,4460 4933,3548 4389,6376 2960,7409 3992,6899 3935,7567 3990,5994 3383,7006 3461,4769 2715,6080 3187,3653 3562,5175 5000,3384 4569,4843 3426,6349 3326,5372 4160,5210 3859,4988 3900,3715 2991,7719 5641,3133 3266,6567 5537,4270 4843,6779 4024,4032 3203,5425 2913,6455 4904,5452 3569,5374 3618,4763 3729,4641 3484,7656 3208,4959 5163,4519 5262,2234 1597,8422 4682,5533 3593,7735 5248,4899 5049,5598 4057,4449 3224,7288 4212,3760 3498,5998 3824,3089 5015,4122 4035,5486 4049,4459 3864,3269 4032,4961 3934,6809 3655,3565 5475,4156 3500,6842 3928,5806 3521,7623 4155,5720 4285,4902 3589,7167 3267,5792 4733,3386 4505,3961 4563,6167 3504,4373 4692,4839 3394,3249 4483,5005 3463,6481 4098,6815 4990,6301 3299,6780 4510,5301 3165,7919 3335,5742 3160,8136 4322,4134 4426,4716 4033,4059 4181,5210 4666,6276 3314,6826 3568,5885 4667,3059 3390,3678 3774,7531 3940,2973 4102,4316 3966,4206 4267,2817 3591,7061 3348,7049 4184,3971 4359,5595 3615,5600 5013,4610 2533,8529 3878,4532 3839,6269 4439,2297 3403,7621 3654,4185 4496,5390 3924,4021 4468,6048 3720,6727 3345,3054 4186,6099 4019,6862 4289,6517 3855,7618 4153,5539 3778,6322 4879,3803 4654,2234 3842,3987 5497,4027 3409,5326 4157,4940 4558,4182 4901,5315 3849,6761 4159,4276 3805,6639 3459,4162 4100,5370 3311,7793 3816,7468 4342,5412 3854,5718 4261,6401 4171,3502 4219,5572 3347,6052 4443,6846 4026,5922 5397,4231 5111,5040 4134,5950 3974,7191 3877,6233 4618,6182 4277,4256 3369,5688 3620,7335 4149,6523 3444,4924 4422,5660 4603,6529 3659,7474 4551,6354 3968,5299 3724,5470 3518,5569 4785,4338 3745,3408 3103,7410 4830,3966 2959,8043 4050,5999 3945,6749 4754,4036 5342,2088 3467,5715 4806,4854 3758,5487 4242,5461 4011,3861 2386,8679 3756,7277 4164,5407 4262,6844 4022,3971 3998,4668 4558,5870 3496,7898 5398,4982 4350,3887 3190,7377 3590,5004 4591,5708 4763,5130 5036,3326 4677,5232 4131,4459 3360,5768 3642,3909 4282,7196 3986,5586 4171,5936 3386,7869 3731,6560 3534,7140 4914,5029 4061,3894 3937,4117 3716,4277 4082,6424 3018,6592 3533,5414 3080,4990 4091,4417 4503,6193 3673,2763 4139,3650 5305,2601 4429,4935 3690,4280 4691,4487 4321,5591 5564,4236 4419,6146 4211,5417 3576,7033 3597,3314 3912,6774 3591,4979 4892,5637 4411,6345 4404,3769 2231,8118 4314,4920 4794,4933 4309,5300 4439,2559 3673,6077 4016,5520 3938,5827 3637,6357 3356,5402 4363,6491 4707,5322 3104,5751 4573,5109 4980,4581 3103,7051 5645,1774 3221,4513 4205,3972 3903,5842 3921,6964 3445,6316 3476,5387 3975,6551 3566,5205 3952,5028 3081,3853 5084,6550 4069,4935 3796,6236 3389,7051 4715,5633 3299,4480 3913,6941 4187,3888 2939,5012 3742,6809 3867,4329 5148,5380 4297,4392 3896,7415 3540,4551 4593,2202 4621,4176 3551,4690 4181,4243 3148,5718 3334,4200 4447,6241 3106,7525 3440,6283 3315,5472 3481,4998 3633,7355 4338,6023 5964,3580 4986,5879 4582,4925 4366,6063 4322,4074 5175,1918 4229,4271 3990,6789 4639,5433 4578,5461 4204,5132 3949,7307 4738,4083 5510,3566 3494,3954 4242,6551 4610,6528 3597,6362 5749,4451 4054,5282 3488,6329 3338,7117 4265,2879 4748,4662 4636,3800 3756,5851 4053,5974 4944,4114 5650,4070 4123,4168 4335,7094 3080,6158 3483,4832 4147,5582 4168,6657 4696,2254 2931,8137 4658,5537 4222,3766 4910,4083 3209,7118 3496,4700 4273,6094 2784,7409 3379,5520 3791,5775 2777,8060 3993,6857 4215,4643 3830,5993 4164,4359 3092,7428 4145,6374 4507,5572 3537,6270 3856,3864 4200,3952 4122,5751 4920,4116 4902,4332 3161,4884 3683,6468 3685,7178 3394,3833 3337,5794 3946,5345 3135,7245 3259,6586 4984,4644 3769,7237 3341,7589 4010,6107 3023,5722 3665,6035 4553,5842 4408,4807 3131,5000 5417,2641 4098,2344 4248,4838 4750,5188 4314,6404 4115,3255 4463,4044 3924,5072 2549,8430 4379,5135 4313,5972 3993,7239 3310,6362 3603,5296 3323,7199 4414,5737 4060,6773 5459,4925 4138,5795 3471,6116 4078,5383 3237,4254 3175,6180 3694,6869 3708,5350 4207,5098 4684,5288 2839,4479 3565,5384 4263,5157 4516,4018 4928,3630 4357,3550 4172,5201 2668,5896 4120,6237 4451,4096 4127,7202 4471,3964 4728,5186 3749,7564 3737,5811 3877,7324 3028,6466 4248,6108 2955,5301 4164,6015 4390,5313 5402,4574 3510,7557 4373,3062 3591,5453 2811,6329 3572,7510 3652,5875 4215,4774 3668,4898 3785,6325 4348,4770 4231,4758 3995,5548 4557,3726 4130,6242 4232,6624 4321,6101 4143,5044 5112,4161 5741,2665 3800,5374 5036,4584 4761,3441 3881,6586 4651,4770 4101,6670 3623,3716 4759,4121 4066,2794 4333,5641 3598,5519 4567,6027 3228,5166 4071,7114 3278,6184 3228,4281 3948,5367 3981,5997 3622,7219 3693,4179 4463,4544 3020,4004 3619,6901 4744,4911 4433,5058 4567,3148 4218,5254 4394,4470 4225,4145 4946,3553 3665,6290 4728,4111 4891,5738 3750,6950 4000,6380 5365,3517 3814,7280 4271,6430 4420,3018 4283,5038 3573,7044 4443,5464 3268,6636 3022,5590 4595,5090 4971,3669 4865,5078 4745,4744 4561,3348 4447,6872 3865,4419 4324,5571 4131,3882 3679,7653 3260,5467 3568,7848 4854,4907 4845,5146 4602,5337 2990,5731 3667,4587 3495,5871 4002,3693 4387,2518 4377,4382 3477,5791 3856,6653 3589,6467 4101,6221 3091,6876 4212,4803 4229,5833 4847,4791 3490,4123 4233,4130 5985,4149 4803,5569 4355,5868 4170,5652 3534,6160 4021,4812 4533,4256 4463,4076 3850,7640 3768,5475 4902,5099 3897,5174 4738,2436 3736,5976 3585,6018 4733,4914 4553,3113 3318,4435 4352,6068 3769,5292 4114,3660 4019,5667 4094,4821 4970,3629 4263,6488 4569,5764 3943,6569 5642,4736 3312,3810 4566,4286 3773,6941 3666,4476 4991,3501 3981,7345 4092,5826 4414,5462 3987,5168 2971,5380 3426,7645 4890,5592 4828,4105 3945,5097 4424,6068 3516,6204 4471,3902 3874,6543 4541,4550 4456,5472 4479,6200 4341,4638 3131,7982 3875,5153 3782,6732 4463,6049 4843,6477 4276,6792 3293,5574 4849,4743 3734,5583 4502,4537 4683,4799 4264,4648 4718,5866 3885,4344 2046,4780 4702,4231 4643,2902 4440,5905 3413,6119 3489,3049 4837,4329 3709,6024 4982,3979 4812,4511 4328,3750 4616,5359 4952,5519 4773,5062 3418,5120 3343,5716 4728,3936 3898,5682 4829,3944 3595,5532 2568,8089 3735,4897 4873,6117 3335,5628 3455,3743 4107,5901 5274,4278 4389,5983 4701,6949 3829,6430 4035,4917 4070,4357 3582,5004 4043,5493 3940,4700 3569,5107 3863,5068 3070,3386 3908,4751 3557,4991 3616,5737 4086,4932 4711,3661 4688,4575 3302,5403 3756,5402 4303,6874 4278,4689 3201,6965 4592,5719 4564,3609 4362,3684 3621,5655 4070,3591 4612,3703 3922,6287 4197,5908 3069,8013 3880,5800 4496,4327 3171,4990 3271,7702 4231,4547 4324,6331 3745,7079 4379,3406 4150,3430 3552,4449 3815,3850 3779,5100 3240,5641 4087,4700 4290,4992 4893,3689 3683,6809 4103,4161 3759,7656 3898,6883 3808,4337 4149,5658 4147,4000 4006,4972 4588,5345 3279,6451 4337,5979 5339,3120 4232,4492 4424,6666 4211,3495 3545,5653 3645,6549 4172,2989 3711,6095 4966,5124 3590,4866 4576,3174 4796,3601 3736,7184 3891,3968 4767,3439 4931,3441 3570,5564 4198,4656 4002,3897 3815,5551 5088,4513 4567,5384 3918,4644 4010,6158 4022,3322 4755,4532 4738,3494 4552,5938 3669,5622 3888,5903 4272,3812 5524,3741 4366,4592 4283,5474 4392,3424 4795,5095 3465,4707 4875,4214 3381,5901 3127,7161 4430,3985 3357,5206 4489,5659 4416,3491 4468,5673 4093,4996 3368,6384 3789,3765 4000,4511 2893,6696 4021,5072 3525,6535 3533,5708 4580,5764 4720,4709 3764,6426 4132,5232 3855,2126 5031,5979 4281,4429 2996,5960 4569,4110 4387,6448 3748,5191 4678,4263 4423,4206 4017,6001 5377,3364 3197,6148 3475,6517 3586,5654 3326,6831 4441,5203 4796,5383 3541,7084 4077,3920 3173,7192 3547,5089 4148,6956 5142,3832 3102,6296 4577,2840 5194,3796 4315,3538 4604,3983 3276,8055 3932,5399 4598,3978 4894,4189 3677,5609 3741,7315 4208,5227 3763,5179 3175,7768 3905,5430 3372,3740 4481,4940 4554,3112 2982,6274 3920,5939 5133,4182 4656,5667 3082,7740 3133,7325 3938,4248 3477,4838 4454,4966 3482,7088 4122,4218 4670,5406 3462,4394 3444,7594 5080,3229 4593,5038 4238,5813 3272,7027 3657,7339 3542,4296 4148,7140 5208,3690 4142,7054 5376,3221 4080,3333 5749,3759 4690,5793 5352,4304 3610,5054 3406,5303 2694,6163 5112,5235 3521,4670 3245,6344 3604,5420 4804,3496 4672,5462 5176,4579 3735,5960 3590,6838 3489,6272 4629,4742 4904,3183 3684,7055 4962,2464 3843,5995 4232,6549 3237,7946 4116,5608 3225,7915 4150,7198 3596,7784 3825,4851 4022,5696 3917,6973 4343,4760 3981,5471 4633,5511 3743,4887 4019,7013 4647,4120 4559,4308 4348,4890 5270,2827 3456,7742 4782,4398 4516,4472 4497,6142 3668,6832 4665,4755 3277,5766 4919,5552 4652,4596 4075,3880 4253,5892 3414,5511 5420,3893 4471,4752 4320,5086 5226,2829 3661,4982 3660,4583 3906,6764 4518,3298 3451,6715 3920,6168 3048,5451 3670,4859 4668,5550 3899,6592 4554,6341 3677,6973 5549,3386 4245,3941 4211,6986 4876,4347 3756,4290 5308,1981 3887,5752 3712,6756 4552,2796 3827,6628 4682,3692 4870,6076 4689,4672 4425,6707 4010,6520 3327,6715 4479,6715 4149,6793 2845,7540 4684,4806 2356,6023 3450,4731 3482,7534 5072,4313 4133,3691 5137,5467 3952,4596 5319,5041 4814,4425 5422,4423 5417,1587 3658,5227 3385,7658 4558,4331 4918,5419 4638,5090 4214,6527 4218,7028 4734,5363 3789,5927 3559,6399 3115,7577 6345,4895 3416,6115 4120,6244 3726,7331 3255,4480 3752,6273 3822,7428 3916,4633 3857,4051 2707,8434 4657,3518 3379,5225 3934,7506 4799,2890 3706,6036 3431,7736 4871,4550 5071,5946 3852,6294 5467,5589 3972,4967 4521,4987 4598,3203 3476,5133 4356,4744 3302,4422 4487,4641 4429,4322 4270,4091 3528,5315 3441,6987 3832,5870 3790,5273 4309,4612 3866,5115 3611,5623 3544,5740 4148,3554 5531,3151 4577,4519 3958,4268 5512,4416 5961,1589 4944,5424 3571,4801 4084,4059 3760,5027 3502,7410 3619,4713 4400,3545 3991,2191 4245,5676 4711,5146 3654,6349 2979,8105 3681,5835 3659,5252 3469,7882 4742,5183 4775,4687 3765,6675 3692,7346 4578,5810 4282,4302 4033,4046 3427,6513 4577,5310 4148,4377 5372,4099 4438,6401 3551,7805 3779,7512 3600,6851 4051,5005 3923,5926 3935,5979 3209,5627 3303,7173 4572,5115 3730,5816 3238,7011 4348,5739 3824,6288 5200,4618 3858,6657 4021,5610 4515,5433 4081,5561 3142,6210 4027,3256 3724,5314 4454,5144 5019,5237 3277,6844 4593,3911 4259,6521 5053,3553 4302,5987 3897,5479 4053,3273 4614,4683 4035,3989 3184,4716 3699,4717 4371,4695 4729,4050 4774,4470 2566,6850 4327,3477 3754,4653 2618,6137 2637,7747 3010,5005 3606,6017 4727,4150 3915,5287 4281,6230 6004,3506 3659,4110 4197,5150 4410,5729 4829,4575 4559,5207 3641,4653 5606,3718 3760,5163 3721,5421 4534,6406 3513,5355 4842,2710 4171,2905 4643,4704 4668,6765 3519,7826 3131,7944 5094,1299 3793,4746 3166,5870 4172,5634 4060,7223 4014,4456 4973,4377 3791,5086 4508,5932 4249,4201 3569,7759 3358,6012 5065,5283 3081,7011 4156,6419 3825,6996 4607,6064 4268,3341 2820,6823 4857,3693 4860,3303 3926,6207 4243,4652 3169,7373 5355,3920 3683,5673 4622,2869 4643,5396 3193,7720 4209,5027 3078,4205 4403,5664 3550,2741 4299,3861 4382,5511 4582,5285 4802,3766 3209,5530 3284,6906 3287,5927 5179,3019 4248,5683 3774,6503 5447,5488 3768,7364 4566,4431 4672,5871 3770,4632 4010,6077 3581,5711 3795,6571 3613,7415 4028,6723 3694,4789 3879,6785 4207,5496 3478,7149 4186,7193 3542,7028 3130,5833 3554,7561 4067,6289 3963,6510 3166,5192 4062,4502 2513,8435 4126,6514 3825,4173 3338,5460 3105,3981 3653,3355 4069,6834 5349,4947 4423,4134 4126,6318 2782,5432 3547,4613 3161,6537 4798,3108 2824,7883 3960,6946 3359,6038 3397,5618 3631,4945 3725,7124 3187,8098 3846,4342 4874,2868 3998,4568 5113,4191 3337,7846 3654,4432 4670,5513 4618,4175 3513,5096 3557,5061 4093,6695 3815,4715 4649,5545 3444,6951 4065,7245 4234,6181 3863,4590 2650,7177 4037,5449 4445,6502 4000,3708 3683,7563 4460,6273 3568,5963 3515,4905 4165,3553 4495,6188 4325,6099 3176,6472 4579,3671 4243,6659 4806,6111 4298,5045 4158,7006 4053,7235 4002,4952 4046,3670 3848,4463 3839,5500 3332,5377 4125,6585 4705,4873 2976,7721 4682,5101 4584,3730 4097,5250 4019,5062 3550,5828 3565,6032 4633,5582 4100,5493 4190,2459 4040,4958 4455,6416 4043,7372 4034,6871 3208,8014 4046,3559 3138,5901 3826,6965 3799,4896 4792,4391 4160,4868 4785,5434 4308,3205 3639,4996 4650,4960 3948,3831 3805,6076 3724,3180 3801,5998 2967,6947 4143,5862 4688,4930 3719,7380 3367,4839 4976,4824 4870,5213 3597,7405 4673,3621 4616,4894 4079,4360 4298,4051 3259,5468 5167,4292 3687,7396 3500,3550 3779,7059 3613,7693 4316,5833 4480,4571 4421,2401 5864,3494 3388,7459 3608,7090 4851,6558 3460,7653 4164,6252 3519,6021 4600,3084 3758,6924 3876,5034 3975,6060 3099,5109 4488,5467 2540,5755 3268,4605 4564,6032 3420,6058 4068,4680 3327,5522 4024,7491 3841,5392 3755,4729 4354,6095 3081,6916 4388,4227 4403,4301 4237,3517 3527,6119 4484,6711 4682,4646 3997,4938 5307,3887 4100,4623 4086,5320 5428,4194 3660,5313 3446,5054 3568,4363 4307,5458 3253,4526 4667,3321 3619,7794 5172,5094 4016,5213 4117,3263 3227,5642 3350,6353 3523,6246 3327,4079 4805,4725 3626,6824 3151,5088 4727,6431 4216,5707 3840,5479 4969,4279 4243,4814 4515,5713 5150,4265 4493,3336 2955,6085 4547,5158 5786,5599 4680,6415 4220,4312 4143,3789 4519,5968 3154,6450 3050,7141 4503,3345 5275,2209 4443,6097 4639,5426 3323,5112 4560,4193 4563,3840 3716,4170 3749,6496 3897,5017 4776,3652 5052,4780 3682,3755 3588,7087 4332,4690 4305,3604 4250,6223 3741,7375 4236,5418 3641,5412 3755,6220 3729,7539 4392,3915 4138,5204 4380,4063 3941,4334 4550,4539 5272,4241 4170,5142 3247,3559 3663,4555 3262,5288 4453,4623 3363,5645 4287,5753 3752,3957 4271,6351 4270,6850 4548,5175 2803,5306 4386,5842 4693,4563 4804,4646 4227,4813 5011,4530 4469,3651 3666,4897 4837,3817 4735,6184 3286,5003 3475,6176 3896,6652 4062,5546 4472,3114 4617,5578 4630,4001 4120,5615 3888,6682 6159,3622 3436,6636 3777,3606 4143,6181 3594,6079 3842,5641 4607,4280 4683,6363 4517,5794 3066,6960 4877,3090 3905,4696 3882,4569 5467,4017 4107,4436 4183,5014 3262,7741 3408,6498 3939,4379 4010,3990 4329,6929 3624,6845 4772,3323 4668,4848 3950,5098 4204,3979 3683,3815 3245,5200 5091,3325 3798,5966 3787,3342 3488,5507 4278,3749 3665,5783 3582,6643 2833,8126 4162,4537 4693,5450 3112,5471 3181,7566 4786,4149 4559,6057 4349,6019 3820,5662 4592,6667 4073,2910 2309,8562 4371,3181 5994,4452 5049,4626 4274,5632 5304,2804 3896,5291 3308,5255 4089,6799 3727,6608 4492,4937 3401,6016 4694,4456 3782,4656 4136,6386 3622,6190 3360,7322 4606,6115 4386,5822 3334,7663 3207,4816 4299,5184 3259,5322 3733,6977 4872,3631 3579,5232 4832,3907 3599,7672 4372,6332 4500,4114 4169,4996 4178,6300 3202,7319 3342,6549 4813,4824 4518,4720 4728,5406 4446,4424 4274,4016 4730,5255 3016,6736 3890,4172 3657,5698 3007,5739 3350,6330 3526,5838 4022,4574 3111,6839 4330,5387 3571,4984 3428,5452 3135,7074 4422,6584 3650,5385 5342,3299 4520,5460 4633,4972 4476,2891 5273,3375 3687,5617 5472,3863 3685,6886 4244,5960 4481,4740 3971,6824 3958,5975 4356,5930 3766,3503 4656,4524 4655,4741 4624,4169 4553,2675 3814,6521 4658,4200 3986,6338 4397,4276 4536,6128 4157,4292 3563,5582 4143,4059 4483,4680 5638,5408 3486,6266 5129,5215 3592,6867 2234,8076 3262,7620 3938,4078 4864,6309 4297,5011 4989,4491 4159,5042 4736,4211 3804,4037 4395,5247 3128,5006 3349,7089 4518,5854 4085,5509 4136,5947 3908,5176 4720,5276 4351,6194 2887,7838 3339,7668 4294,4555 3791,3088 3899,5964 3560,3875 3570,6002 4461,5843 4205,6465 3996,6765 3160,7704 3928,7116 4234,6924 3615,3466 4029,6131 3398,6174 4494,4485 4213,5727 4740,4213 3530,7045 3516,7656 3705,7703 4304,3426 4083,6844 3333,6282 4659,4381 4597,5187 3709,7742 4384,5974 4303,5455 4291,4539 3935,7103 4610,6073 4431,4720 4133,6605 4216,4790 3203,7517 4414,3363 3638,5904 3616,4949 3039,4400 4171,5866 5410,4595 3126,3886 4178,5061 3711,5174 3614,7766 4231,6194 4127,4762 3830,4467 2747,8427 4406,6316 4844,5779 4382,4311 4287,7282 3165,5714 3445,6130 4138,5244 3570,7231 3553,2971 3281,7586 4887,3938 3980,4446 3852,6727 4139,4072 3671,6804 3632,6462 3714,3164 5616,3039 3710,6556 3831,6477 4347,6399 3830,6880 4697,5148 4227,6032 3998,2159 3445,7768 3820,5610 4656,3778 3968,4736 4178,6601 3976,7473 4057,3989 4447,6014 4267,5920 4074,4360 3922,5077 4426,4950 4626,5383 3857,6911 4742,5326 5601,3756 3772,7199 4210,6649 4036,5819 3926,6737 4138,3731 3719,6404 3716,5867 4072,7336 4220,4787 4648,4339 3219,5363 4531,3905 3086,8188 5079,3512 4566,5247 3113,7861 3186,5869 3029,8092 3236,5442 3445,5747 4022,4340 5227,3315 4421,3528 3019,5460 5819,716 3428,6848 5138,4229 4962,3296 2519,8501 3610,5299 2724,7040 3918,6506 4770,4283 2844,8246 3731,3113 3574,4178 3722,7729 4929,4997 3620,7069 4113,6046 5304,4711 4600,5529 3431,5590 4104,4479 3789,4187 4251,4013 4166,6676 4284,2623 4345,4785 4523,5749 3182,5174 4285,5507 4653,4518 4268,5954 4234,5994 4541,5682 4172,3994 4663,5563 4598,4964 4703,5524 3839,6896 3806,4729 4624,3533 4781,5126 4203,6584 4693,5177 4754,3844 4217,5424 4582,6246 3463,6946 4181,6956 4048,7409 4399,3606 3720,5615 3765,5670 3972,3846 3864,3975 3786,5105 3724,7161 3634,6763 4246,3944 4658,6611 3156,6335 4005,5792 3964,4059 4293,4968 4833,4000 4302,6244 4418,6341 5173,4889 3823,6429 3776,4991 3684,6647 2590,7117 3872,7072 3848,5224 5525,3966 3165,6521 3378,6900 2939,6554 1989,1918 4574,2556 3471,7012 3155,5795 5331,5289 3761,6791 4119,6018 4350,5102 4875,6940 3935,5182 3521,7181 5351,5179 4195,6502 4136,3233 3292,5141 4658,5993 4090,4687 4404,6387 3212,7645 4107,6921 4060,4364 3006,7235 4253,4783 3614,6300 3511,3123 4097,4987 3549,5667 3217,6246 3376,4322 3921,6399 4342,6234 5040,3524 4263,6540 3959,4163 3633,7207 3969,5981 3527,7649 2710,5145 4597,6091 3495,6643 3919,7155 3865,6001 4319,6988 3600,5739 4848,3662 3048,7986 3721,6115 4157,5380 2613,8213 4510,5601 5364,4437 2536,6929 4137,4139 4129,4580 3817,4547 3512,4512 4912,3958 4201,6608 3842,7003 4796,6016 4271,4998 5432,3146 4235,3249 3882,6084 3807,4440 4923,5553 3611,5984 5327,5054 4701,4352 3288,5477 3778,4767 4502,4272 3974,4775 4139,5044 4024,6382 6557,4150 3723,5947 3767,5413 4290,3499 4138,3420 4605,5772 3885,7058 3468,6979 3200,6124 5156,4421 3373,4891 4382,5616 4089,6324 3720,6302 3831,6329 4145,5270 4315,4994 3320,4734 4655,3151 3604,5316 4234,5580 4424,4499 5032,3614 4439,5522 3204,6215 3638,7634 3466,6102 3538,7564 4014,5013 4510,5090 2922,5273 3578,6319 4171,4384 3882,6802 3570,6450 4047,4780 2818,7777 4679,3909 4380,4849 3960,3665 3827,3530 4114,6950 4742,5257 4102,3971 3361,6232 4128,5270 5080,3960 3562,4998 3142,5696 4709,3187 4621,3450 2376,8152 3484,3919 4428,5899 3740,5388 3686,5642 4014,6259 3978,5567 4929,2268 4115,4464 4859,5221 4046,5048 3736,5058 4410,6297 4094,4929 3359,4160 3497,4687 3218,5102 4632,4011 4126,7211 3915,5983 4661,5917 3730,7135 5566,2772 3182,4993 4186,6309 4016,6667 3883,4719 4232,6805 4956,3766 3686,6175 2964,6018 4018,7330 4725,6354 3970,4676 4527,4465 5143,5241 3312,5709 5003,4755 5230,4446 4128,4557 3584,5034 3897,4197 4635,5874 3637,4001 3388,7831 4310,5546 4037,5658 3764,5201 4262,6149 4357,5584 3909,3965 3441,4533 3430,6795 4055,4093 4768,5609 3406,3191 5183,4308 4647,5227 4022,7197 4788,3614 4008,4984 4430,4207 3480,4885 4103,6039 4104,4955 3625,6494 4278,4641 3804,5315 3692,7753 3905,3584 3711,5562 4190,5181 4228,4691 4461,6646 3853,5042 4770,2355 3699,7722 5044,4653 3452,6968 4677,3805 3431,4285 3672,6836 3575,6676 4426,5364 4614,5481 3297,6035 4844,2405 4043,4355 3250,5593 3801,7027 4170,4199 3746,5856 3753,5149 3823,5637 3354,4894 4527,5310 3719,6297 4935,4637 4136,6513 4008,5043 5048,4512 3363,6303 4412,4520 4080,6474 4250,7129 3690,3927 3439,5776 3854,6755 3908,5280 3089,5062 4607,1524 4034,6696 3373,3729 3505,6498 3690,4487 4530,4913 3025,6769 4342,4611 4084,4248 5327,3034 4989,3696 3206,7637 3487,5467 3844,4414 3977,6926 2773,4833 4233,4656 4132,5306 4238,4713 3425,6386 4141,4607 4510,6837 3877,7244 4618,5229 4259,3463 3953,4437 3465,5596 4986,6387 4544,5312 4066,7431 4617,5278 3326,7536 4282,6291 4071,5854 4538,6641 5360,3751 3200,6486 4856,5588 4266,6403 3934,4606 3584,5973 4053,7437 3993,3702 4517,3230 3843,6074 4530,6158 4146,6359 3537,6889 4472,3307 4067,5126 4219,4691 3683,7278 5025,6547 3503,6590 3674,4465 4175,5234 4015,6253 4263,5415 4871,4172 3832,6241 4069,5919 3896,7179 4126,5146 3497,5455 4123,6129 3402,4737 4544,6458 2968,6761 3040,5206 3869,3643 4645,2536 3430,5549 3433,4493 3943,7294 4080,7050 3721,4782 3394,3069 3422,3029 4941,4500 4456,3059 3901,6260 3777,5851 4234,6711 4356,3529 4309,6798 3197,5824 3311,7584 3291,7913 4472,4106 2839,7394 3955,4029 4811,3137 3747,7293 4428,5812 4715,4934 4133,5037 4529,6361 4057,5367 3328,4130 3628,4757 3882,6598 3516,7590 4494,6596 4246,7099 4067,3132 2917,5733 3602,3984 3985,6426 3007,6015 4323,4684 5301,3743 4482,3922 4573,4910 4045,6018 3724,6366 4599,2265 3852,6834 4259,4602 4549,5853 3498,7811 3349,7018 4261,6689 3018,7452 3140,4830 3390,6665 2558,6760 5786,3903 2687,6893 4580,5160 4612,5193 3469,7327 3492,5391 4412,6040 3728,7120 3989,6041 3557,5613 5227,5914 4157,4698 4128,5290 3074,7407 4678,4246 4191,5575 4088,5316 3873,2198 4176,3815 4094,4674 3198,7455 5181,4524 3462,7069 3952,5811 3611,6322 3944,6094 3932,5315 2543,7952 3376,6195 3588,7480 4802,5378 3946,4563 4411,4495 4713,5126 3815,6457 3866,4322 3988,6816 3431,5752 3719,6801 5077,4988 4263,4093 5993,4401 4748,3425 4612,4462 4193,5783 4636,4691 4486,3884 5162,3357 3767,6256 4120,6596 4317,5097 4740,4446 4384,6769 2803,5400 3978,5723 3523,5077 3019,6165 4712,3924 5002,5081 3364,5196 4302,3996 5143,3636 3762,5665 4119,6701 3814,6637 4243,6111 4087,5290 3791,7107 4651,4119 5553,3914 4307,6765 3625,4886 4620,5719 4530,3528 3830,4784 4600,5617 3549,5728 3333,5575 3580,5195 4582,3732 3856,4589 3758,3704 3707,3767 5274,4336 4189,5670 3494,5349 3491,7622 3770,3082 3171,3423 3600,5111 3748,4257 4674,5735 3931,6451 3359,7423 5554,3627 4150,5107 3040,6962 5318,4513 3175,7083 2671,8126 4023,5872 4067,4280 4036,4807 4941,5907 4235,3954 4363,2027 4045,6072 5189,4879 4169,5744 4061,4025 4292,5750 4949,4286 3256,6689 3757,7045 2998,5251 4221,3644 3980,4912 4320,5920 4030,6249 5464,3954 3848,4526 4475,3591 3306,6183 3633,5381 4794,4748 5154,2621 4386,4410 3739,4945 3805,5117 3283,8039 3813,5950 3738,4415 4761,5652 4280,4781 4718,5478 4322,6154 4439,6707 3903,4785 4311,6558 4736,4867 3840,6150 4064,7087 3525,6074 4380,5486 4003,5546 3734,5822 3259,6098 3833,7578 4388,4194 3359,5839 3155,5710 4349,5610 2529,7910 6089,4526 3378,6337 3771,4443 3486,7118 3956,5418 3742,6585 3928,6944 3780,5633 3707,7224 4185,6964 5033,4833 4273,5632 4924,6431 4873,5430 4608,3796 3593,7385 4721,5459 4519,4494 3536,6091 3920,4556 4280,4107 4458,4222 4889,4465 3731,4009 3107,7507 4522,3196 5380,3794 3296,7170 4318,5823 4267,4159 4326,5357 4583,3818 4660,6248 4770,4704 3551,5466 4262,5473 5560,4863 4436,6643 3859,6742 3757,5561 4063,2431 5781,3996 3849,6287 4113,7427 2987,6515 4266,4952 4022,3914 3737,6425 3472,6495 3602,6698 5587,5454 4266,5670 4788,5400 4221,6306 3499,6554 3538,7211 4229,4406 3881,7252 4554,4283 3427,3640 4330,6398 3579,5769 4722,6226 2770,5444 4383,6886 3347,7372 4088,5085 4172,4036 3620,4735 4414,7046 4895,3530 4580,3929 4527,6563 3321,6472 3983,4732 4467,4936 4541,5385 3868,4833 3904,5007 3633,5763 3704,7118 3351,6417 4579,4915 3691,6469 4051,7114 3971,3918 3009,7359 3514,7593 4224,6190 3966,4535 3224,6275 3683,5664 4064,6513 3466,7545 3545,5623 3338,7339 4733,4534 4638,5606 4765,4090 3183,6607 3753,5219 3742,6778 3489,5224 4397,6737 3694,4885 3701,7054 3596,5933 4778,4468 4198,5435 3406,5729 3838,7409 4064,4235 3971,3621 3894,7458 4256,5525 3559,6361 3245,7075 3456,6883 4576,3961 4285,6553 4438,4283 4243,4416 3036,7238 3880,3741 3480,7779 5509,3822 4099,6928 4622,4009 3940,6306 4372,5846 3203,7178 4152,5760 3733,5154 4033,4372 3568,5592 3898,4926 4196,6593 4694,6482 4339,4198 4801,5896 3934,5525 4056,7338 4153,6624 4367,6266 3866,4168 4467,3118 3881,5361 3545,5499 4751,4409 4515,5250 3740,5001 3254,6033 2724,7099 3173,5791 3524,5723 2772,8065 3534,4592 3722,4694 4210,6889 3288,7496 4978,2433 4571,3756 5261,5476 4613,4088 3496,7264 3620,6704 3325,5765 4221,5125 5327,4181 3817,5969 3883,5289 4960,4577 3701,6815 3442,4918 4250,5446 4960,3381 3768,4411 3834,3611 4280,6150 3332,7311 4561,5634 3589,5149 4059,4850 3774,5611 3967,6438 4173,5507 4018,4152 4189,6127 2768,8233 5078,3328 3899,2465 5211,4239 4783,5418 3758,7205 4442,3784 4417,5786 3640,3798 4719,6210 4220,3990 3600,6829 4770,4398 4154,4044 3535,6774 5539,3672 3352,6059 3714,5187 3916,7233 3885,6152 4332,4985 4415,4177 4423,7000 5554,4223 5146,4043 4097,6190 4209,4461 4183,5486 3437,4932 3498,4797 3656,6271 4182,4298 5273,5230 4065,5326 4374,4937 4216,5234 4292,6938 4140,6010 3770,6929 4965,4202 2995,7878 3385,3490 4411,4965 3743,4059 2948,8139 3152,7419 4129,4865 3865,4993 3955,4298 3947,3236 4914,3845 3477,6784 3079,3693 4385,5013 4767,3462 3467,4223 3771,5970 3819,5889 3164,5942 4415,5392 3902,4308 3948,7590 3782,3560 4035,7065 5159,2229 3771,4415 3710,4740 4468,4404 3481,7641 4182,4762 3393,5325 4426,5680 4017,4821 4347,4891 3334,5532 3960,5747 4251,5062 3688,7168 3322,4506 4689,4123 5243,3927 3360,4989 4266,4466 3850,6262 3545,3104 3830,6561 4272,6323 3861,7563 4403,5763 3734,7269 4763,4106 3876,6668 3525,4691 4357,6115 3216,3967 5008,3735 4543,4388 4084,6505 4479,4404 4213,3880 4700,6350 4131,5299 2890,7813 4240,5738 4032,6143 3969,5874 4044,3590 3846,4967 3271,5137 3684,5595 4592,5535 5002,5002 4321,4549 4655,4763 4187,6066 4401,3255 2889,5913 4286,6122 4356,2640 3117,6317 4190,4175 4331,6284 2757,7360 4526,6745 4791,3861 4377,5580 2526,8577 4204,3336 3962,6762 4048,6197 3655,6516 3649,5943 4418,5568 2931,7633 4114,6580 4717,4686 3855,5185 4194,6002 3963,3704 4596,4524 3253,6409 3335,6308 4307,4710 5497,3485 4314,4976 5658,4280 4478,3725 5339,3470 4058,6218 2738,8020 4680,5525 4844,4427 4109,3792 4168,4358 3422,4501 3359,6894 3966,3948 3846,6703 4429,4288 4413,4832 4488,4287 4024,6752 3496,7209 4389,5200 4460,5775 4258,4261 4888,5074 3986,6792 3971,4089 3695,5611 4602,5384 3847,5338 3471,4702 3375,6514 4237,5184 4526,4731 3735,4430 3272,7941 3976,4289 3433,6972 3685,5777 4818,4470 3531,5037 4588,3189 3777,6079 4360,6620 4413,3646 3617,7733 3157,4143 5192,4224 4840,4174 3261,5618 4157,6061 3568,7390 4330,3995 3393,6901 4395,4692 3083,5301 3315,6027 4295,5914 4301,4535 3717,4877 3475,6113 3911,6980 4125,5624 4330,5748 3238,7751 4177,4151 3064,7775 4703,5201 4487,5605 3951,3693 4103,3580 5216,4681 3238,6789 4058,5774 3101,7139 3565,7393 3879,6804 2167,6773 3365,4907 4061,5382 3639,4679 3784,6258 4727,3770 4648,6046 5038,4702 3875,4823 3093,5733 4556,7010 3606,7765 3630,6882 3782,7113 4145,5699 2638,6627 4093,6716 4192,6619 3148,6605 4202,4686 4402,6803 4251,5611 3555,6331 4542,5548 4540,4475 3885,5524 5487,4313 4349,4981 2732,5897 3444,4871 3388,5496 4535,6269 4100,7195 3862,3920 3328,7175 3621,5950 4383,4514 3689,5092 3950,4941 4652,5522 4129,5265 3939,3898 3269,7985 4575,3141 3458,6311 3651,7650 4711,4873 4618,5791 4237,6914 4022,5222 3515,5087 5120,3964 3810,7101 3840,4770 4326,4638 3754,4523 4276,6476 4743,3734 4659,4148 3318,5930 4142,4351 4094,4034 4556,6158 4225,4485 3797,4670 4121,5596 3385,5257 4541,4531 4756,4387 4241,4589 4407,5165 4033,6205 5071,3962 3856,6672 3726,7289 4615,5230 3572,5078 5698,2843 4714,5269 4455,6207 3406,7602 4192,4514 4586,6081 4282,4990 3693,4275 5290,3877 4669,5822 3705,6272 3831,5885 4080,4378 4721,5970 4365,4326 3770,6432 5783,3797 4073,4478 4582,6122 4562,5203 5454,4840 4140,6035 3333,2659 2655,8190 3836,6928 4165,5673 3979,6748 3683,6415 3464,4882 3936,7534 5242,3552 4714,5554 3445,4710 3745,4097 4901,4054 4094,3815 3299,4034 4469,5413 4209,3826 3946,6544 4082,5722 3438,4527 4441,6838 3216,7446 3687,6010 4640,4674 4295,6049 3607,7236 3378,6439 4649,3759 4957,4557 4283,5252 3877,4006 4229,6676 3945,4984 5102,3966 3803,4509 3507,5839 5285,5254 4936,4494 4603,6300 4812,4306 3762,4452 4820,2584 4761,5784 2594,8065 4455,3804 3895,6792 3103,6727 4831,2259 4870,3966 4356,4049 4520,6181 4591,6122 4625,4100 4080,1988 2818,5906 3399,4548 3547,7427 4058,5396 3502,3831 3736,4870 4420,5202 3958,4253 3986,7318 4259,4452 4573,7012 3424,4154 4488,4866 3917,6187 3729,6238 4046,6959 4166,4676 4616,6682 4021,4527 3399,6165 4479,5954 3886,4180 3641,6608 4261,6503 3825,6739 3913,5624 3592,5692 3321,7723 3617,5614 3460,5789 3607,7111 5126,5931 4196,4700 3801,4254 4481,4207 3700,7706 4178,5044 3477,6966 3902,4749 4117,4064 3824,5590 3398,6400 4043,5254 4136,6799 2663,5388 4276,6083 3321,5509 3029,6069 4008,4501 3842,4584 3814,5805 4436,3918 2420,6304 5041,3716 3341,6366 3701,3449 3271,5656 4467,3576 4082,3728 4211,7065 4114,5102 4790,4572 3485,5674 3439,7772 4151,7154 3591,7079 3947,6496 3398,4878 3958,5489 3686,6466 4719,4570 4370,4203 3149,5001 2928,7076 3533,6679 4179,7029 3806,7012 4263,7103 4410,4091 4062,5549 3946,6274 4773,6443 3227,7067 5992,4044 4511,4788 4375,6217 4078,4122 4470,3628 3566,5376 3229,7826 4374,5433 5939,3664 4685,6631 4286,6033 4461,4499 4507,6446 3710,5290 3620,4732 4764,3169 4351,5910 3892,5540 4111,7132 3625,7681 4536,5671 3639,5227 3864,4697 4398,4013 3309,5125 4300,6978 4716,4807 4528,4848 3898,4056 4504,5772 3221,6738 4818,5827 3374,7066 2545,7794 3816,7540 3218,7989 4358,3072 3779,2918 3979,6764 2956,6159 3686,5727 4067,5415 4447,4144 3191,6291 3282,6103 4595,5935 3186,5265 3916,4804 4660,3910 3173,6297 3747,4477 3862,7158 4998,5081 3786,5924 4190,6444 3627,7608 5206,2017 4009,5381 3469,6523 5541,3272 4197,4468 4157,3547 3663,6282 3782,3971 4559,2519 3891,3468 4267,6572 5151,5702 3666,6004 3189,7913 3620,6631 3000,8073 3723,4788 2903,5260 4507,5341 4377,4395 3056,6842 3224,7671 4368,5483 4455,4925 4352,4020 3697,5456 1738,7698 3887,6535 4800,4117 3709,4287 3354,5870 3696,7525 3384,5723 4242,5920 2927,7051 3201,6632 3934,3596 3702,7303 3669,7597 4785,4585 4855,5067 4580,3651 4182,3462 4699,5137 3671,5579 4120,3318 4455,6250 3603,5468 4119,5408 3938,5820 3749,5513 4574,4751 5230,3857 3891,6407 4502,4341 4316,4643 3838,7295 4160,5587 3609,6478 3657,2826 3588,7515 3766,4436 3700,5625 3946,6208 4297,6810 3789,4877 4490,5544 5279,2017 3890,4088 3378,5081 4779,5973 3675,4058 4546,5698 4384,5122 5237,4352 4293,6433 4659,5121 4284,4489 5075,5159 3770,7543 3659,6199 3785,6416 4330,3436 4565,6873 3641,3846 4225,5622 3475,4862 3300,7889 4550,6369 4083,5175 4984,5518 3746,3217 4285,6604 5229,4664 3985,3651 2989,4071 4201,5938 4514,5492 2809,7172 3027,7295 3217,5442 4043,4735 4464,6573 4802,3811 5184,4646 3385,6527 4640,3221 3532,4722 4040,4721 4540,4610 4495,5225 4281,3408 4149,2475 4846,3405 5063,5676 3694,7505 3837,5819 4401,4768 4123,5355 5484,5043 3066,7065 4359,4723 3534,7305 2996,7725 4237,3870 3916,4579 4023,5362 2767,5164 4354,3563 2212,7231 4030,6241 2954,8270 4238,6348 3544,7009 3647,6693 5048,3986 5366,5515 3165,6335 3327,7870 3445,6507 4721,4358 3481,7888 4118,4818 3593,6211 3953,3767 3679,6333 3899,7104 4160,3156 3336,6834 4177,6914 4097,5886 5099,4792 3649,4950 4382,6191 4626,3064 3805,7619 4308,7044 3621,6990 4708,6095 4472,5577 3572,7261 4504,5282 5155,5677 3695,7271 4418,5328 4689,3676 4018,5293 4210,6264 3914,3590 4507,4021 3343,6221 4015,5666 4495,4025 3778,6886 3203,7829 4106,6685 4040,7141 3061,6566 2624,8222 4402,3895 3283,5575 3667,6828 3727,6919 4009,4734 3915,6681 4041,3901 4016,4768 4101,4070 3227,4955 4352,5764 4534,6291 3846,4884 4194,5392 4686,4835 4842,4604 4537,4886 4195,5113 4715,3918 4220,6850 4856,2778 5050,5108 3343,6538 4724,4923 4350,4999 4564,5979 4127,5126 3837,6358 3994,5213 4612,4220 4886,5497 4287,4381 5788,4630 4419,3499 4540,6676 3931,7312 4176,5337 5663,2923 3363,7552 3899,6879 4130,3518 4126,5625 3818,4481 4739,3382 4581,6494 4316,5608 5044,3808 4420,6390 4369,6051 3296,4243 3759,6211 1545,6428 4246,5856 4680,4348 6682,2112 4611,5913 3458,6347 4525,4256 3735,5266 3691,5472 4892,5271 4753,5024 4134,5196 3586,6799 4317,7116 3713,5830 4084,4182 4075,3804 3865,4136 5323,4370 5337,3893 4331,6697 3820,6908 4378,3244 4510,4804 3216,7855 4568,4588 5757,3696 3774,4745 3678,4571 4687,6236 3639,6336 4925,4418 3413,4018 3940,4349 3868,6155 3948,5889 4334,6005 5540,3511 4172,6851 4727,5692 3721,4273 3555,5624 4029,4286 4337,5183 4198,6230 4480,3833 4523,4648 5977,4481 3768,7011 4990,4217 3824,5127 3805,4294 3266,6816 4350,5832 4117,6140 3217,7074 3205,6629 4129,3988 3280,7697 3432,7137 4205,4190 3387,4920 3870,7413 5387,6510 3501,4492 4134,4291 3164,7236 4570,5195 4028,4479 2961,7278 4724,4253 4231,4009 3410,5138 3100,5832 4616,3844 3572,5876 5221,4083 4505,4200 4559,4108 3438,6317 4333,4634 3562,5068 4477,3750 4826,4389 5437,4862 5887,2325 4519,5567 3498,7018 3734,6534 3645,6697 4330,4236 4128,4741 3116,7773 4311,5499 3879,6170 4860,5917 4572,3799 4441,4599 4219,4425 3903,4559 4168,5760 4045,4365 5265,4200 4087,3437 4825,6320 4901,4422 3620,3728 5060,4247 4172,6404 4466,5108 4676,4657 4584,5034 5226,5198 2739,5897 4125,6541 3343,7895 3355,5608 3932,5010 3756,4634 4512,6111 3529,4795 3814,3979 4118,4498 4601,6053 5260,4153 4723,5043 4755,3484 3517,6353 3687,7747 4933,5308 4054,5319 4988,3688 3982,6291 3621,5463 3257,5622 3925,6663 3648,4963 4194,6306 3532,6194 4888,5266 4310,5342 4335,5918 3221,4703 4610,4481 3403,4220 4181,6429 3209,7865 2795,7668 5137,5686 2915,8231 4422,4333 4859,5381 3710,4864 4212,6315 4023,5057 3349,7541 1553,6514 4079,4604 5056,5176 4654,6803 2983,6421 4325,5841 3536,6067 4512,4901 4160,4964 3345,6464 3694,6746 4957,4752 3584,5220 4447,6832 3751,6875 4188,3210 3774,4196 2862,7821 4760,4870 2725,8419 2752,6222 3034,4670 3611,6346 3489,7077 4190,4501 4023,6359 4890,4781 4201,3620 4020,6272 3879,3853 4702,5156 4639,5991 3273,6777 4490,3697 4737,5135 3439,7338 4333,5933 4465,3916 4634,3312 3898,6350 3346,6359 5169,3876 4215,5292 3541,7200 3479,7186 5088,5437 3672,4142 3337,4335 3428,4980 5248,4815 4365,6283 4347,6044 4594,5683 4470,6094 4778,5217 3697,7648 3483,5366 3636,6675 4232,7058 4395,1987 4137,2648 5185,4612 2901,5859 3287,5810 3655,5646 4920,3510 3385,6388 4621,6148 5197,2121 3146,7835 4682,5071 3605,7526 4424,6961 4011,5102 4049,6331 4120,5278 4699,5188 3789,5303 3892,4386 4180,4884 4999,5152 3710,4217 5623,2288 4024,7125 2972,5764 3597,4340 4247,5181 4449,6539 3911,4904 5187,4053 5606,4153 3629,4586 3944,5680 4139,5938 3870,5145 3615,4327 4494,3437 3914,4612 4639,4716 5381,5160 4904,3177 3025,7694 4108,6717 3953,6998 3687,5018 3941,3812 4651,3974 3928,3994 3593,6299 4485,4297 3810,5681 3440,6299 4161,6238 5426,5492 4303,4369 4334,5545 3944,5104 2978,6103 3983,3329 3796,5462 3467,6501 4164,6606 4110,3764 2950,6119 3728,3879 4480,3941 4349,5468 4449,6802 4123,3764 5568,5068 4163,4158 4693,5932 3346,7106 3155,6640 3236,8002 3906,6281 4505,6671 4648,5867 4330,4911 3942,6026 4438,4986 3678,6460 3351,5195 4873,3734 4820,5221 4671,4499 4038,6562 3079,4743 3914,7222 4152,3914 4845,5023 4385,3359 4205,6779 4958,4896 4578,5902 3514,7174 2973,8193 3170,5453 3763,7699 4452,6383 2774,8407 2791,7956 4949,5917 3468,7192 4184,5406 4833,3271 3960,5069 3830,4556 4662,5144 4739,2907 2911,4176 3853,7501 4263,6187 3794,6127 4458,6235 3742,6715 4396,4006 3806,3699 3935,6437 3870,4673 3950,7313 4057,4688 3678,6784 5251,2714 4778,5370 2236,8795 4356,5118 4417,5580 3073,5971 4903,6094 4022,5761 4001,5225 4106,4707 4886,5129 3269,7690 4259,3630 4160,3673 4427,4863 3425,5146 4102,6581 4247,1826 4480,6064 3657,3715 3589,4028 4553,5726 2306,8607 3417,5924 4242,5561 5562,3810 4349,7175 4665,5210 4179,3959 4574,4909 4458,5525 3408,5928 4082,6470 4205,6972 3796,5526 4399,4913 4400,6666 2956,4408 4020,6801 3473,6838 3985,4818 3921,3705 3852,5361 3726,4768 3865,5655 4763,4067 5233,4166 3825,3674 4013,5694 4098,3894 4265,6080 3791,5691 3544,5154 3387,5072 4008,6249 5601,4522 4369,4058 5261,4835 4544,4818 4482,6804 3794,4178 4528,6794 4718,4189 4210,4257 3521,4066 3234,4857 4969,3085 4072,7040 4889,5471 4917,3668 4176,6692 5540,5087 4797,3029 4165,6848 3923,5496 3543,5090 3201,5614 4263,6990 4123,5016 4532,2738 3079,6459 3846,6951 4026,4453 4959,4146 4067,5653 4241,6405 3442,7344 4340,5424 4263,6306 4313,4609 4063,5095 4266,5259 4118,5128 5473,3215 3637,6431 3896,7056 3608,5725 4216,6440 4275,2077 3242,5213 1527,7067 3860,7022 3359,4128 4965,6157 3588,6899 4341,6429 4312,5792 3850,7571 4464,4180 4761,3160 4528,4482 4959,2858 4256,6328 3982,4990 5625,4453 3059,6746 4747,4879 4577,5010 5027,5842 4578,5029 4287,5991 3558,6921 3784,4529 3836,3751 2947,5476 4978,5212 4392,5874 3974,6411 4493,4194 3742,6772 4473,4923 3617,5465 3312,5300 4293,7146 3753,4723 3136,7609 4039,4876 5255,6187 3715,6744 3882,5970 4058,3571 4116,6778 3524,4978 3981,3933 3993,4808 4471,4729 4269,3972 4193,6490 3507,4116 3928,7283 4161,4943 4024,5001 3287,4415 4596,4288 4116,7297 4185,4231 3635,5064 4092,3996 5273,2552 3608,6226 3240,5937 4234,6051 4584,6911 4561,5442 3932,7149 3935,4843 4717,5280 3963,3791 3184,7145 4092,3931 3355,5885 3072,7630 5777,4990 4235,5105 3647,7602 3128,3912 5270,3105 3779,6917 3141,6345 3975,4425 3424,4222 5212,2821 3791,5064 5284,2736 4681,3724 4356,6759 3758,4650 3705,4941 4165,3848 3418,5336 3756,6667 3135,3664 5035,5164 4083,5296 2856,5997 4570,6804 3822,3886 4274,6592 4213,4322 3667,4024 3938,5232 3955,6484 4722,4509 3795,4189 3611,4229 2874,5198 4300,5197 3945,4896 3597,4748 3733,5114 4330,4504 3093,7530 4185,6574 4109,4644 4910,4381 3725,6116 2966,6108 3407,7218 3926,6805 3361,5113 4608,3228 5500,4365 3625,7248 5102,4129 4636,2957 4418,4847 3837,5188 4861,3620 4275,4914 4212,5316 4200,6797 5072,3548 5152,4155 4646,5858 5322,5457 4197,5223 3388,5996 4357,5706 3536,5647 3573,5942 3751,7150 2185,8448 5921,3161 5066,3665 3895,5785 6075,3270 4494,2759 4792,5277 3953,4300 3869,5111 4727,4328 4024,5474 4157,4181 4313,2836 4423,5419 3959,5339 4142,5329 2862,6128 4146,6433 4064,3837 4342,4851 5192,4458 4656,2326 4024,4546 4145,5418 4742,3233 3970,5045 4323,3209 4011,5230 4559,4875 4611,6475 4429,2655 5757,3142 2821,5420 3926,7179 3959,6807 4302,3625 4404,3503 4334,5508 4074,5601 4009,5287 4559,4538 3612,6076 4674,4409 2761,7898 4179,5244 4977,4087 3540,5678 4893,3067 4699,5791 3972,5542 3728,7488 4518,6381 4028,4417 4323,6026 3556,6419 3879,3265 3240,4136 4278,5752 4586,4600 3967,4649 5192,6160 4588,2776 4939,4867 4116,7013 4560,4935 3700,4154 3808,7315 3352,7758 4635,4881 4344,4371 4529,5573 4643,4246 3889,3491 3900,4766 4137,7302 4260,3681 5104,4840 4131,4544 4035,6971 3950,7172 4460,6444 3820,4368 5035,4419 4456,4792 4379,5838 3969,3155 4028,5204 4033,4296 4666,4268 4603,6409 5284,1920 3873,4585 4358,7162 3970,3836 3880,4865 4725,5079 4577,5244 4731,2285 4005,7055 3919,4426 4258,3653 2996,4916 3309,3797 3385,7781 5123,2252 3911,7132 5258,4059 3766,7282 3896,6155 5927,4639 5320,4249 4412,4625 3635,6585 4427,4212 4940,4865 4014,6523 3901,6611 4279,2330 4536,5300 3594,2817 4306,6359 3442,5086 3567,6752 3329,5431 3786,5379 4873,5776 3212,7115 4008,3807 3863,5995 3215,6148 4223,4871 3966,7086 4013,6203 4094,6353 3996,5323 4196,6600 4921,4538 4536,3413 4216,7073 5777,5021 4350,5585 3888,4528 4464,6713 4822,4584 3138,8154 3974,4219 3132,5377 3798,4392 3708,6259 3413,6558 4182,5446 4307,3234 3812,7359 3668,5685 3640,5721 4086,3793 4119,6241 3973,2851 3864,6771 4315,3806 4859,6522 5728,3517 4325,5793 5024,4395 3712,7174 3738,6696 4447,6341 4293,5039 4318,3834 4015,7096 4052,5387 4257,4958 4386,5938 4944,5967 3759,7636 3435,5974 4898,3952 4832,4285 4267,5585 4089,6214 4071,3234 4724,4897 3630,6899 4440,4828 4367,3396 4030,4747 4199,5425 3853,4597 3388,7395 4152,6030 4628,4808 4254,5246 3496,4829 4895,3628 3480,5815 3732,3639 3969,2066 3957,7408 3803,4252 4580,3665 4829,4348 4029,5081 4563,3991 4056,4399 3369,4900 4511,6740 4576,6505 4180,4516 2662,7095 3416,6329 3451,4879 4468,3273 4694,5052 4712,5787 3223,6699 3756,4489 3804,6468 3992,4814 3264,6955 4231,5270 4089,5022 3840,5347 3202,8043 4146,4185 4795,4190 3546,3958 4251,4497 5040,3580 4062,6118 3789,6125 3323,3218 3341,3846 4473,4403 4370,6417 4401,4735 3940,4182 4296,4858 4197,5911 5702,2646 4039,4430 3593,5570 5782,4404 4198,5383 3286,3056 4571,4747 4526,4333 3778,7352 3370,5568 4539,4844 4195,5675 3917,3097 4433,4218 3882,5182 3172,5294 3845,5029 4288,4400 3559,5904 4785,6659 4245,4911 4185,3740 4725,5179 3544,5114 4285,5061 4173,3254 3115,6729 4276,4256 3813,4684 3590,5289 4872,3428 4342,4360 4709,4804 6057,4083 5854,5060 4871,3734 2966,3513 4708,2455 3681,5239 4450,4072 4285,4042 3554,5407 4593,5750 5011,3924 3270,4533 5019,5842 4476,5070 3721,6671 3726,4371 3753,6892 3836,6528 4032,5810 4558,5395 4870,4939 4392,4574 4374,3425 2977,7771 4907,4772 3232,7182 4816,6259 3947,6478 4125,4227 4534,6416 3974,6098 4746,4286 4473,4532 3905,4554 3280,6158 3844,7328 4637,6273 4068,6121 3603,4340 4244,3751 3561,3987 4256,2342 4483,3825 3835,7041 4245,3550 3737,5777 3204,5095 4734,4389 4206,7130 4844,4613 4807,5210 3729,4049 4625,5792 3408,4087 3497,7813 4535,6381 3002,6545 4697,6030 3326,3923 4254,4343 3827,4934 3936,7553 3015,3436 4173,6487 3539,6189 3351,7814 3896,6871 4814,4582 4396,6704 4763,5345 3888,4832 3343,6439 4364,4706 4638,4219 3041,4587 4215,6708 4401,6083 5237,4755 4793,6070 3580,6110 4123,3626 4552,3101 4552,4349 5036,4902 3653,4699 3127,7614 2634,6557 6092,2209 3609,6392 2840,7023 3561,6929 4714,5035 4288,6763 3510,5227 3016,7186 4873,4717 4027,5140 3957,4421 3840,5252 3769,6682 3283,4030 3016,6906 4737,3440 4697,6537 3391,5971 4675,4817 4923,4971 3994,5466 4483,6078 4409,5131 4471,5144 3814,3919 3476,7718 3478,3968 3903,4761 2870,6942 4349,5085 4332,3745 4278,5687 5025,5221 5007,4609 3006,7619 3966,7370 4014,5661 3720,5074 4862,2806 5202,3693 3856,6631 4089,5939 4551,4953 5139,2737 4945,6343 3281,6028 4703,3501 4031,6855 3620,6259 2744,7427 3174,6137 4662,2519 5131,3421 3990,7203 4591,4223 4378,4151 4714,5327 3423,7423 3907,6693 3042,6413 4487,5079 4445,6024 3504,7834 4382,6946 3357,6967 3051,5791 3997,6814 4754,5757 3852,3249 4022,4764 4262,4317 3482,5381 3212,6152 4436,6697 4710,4840 3844,7151 4852,6541 4304,6165 5092,3742 4666,5820 3757,7100 4096,4091 3102,6766 3809,5109 3488,6455 4968,4261 3381,5520 3608,5071 3652,6843 4603,5422 3555,7399 3438,3928 3794,7630 3761,5194 2788,6830 4396,3364 3516,7414 4204,6692 5137,4450 3602,5394 4168,7175 5328,2056 3397,7872 4086,4697 5328,3862 4108,4176 3637,6761 4449,6006 3510,6558 4651,2412 5347,4418 4815,4999 3242,4839 4077,6279 4327,4215 4943,3703 4265,4517 3419,4956 4102,6428 3993,5513 4685,4834 3319,5673 3499,5245 4434,4140 3329,3746 4852,3601 4302,4236 3805,6657 2831,7799 4780,4622 3842,7551 4933,4405 3767,7033 3296,6165 3122,6343 4086,3787 3491,5101 4682,4916 3137,4925 4422,4440 4839,4532 3680,5727 5567,5428 4096,4793 3539,2674 4323,5198 3249,4263 3902,6749 3773,5491 4138,3733 4215,6506 4468,3907 3981,5025 3763,4511 3631,6538 4502,5906 3775,6941 4111,6346 4972,4820 4580,3838 3472,7615 2933,7348 4803,4588 3945,6859 3795,5766 4463,5203 2787,7773 4178,5214 4173,4749 3385,5860 4486,5242 4051,5143 3417,6662 4088,6880 3972,3549 4291,4194 3774,4825 3145,7823 3935,7278 3879,7244 4055,5774 3887,6954 3468,4856 3223,7714 4000,4952 2459,8536 3900,5728 3155,6229 4692,4833 3407,7818 3369,6573 4369,3775 4902,4042 3526,7448 4344,4238 4587,5130 4797,6257 3154,5667 3407,5089 5630,3519 3585,4730 3944,5893 4077,6735 3647,4882 5809,3958 4891,5378 3739,4327 4394,6353 4716,5751 4517,5015 3381,7869 3558,7275 3997,5733 4377,6191 3269,7274 3684,6575 3895,6170 3198,5569 3225,3612 5603,3766 3542,4917 4543,3218 2862,5808 4393,6180 5244,4482 3925,4745 3966,4283 3123,5227 3460,4956 4289,6833 4126,7260 4343,5415 4389,6272 3387,5577 4141,4779 5071,3545 4529,2799 4083,5256 4328,4857 4515,5550 4422,3255 3762,3905 3524,3463 4034,6405 4060,4101 4150,4218 3864,7503 5655,3003 3669,7274 4361,4918 4613,3865 3002,5908 3618,6468 4182,3642 3398,5145 3195,7304 3554,7103 4178,5830 3995,4420 3715,6062 3120,7273 4969,4959 4589,4372 4631,3603 3990,4840 3245,5138 3173,6041 4533,6298 4422,4299 3350,5517 3063,6837 3869,6168 5204,5839 2805,8220 3638,7578 3233,7896 4208,5311 4373,4676 4352,4887 3597,5307 6010,3846 3872,5798 3684,3439 3994,6374 4698,4270 3553,6646 4557,6257 4496,6227 4582,6628 4635,6642 4265,5275 3377,4845 4733,4698 4206,5427 4168,7015 5325,5545 4200,4241 3884,6213 3724,2511 4131,3001 4139,5839 4021,5080 3268,6704 4652,6527 4596,5409 4503,4130 4319,6277 4401,3416 5437,3412 3230,5415 4177,5084 2748,6687 3133,7902 4202,4624 2875,6939 4034,6382 4543,4367 4532,5771 3960,4665 3857,7238 5707,4405 4145,4769 3763,5864 4111,6046 4123,3253 3621,7287 3464,5549 4195,4885 2938,4358 4584,4065 4359,5937 6049,3869 2388,7675 4640,5220 3461,5642 5388,1930 4344,6114 4087,5776 3805,4879 4063,5314 3771,4142 3693,2762 3977,3908 4197,5913 4699,4717 4005,3145 3223,6191 4482,6050 3559,7388 4121,5410 3802,4804 4378,4415 3747,7462 2767,8120 2980,7028 4188,7225 5115,5730 3745,4544 3921,7065 3431,5424 3901,4387 3876,6100 2208,5513 3793,5641 3950,5462 3432,6400 3663,4236 4052,7068 4192,5220 3879,5308 4287,3897 4301,7106 2853,6663 3620,4531 4301,4479 3809,7497 4107,5536 3225,7621 4477,3747 3375,6423 3834,3344 4050,5938 3784,5352 4176,6954 3951,4702 3420,4641 4762,4799 3240,6519 3910,7453 3807,5778 5011,3853 3471,7636 5583,2731 4214,7340 3885,4641 4238,7248 4825,4945 3389,5611 3653,3122 3574,6449 4222,3226 3851,6889 5043,1593 4330,7111 3556,5010 5766,3255 4387,6433 5101,6439 3430,5836 4889,4736 4157,6964 4413,2132 3748,5345 3530,7843 4031,5220 4055,4695 4212,7020 2110,5390 5314,5880 5137,1509 3223,7776 2677,7182 3185,4997 3431,7793 3317,6759 4260,5875 4858,4227 3817,4654 4911,3982 4243,4427 4289,6700 3389,6024 4423,7158 5563,4701 4598,4277 3641,5284 4724,5801 3656,7238 3533,6201 3701,6239 4205,3555 4779,5733 3933,6515 4950,4249 3732,6047 4037,6073 3362,4093 3546,4929 4332,6711 5154,5357 2559,6421 3818,6098 4509,6302 4376,4610 4655,3903 3375,6609 4195,3559 4899,3511 4706,5922 3890,6681 2982,5205 4045,3884 3916,6699 4286,6596 3135,6261 4448,4746 4084,5333 4033,6633 2212,6458 3850,5327 3613,5504 3362,6464 3999,5849 4611,3392 4583,4452 3707,5754 5289,3695 4051,6565 4640,5497 4129,5985 4604,6595 3390,1699 3576,7606 3767,6220 3027,5585 4137,5338 4350,4546 5149,3145 3137,7392 4562,2231 4112,4820 3670,6972 4968,5069 3744,6866 4499,6833 5103,1506 4313,6651 3388,7968 5317,4602 4929,4614 3710,5250 4635,6184 4661,5054 5060,5240 3953,5325 2859,8232 5055,3930 4778,3816 3263,5100 4303,6785 4443,6907 4370,6989 3578,5902 4314,6159 3974,5529 3300,5762 4836,3695 3640,3709 3974,5386 3054,7865 5003,4990 4316,3709 4723,6103 4299,4302 3174,5536 4429,4798 4129,4797 4283,6709 3696,6162 3587,7627 3935,5271 3454,7079 4048,6183 4364,3859 3477,6950 3895,4228 3548,5923 4308,4063 3261,6694 4141,4254 4119,7302 4752,6500 4580,3297 4127,5472 3113,6217 3386,7429 4178,6240 3969,4926 4654,4371 4080,7019 4689,4075 3044,5971 3376,6051 3148,6090 3513,7287 4449,6775 3884,5142 4820,4549 5244,5861 4781,5367 4663,5051 3633,7126 4191,5438 3401,4303 3140,7139 3488,5066 4861,3793 3737,7719 3578,5673 4847,6471 3987,2903 4548,5753 3301,6843 3620,5582 2852,7558 3618,3931 3112,5081 4118,5873 5095,5310 2920,6588 3790,6491 3870,7241 3383,6354 4470,4075 4016,7368 4438,4148 3756,6901 4047,6154 4607,5854 4130,3888 3045,6166 3745,5920 3807,6215 4357,5936 3526,6012 4467,6609 3894,4629 4762,3349 4864,5610 3870,5491 3238,4329 4009,4127 3497,5736 4792,4320 4585,5278 4510,4880 3907,5494 4366,5751 4265,6521 3170,7962 4911,3126 4283,5022 3918,5702 3644,6284 4921,4597 4271,5269 5605,3667 4128,6099 4714,4605 4878,5142 4797,4012 4214,3665 3851,6073 3901,6635 4277,2704 3644,6928 3702,6011 4596,4525 4183,5156 4757,4404 3847,5007 4633,6110 4454,4211 4531,5335 3808,6224 3501,5591 3597,5407 4465,6182 4432,4576 3457,3996 4141,4303 3127,6726 4195,3270 4619,4345 3544,6970 4124,7289 4097,6817 3802,4530 4276,5162 4248,7299 4305,5345 4164,3114 4804,3728 5774,5333 4445,3994 3211,5006 4754,3654 3801,5842 4140,3994 3654,6136 4344,3642 4299,5916 4309,4613 4296,5473 4075,5746 4535,4019 3657,6407 4566,6793 4353,6005 3864,3587 4327,2252 3829,5038 4706,4185 4060,6318 2778,8414 3635,4912 3821,6686 3735,5238 3399,5372 4624,4193 4098,5761 5252,4560 4392,3958 3401,4480 3529,7665 2945,3933 3419,4702 4758,5424 4242,4341 3837,5435 6081,3775 4343,5948 4427,2982 3869,6748 3699,4228 4724,4294 3883,6375 4400,5751 3421,6424 4418,2184 4539,6512 3753,4668 4217,7182 4527,4747 4811,6592 4252,4644 3802,4559 3559,5121 3840,4144 3980,3856 4299,5417 3401,7763 4717,3175 4541,4485 4475,5847 5111,4584 3041,5158 3192,7718 4145,3836 4400,5012 4782,5415 4346,2748 4126,4621 3702,5086 2728,5388 3200,7698 4270,4051 3862,4342 3235,5574 3815,7337 3608,7638 4595,4836 5053,4180 4872,4498 3980,5870 3537,5892 4282,4945 4559,5029 4117,7228 3251,6789 4530,5363 3452,5388 4228,4079 4765,6172 4102,6893 4243,5863 3886,5838 3589,6656 3523,4928 3623,6409 3538,6021 5128,4342 3969,6073 3669,5262 3551,7325 3938,3875 3833,6866 3804,2321 4031,4310 3494,6574 3748,6219 3768,4657 5039,5938 3765,4042 4133,5301 4234,4075 4079,5927 4494,5601 4563,4462 3637,5710 5047,4386 3744,3465 4554,5363 2886,7356 5178,5039 4327,5944 4619,6996 4241,5325 4313,3919 4617,5501 4085,5904 3552,6416 5483,5086 4567,5884 3907,4055 2979,5144 4157,4774 3830,6425 3997,5011 3842,4007 4516,2776 3109,3925 4562,3387 3941,7051 4527,6662 3726,4717 4214,4315 3236,4975 4424,4728 4220,4146 4313,3112 3192,8040 3655,5986 4740,5340 3394,5632 4607,6035 4733,4126 2725,7407 4931,5174 4570,3835 3657,6080 4469,6428 3624,5944 5258,5287 4377,5602 3996,4523 2922,8071 3272,4966 3346,5271 3641,5907 4431,5886 2677,8231 3740,5526 3848,5479 3634,4749 4006,3851 4736,4800 4067,5556 4195,3915 4760,3203 2997,7322 3919,3808 4522,3937 3597,4832 3474,6863 2539,8011 2902,6134 3419,6476 2884,4514 5191,5277 2376,6227 4405,4237 4122,6638 2800,7753 2849,5908 3342,5051 3945,4613 4294,4181 4344,5372 5155,5587 3959,5052 4888,6718 5036,5165 4681,3475 4275,5032 3956,6977 3033,7152 3595,6293 4153,5383 2915,5996 4284,4712 3757,5809 4752,4878 4210,6348 3013,5755 3773,3830 4286,6018 4222,6196 3356,3502 3434,6954 4291,5655 4098,5681 4755,3747 4449,4438 4041,4164 4065,4886 4249,2316 4289,4023 4137,3298 3639,6161 4108,4260 3753,5220 2733,8306 5690,3098 4224,3290 3180,4811 4788,5051 4528,5708 4005,5038 3103,7992 4920,3547 4047,4010 3727,6428 3489,6232 4513,4715 4219,5646 3010,7588 3915,6071 3969,4547 4217,5603 3696,4351 4451,5645 3444,5927 2740,8184 4602,4341 4373,5501 4808,3170 5452,4688 3648,7408 5078,4966 3785,7356 3285,4627 4135,6249 4271,4334 3669,6282 4651,5850 3525,6108 3100,6890 3936,7007 4628,5821 3984,5674 4982,4176 4740,5152 2868,6146 3685,4477 3034,6337 3637,6001 4371,4519 4191,2710 4105,6207 4564,4913 3792,5296 4155,5814 4837,5021 4422,4793 4288,5065 3646,6660 3947,4691 4684,4764 3722,6519 3770,5337 3297,5204 4454,6437 3892,6964 4117,2878 5442,3787 4485,5521 3668,5141 4525,4442 5052,4525 4210,5343 2993,6251 4418,6939 3776,5094 2970,5825 3889,5149 4193,6744 3548,6941 2709,6096 4345,4536 3444,6838 4129,3737 4624,6165 4414,6481 4551,6277 4565,5119 3432,5386 3700,5763 3828,6001 3662,7573 3902,4403 3281,5585 4303,4802 4683,5143 4541,2596 4395,5749 5197,4172 3520,4628 5135,5499 4334,5366 3823,5264 4279,5489 5050,4720 3450,4810 4179,3495 3850,7467 4115,7357 3547,5292 4246,4692 3136,5480 4196,3901 4431,4602 4153,5408 2589,5965 3016,6138 3486,7390 4477,4880 3167,5983 3273,5481 3951,3542 3017,7985 3892,5340 4186,3925 3990,6825 3885,5659 3630,6639 3113,4093 4517,4025 4428,3146 4376,4880 4416,6133 3356,7550 4090,5139 4306,6792 3197,6605 3448,5082 4329,4249 3687,6079 3113,7222 4620,5975 3838,6440 4602,3536 4491,6467 4074,4714 3507,6908 3238,3758 4275,5835 4027,5850 3635,6085 3870,5013 3999,4516 4092,4436 4442,4153 5112,5066 3834,5686 4022,3981 3623,5245 4233,6763 3981,4634 2989,6062 5114,5998 4009,2762 4515,4339 4756,5294 3554,6131 5621,2754 4380,6040 3201,5454 4374,5383 3713,6533 3643,4046 4464,4067 4670,4157 3271,4454 4283,4377 4939,3869 4250,5794 4780,4116 5104,3662 4196,5136 3437,3407 4145,5546 3271,5897 4753,3990 4404,5406 4959,6302 5773,4864 3921,3340 4319,6960 3884,5851 4379,5366 3757,6029 4199,6660 5105,5386 3115,4911 4925,5830 4076,4463 3493,4779 3552,6634 3574,4137 4142,5210 4378,3707 4017,6505 4762,5451 3887,5243 3490,7448 3616,5690 3881,4956 4024,5977 4527,5499 4507,6906 4569,5561 4723,2015 3988,6308 4630,5949 3158,5871 4808,4645 3797,3037 2653,7817 3723,5209 4349,4319 4292,5035 2855,6225 5333,5359 4430,4306 3316,5548 3773,6481 4143,5955 4031,5392 4050,5876 5111,4007 4042,5695 3910,5855 4572,4766 3494,6365 4613,4626 3280,7297 3718,5806 4085,6890 3733,5698 3699,5145 5730,4172 4086,6451 3731,5491 3961,5726 4515,3750 3660,7165 4164,6417 3764,5389 3970,5574 3921,6926 3777,6592 3135,6332 3340,5821 3741,4081 4021,5043 3812,6006 2930,6724 3776,4901 4945,3763 4035,7306 4803,5025 3748,7288 5565,4777 4158,4586 4189,5766 4222,5009 4425,4061 4575,2288 4817,4682 3884,5715 5448,3610 5270,3638 3851,5777 4584,3248 3867,7004 4849,4605 4291,5972 4326,6935 4227,2993 5992,4241 3709,3510 3893,4874 5460,2873 4150,4109 4443,4576 2322,6075 4007,5773 4238,6371 3735,7725 4334,5137 4730,5296 3558,5090 4364,6352 3782,6020 4006,7288 3792,4009 3911,7428 3952,6034 3561,5078 2988,7367 3515,5269 4112,6998 4318,5680 4515,5466 3350,7529 3877,5737 4688,6095 3239,6908 3067,8041 3969,6115 3727,6005 4723,4833 4282,6567 4672,4819 4406,6567 3760,7231 4340,5867 3370,4864 4859,3761 3226,8088 4451,4087 3837,4110 3781,3131 3628,4659 3650,6614 3749,4130 5213,1865 4527,5428 4113,5934 4000,5465 4573,5624 4934,3253 3508,7243 2911,7870 4965,3648 3992,5079 4344,3729 4622,5511 4173,6486 5361,4070 3195,6554 4428,6179 4360,5757 3744,3784 4413,4796 4752,4517 4857,3052 4228,5576 3874,6001 4414,6695 3901,3666 3980,4435 4704,4313 4024,6933 4144,6146 4066,5815 5189,3651 4326,6270 5023,4319 4461,5635 3650,4288 4590,4418 4454,5940 4617,4615 3841,5380 4953,4986 3612,5799 4537,4076 4351,5867 4214,6065 4298,6205 4419,5580 2568,8005 3307,4010 4438,5042 4543,2174 2981,6003 4495,4406 3954,7004 3813,6798 4288,3476 3847,5374 3371,4131 3876,7329 3436,5163 4275,4977 3333,4048 2413,8144 3748,7685 5280,5511 3590,3741 3983,6925 5093,4957 6059,2941 4332,6677 4646,6142 3605,6254 3802,5253 4682,4986 3075,7889 4399,3240 4778,3800 6166,5234 4715,6554 4044,3369 3764,4270 3894,4711 4842,4245 3995,5911 3430,4927 3930,3919 4178,5027 3996,5645 4221,5507 5340,4564 4357,3723 3976,5810 3123,7413 4806,3128 4324,4546 3995,5035 3886,2455 4118,2848 3497,6683 3684,5375 4866,4793 4360,4871 3407,3851 4511,4846 3851,6225 4296,5449 5190,3188 4449,3223 3758,5924 3861,4911 2050,6566 3012,6235 4796,5181 3548,4767 4369,4994 4241,3454 4563,5847 3381,7687 3591,3777 4047,5733 3774,3684 3022,7622 3722,7663 5223,4939 5618,4197 4340,3802 4020,7062 4085,4370 3305,5360 3254,4570 2965,6995 4801,4436 3693,7702 4100,6889 4143,4934 3762,6711 2544,8571 5360,2645 5651,5491 4820,3787 4583,5385 3786,6874 3238,5966 4773,5192 3757,7501 4712,4297 3368,6123 3207,4908 4367,5027 4117,5082 2818,6627 4525,4211 4574,4812 4584,5290 4794,6216 4788,4846 4579,5248 3540,5343 4323,3754 3690,4968 4699,4291 4219,6771 4386,5470 5545,3776 4032,6235 4684,5153 4362,7165 3799,5537 3708,6811 3640,6479 4345,4792 4719,4847 4584,4421 4044,3915 4820,4691 3609,6900 4299,6453 3991,6272 3440,3645 4188,4540 3731,5036 3936,6571 3828,4567 5161,5739 5104,5217 4069,6244 3840,6970 5092,4690 4975,4771 4685,4156 4274,6087 3524,5609 4768,4655 3838,4676 4380,5946 3492,6174 2872,6579 4798,3925 4285,3923 4360,6206 5082,4892 2667,5508 3220,7787 3737,7372 4124,3497 4363,5065 3576,5057 3783,5009 3832,3364 4528,4537 4628,6050 3049,7555 4445,5318 3519,5530 4849,5287 4244,4887 4655,5823 3774,6324 3704,6342 3402,6363 3463,7530 4915,4868 5095,5862 4778,5373 4049,7047 4432,4655 3705,4552 4085,5124 3963,5872 3666,7626 3554,6854 3609,5558 3621,6034 3663,6224 4046,5205 4149,5847 3365,7024 3242,3716 3672,6493 3564,7665 3885,4607 5522,3114 3630,7409 4906,6510 6543,4263 4375,3657 3344,7875 3265,7006 3876,5237 3805,7031 4092,6634 4346,6373 3934,6329 4780,5183 3985,7031 3971,4815 3279,6465 4138,4544 4006,3625 4225,5675 3663,7611 4273,3301 5128,4811 4495,4257 4014,3901 3265,4297 6925,3028 3870,4754 5183,4288 3992,4389 4535,6669 3566,7780 4628,4196 3772,7301 3126,7859 3269,7068 4962,4527 3362,7614 4237,5400 3953,5703 4949,3282 3630,6383 3789,3533 4329,4106 2988,7302 3392,6191 4929,3864 3399,7950 4039,4686 3478,7645 3472,3381 3254,7603 4277,4238 3552,4406 4139,5218 4124,5649 5314,4752 3326,4488 4771,4621 5450,3309 3583,6643 4552,3761 3739,5012 3205,6702 3448,4281 3662,5432 3922,5941 3670,4110 4401,6219 3371,6514 4240,3494 4518,5743 3615,6876 4511,4354 5724,3904 4276,4207 4410,4432 3750,7007 4456,4752 4374,4469 2759,7974 4413,4308 3626,6167 3659,3427 4429,6934 4341,5504 4080,4116 3873,5458 4290,3663 4461,5864 4845,4720 4934,6634 4574,4606 4685,6493 3557,6757 5088,3361 4534,4108 3803,5024 4014,7318 3562,7255 4594,5667 4058,6802 4304,5343 3278,6057 3854,4003 4592,5296 3931,7506 3804,3436 4593,5660 4367,4820 4235,3839 4782,5783 3234,5677 4298,6280 3295,5729 5215,5744 4161,7387 4430,5105 4740,4363 4202,4205 3479,4250 4440,3796 3570,5782 4351,6797 4912,5979 4139,5885 3220,6489 4531,5469 4261,5130 4493,4033 4390,6313 5235,4379 4211,6554 4007,4093 3784,7008 5415,2217 3639,5452 3945,5676 4976,4683 3739,6347 4437,6040 3797,5469 3931,5618 3858,4536 4139,6602 4910,5263 3589,6012 4496,5305 2803,5342 3713,6394 4231,5512 4056,6795 3476,7909 5572,4690 3979,3851 4246,4166 3728,7221 4218,5966 3823,5790 3200,6238 2958,7569 3122,5828 5940,4470 3848,6367 3297,6431 4222,5133 3885,4717 4398,6027 4239,5965 4454,3231 4142,3702 3502,4067 3610,5729 4178,7014 3882,6857 3616,5371 3875,2329 4753,3505 4443,3569 4676,4055 4235,4759 3375,4803 3481,3859 3915,6916 4417,5089 3666,5847 4153,5143 3391,4929 4473,5481 3991,5983 3752,4929 3809,6485 3965,4632 4278,3112 5473,3709 4054,6593 4132,4177 4040,4432 4054,7090 4895,5070 4941,3759 4371,5015 3786,6619 4348,5039 4097,4493 3601,5357 3992,3368 4413,3849 5058,5386 4152,6890 3671,5955 3589,3585 3590,3617 3233,6463 3390,5453 3937,4004 1875,7022"/>
<path d="M639.05 145.05L642.72 156.35L654.60 156.35L644.99 163.33L648.66 174.63L639.05 167.65L629.44 174.63L633.11 163.33L623.50 156.35L635.38 156.35Z" fill="#ff0000" stroke="#fff" stroke-width="2.5" stroke-linejoin="miter" stroke-miterlimit="6"/>
<path d="M598.05 228.45L601.72 239.75L613.60 239.75L603.99 246.73L607.66 258.03L598.05 251.05L588.44 258.03L592.11 246.73L582.50 239.75L594.38 239.75Z" fill="#ff0000" stroke="#fff" stroke-width="2.5" stroke-linejoin="miter" stroke-miterlimit="6"/>
<path d="M737.50 229.45L741.17 240.75L753.05 240.75L743.44 247.73L747.11 259.03L737.50 252.05L727.89 259.03L731.56 247.73L721.95 240.75L733.83 240.75Z" fill="#ff0000" stroke="#fff" stroke-width="2.5" stroke-linejoin="miter" stroke-miterlimit="6"/>
<path d="M544.50 316.75L548.17 328.05L560.05 328.05L550.44 335.03L554.11 346.33L544.50 339.35L534.89 346.33L538.56 335.03L528.95 328.05L540.83 328.05Z" fill="#ff0000" stroke="#fff" stroke-width="2.5" stroke-linejoin="miter" stroke-miterlimit="6"/>
<path d="M707.00 322.25L710.67 333.55L722.55 333.55L712.94 340.53L716.61 351.83L707.00 344.85L697.39 351.83L701.06 340.53L691.45 333.55L703.33 333.55Z" fill="#ff0000" stroke="#fff" stroke-width="2.5" stroke-linejoin="miter" stroke-miterlimit="6"/>
<path d="M939.30 55.75L942.97 67.05L954.85 67.05L945.24 74.03L948.91 85.33L939.30 78.35L929.69 85.33L933.36 74.03L923.75 67.05L935.63 67.05Z" fill="#ff0000" stroke="#fff" stroke-width="2.5" stroke-linejoin="miter" stroke-miterlimit="6"/>
<path d="M287.0 499.8L289.0 494.2L290.5 488.1L291.9 481.9L293.0 475.4L294.0 469.0L295.0 462.6L296.0 456.3L297.0 450.1L298.0 443.9L299.0 437.7L300.1 431.4L301.3 425.2L302.6 418.9L304.0 412.7L305.5 406.6L307.2 400.5L309.1 394.4L311.1 388.4L313.3 382.4L315.5 376.5L318.0 370.7L320.6 364.9L323.3 359.1L326.1 353.5L329.1 347.9L332.2 342.4L335.5 336.9L338.8 331.5L342.3 326.2L345.9 321.0L349.7 315.9L353.6 310.8L357.5 305.9L361.6 301.0L365.9 296.3L370.2 291.6L374.4 286.9L378.5 282.1L382.2 277.0L385.7 271.8L389.3 266.6L393.3 261.6L397.9 257.1L403.0 253.2L408.4 250.0L414.1 247.3L420.1 245.3L426.2 243.7L432.4 242.5L438.8 241.6L445.1 240.9L451.4 240.5L457.7 240.5L464.1 241.0L470.5 242.0L476.8 242.0L482.6 240.0L488.4 237.0L494.5 235.0L500.5 235.9L505.9 239.5L510.5 244.0L514.5 248.9L518.1 254.2L521.3 259.6L524.2 265.2L527.0 270.9L529.5 276.8L531.8 282.7L534.2 288.6L536.8 294.4L540.0 299.8L543.8 304.9L547.6 310.0L551.0 315.4L553.6 321.2L555.5 327.3L556.8 333.5L558.3 339.6L560.7 345.4L563.6 351.0L566.5 356.7L568.8 362.7L570.6 368.8L571.8 375.1L572.6 381.4L572.9 387.7L573.0 394.0L573.0 400.3L572.9 406.7L572.7 413.0L572.4 419.3L572.1 425.7L571.5 432.0L570.8 438.3L569.9 444.6L568.9 450.8L567.6 457.1L566.1 463.2L564.4 469.3L562.6 475.4L560.7 481.5L558.9 487.6L557.2 493.7L555.8 499.9L554.8 506.1L554.2 512.4L554.2 518.7L554.4 525.1L554.5 531.4L554.3 537.8L553.7 544.2L552.6 550.5L551.1 556.6L549.3 562.7L547.2 568.6L544.8 574.5L542.4 580.3L539.8 586.1L537.2 592.0L534.8 597.8L532.5 603.7L530.3 609.6L528.1 615.6L525.8 621.5L523.4 627.4L520.8 633.1L518.0 638.8L515.0 644.4L511.9 650.0L508.7 655.4L505.3 660.8L501.9 666.1L498.3 671.4L494.6 676.5L490.7 681.5L486.7 686.4L482.7 691.3L478.5 696.1L474.4 700.9L470.1 705.6L465.9 710.3L461.7 715.1L457.4 719.8L453.1 724.5L448.8 729.1L444.5 733.8L440.1 738.4L435.8 743.0L431.4 747.5L426.9 752.1L422.5 756.6L418.0 761.0L413.4 765.5L408.8 769.9L404.2 774.2L399.6 778.5L394.9 782.7L390.1 786.9L385.3 791.1L380.5 795.2L375.6 799.2L370.7 803.2L365.7 807.1L360.7 811.0L355.6 814.8L350.4 818.5L345.2 822.2L340.0 825.7L334.7 829.2L329.4 832.7L324.0 836.0L318.5 839.3L313.1 842.5L307.5 845.6L301.9 848.6L296.2 851.2L290.3 853.3L284.3 854.7L277.9 855.1L271.5 854.7L264.9 853.8L258.5 852.6L253.5 849.7L251.5 843.8L251.2 837.6L252.1 831.4L253.5 825.2L255.1 818.9L256.5 812.7L257.9 806.5L259.2 800.2L260.5 794.0L261.7 787.7L262.8 781.5L263.8 775.2L264.7 769.0L265.5 762.7L266.3 756.4L266.9 750.1L267.5 743.8L267.9 737.5L268.3 731.2L268.5 724.9L268.7 718.5L268.8 712.2L268.9 705.9L268.9 699.5L268.9 693.2L268.8 686.8L268.7 680.5L268.5 674.1L268.3 667.8L268.2 661.4L268.0 655.1L267.8 648.7L267.6 642.4L267.4 636.0L267.2 629.7L267.1 623.3L267.0 617.0L266.9 610.6L266.9 604.3L267.0 598.0L267.1 591.7L267.3 585.4L267.6 579.1L268.0 572.8L268.6 566.5L269.3 560.2L270.2 554.0L271.3 547.7L272.6 541.5L274.1 535.2L275.9 529.0L277.9 522.8L280.2 516.7L282.5 510.8L284.8 505.1Z" fill="none" stroke="#1f77b4" stroke-width="4.1" stroke-linejoin="round"/>
<path d="M332.0 500.1L333.1 495.8L334.2 491.5L335.5 487.2L336.8 483.0L338.3 478.7L339.7 474.5L341.2 470.3L342.8 466.0L344.3 461.8L345.9 457.6L347.5 453.5L349.0 449.3L350.6 445.1L352.1 440.9L353.6 436.7L355.1 432.5L356.6 428.4L358.2 424.2L359.8 420.1L361.4 415.9L363.1 411.8L364.8 407.6L366.6 403.5L368.4 399.4L370.2 395.4L372.1 391.3L374.1 387.3L376.0 383.3L378.1 379.3L380.1 375.4L382.2 371.4L384.4 367.6L386.6 363.8L389.0 360.0L391.6 356.4L394.4 352.8L397.4 349.4L400.7 346.3L404.3 343.5L408.0 341.2L412.0 339.4L416.3 338.3L420.8 337.8L425.3 337.9L429.8 338.3L434.2 338.7L438.6 338.8L443.0 338.4L447.4 338.1L451.9 338.5L456.4 339.5L460.6 341.2L464.5 343.4L468.0 346.0L471.1 349.1L473.9 352.5L476.5 356.2L478.8 360.1L480.9 364.1L482.8 368.1L484.5 372.3L486.1 376.5L487.6 380.7L489.0 384.9L490.4 389.1L491.6 393.4L492.8 397.7L493.9 402.0L495.0 406.3L496.1 410.6L497.1 415.0L498.0 419.3L499.0 423.7L499.9 428.1L500.8 432.5L501.6 436.9L502.3 441.3L503.0 445.7L503.5 450.1L504.0 454.6L504.4 459.0L504.6 463.4L504.7 467.9L504.7 472.3L504.5 476.8L504.2 481.2L503.8 485.7L503.3 490.1L502.7 494.6L502.0 499.0L501.3 503.4L500.6 507.8L499.7 512.2L498.9 516.6L498.0 520.9L497.0 525.3L496.0 529.6L495.0 534.0L493.9 538.3L492.8 542.6L491.7 547.0L490.6 551.3L489.4 555.6L488.3 559.9L487.1 564.2L485.9 568.5L484.7 572.8L483.5 577.1L482.3 581.3L481.1 585.6L479.9 589.9L478.7 594.2L477.6 598.5L476.4 602.8L475.2 607.1L474.1 611.4L472.9 615.8L471.8 620.1L470.7 624.4L469.6 628.8L468.5 633.1L467.4 637.4L466.2 641.8L465.0 646.1L463.7 650.3L462.4 654.6L460.9 658.7L459.3 662.9L457.6 667.0L455.8 671.0L453.8 674.9L451.6 678.8L449.4 682.6L447.0 686.4L444.5 690.1L442.0 693.8L439.3 697.4L436.6 701.1L433.9 704.6L431.1 708.2L428.3 711.8L425.5 715.3L422.7 718.8L420.0 722.3L417.2 725.9L414.5 729.4L411.7 732.9L408.9 736.3L406.1 739.7L403.2 743.1L400.3 746.5L397.3 749.7L394.3 753.0L391.2 756.1L388.1 759.3L384.9 762.3L381.6 765.3L378.2 768.2L374.8 771.1L371.4 773.9L367.8 776.6L364.2 779.3L360.5 781.9L356.8 784.4L353.0 786.9L349.1 789.2L345.1 791.5L341.1 793.7L336.9 795.6L332.8 796.9L328.6 797.6L324.3 797.2L320.1 795.7L316.5 793.0L314.4 789.2L313.4 784.7L313.1 780.1L313.2 775.6L313.6 771.2L314.2 766.7L314.9 762.3L315.5 757.9L316.2 753.5L316.9 749.1L317.4 744.7L317.9 740.3L318.3 735.8L318.6 731.4L318.9 726.9L319.1 722.5L319.2 718.0L319.3 713.6L319.4 709.1L319.4 704.6L319.5 700.2L319.5 695.7L319.5 691.2L319.5 686.7L319.6 682.3L319.7 677.8L319.8 673.3L319.9 668.9L320.1 664.4L320.2 660.0L320.4 655.5L320.7 651.1L320.9 646.6L321.2 642.2L321.5 637.7L321.7 633.3L322.0 628.9L322.3 624.4L322.6 620.0L322.9 615.5L323.2 611.1L323.5 606.6L323.8 602.2L324.1 597.7L324.3 593.3L324.5 588.8L324.8 584.3L325.0 579.9L325.1 575.4L325.3 570.9L325.5 566.5L325.6 562.0L325.8 557.5L325.9 553.0L326.1 548.6L326.4 544.1L326.6 539.7L326.9 535.2L327.3 530.8L327.7 526.3L328.2 521.9L328.8 517.5L329.4 513.2L330.2 508.8L331.0 504.4Z" fill="none" stroke="#1f77b4" stroke-width="4.1" stroke-linejoin="round"/>
<path d="M357.6 500.1L358.3 496.6L359.1 493.2L359.9 489.8L360.8 486.4L361.8 483.1L362.8 479.7L363.8 476.4L365.0 473.1L366.1 469.8L367.3 466.5L368.6 463.2L369.8 459.9L371.2 456.6L372.5 453.4L373.8 450.1L375.2 446.9L376.6 443.6L378.0 440.4L379.4 437.2L380.9 434.0L382.3 430.8L383.8 427.6L385.2 424.4L386.8 421.2L388.3 418.1L390.0 415.0L391.6 412.0L393.4 408.9L395.2 406.0L397.1 403.0L399.2 400.2L401.3 397.4L403.5 394.6L405.9 392.0L408.4 389.5L411.1 387.2L414.0 385.2L417.1 383.5L420.4 382.1L423.9 381.1L427.4 380.5L430.9 380.5L434.3 381.0L437.5 382.1L440.6 383.8L443.4 385.9L445.9 388.5L448.0 391.3L449.9 394.3L451.5 397.5L453.0 400.7L454.5 403.9L455.9 407.1L457.5 410.2L459.1 413.3L460.8 416.3L462.6 419.3L464.4 422.4L466.3 425.4L468.1 428.4L469.8 431.5L471.4 434.7L472.8 437.8L474.0 441.1L474.9 444.5L475.6 447.9L476.0 451.4L476.4 454.9L476.6 458.4L476.7 461.9L476.8 465.5L476.9 469.0L476.9 472.5L476.8 476.0L476.8 479.5L476.7 483.1L476.5 486.6L476.3 490.1L476.1 493.6L475.9 497.1L475.6 500.5L475.2 504.0L474.9 507.5L474.5 511.0L474.0 514.5L473.6 518.0L473.1 521.4L472.5 524.9L471.9 528.3L471.3 531.8L470.7 535.2L470.0 538.7L469.2 542.1L468.4 545.5L467.6 548.9L466.8 552.3L465.8 555.7L464.9 559.1L463.9 562.5L462.8 565.8L461.7 569.2L460.6 572.5L459.4 575.8L458.2 579.1L457.0 582.4L455.8 585.7L454.6 589.0L453.5 592.3L452.4 595.6L451.3 599.0L450.3 602.3L449.3 605.7L448.4 609.1L447.4 612.5L446.5 615.9L445.6 619.3L444.7 622.6L443.8 626.0L442.9 629.4L442.0 632.8L441.1 636.2L440.1 639.6L439.1 642.9L438.1 646.3L437.0 649.6L435.9 653.0L434.7 656.3L433.5 659.6L432.2 662.8L430.8 666.0L429.3 669.2L427.8 672.4L426.1 675.5L424.3 678.5L422.5 681.5L420.5 684.4L418.5 687.2L416.4 690.1L414.2 692.9L412.1 695.7L409.9 698.4L407.7 701.2L405.5 703.9L403.4 706.7L401.3 709.4L399.2 712.2L397.1 715.0L395.0 717.8L393.0 720.6L391.0 723.5L389.0 726.5L387.0 729.4L385.0 732.4L383.0 735.3L381.0 738.3L378.9 741.1L376.7 743.8L374.3 746.5L371.8 748.9L369.2 751.2L366.3 753.3L363.2 755.1L359.9 756.6L356.5 757.5L353.4 757.2L350.7 755.6L348.7 752.9L347.5 749.5L347.0 745.8L347.0 742.1L347.4 738.5L348.0 735.0L348.8 731.5L349.7 728.1L350.6 724.7L351.4 721.2L352.1 717.8L352.6 714.4L353.0 710.9L353.4 707.5L353.7 704.0L353.9 700.6L354.1 697.1L354.3 693.6L354.5 690.1L354.8 686.6L355.0 683.1L355.3 679.6L355.7 676.0L356.1 672.5L356.5 668.9L356.9 665.3L357.3 661.8L357.5 658.3L357.7 654.7L357.8 651.2L357.7 647.8L357.4 644.3L357.0 640.9L356.3 637.6L355.3 634.3L354.1 631.0L352.6 627.8L351.0 624.6L349.4 621.4L348.1 618.1L347.1 614.8L346.4 611.4L345.9 607.9L345.5 604.4L345.3 600.9L345.1 597.4L345.1 593.9L345.2 590.4L345.3 586.9L345.6 583.4L345.9 579.9L346.3 576.4L346.7 572.9L347.2 569.4L347.7 566.0L348.2 562.5L348.8 559.0L349.3 555.5L349.9 552.1L350.5 548.6L351.0 545.1L351.6 541.7L352.1 538.2L352.6 534.8L353.1 531.3L353.6 527.9L354.1 524.4L354.5 520.9L355.0 517.4L355.4 513.9L355.9 510.4L356.4 507.0L357.0 503.5Z" fill="none" stroke="#1f77b4" stroke-width="4.1" stroke-linejoin="round"/>
<path d="M381.4 500.1L381.9 498.0L382.4 495.8L383.0 493.7L383.5 491.6L384.0 489.5L384.6 487.4L385.1 485.3L385.7 483.1L386.2 481.0L386.8 478.9L387.4 476.8L388.0 474.7L388.6 472.6L389.3 470.6L389.9 468.5L390.6 466.4L391.3 464.4L392.0 462.4L392.8 460.4L393.6 458.4L394.4 456.4L395.2 454.4L396.0 452.4L396.9 450.4L397.8 448.4L398.7 446.5L399.6 444.5L400.5 442.6L401.5 440.6L402.5 438.7L403.5 436.7L404.5 434.8L405.6 432.8L406.6 430.9L407.7 429.0L408.9 427.1L410.2 425.3L411.7 423.7L413.3 422.2L415.2 420.9L417.2 419.8L419.3 419.0L421.5 418.5L423.6 418.4L425.5 418.8L427.3 419.5L429.0 420.6L430.5 421.9L431.9 423.5L433.3 425.2L434.6 427.1L435.9 429.0L437.2 430.9L438.4 432.8L439.7 434.7L441.0 436.5L442.3 438.3L443.5 440.1L444.8 442.0L446.0 443.8L447.2 445.6L448.3 447.4L449.4 449.2L450.5 451.1L451.5 452.9L452.5 454.8L453.4 456.7L454.3 458.7L455.0 460.6L455.8 462.7L456.4 464.7L457.0 466.8L457.6 468.9L458.1 471.0L458.5 473.1L458.8 475.3L459.1 477.5L459.4 479.6L459.6 481.8L459.7 484.0L459.8 486.2L459.8 488.4L459.8 490.6L459.7 492.8L459.6 495.0L459.5 497.1L459.3 499.3L459.0 501.5L458.8 503.6L458.5 505.7L458.1 507.9L457.8 510.0L457.4 512.1L457.1 514.3L456.7 516.4L456.4 518.5L456.0 520.7L455.7 522.8L455.3 525.0L455.0 527.1L454.7 529.3L454.3 531.5L453.9 533.6L453.6 535.8L453.2 537.9L452.7 540.0L452.3 542.1L451.8 544.2L451.2 546.3L450.7 548.4L450.1 550.5L449.5 552.6L448.8 554.6L448.1 556.7L447.5 558.7L446.8 560.8L446.1 562.8L445.3 564.8L444.6 566.9L443.9 568.9L443.2 571.0L442.5 573.0L441.7 575.1L441.0 577.1L440.2 579.2L439.5 581.2L438.7 583.3L438.0 585.3L437.2 587.4L436.4 589.4L435.6 591.4L434.8 593.5L433.9 595.5L433.1 597.5L432.3 599.5L431.4 601.5L430.5 603.5L429.6 605.4L428.7 607.4L427.8 609.4L426.8 611.3L425.8 613.2L424.9 615.2L423.8 617.1L422.8 619.0L421.8 620.8L420.7 622.7L419.6 624.5L418.4 626.4L417.3 628.2L416.1 630.0L414.9 631.7L413.7 633.5L412.4 635.2L411.1 636.9L409.8 638.6L408.4 640.3L406.9 641.9L405.3 643.5L403.6 645.0L401.8 646.5L399.9 648.0L397.9 649.2L395.8 650.2L393.7 650.9L391.7 651.0L389.9 650.7L388.2 649.9L386.7 648.6L385.6 646.8L384.6 644.9L383.8 642.8L383.2 640.6L382.6 638.5L382.1 636.3L381.8 634.2L381.4 632.0L381.2 629.8L380.9 627.7L380.7 625.5L380.5 623.3L380.2 621.2L380.0 619.0L379.7 616.9L379.3 614.8L378.8 612.7L378.3 610.6L377.6 608.5L376.8 606.5L376.0 604.5L375.1 602.5L374.2 600.5L373.2 598.5L372.2 596.5L371.2 594.5L370.2 592.5L369.3 590.5L368.4 588.5L367.6 586.5L366.9 584.5L366.3 582.4L365.8 580.4L365.4 578.3L365.1 576.2L365.0 574.1L364.9 572.0L365.0 569.9L365.1 567.7L365.3 565.6L365.6 563.4L365.9 561.2L366.3 559.1L366.8 556.9L367.2 554.7L367.7 552.6L368.3 550.4L368.8 548.3L369.4 546.1L369.9 544.0L370.5 541.8L371.0 539.7L371.6 537.6L372.1 535.5L372.7 533.4L373.2 531.3L373.8 529.2L374.3 527.1L374.9 525.1L375.4 523.0L376.0 520.9L376.5 518.8L377.1 516.8L377.6 514.7L378.2 512.6L378.7 510.5L379.3 508.4L379.8 506.3L380.3 504.3L380.9 502.2Z" fill="none" stroke="#1f77b4" stroke-width="4.1" stroke-linejoin="round"/>
</g>
<path d="M151.60 905.50v-10.0M151.60 1.10v10.0M196.25 905.50v-20.0M196.25 1.10v20.0M240.91 905.50v-10.0M240.91 1.10v10.0M285.56 905.50v-10.0M285.56 1.10v10.0M330.21 905.50v-10.0M330.21 1.10v10.0M374.86 905.50v-20.0M374.86 1.10v20.0M419.52 905.50v-10.0M419.52 1.10v10.0M464.17 905.50v-10.0M464.17 1.10v10.0M508.82 905.50v-10.0M508.82 1.10v10.0M553.48 905.50v-20.0M553.48 1.10v20.0M598.13 905.50v-10.0M598.13 1.10v10.0M642.78 905.50v-10.0M642.78 1.10v10.0M687.43 905.50v-10.0M687.43 1.10v10.0M732.09 905.50v-20.0M732.09 1.10v20.0M776.74 905.50v-10.0M776.74 1.10v10.0M821.39 905.50v-10.0M821.39 1.10v10.0M866.04 905.50v-10.0M866.04 1.10v10.0M910.70 905.50v-20.0M910.70 1.10v20.0M955.35 905.50v-10.0M955.35 1.10v10.0M106.95 892.94h10.0M1000.00 892.94h-10.0M106.95 830.13h20.0M1000.00 830.13h-20.0M106.95 767.33h10.0M1000.00 767.33h-10.0M106.95 704.52h10.0M1000.00 704.52h-10.0M106.95 641.72h10.0M1000.00 641.72h-10.0M106.95 578.91h20.0M1000.00 578.91h-20.0M106.95 516.11h10.0M1000.00 516.11h-10.0M106.95 453.30h10.0M1000.00 453.30h-10.0M106.95 390.49h10.0M1000.00 390.49h-10.0M106.95 327.69h20.0M1000.00 327.69h-20.0M106.95 264.88h10.0M1000.00 264.88h-10.0M106.95 202.08h10.0M1000.00 202.08h-10.0M106.95 139.27h10.0M1000.00 139.27h-10.0M106.95 76.47h20.0M1000.00 76.47h-20.0M106.95 13.66h10.0M1000.00 13.66h-10.0" stroke="#000" stroke-width="3.47" fill="none"/>
<rect x="106.95" y="1.10" width="893.05" height="904.40" fill="none" stroke="#000" stroke-width="3.47"/>
<g font-family="'DejaVu Sans','Liberation Sans',sans-serif" font-size="37.50" fill="#000">
<text x="196.3" y="942.5" text-anchor="middle">44</text>
<text x="374.9" y="942.5" text-anchor="middle">45</text>
<text x="553.5" y="942.5" text-anchor="middle">46</text>
<text x="732.1" y="942.5" text-anchor="middle">47</text>
<text x="910.7" y="942.5" text-anchor="middle">48</text>
<text x="98.3" y="844.7" text-anchor="end">7</text>
<text x="98.3" y="593.5" text-anchor="end">8</text>
<text x="98.3" y="342.3" text-anchor="end">9</text>
<text x="98.3" y="91.1" text-anchor="end">10</text>
<text x="486.7" y="987.7">LogL</text>
<text x="576" y="994.2" font-size="26.25">Bol</text>
<g transform="translate(28.6 577.7) rotate(-90)">
<text x="0" y="0">LogM</text>
<text x="102.1" y="6.4" font-size="26.25">BH</text>
<text x="151.4" y="0" font-size="42">(</text>
<text x="165.9" y="0">M</text>
<text x="204.7" y="6.4" font-size="26.25">⊙</text>
<text x="231.6" y="0" font-size="42">)</text>
</g>
</g>
</svg>
</body></html>
